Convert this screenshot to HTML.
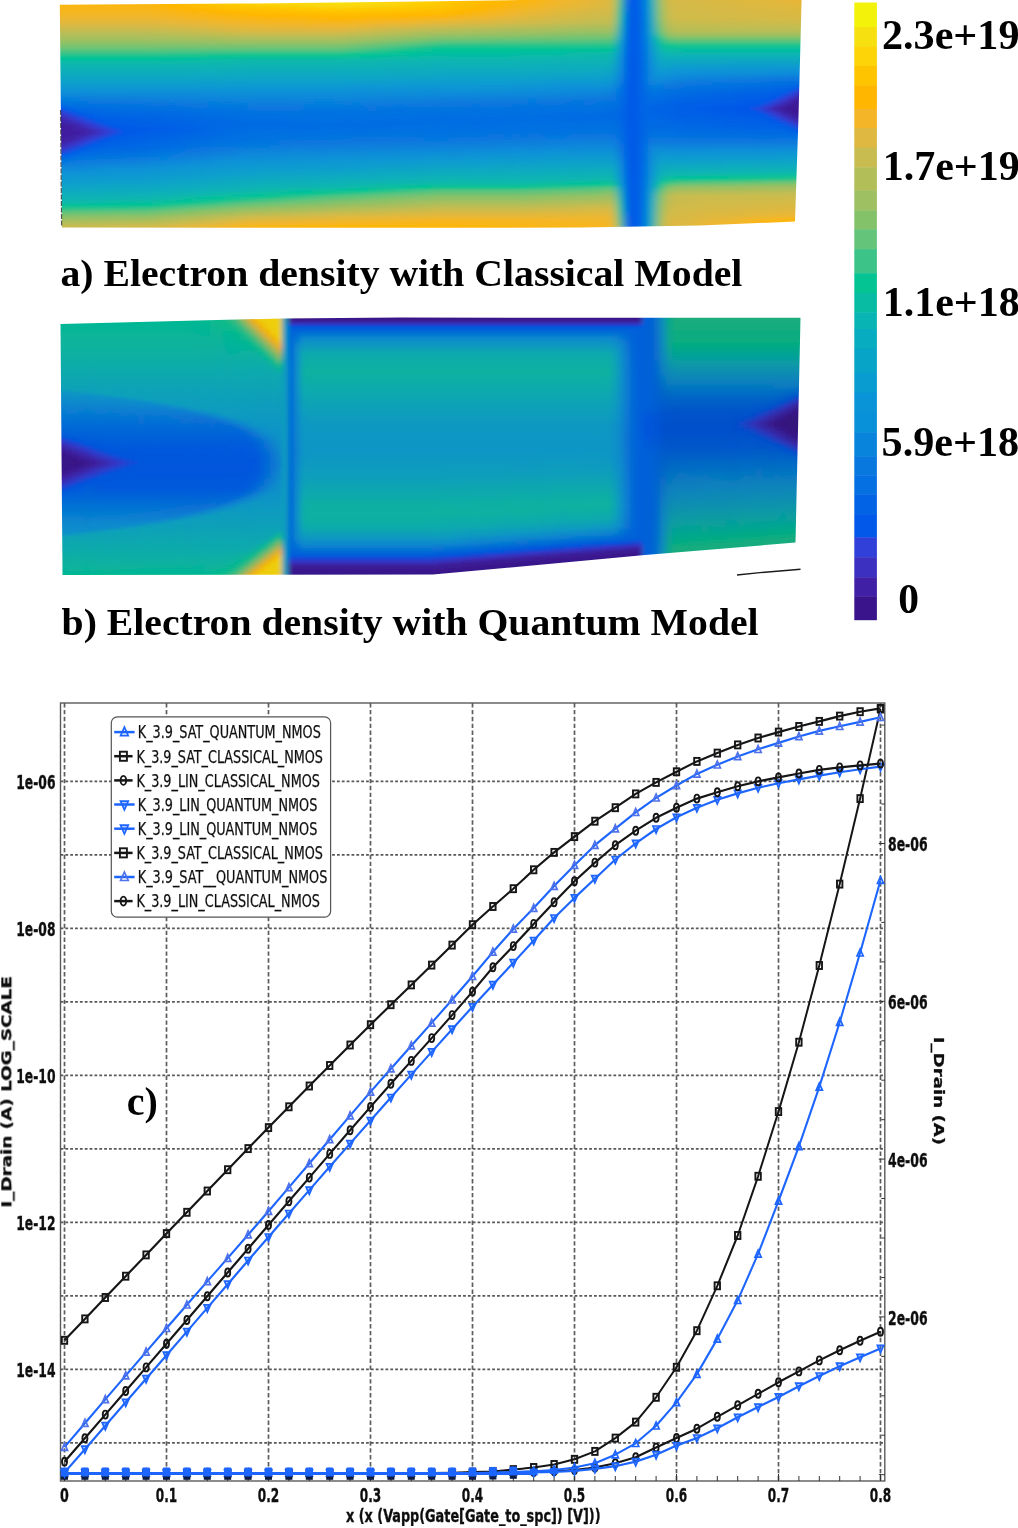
<!DOCTYPE html>
<html lang="en"><head><meta charset="utf-8"><title>Electron density and I-V characteristics</title>
<style>html,body{margin:0;padding:0;background:#fff}svg{display:block}</style></head>
<body>
<svg width="1018" height="1528" viewBox="0 0 1018 1528">
<defs><linearGradient id="a0" x2="0" y2="1"><stop offset="0" stop-color="#fcb60c"/><stop offset=".026" stop-color="#fcb60c"/><stop offset=".077" stop-color="#f1b62b"/><stop offset=".115" stop-color="#dcb842"/><stop offset=".141" stop-color="#c3bc52"/><stop offset=".179" stop-color="#a0c061"/><stop offset=".205" stop-color="#7cc36e"/><stop offset=".218" stop-color="#66c479"/><stop offset=".231" stop-color="#4ac483"/><stop offset=".256" stop-color="#05c397"/><stop offset=".282" stop-color="#08b7ae"/><stop offset=".359" stop-color="#08a1cb"/><stop offset=".397" stop-color="#0892d7"/><stop offset=".423" stop-color="#0882dc"/><stop offset=".462" stop-color="#0259e8"/><stop offset=".474" stop-color="#303fd7"/><stop offset=".487" stop-color="#3c30c1"/><stop offset=".5" stop-color="#3f26ae"/><stop offset=".513" stop-color="#4020a3"/><stop offset=".59" stop-color="#3f1ea0"/><stop offset=".628" stop-color="#3f1fa1"/><stop offset=".641" stop-color="#3f23aa"/><stop offset=".654" stop-color="#3d2cba"/><stop offset=".667" stop-color="#343acf"/><stop offset=".679" stop-color="#0d52e4"/><stop offset=".692" stop-color="#0264e4"/><stop offset=".731" stop-color="#088ada"/><stop offset=".756" stop-color="#0893d6"/><stop offset=".821" stop-color="#08a8c4"/><stop offset=".872" stop-color="#08b8ac"/><stop offset=".885" stop-color="#06c09c"/><stop offset=".897" stop-color="#20c48e"/><stop offset=".91" stop-color="#50c481"/><stop offset=".923" stop-color="#71c374"/><stop offset=".936" stop-color="#8cc168"/><stop offset=".949" stop-color="#a1c060"/><stop offset=".974" stop-color="#c3bc52"/><stop offset=".987" stop-color="#cfbb4b"/><stop offset="1" stop-color="#cfbb4b"/></linearGradient>
<linearGradient id="a1" x2="0" y2="1"><stop offset="0" stop-color="#fcb60c"/><stop offset=".026" stop-color="#fcb60c"/><stop offset=".077" stop-color="#f1b62b"/><stop offset=".115" stop-color="#dcb842"/><stop offset=".141" stop-color="#c3bc52"/><stop offset=".179" stop-color="#a0c061"/><stop offset=".205" stop-color="#7cc36e"/><stop offset=".218" stop-color="#66c479"/><stop offset=".231" stop-color="#4ac483"/><stop offset=".256" stop-color="#05c397"/><stop offset=".282" stop-color="#08b7ae"/><stop offset=".359" stop-color="#08a1cb"/><stop offset=".397" stop-color="#0892d7"/><stop offset=".449" stop-color="#0571e1"/><stop offset=".462" stop-color="#0265e4"/><stop offset=".474" stop-color="#0557e7"/><stop offset=".487" stop-color="#313ed5"/><stop offset=".5" stop-color="#3c31c1"/><stop offset=".513" stop-color="#3e27b0"/><stop offset=".526" stop-color="#4020a5"/><stop offset=".551" stop-color="#3f1ea0"/><stop offset=".615" stop-color="#401fa2"/><stop offset=".641" stop-color="#3d2dbb"/><stop offset=".654" stop-color="#3539ce"/><stop offset=".667" stop-color="#144fe2"/><stop offset=".679" stop-color="#0261e5"/><stop offset=".692" stop-color="#046fe2"/><stop offset=".718" stop-color="#0881dc"/><stop offset=".744" stop-color="#0891d8"/><stop offset=".795" stop-color="#08a0cc"/><stop offset=".859" stop-color="#08b4b4"/><stop offset=".872" stop-color="#08b8ac"/><stop offset=".885" stop-color="#06c09c"/><stop offset=".897" stop-color="#20c48e"/><stop offset=".91" stop-color="#50c481"/><stop offset=".923" stop-color="#71c374"/><stop offset=".936" stop-color="#8cc168"/><stop offset=".949" stop-color="#a1c060"/><stop offset=".974" stop-color="#c3bc52"/><stop offset=".987" stop-color="#cfbb4b"/><stop offset="1" stop-color="#cfbb4b"/></linearGradient>
<linearGradient id="a2" x2="0" y2="1"><stop offset="0" stop-color="#fcb60c"/><stop offset=".026" stop-color="#fcb60c"/><stop offset=".077" stop-color="#f1b62b"/><stop offset=".115" stop-color="#dcb842"/><stop offset=".141" stop-color="#c3bc52"/><stop offset=".179" stop-color="#a0c061"/><stop offset=".205" stop-color="#7cc36e"/><stop offset=".218" stop-color="#66c479"/><stop offset=".231" stop-color="#4ac483"/><stop offset=".256" stop-color="#05c397"/><stop offset=".282" stop-color="#08b7ae"/><stop offset=".359" stop-color="#08a1cb"/><stop offset=".397" stop-color="#0892d7"/><stop offset=".462" stop-color="#046ee2"/><stop offset=".474" stop-color="#0262e5"/><stop offset=".487" stop-color="#0c53e5"/><stop offset=".5" stop-color="#323ed4"/><stop offset=".513" stop-color="#3b32c3"/><stop offset=".538" stop-color="#4021a6"/><stop offset=".551" stop-color="#3f1ea0"/><stop offset=".603" stop-color="#4020a3"/><stop offset=".615" stop-color="#3f25ad"/><stop offset=".641" stop-color="#353acf"/><stop offset=".654" stop-color="#1a4ce0"/><stop offset=".667" stop-color="#025fe6"/><stop offset=".692" stop-color="#0674e0"/><stop offset=".744" stop-color="#0891d8"/><stop offset=".808" stop-color="#08a4c8"/><stop offset=".859" stop-color="#08b4b3"/><stop offset=".872" stop-color="#08b8ab"/><stop offset=".885" stop-color="#06c09b"/><stop offset=".897" stop-color="#22c48e"/><stop offset=".91" stop-color="#51c481"/><stop offset=".923" stop-color="#72c373"/><stop offset=".949" stop-color="#a2c060"/><stop offset=".974" stop-color="#c4bc51"/><stop offset=".987" stop-color="#d0bb4a"/><stop offset="1" stop-color="#d0bb4a"/></linearGradient>
<linearGradient id="a3" x2="0" y2="1"><stop offset="0" stop-color="#fcb60c"/><stop offset=".026" stop-color="#fcb60c"/><stop offset=".077" stop-color="#f1b62b"/><stop offset=".115" stop-color="#dcb842"/><stop offset=".141" stop-color="#c3bc52"/><stop offset=".179" stop-color="#a0c061"/><stop offset=".205" stop-color="#7cc36e"/><stop offset=".218" stop-color="#66c479"/><stop offset=".231" stop-color="#4ac483"/><stop offset=".256" stop-color="#05c397"/><stop offset=".282" stop-color="#08b7ae"/><stop offset=".359" stop-color="#08a1cb"/><stop offset=".397" stop-color="#0892d7"/><stop offset=".449" stop-color="#0675e0"/><stop offset=".474" stop-color="#036ae3"/><stop offset=".487" stop-color="#025fe6"/><stop offset=".5" stop-color="#1150e3"/><stop offset=".513" stop-color="#313fd6"/><stop offset=".538" stop-color="#3e29b4"/><stop offset=".551" stop-color="#4022a7"/><stop offset=".577" stop-color="#3f1ea0"/><stop offset=".59" stop-color="#4020a5"/><stop offset=".603" stop-color="#3e26af"/><stop offset=".615" stop-color="#3c30bf"/><stop offset=".628" stop-color="#343bd0"/><stop offset=".641" stop-color="#1a4bdf"/><stop offset=".654" stop-color="#025ce7"/><stop offset=".679" stop-color="#0571e1"/><stop offset=".705" stop-color="#087bdd"/><stop offset=".744" stop-color="#0891d7"/><stop offset=".795" stop-color="#08a0cc"/><stop offset=".859" stop-color="#08b5b3"/><stop offset=".872" stop-color="#08b9aa"/><stop offset=".885" stop-color="#06c19b"/><stop offset=".897" stop-color="#24c48d"/><stop offset=".91" stop-color="#52c480"/><stop offset=".923" stop-color="#73c373"/><stop offset=".949" stop-color="#a3c060"/><stop offset=".974" stop-color="#c5bc51"/><stop offset=".987" stop-color="#d1ba49"/><stop offset="1" stop-color="#d1ba49"/></linearGradient>
<linearGradient id="a4" x2="0" y2="1"><stop offset="0" stop-color="#fcb60c"/><stop offset=".026" stop-color="#fcb60c"/><stop offset=".077" stop-color="#f1b62b"/><stop offset=".115" stop-color="#dcb842"/><stop offset=".141" stop-color="#c3bc52"/><stop offset=".179" stop-color="#a0c061"/><stop offset=".205" stop-color="#7cc36e"/><stop offset=".218" stop-color="#66c479"/><stop offset=".231" stop-color="#4ac483"/><stop offset=".256" stop-color="#05c397"/><stop offset=".282" stop-color="#08b7ae"/><stop offset=".359" stop-color="#08a1cb"/><stop offset=".397" stop-color="#0892d7"/><stop offset=".449" stop-color="#0675e0"/><stop offset=".487" stop-color="#0265e4"/><stop offset=".5" stop-color="#025ce7"/><stop offset=".513" stop-color="#1051e3"/><stop offset=".526" stop-color="#313fd7"/><stop offset=".551" stop-color="#3d2ab6"/><stop offset=".564" stop-color="#3f23a9"/><stop offset=".577" stop-color="#4021a6"/><stop offset=".59" stop-color="#3e28b1"/><stop offset=".615" stop-color="#333cd2"/><stop offset=".628" stop-color="#1a4ce0"/><stop offset=".641" stop-color="#025be7"/><stop offset=".667" stop-color="#036de3"/><stop offset=".705" stop-color="#087ddd"/><stop offset=".744" stop-color="#0892d7"/><stop offset=".795" stop-color="#08a1cb"/><stop offset=".859" stop-color="#08b5b2"/><stop offset=".872" stop-color="#08b9a9"/><stop offset=".885" stop-color="#05c19a"/><stop offset=".897" stop-color="#26c48d"/><stop offset=".91" stop-color="#53c480"/><stop offset=".936" stop-color="#8ec167"/><stop offset=".974" stop-color="#c6bc51"/><stop offset=".987" stop-color="#d2ba49"/><stop offset="1" stop-color="#d2ba49"/></linearGradient>
<linearGradient id="a5" x2="0" y2="1"><stop offset="0" stop-color="#fcb60c"/><stop offset=".026" stop-color="#fcb60c"/><stop offset=".077" stop-color="#f1b62b"/><stop offset=".115" stop-color="#dcb842"/><stop offset=".141" stop-color="#c3bc52"/><stop offset=".179" stop-color="#a0c061"/><stop offset=".205" stop-color="#7cc36e"/><stop offset=".218" stop-color="#66c479"/><stop offset=".231" stop-color="#4ac483"/><stop offset=".256" stop-color="#05c397"/><stop offset=".282" stop-color="#08b7ae"/><stop offset=".359" stop-color="#08a1cb"/><stop offset=".397" stop-color="#0892d7"/><stop offset=".449" stop-color="#0775df"/><stop offset=".513" stop-color="#025ce7"/><stop offset=".526" stop-color="#1051e3"/><stop offset=".538" stop-color="#3040d8"/><stop offset=".564" stop-color="#3d2bb7"/><stop offset=".577" stop-color="#3e29b3"/><stop offset=".59" stop-color="#3b32c3"/><stop offset=".603" stop-color="#323dd3"/><stop offset=".615" stop-color="#184de0"/><stop offset=".628" stop-color="#025ae7"/><stop offset=".718" stop-color="#0886db"/><stop offset=".744" stop-color="#0892d7"/><stop offset=".808" stop-color="#08a5c7"/><stop offset=".859" stop-color="#08b5b2"/><stop offset=".872" stop-color="#08baa9"/><stop offset=".885" stop-color="#05c199"/><stop offset=".897" stop-color="#28c48c"/><stop offset=".91" stop-color="#54c480"/><stop offset=".936" stop-color="#8fc167"/><stop offset=".974" stop-color="#c7bc50"/><stop offset=".987" stop-color="#d3ba48"/><stop offset="1" stop-color="#d3ba48"/></linearGradient>
<linearGradient id="a6" x2="0" y2="1"><stop offset="0" stop-color="#fcb60c"/><stop offset=".026" stop-color="#fcb60c"/><stop offset=".077" stop-color="#f1b62b"/><stop offset=".115" stop-color="#dcb842"/><stop offset=".141" stop-color="#c3bc52"/><stop offset=".179" stop-color="#a0c061"/><stop offset=".205" stop-color="#7cc36e"/><stop offset=".218" stop-color="#66c479"/><stop offset=".231" stop-color="#4ac483"/><stop offset=".256" stop-color="#05c397"/><stop offset=".282" stop-color="#08b7ae"/><stop offset=".359" stop-color="#08a1cb"/><stop offset=".397" stop-color="#0892d7"/><stop offset=".449" stop-color="#0775df"/><stop offset=".526" stop-color="#025be7"/><stop offset=".538" stop-color="#1051e3"/><stop offset=".551" stop-color="#2f41d8"/><stop offset=".564" stop-color="#3836c8"/><stop offset=".577" stop-color="#3a33c4"/><stop offset=".59" stop-color="#323ed4"/><stop offset=".603" stop-color="#174de1"/><stop offset=".615" stop-color="#025ae7"/><stop offset=".705" stop-color="#087fdd"/><stop offset=".731" stop-color="#088fd8"/><stop offset=".795" stop-color="#08a1cb"/><stop offset=".846" stop-color="#08b1b8"/><stop offset=".872" stop-color="#08baa8"/><stop offset=".885" stop-color="#05c298"/><stop offset=".897" stop-color="#2ac48c"/><stop offset=".91" stop-color="#55c47f"/><stop offset=".923" stop-color="#75c371"/><stop offset=".949" stop-color="#a4bf5f"/><stop offset=".974" stop-color="#c8bc50"/><stop offset=".987" stop-color="#d4ba47"/><stop offset="1" stop-color="#d4ba47"/></linearGradient>
<linearGradient id="a7" x2="0" y2="1"><stop offset="0" stop-color="#fcb60c"/><stop offset=".026" stop-color="#fcb60c"/><stop offset=".077" stop-color="#f1b62b"/><stop offset=".115" stop-color="#dcb842"/><stop offset=".141" stop-color="#c3bc52"/><stop offset=".179" stop-color="#a0c061"/><stop offset=".205" stop-color="#7cc36e"/><stop offset=".218" stop-color="#66c479"/><stop offset=".231" stop-color="#4ac483"/><stop offset=".256" stop-color="#05c397"/><stop offset=".282" stop-color="#08b7ae"/><stop offset=".359" stop-color="#08a1cb"/><stop offset=".397" stop-color="#0892d7"/><stop offset=".449" stop-color="#0776df"/><stop offset=".513" stop-color="#0261e5"/><stop offset=".538" stop-color="#025be7"/><stop offset=".551" stop-color="#1150e3"/><stop offset=".564" stop-color="#2e41d9"/><stop offset=".577" stop-color="#313ed6"/><stop offset=".59" stop-color="#164ee1"/><stop offset=".603" stop-color="#025ae7"/><stop offset=".679" stop-color="#0674e0"/><stop offset=".731" stop-color="#0890d8"/><stop offset=".782" stop-color="#089ece"/><stop offset=".859" stop-color="#08b6b1"/><stop offset=".872" stop-color="#08bba7"/><stop offset=".885" stop-color="#05c298"/><stop offset=".91" stop-color="#56c47f"/><stop offset=".923" stop-color="#76c371"/><stop offset=".949" stop-color="#a5bf5f"/><stop offset=".974" stop-color="#c9bc4f"/><stop offset=".987" stop-color="#d6ba46"/><stop offset="1" stop-color="#d6ba46"/></linearGradient>
<linearGradient id="a8" x2="0" y2="1"><stop offset="0" stop-color="#fcb60c"/><stop offset=".026" stop-color="#fcb60c"/><stop offset=".077" stop-color="#f1b62b"/><stop offset=".115" stop-color="#dcb842"/><stop offset=".141" stop-color="#c3bc52"/><stop offset=".179" stop-color="#a0c061"/><stop offset=".205" stop-color="#7cc36e"/><stop offset=".218" stop-color="#66c479"/><stop offset=".231" stop-color="#4ac483"/><stop offset=".256" stop-color="#05c397"/><stop offset=".282" stop-color="#08b7ae"/><stop offset=".359" stop-color="#08a1cb"/><stop offset=".397" stop-color="#0892d7"/><stop offset=".449" stop-color="#0776df"/><stop offset=".513" stop-color="#0262e5"/><stop offset=".551" stop-color="#025ae7"/><stop offset=".564" stop-color="#1250e2"/><stop offset=".577" stop-color="#164ee1"/><stop offset=".59" stop-color="#025ae7"/><stop offset=".654" stop-color="#036be3"/><stop offset=".705" stop-color="#0881dc"/><stop offset=".731" stop-color="#0890d8"/><stop offset=".782" stop-color="#089ece"/><stop offset=".859" stop-color="#08b6b1"/><stop offset=".885" stop-color="#05c297"/><stop offset=".91" stop-color="#57c47e"/><stop offset=".923" stop-color="#77c371"/><stop offset=".936" stop-color="#91c166"/><stop offset=".974" stop-color="#cabc4e"/><stop offset=".987" stop-color="#d7b945"/><stop offset="1" stop-color="#d7b945"/></linearGradient>
<linearGradient id="a9" x2="0" y2="1"><stop offset="0" stop-color="#fcb60c"/><stop offset=".026" stop-color="#fcb60c"/><stop offset=".077" stop-color="#f1b62b"/><stop offset=".115" stop-color="#dcb842"/><stop offset=".141" stop-color="#c3bc52"/><stop offset=".179" stop-color="#a0c061"/><stop offset=".205" stop-color="#7cc36e"/><stop offset=".218" stop-color="#66c479"/><stop offset=".231" stop-color="#4ac483"/><stop offset=".256" stop-color="#05c397"/><stop offset=".282" stop-color="#08b7ae"/><stop offset=".359" stop-color="#08a1cb"/><stop offset=".397" stop-color="#0892d7"/><stop offset=".449" stop-color="#0776df"/><stop offset=".513" stop-color="#0262e5"/><stop offset=".577" stop-color="#0259e8"/><stop offset=".641" stop-color="#0367e3"/><stop offset=".705" stop-color="#0883dc"/><stop offset=".731" stop-color="#0891d8"/><stop offset=".808" stop-color="#08a6c6"/><stop offset=".859" stop-color="#08b6b0"/><stop offset=".885" stop-color="#05c396"/><stop offset=".91" stop-color="#59c47e"/><stop offset=".923" stop-color="#78c370"/><stop offset=".949" stop-color="#a6bf5e"/><stop offset=".974" stop-color="#cbbb4e"/><stop offset=".987" stop-color="#d8b944"/><stop offset="1" stop-color="#d8b944"/></linearGradient>
<linearGradient id="a10" x2="0" y2="1"><stop offset="0" stop-color="#fcb60c"/><stop offset=".026" stop-color="#fcb60c"/><stop offset=".077" stop-color="#f1b62b"/><stop offset=".115" stop-color="#dcb842"/><stop offset=".141" stop-color="#c3bc52"/><stop offset=".179" stop-color="#a0c061"/><stop offset=".205" stop-color="#7cc36e"/><stop offset=".218" stop-color="#66c479"/><stop offset=".231" stop-color="#4ac483"/><stop offset=".256" stop-color="#05c397"/><stop offset=".282" stop-color="#08b7ae"/><stop offset=".359" stop-color="#08a1cb"/><stop offset=".397" stop-color="#0892d7"/><stop offset=".449" stop-color="#0776df"/><stop offset=".513" stop-color="#0263e4"/><stop offset=".564" stop-color="#025ae7"/><stop offset=".641" stop-color="#0368e3"/><stop offset=".692" stop-color="#087cdd"/><stop offset=".731" stop-color="#0891d7"/><stop offset=".782" stop-color="#089fcd"/><stop offset=".859" stop-color="#08b6b0"/><stop offset=".885" stop-color="#04c396"/><stop offset=".897" stop-color="#32c48a"/><stop offset=".91" stop-color="#5ac47e"/><stop offset=".936" stop-color="#92c166"/><stop offset=".974" stop-color="#ccbb4d"/><stop offset=".987" stop-color="#d9b944"/><stop offset="1" stop-color="#d9b944"/></linearGradient>
<linearGradient id="a11" x2="0" y2="1"><stop offset="0" stop-color="#fcb60c"/><stop offset=".026" stop-color="#fcb60c"/><stop offset=".077" stop-color="#f1b62b"/><stop offset=".115" stop-color="#dcb842"/><stop offset=".141" stop-color="#c3bc52"/><stop offset=".179" stop-color="#a0c061"/><stop offset=".205" stop-color="#7cc36e"/><stop offset=".218" stop-color="#66c479"/><stop offset=".231" stop-color="#4ac483"/><stop offset=".256" stop-color="#05c397"/><stop offset=".282" stop-color="#08b7ae"/><stop offset=".359" stop-color="#08a1cb"/><stop offset=".397" stop-color="#0892d7"/><stop offset=".449" stop-color="#0777df"/><stop offset=".513" stop-color="#0263e4"/><stop offset=".564" stop-color="#025be7"/><stop offset=".641" stop-color="#0369e3"/><stop offset=".692" stop-color="#087ddd"/><stop offset=".718" stop-color="#088dd9"/><stop offset=".782" stop-color="#089fcd"/><stop offset=".846" stop-color="#08b3b6"/><stop offset=".872" stop-color="#08bca3"/><stop offset=".885" stop-color="#04c495"/><stop offset=".897" stop-color="#34c48a"/><stop offset=".91" stop-color="#5bc47d"/><stop offset=".936" stop-color="#93c165"/><stop offset=".974" stop-color="#cdbb4c"/><stop offset=".987" stop-color="#dab943"/><stop offset="1" stop-color="#dab943"/></linearGradient>
<linearGradient id="a12" x2="0" y2="1"><stop offset="0" stop-color="#fcb60c"/><stop offset=".026" stop-color="#fcb60c"/><stop offset=".077" stop-color="#f1b62b"/><stop offset=".115" stop-color="#dcb842"/><stop offset=".141" stop-color="#c3bc52"/><stop offset=".179" stop-color="#a0c061"/><stop offset=".205" stop-color="#7cc36e"/><stop offset=".218" stop-color="#66c479"/><stop offset=".231" stop-color="#4ac483"/><stop offset=".256" stop-color="#05c397"/><stop offset=".282" stop-color="#08b7ae"/><stop offset=".359" stop-color="#08a1cb"/><stop offset=".397" stop-color="#0892d7"/><stop offset=".462" stop-color="#0673e0"/><stop offset=".513" stop-color="#0264e4"/><stop offset=".564" stop-color="#025be7"/><stop offset=".641" stop-color="#036ae3"/><stop offset=".692" stop-color="#087fdd"/><stop offset=".731" stop-color="#0892d7"/><stop offset=".808" stop-color="#08a7c5"/><stop offset=".859" stop-color="#08b7af"/><stop offset=".885" stop-color="#04c494"/><stop offset=".897" stop-color="#36c489"/><stop offset=".91" stop-color="#5cc47d"/><stop offset=".936" stop-color="#93c165"/><stop offset=".974" stop-color="#cebb4b"/><stop offset=".987" stop-color="#dcb842"/><stop offset="1" stop-color="#dcb842"/></linearGradient>
<linearGradient id="a13" x2="0" y2="1"><stop offset="0" stop-color="#fdb606"/><stop offset=".026" stop-color="#fdb607"/><stop offset=".077" stop-color="#f3b629"/><stop offset=".115" stop-color="#ddb841"/><stop offset=".154" stop-color="#b8bd56"/><stop offset=".179" stop-color="#a0c061"/><stop offset=".205" stop-color="#7cc36e"/><stop offset=".218" stop-color="#66c479"/><stop offset=".231" stop-color="#4ac483"/><stop offset=".256" stop-color="#05c297"/><stop offset=".282" stop-color="#08b7ae"/><stop offset=".359" stop-color="#08a1cb"/><stop offset=".397" stop-color="#0892d7"/><stop offset=".449" stop-color="#0877de"/><stop offset=".513" stop-color="#0264e4"/><stop offset=".564" stop-color="#025de6"/><stop offset=".641" stop-color="#036ce3"/><stop offset=".692" stop-color="#0880dd"/><stop offset=".718" stop-color="#088fd8"/><stop offset=".782" stop-color="#08a0cc"/><stop offset=".846" stop-color="#08b4b4"/><stop offset=".872" stop-color="#07bea0"/><stop offset=".885" stop-color="#0cc492"/><stop offset=".897" stop-color="#3ec487"/><stop offset=".91" stop-color="#62c47b"/><stop offset=".923" stop-color="#7fc26c"/><stop offset=".936" stop-color="#98c064"/><stop offset=".974" stop-color="#d1ba49"/><stop offset=".987" stop-color="#deb840"/><stop offset="1" stop-color="#deb840"/></linearGradient>
<linearGradient id="a14" x2="0" y2="1"><stop offset="0" stop-color="#ffb700"/><stop offset=".026" stop-color="#ffb601"/><stop offset=".077" stop-color="#f4b627"/><stop offset=".115" stop-color="#deb840"/><stop offset=".141" stop-color="#c7bc51"/><stop offset=".179" stop-color="#a1c061"/><stop offset=".205" stop-color="#7cc26e"/><stop offset=".231" stop-color="#49c483"/><stop offset=".256" stop-color="#05c298"/><stop offset=".282" stop-color="#08b7af"/><stop offset=".359" stop-color="#08a1cb"/><stop offset=".397" stop-color="#0892d7"/><stop offset=".423" stop-color="#0886db"/><stop offset=".449" stop-color="#0877de"/><stop offset=".513" stop-color="#0265e4"/><stop offset=".564" stop-color="#025ee6"/><stop offset=".641" stop-color="#046de2"/><stop offset=".731" stop-color="#0893d7"/><stop offset=".821" stop-color="#08adbf"/><stop offset=".859" stop-color="#08b9aa"/><stop offset=".872" stop-color="#06bf9d"/><stop offset=".885" stop-color="#17c490"/><stop offset=".897" stop-color="#45c485"/><stop offset=".91" stop-color="#69c478"/><stop offset=".923" stop-color="#85c26a"/><stop offset=".936" stop-color="#9dc062"/><stop offset=".974" stop-color="#d5ba47"/><stop offset=".987" stop-color="#e1b83c"/><stop offset="1" stop-color="#e1b83c"/></linearGradient>
<linearGradient id="a15" x2="0" y2="1"><stop offset="0" stop-color="#ffb900"/><stop offset=".026" stop-color="#ffb800"/><stop offset=".038" stop-color="#feb604"/><stop offset=".09" stop-color="#efb62e"/><stop offset=".115" stop-color="#e0b83e"/><stop offset=".141" stop-color="#c8bc50"/><stop offset=".179" stop-color="#a1c060"/><stop offset=".205" stop-color="#7cc26e"/><stop offset=".231" stop-color="#49c484"/><stop offset=".244" stop-color="#23c48d"/><stop offset=".256" stop-color="#05c298"/><stop offset=".282" stop-color="#08b7af"/><stop offset=".359" stop-color="#08a1cb"/><stop offset=".397" stop-color="#0892d7"/><stop offset=".462" stop-color="#0674e0"/><stop offset=".526" stop-color="#0264e4"/><stop offset=".564" stop-color="#025fe6"/><stop offset=".641" stop-color="#046fe2"/><stop offset=".692" stop-color="#0884dc"/><stop offset=".718" stop-color="#0891d8"/><stop offset=".795" stop-color="#08a6c6"/><stop offset=".833" stop-color="#08b1b8"/><stop offset=".859" stop-color="#08bba7"/><stop offset=".872" stop-color="#05c19a"/><stop offset=".885" stop-color="#22c48e"/><stop offset=".897" stop-color="#4dc482"/><stop offset=".91" stop-color="#6fc375"/><stop offset=".936" stop-color="#a2c060"/><stop offset=".962" stop-color="#c6bc51"/><stop offset=".974" stop-color="#d8b944"/><stop offset=".987" stop-color="#e5b739"/><stop offset="1" stop-color="#e5b739"/></linearGradient>
<linearGradient id="a16" x2="0" y2="1"><stop offset="0" stop-color="#ffbc00"/><stop offset=".038" stop-color="#ffb600"/><stop offset=".09" stop-color="#f0b62c"/><stop offset=".128" stop-color="#d6b946"/><stop offset=".179" stop-color="#a2c060"/><stop offset=".205" stop-color="#7cc26e"/><stop offset=".218" stop-color="#65c479"/><stop offset=".231" stop-color="#48c484"/><stop offset=".244" stop-color="#22c48e"/><stop offset=".256" stop-color="#05c299"/><stop offset=".282" stop-color="#08b6af"/><stop offset=".359" stop-color="#08a1cb"/><stop offset=".397" stop-color="#0892d7"/><stop offset=".449" stop-color="#0878de"/><stop offset=".513" stop-color="#0267e4"/><stop offset=".564" stop-color="#0261e5"/><stop offset=".628" stop-color="#036ce3"/><stop offset=".679" stop-color="#087edd"/><stop offset=".718" stop-color="#0891d7"/><stop offset=".782" stop-color="#08a3c9"/><stop offset=".833" stop-color="#08b2b6"/><stop offset=".859" stop-color="#08bca4"/><stop offset=".872" stop-color="#05c397"/><stop offset=".897" stop-color="#55c47f"/><stop offset=".91" stop-color="#75c372"/><stop offset=".936" stop-color="#a6bf5e"/><stop offset=".962" stop-color="#cabc4f"/><stop offset=".974" stop-color="#dcb842"/><stop offset=".987" stop-color="#e8b735"/><stop offset="1" stop-color="#e8b735"/></linearGradient>
<linearGradient id="a17" x2="0" y2="1"><stop offset="0" stop-color="#ffbf00"/><stop offset=".026" stop-color="#ffbd00"/><stop offset=".038" stop-color="#ffb800"/><stop offset=".051" stop-color="#fdb606"/><stop offset=".09" stop-color="#f2b62a"/><stop offset=".128" stop-color="#d7b945"/><stop offset=".179" stop-color="#a2c060"/><stop offset=".205" stop-color="#7dc26e"/><stop offset=".231" stop-color="#48c484"/><stop offset=".244" stop-color="#20c48e"/><stop offset=".256" stop-color="#05c199"/><stop offset=".282" stop-color="#08b6b0"/><stop offset=".359" stop-color="#08a1cb"/><stop offset=".397" stop-color="#0892d7"/><stop offset=".462" stop-color="#0775df"/><stop offset=".513" stop-color="#0367e3"/><stop offset=".564" stop-color="#0262e5"/><stop offset=".654" stop-color="#0775df"/><stop offset=".718" stop-color="#0892d7"/><stop offset=".808" stop-color="#08abc1"/><stop offset=".833" stop-color="#08b3b5"/><stop offset=".872" stop-color="#05c494"/><stop offset=".885" stop-color="#37c489"/><stop offset=".897" stop-color="#5cc47d"/><stop offset=".91" stop-color="#7bc36e"/><stop offset=".936" stop-color="#aabf5c"/><stop offset=".962" stop-color="#cebb4c"/><stop offset=".974" stop-color="#dfb83f"/><stop offset=".987" stop-color="#ebb732"/><stop offset="1" stop-color="#ebb732"/></linearGradient>
<linearGradient id="a18" x2="0" y2="1"><stop offset="0" stop-color="#ffc100"/><stop offset=".026" stop-color="#ffbf00"/><stop offset=".051" stop-color="#feb602"/><stop offset=".09" stop-color="#f3b629"/><stop offset=".128" stop-color="#d9b944"/><stop offset=".179" stop-color="#a3bf5f"/><stop offset=".205" stop-color="#7dc26e"/><stop offset=".218" stop-color="#65c47a"/><stop offset=".231" stop-color="#47c484"/><stop offset=".244" stop-color="#1fc48e"/><stop offset=".256" stop-color="#05c19a"/><stop offset=".282" stop-color="#08b6b0"/><stop offset=".359" stop-color="#08a1cb"/><stop offset=".397" stop-color="#0892d7"/><stop offset=".462" stop-color="#0776df"/><stop offset=".513" stop-color="#0368e3"/><stop offset=".564" stop-color="#0263e4"/><stop offset=".654" stop-color="#0776df"/><stop offset=".705" stop-color="#0890d8"/><stop offset=".769" stop-color="#08a1cb"/><stop offset=".821" stop-color="#08b0ba"/><stop offset=".833" stop-color="#08b4b4"/><stop offset=".859" stop-color="#06bf9e"/><stop offset=".872" stop-color="#0fc492"/><stop offset=".885" stop-color="#40c487"/><stop offset=".897" stop-color="#64c47a"/><stop offset=".91" stop-color="#81c26b"/><stop offset=".936" stop-color="#aebe5a"/><stop offset=".962" stop-color="#d2ba49"/><stop offset=".974" stop-color="#e3b83b"/><stop offset=".987" stop-color="#eeb72f"/><stop offset="1" stop-color="#eeb72f"/></linearGradient>
<linearGradient id="a19" x2="0" y2="1"><stop offset="0" stop-color="#ffc400"/><stop offset=".026" stop-color="#ffc100"/><stop offset=".051" stop-color="#ffb700"/><stop offset=".09" stop-color="#f4b626"/><stop offset=".128" stop-color="#dbb942"/><stop offset=".154" stop-color="#c1bd53"/><stop offset=".192" stop-color="#92c166"/><stop offset=".218" stop-color="#65c47a"/><stop offset=".231" stop-color="#46c484"/><stop offset=".244" stop-color="#1dc48f"/><stop offset=".256" stop-color="#06c19a"/><stop offset=".269" stop-color="#08baa8"/><stop offset=".321" stop-color="#08adbf"/><stop offset=".397" stop-color="#0892d7"/><stop offset=".462" stop-color="#0776df"/><stop offset=".526" stop-color="#0367e3"/><stop offset=".577" stop-color="#0266e4"/><stop offset=".654" stop-color="#0878de"/><stop offset=".718" stop-color="#0893d7"/><stop offset=".821" stop-color="#08b1b9"/><stop offset=".833" stop-color="#08b5b2"/><stop offset=".859" stop-color="#06c09b"/><stop offset=".872" stop-color="#1ac48f"/><stop offset=".885" stop-color="#48c484"/><stop offset=".91" stop-color="#87c269"/><stop offset=".936" stop-color="#b2be58"/><stop offset=".962" stop-color="#d6b946"/><stop offset=".974" stop-color="#e6b737"/><stop offset=".987" stop-color="#f1b62b"/><stop offset="1" stop-color="#f1b62b"/></linearGradient>
<linearGradient id="a20" x2="0" y2="1"><stop offset="0" stop-color="#ffc702"/><stop offset=".026" stop-color="#ffc400"/><stop offset=".051" stop-color="#ffb800"/><stop offset=".077" stop-color="#f9b615"/><stop offset=".103" stop-color="#efb62e"/><stop offset=".141" stop-color="#d2ba48"/><stop offset=".192" stop-color="#92c166"/><stop offset=".205" stop-color="#7dc26d"/><stop offset=".231" stop-color="#46c485"/><stop offset=".244" stop-color="#1cc48f"/><stop offset=".256" stop-color="#06c19b"/><stop offset=".269" stop-color="#08baa9"/><stop offset=".321" stop-color="#08adbf"/><stop offset=".397" stop-color="#0892d7"/><stop offset=".474" stop-color="#0573e1"/><stop offset=".526" stop-color="#0368e3"/><stop offset=".577" stop-color="#0368e3"/><stop offset=".641" stop-color="#0775df"/><stop offset=".705" stop-color="#0891d8"/><stop offset=".795" stop-color="#08aac2"/><stop offset=".833" stop-color="#08b6b0"/><stop offset=".859" stop-color="#05c298"/><stop offset=".872" stop-color="#25c48d"/><stop offset=".885" stop-color="#50c481"/><stop offset=".91" stop-color="#8cc168"/><stop offset=".949" stop-color="#cabc4e"/><stop offset=".962" stop-color="#dab943"/><stop offset=".974" stop-color="#eab733"/><stop offset=".987" stop-color="#f4b627"/><stop offset="1" stop-color="#f4b627"/></linearGradient>
<linearGradient id="a21" x2="0" y2="1"><stop offset="0" stop-color="#feca03"/><stop offset=".026" stop-color="#ffc601"/><stop offset=".051" stop-color="#ffba00"/><stop offset=".064" stop-color="#feb605"/><stop offset=".103" stop-color="#f0b62c"/><stop offset=".141" stop-color="#d4ba47"/><stop offset=".192" stop-color="#93c165"/><stop offset=".218" stop-color="#64c47a"/><stop offset=".231" stop-color="#45c485"/><stop offset=".244" stop-color="#1ac48f"/><stop offset=".256" stop-color="#06c09c"/><stop offset=".282" stop-color="#08b6b1"/><stop offset=".346" stop-color="#08a6c6"/><stop offset=".397" stop-color="#0892d7"/><stop offset=".474" stop-color="#0673e0"/><stop offset=".526" stop-color="#0369e3"/><stop offset=".577" stop-color="#0369e3"/><stop offset=".654" stop-color="#087bde"/><stop offset=".692" stop-color="#088ed9"/><stop offset=".756" stop-color="#08a0cc"/><stop offset=".821" stop-color="#08b2b6"/><stop offset=".846" stop-color="#07bda2"/><stop offset=".859" stop-color="#04c395"/><stop offset=".885" stop-color="#57c47e"/><stop offset=".897" stop-color="#77c371"/><stop offset=".923" stop-color="#a7bf5d"/><stop offset=".949" stop-color="#cfbb4b"/><stop offset=".962" stop-color="#deb840"/><stop offset=".974" stop-color="#edb72f"/><stop offset=".987" stop-color="#f6b622"/><stop offset="1" stop-color="#f6b622"/></linearGradient>
<linearGradient id="a22" x2="0" y2="1"><stop offset="0" stop-color="#fecd05"/><stop offset=".026" stop-color="#fec902"/><stop offset=".064" stop-color="#ffb602"/><stop offset=".103" stop-color="#f2b62a"/><stop offset=".141" stop-color="#d6b946"/><stop offset=".167" stop-color="#b5be57"/><stop offset=".192" stop-color="#93c165"/><stop offset=".218" stop-color="#64c47a"/><stop offset=".231" stop-color="#45c485"/><stop offset=".244" stop-color="#19c490"/><stop offset=".256" stop-color="#06c09c"/><stop offset=".269" stop-color="#08b9aa"/><stop offset=".359" stop-color="#08a0cc"/><stop offset=".397" stop-color="#0892d7"/><stop offset=".474" stop-color="#0674e0"/><stop offset=".538" stop-color="#0368e3"/><stop offset=".615" stop-color="#0571e1"/><stop offset=".654" stop-color="#087cdd"/><stop offset=".692" stop-color="#088fd8"/><stop offset=".744" stop-color="#089dcf"/><stop offset=".821" stop-color="#08b3b5"/><stop offset=".859" stop-color="#0ac493"/><stop offset=".872" stop-color="#3ac488"/><stop offset=".885" stop-color="#5fc47c"/><stop offset=".91" stop-color="#96c164"/><stop offset=".949" stop-color="#d4ba48"/><stop offset=".974" stop-color="#f1b62b"/><stop offset=".987" stop-color="#f7b61c"/><stop offset="1" stop-color="#f7b61c"/></linearGradient>
<linearGradient id="a23" x2="0" y2="1"><stop offset="0" stop-color="#fdd006"/><stop offset=".026" stop-color="#fecb04"/><stop offset=".051" stop-color="#ffbd00"/><stop offset=".064" stop-color="#ffb700"/><stop offset=".103" stop-color="#f4b629"/><stop offset=".141" stop-color="#d8b944"/><stop offset=".167" stop-color="#b6be57"/><stop offset=".192" stop-color="#94c165"/><stop offset=".218" stop-color="#64c47a"/><stop offset=".231" stop-color="#44c485"/><stop offset=".244" stop-color="#17c490"/><stop offset=".256" stop-color="#06c09d"/><stop offset=".269" stop-color="#08b9ab"/><stop offset=".333" stop-color="#08a9c3"/><stop offset=".397" stop-color="#0892d7"/><stop offset=".474" stop-color="#0674e0"/><stop offset=".538" stop-color="#0369e3"/><stop offset=".615" stop-color="#0572e1"/><stop offset=".667" stop-color="#0884dc"/><stop offset=".692" stop-color="#0890d8"/><stop offset=".744" stop-color="#089ece"/><stop offset=".821" stop-color="#08b4b4"/><stop offset=".846" stop-color="#06c09d"/><stop offset=".859" stop-color="#14c491"/><stop offset=".872" stop-color="#43c486"/><stop offset=".885" stop-color="#66c479"/><stop offset=".897" stop-color="#83c26b"/><stop offset=".936" stop-color="#c5bc51"/><stop offset=".949" stop-color="#d8b944"/><stop offset=".974" stop-color="#f4b627"/><stop offset=".987" stop-color="#f9b616"/><stop offset="1" stop-color="#f9b616"/></linearGradient>
<linearGradient id="a24" x2="0" y2="1"><stop offset="0" stop-color="#fdd308"/><stop offset=".026" stop-color="#fece05"/><stop offset=".064" stop-color="#ffb800"/><stop offset=".077" stop-color="#fcb609"/><stop offset=".103" stop-color="#f5b626"/><stop offset=".141" stop-color="#dab943"/><stop offset=".154" stop-color="#c9bc50"/><stop offset=".192" stop-color="#94c165"/><stop offset=".218" stop-color="#64c47a"/><stop offset=".231" stop-color="#43c485"/><stop offset=".244" stop-color="#16c490"/><stop offset=".256" stop-color="#06bf9d"/><stop offset=".269" stop-color="#08b8ab"/><stop offset=".333" stop-color="#08a9c3"/><stop offset=".397" stop-color="#0892d7"/><stop offset=".487" stop-color="#0571e1"/><stop offset=".551" stop-color="#036ae3"/><stop offset=".615" stop-color="#0673e0"/><stop offset=".692" stop-color="#0891d8"/><stop offset=".756" stop-color="#08a2ca"/><stop offset=".821" stop-color="#08b5b2"/><stop offset=".833" stop-color="#08baa9"/><stop offset=".846" stop-color="#06c19b"/><stop offset=".859" stop-color="#1ec48e"/><stop offset=".872" stop-color="#4ac483"/><stop offset=".885" stop-color="#6cc376"/><stop offset=".91" stop-color="#a0c061"/><stop offset=".936" stop-color="#cabc4f"/><stop offset=".949" stop-color="#ddb841"/><stop offset=".974" stop-color="#f6b621"/><stop offset=".987" stop-color="#fbb610"/><stop offset="1" stop-color="#fbb610"/></linearGradient>
<linearGradient id="a25" x2="0" y2="1"><stop offset="0" stop-color="#fcd609"/><stop offset=".013" stop-color="#fcd609"/><stop offset=".064" stop-color="#ffb900"/><stop offset=".077" stop-color="#fdb607"/><stop offset=".103" stop-color="#f5b624"/><stop offset=".141" stop-color="#dcb842"/><stop offset=".154" stop-color="#cabc4f"/><stop offset=".192" stop-color="#94c165"/><stop offset=".218" stop-color="#64c47a"/><stop offset=".231" stop-color="#43c486"/><stop offset=".244" stop-color="#15c490"/><stop offset=".256" stop-color="#06bf9e"/><stop offset=".269" stop-color="#08b8ac"/><stop offset=".359" stop-color="#08a0cc"/><stop offset=".397" stop-color="#0892d7"/><stop offset=".474" stop-color="#0775df"/><stop offset=".538" stop-color="#036be3"/><stop offset=".615" stop-color="#0674e0"/><stop offset=".692" stop-color="#0891d7"/><stop offset=".744" stop-color="#089fcd"/><stop offset=".821" stop-color="#08b6b0"/><stop offset=".833" stop-color="#08bba7"/><stop offset=".846" stop-color="#05c298"/><stop offset=".859" stop-color="#28c48c"/><stop offset=".872" stop-color="#51c481"/><stop offset=".885" stop-color="#72c373"/><stop offset=".91" stop-color="#a3bf5f"/><stop offset=".936" stop-color="#cebb4c"/><stop offset=".962" stop-color="#eeb72f"/><stop offset=".987" stop-color="#fcb60c"/><stop offset="1" stop-color="#fcb60c"/></linearGradient>
<linearGradient id="a26" x2="0" y2="1"><stop offset="0" stop-color="#fbd70a"/><stop offset=".026" stop-color="#fdd207"/><stop offset=".051" stop-color="#ffc000"/><stop offset=".077" stop-color="#feb605"/><stop offset=".115" stop-color="#eeb72f"/><stop offset=".141" stop-color="#dcb842"/><stop offset=".154" stop-color="#cabc4f"/><stop offset=".192" stop-color="#94c165"/><stop offset=".218" stop-color="#64c47a"/><stop offset=".231" stop-color="#43c486"/><stop offset=".244" stop-color="#15c490"/><stop offset=".256" stop-color="#06bf9e"/><stop offset=".269" stop-color="#08b8ac"/><stop offset=".359" stop-color="#08a0cc"/><stop offset=".397" stop-color="#0892d7"/><stop offset=".474" stop-color="#0775df"/><stop offset=".538" stop-color="#036be3"/><stop offset=".615" stop-color="#0674e0"/><stop offset=".692" stop-color="#0891d7"/><stop offset=".744" stop-color="#08a0cc"/><stop offset=".808" stop-color="#08b3b6"/><stop offset=".833" stop-color="#08bca4"/><stop offset=".846" stop-color="#04c396"/><stop offset=".859" stop-color="#30c48b"/><stop offset=".872" stop-color="#56c47f"/><stop offset=".885" stop-color="#75c371"/><stop offset=".91" stop-color="#a5bf5e"/><stop offset=".936" stop-color="#cfbb4b"/><stop offset=".949" stop-color="#e1b83c"/><stop offset=".962" stop-color="#eeb72e"/><stop offset=".974" stop-color="#f8b61a"/><stop offset=".987" stop-color="#fcb60b"/><stop offset="1" stop-color="#fcb60b"/></linearGradient>
<linearGradient id="a27" x2="0" y2="1"><stop offset="0" stop-color="#fbd80b"/><stop offset=".026" stop-color="#fdd308"/><stop offset=".051" stop-color="#ffc100"/><stop offset=".077" stop-color="#feb603"/><stop offset=".103" stop-color="#f6b622"/><stop offset=".141" stop-color="#dcb842"/><stop offset=".154" stop-color="#cabc4f"/><stop offset=".192" stop-color="#94c165"/><stop offset=".218" stop-color="#64c47a"/><stop offset=".231" stop-color="#43c486"/><stop offset=".244" stop-color="#15c490"/><stop offset=".256" stop-color="#06bf9e"/><stop offset=".269" stop-color="#08b8ac"/><stop offset=".359" stop-color="#08a0cc"/><stop offset=".397" stop-color="#0892d7"/><stop offset=".474" stop-color="#0775df"/><stop offset=".538" stop-color="#036be3"/><stop offset=".615" stop-color="#0675e0"/><stop offset=".692" stop-color="#0892d7"/><stop offset=".769" stop-color="#08a8c4"/><stop offset=".821" stop-color="#08b8ad"/><stop offset=".846" stop-color="#07c493"/><stop offset=".859" stop-color="#38c489"/><stop offset=".872" stop-color="#5cc47d"/><stop offset=".897" stop-color="#92c166"/><stop offset=".936" stop-color="#d1ba4a"/><stop offset=".962" stop-color="#efb62d"/><stop offset=".974" stop-color="#f8b619"/><stop offset=".987" stop-color="#fcb60a"/><stop offset="1" stop-color="#fcb60a"/></linearGradient>
<linearGradient id="a28" x2="0" y2="1"><stop offset="0" stop-color="#fad90c"/><stop offset=".026" stop-color="#fdd508"/><stop offset=".051" stop-color="#ffc200"/><stop offset=".077" stop-color="#ffb602"/><stop offset=".115" stop-color="#efb62e"/><stop offset=".141" stop-color="#dcb842"/><stop offset=".154" stop-color="#cabc4f"/><stop offset=".192" stop-color="#94c165"/><stop offset=".218" stop-color="#64c47a"/><stop offset=".231" stop-color="#43c486"/><stop offset=".244" stop-color="#15c490"/><stop offset=".256" stop-color="#06bf9e"/><stop offset=".269" stop-color="#08b8ac"/><stop offset=".359" stop-color="#08a0cc"/><stop offset=".397" stop-color="#0892d7"/><stop offset=".474" stop-color="#0775df"/><stop offset=".538" stop-color="#036be3"/><stop offset=".615" stop-color="#0675e0"/><stop offset=".692" stop-color="#0892d7"/><stop offset=".744" stop-color="#08a1cb"/><stop offset=".808" stop-color="#08b4b4"/><stop offset=".833" stop-color="#07be9f"/><stop offset=".846" stop-color="#10c491"/><stop offset=".859" stop-color="#3fc487"/><stop offset=".872" stop-color="#61c47b"/><stop offset=".897" stop-color="#95c165"/><stop offset=".936" stop-color="#d2ba48"/><stop offset=".962" stop-color="#f0b62c"/><stop offset=".974" stop-color="#f8b618"/><stop offset=".987" stop-color="#fdb609"/><stop offset="1" stop-color="#fdb609"/></linearGradient>
<linearGradient id="a29" x2="0" y2="1"><stop offset="0" stop-color="#f9db0c"/><stop offset=".026" stop-color="#fcd609"/><stop offset=".051" stop-color="#ffc300"/><stop offset=".077" stop-color="#ffb600"/><stop offset=".115" stop-color="#efb62d"/><stop offset=".141" stop-color="#dcb842"/><stop offset=".154" stop-color="#cabc4f"/><stop offset=".192" stop-color="#94c165"/><stop offset=".218" stop-color="#64c47a"/><stop offset=".231" stop-color="#43c486"/><stop offset=".244" stop-color="#15c490"/><stop offset=".256" stop-color="#06bf9e"/><stop offset=".269" stop-color="#08b8ac"/><stop offset=".359" stop-color="#08a0cc"/><stop offset=".397" stop-color="#0892d7"/><stop offset=".474" stop-color="#0775df"/><stop offset=".538" stop-color="#036be3"/><stop offset=".628" stop-color="#0878de"/><stop offset=".692" stop-color="#0892d7"/><stop offset=".756" stop-color="#08a5c7"/><stop offset=".808" stop-color="#08b4b3"/><stop offset=".833" stop-color="#06c09d"/><stop offset=".846" stop-color="#19c48f"/><stop offset=".859" stop-color="#44c485"/><stop offset=".872" stop-color="#65c479"/><stop offset=".885" stop-color="#80c26c"/><stop offset=".91" stop-color="#abbf5b"/><stop offset=".936" stop-color="#d4ba47"/><stop offset=".962" stop-color="#f1b62b"/><stop offset=".987" stop-color="#fdb607"/><stop offset="1" stop-color="#fdb607"/></linearGradient>
<linearGradient id="a30" x2="0" y2="1"><stop offset="0" stop-color="#f8dc0d"/><stop offset=".026" stop-color="#fbd70a"/><stop offset=".051" stop-color="#ffc400"/><stop offset=".077" stop-color="#ffb700"/><stop offset=".103" stop-color="#f7b61e"/><stop offset=".128" stop-color="#e6b738"/><stop offset=".141" stop-color="#dcb842"/><stop offset=".154" stop-color="#cabc4f"/><stop offset=".192" stop-color="#94c165"/><stop offset=".218" stop-color="#64c47a"/><stop offset=".231" stop-color="#43c486"/><stop offset=".244" stop-color="#15c490"/><stop offset=".256" stop-color="#06bf9e"/><stop offset=".269" stop-color="#08b8ac"/><stop offset=".359" stop-color="#08a0cc"/><stop offset=".397" stop-color="#0892d7"/><stop offset=".474" stop-color="#0775df"/><stop offset=".551" stop-color="#036ce3"/><stop offset=".615" stop-color="#0775df"/><stop offset=".679" stop-color="#0890d8"/><stop offset=".731" stop-color="#089dcf"/><stop offset=".808" stop-color="#08b5b2"/><stop offset=".833" stop-color="#06c19b"/><stop offset=".846" stop-color="#22c48e"/><stop offset=".859" stop-color="#4ac483"/><stop offset=".872" stop-color="#6ac477"/><stop offset=".885" stop-color="#84c26a"/><stop offset=".923" stop-color="#c2bd52"/><stop offset=".949" stop-color="#e5b738"/><stop offset=".962" stop-color="#f2b62a"/><stop offset=".974" stop-color="#f9b615"/><stop offset=".987" stop-color="#fdb606"/><stop offset="1" stop-color="#fdb606"/></linearGradient>
<linearGradient id="a31" x2="0" y2="1"><stop offset="0" stop-color="#f8dd0e"/><stop offset=".026" stop-color="#fbd80b"/><stop offset=".051" stop-color="#ffc500"/><stop offset=".077" stop-color="#ffb700"/><stop offset=".115" stop-color="#f0b62d"/><stop offset=".141" stop-color="#dcb842"/><stop offset=".154" stop-color="#cabc4f"/><stop offset=".192" stop-color="#94c165"/><stop offset=".218" stop-color="#64c47a"/><stop offset=".231" stop-color="#43c486"/><stop offset=".244" stop-color="#15c490"/><stop offset=".256" stop-color="#06bf9e"/><stop offset=".269" stop-color="#08b8ac"/><stop offset=".359" stop-color="#08a0cc"/><stop offset=".397" stop-color="#0892d7"/><stop offset=".474" stop-color="#0775df"/><stop offset=".551" stop-color="#036ce3"/><stop offset=".615" stop-color="#0776df"/><stop offset=".679" stop-color="#0890d8"/><stop offset=".731" stop-color="#089dcf"/><stop offset=".808" stop-color="#08b5b1"/><stop offset=".833" stop-color="#05c298"/><stop offset=".859" stop-color="#50c481"/><stop offset=".885" stop-color="#87c269"/><stop offset=".923" stop-color="#c4bc51"/><stop offset=".949" stop-color="#e6b737"/><stop offset=".962" stop-color="#f3b62a"/><stop offset=".974" stop-color="#f9b614"/><stop offset=".987" stop-color="#feb605"/><stop offset="1" stop-color="#feb605"/></linearGradient>
<linearGradient id="a32" x2="0" y2="1"><stop offset="0" stop-color="#f7de0f"/><stop offset=".026" stop-color="#fad90b"/><stop offset=".051" stop-color="#ffc601"/><stop offset=".077" stop-color="#ffb800"/><stop offset=".103" stop-color="#f7b61c"/><stop offset=".128" stop-color="#e6b737"/><stop offset=".141" stop-color="#dcb842"/><stop offset=".154" stop-color="#cabc4f"/><stop offset=".192" stop-color="#94c165"/><stop offset=".218" stop-color="#64c47a"/><stop offset=".231" stop-color="#43c486"/><stop offset=".244" stop-color="#15c490"/><stop offset=".256" stop-color="#06bf9e"/><stop offset=".269" stop-color="#08b8ac"/><stop offset=".359" stop-color="#08a0cc"/><stop offset=".397" stop-color="#0892d7"/><stop offset=".487" stop-color="#0572e1"/><stop offset=".551" stop-color="#036ce3"/><stop offset=".628" stop-color="#0879de"/><stop offset=".679" stop-color="#0890d8"/><stop offset=".731" stop-color="#089ece"/><stop offset=".795" stop-color="#08b2b7"/><stop offset=".808" stop-color="#08b6b0"/><stop offset=".833" stop-color="#04c396"/><stop offset=".846" stop-color="#34c48a"/><stop offset=".859" stop-color="#56c47f"/><stop offset=".885" stop-color="#8ac268"/><stop offset=".923" stop-color="#c6bc51"/><stop offset=".949" stop-color="#e7b736"/><stop offset=".962" stop-color="#f3b629"/><stop offset=".974" stop-color="#fab613"/><stop offset=".987" stop-color="#feb604"/><stop offset="1" stop-color="#feb604"/></linearGradient>
<linearGradient id="a33" x2="0" y2="1"><stop offset="0" stop-color="#f6e010"/><stop offset=".013" stop-color="#f6e010"/><stop offset=".038" stop-color="#fdd207"/><stop offset=".064" stop-color="#ffbe00"/><stop offset=".077" stop-color="#ffb800"/><stop offset=".09" stop-color="#fcb60a"/><stop offset=".115" stop-color="#f1b62c"/><stop offset=".141" stop-color="#dcb842"/><stop offset=".154" stop-color="#cabc4f"/><stop offset=".192" stop-color="#94c165"/><stop offset=".218" stop-color="#64c47a"/><stop offset=".231" stop-color="#43c486"/><stop offset=".244" stop-color="#15c490"/><stop offset=".256" stop-color="#06bf9e"/><stop offset=".269" stop-color="#08b8ac"/><stop offset=".359" stop-color="#08a0cc"/><stop offset=".397" stop-color="#0892d7"/><stop offset=".487" stop-color="#0572e1"/><stop offset=".551" stop-color="#036ce3"/><stop offset=".628" stop-color="#087ade"/><stop offset=".679" stop-color="#0890d8"/><stop offset=".731" stop-color="#089ece"/><stop offset=".795" stop-color="#08b3b6"/><stop offset=".808" stop-color="#08b6af"/><stop offset=".833" stop-color="#07c493"/><stop offset=".846" stop-color="#3dc488"/><stop offset=".859" stop-color="#5cc47d"/><stop offset=".885" stop-color="#8cc167"/><stop offset=".923" stop-color="#c8bc50"/><stop offset=".936" stop-color="#dbb942"/><stop offset=".962" stop-color="#f4b628"/><stop offset=".974" stop-color="#fab612"/><stop offset=".987" stop-color="#feb603"/><stop offset="1" stop-color="#feb603"/></linearGradient>
<linearGradient id="a34" x2="0" y2="1"><stop offset="0" stop-color="#f6e20f"/><stop offset=".013" stop-color="#f6e20f"/><stop offset=".038" stop-color="#fdd308"/><stop offset=".064" stop-color="#ffbf00"/><stop offset=".077" stop-color="#ffb900"/><stop offset=".09" stop-color="#fdb609"/><stop offset=".115" stop-color="#f1b62b"/><stop offset=".141" stop-color="#dcb842"/><stop offset=".154" stop-color="#cabc4f"/><stop offset=".192" stop-color="#94c165"/><stop offset=".218" stop-color="#64c47a"/><stop offset=".231" stop-color="#43c486"/><stop offset=".244" stop-color="#15c490"/><stop offset=".256" stop-color="#06bf9e"/><stop offset=".269" stop-color="#08b8ac"/><stop offset=".359" stop-color="#08a0cc"/><stop offset=".397" stop-color="#0892d7"/><stop offset=".487" stop-color="#0572e1"/><stop offset=".551" stop-color="#036de3"/><stop offset=".615" stop-color="#0776df"/><stop offset=".692" stop-color="#0893d7"/><stop offset=".782" stop-color="#08afbb"/><stop offset=".808" stop-color="#08b7ae"/><stop offset=".821" stop-color="#07bea0"/><stop offset=".833" stop-color="#0fc492"/><stop offset=".846" stop-color="#43c485"/><stop offset=".859" stop-color="#61c47b"/><stop offset=".885" stop-color="#8fc167"/><stop offset=".923" stop-color="#cabc4e"/><stop offset=".949" stop-color="#e9b734"/><stop offset=".962" stop-color="#f5b626"/><stop offset=".974" stop-color="#fab610"/><stop offset=".987" stop-color="#feb602"/><stop offset="1" stop-color="#feb602"/></linearGradient>
<linearGradient id="a35" x2="0" y2="1"><stop offset="0" stop-color="#f5e30f"/><stop offset=".013" stop-color="#f5e30f"/><stop offset=".038" stop-color="#fdd408"/><stop offset=".064" stop-color="#ffc000"/><stop offset=".077" stop-color="#ffba00"/><stop offset=".09" stop-color="#fdb607"/><stop offset=".115" stop-color="#f1b62b"/><stop offset=".141" stop-color="#dcb842"/><stop offset=".154" stop-color="#cabc4f"/><stop offset=".192" stop-color="#94c165"/><stop offset=".218" stop-color="#64c47a"/><stop offset=".231" stop-color="#43c486"/><stop offset=".244" stop-color="#15c490"/><stop offset=".256" stop-color="#06bf9e"/><stop offset=".269" stop-color="#08b8ac"/><stop offset=".359" stop-color="#08a0cc"/><stop offset=".397" stop-color="#0892d7"/><stop offset=".487" stop-color="#0572e1"/><stop offset=".551" stop-color="#036de3"/><stop offset=".628" stop-color="#087ade"/><stop offset=".679" stop-color="#0891d8"/><stop offset=".731" stop-color="#089fcd"/><stop offset=".795" stop-color="#08b4b5"/><stop offset=".808" stop-color="#08b7ad"/><stop offset=".821" stop-color="#06bf9e"/><stop offset=".833" stop-color="#18c490"/><stop offset=".846" stop-color="#4ac483"/><stop offset=".872" stop-color="#7ec26d"/><stop offset=".923" stop-color="#cdbb4d"/><stop offset=".949" stop-color="#eab733"/><stop offset=".962" stop-color="#f5b625"/><stop offset=".974" stop-color="#fbb60f"/><stop offset=".987" stop-color="#ffb601"/><stop offset="1" stop-color="#ffb601"/></linearGradient>
<linearGradient id="a36" x2="0" y2="1"><stop offset="0" stop-color="#f5e50e"/><stop offset=".013" stop-color="#f5e50e"/><stop offset=".026" stop-color="#f7de0f"/><stop offset=".064" stop-color="#ffc000"/><stop offset=".077" stop-color="#ffba00"/><stop offset=".09" stop-color="#fdb606"/><stop offset=".115" stop-color="#f2b62a"/><stop offset=".141" stop-color="#dcb842"/><stop offset=".154" stop-color="#cabc4f"/><stop offset=".192" stop-color="#94c165"/><stop offset=".218" stop-color="#64c47a"/><stop offset=".231" stop-color="#43c486"/><stop offset=".244" stop-color="#15c490"/><stop offset=".256" stop-color="#06bf9e"/><stop offset=".269" stop-color="#08b8ac"/><stop offset=".359" stop-color="#08a0cc"/><stop offset=".397" stop-color="#0892d7"/><stop offset=".487" stop-color="#0572e1"/><stop offset=".551" stop-color="#046de2"/><stop offset=".615" stop-color="#0777df"/><stop offset=".679" stop-color="#0891d8"/><stop offset=".731" stop-color="#089fcd"/><stop offset=".795" stop-color="#08b4b4"/><stop offset=".808" stop-color="#08b8ac"/><stop offset=".821" stop-color="#06c09c"/><stop offset=".833" stop-color="#20c48e"/><stop offset=".846" stop-color="#50c481"/><stop offset=".872" stop-color="#82c26b"/><stop offset=".923" stop-color="#cfbb4b"/><stop offset=".936" stop-color="#e0b83e"/><stop offset=".962" stop-color="#f5b623"/><stop offset=".974" stop-color="#fbb60e"/><stop offset=".987" stop-color="#ffb600"/><stop offset="1" stop-color="#ffb600"/></linearGradient>
<linearGradient id="a37" x2="0" y2="1"><stop offset="0" stop-color="#f5e30f"/><stop offset=".013" stop-color="#f5e30f"/><stop offset=".038" stop-color="#fdd408"/><stop offset=".064" stop-color="#ffc000"/><stop offset=".077" stop-color="#ffba00"/><stop offset=".09" stop-color="#fdb608"/><stop offset=".115" stop-color="#f0b62d"/><stop offset=".141" stop-color="#d9b944"/><stop offset=".154" stop-color="#c6bc51"/><stop offset=".192" stop-color="#90c166"/><stop offset=".218" stop-color="#5dc47c"/><stop offset=".231" stop-color="#3dc488"/><stop offset=".244" stop-color="#0ec492"/><stop offset=".256" stop-color="#07bf9f"/><stop offset=".269" stop-color="#08b8ad"/><stop offset=".359" stop-color="#08a0cc"/><stop offset=".385" stop-color="#0895d6"/><stop offset=".423" stop-color="#0889da"/><stop offset=".474" stop-color="#0675e0"/><stop offset=".538" stop-color="#036ce3"/><stop offset=".615" stop-color="#0777df"/><stop offset=".679" stop-color="#0891d8"/><stop offset=".731" stop-color="#08a0cc"/><stop offset=".795" stop-color="#08b5b3"/><stop offset=".808" stop-color="#08b9aa"/><stop offset=".821" stop-color="#05c199"/><stop offset=".833" stop-color="#28c48c"/><stop offset=".846" stop-color="#55c47f"/><stop offset=".872" stop-color="#85c26a"/><stop offset=".923" stop-color="#d0bb4a"/><stop offset=".936" stop-color="#e1b83d"/><stop offset=".962" stop-color="#f6b622"/><stop offset=".974" stop-color="#fbb60e"/><stop offset=".987" stop-color="#ffb600"/><stop offset="1" stop-color="#ffb600"/></linearGradient>
<linearGradient id="a38" x2="0" y2="1"><stop offset="0" stop-color="#f6e010"/><stop offset=".026" stop-color="#f9db0d"/><stop offset=".064" stop-color="#ffc000"/><stop offset=".077" stop-color="#ffb900"/><stop offset=".09" stop-color="#fcb60b"/><stop offset=".115" stop-color="#eeb72f"/><stop offset=".141" stop-color="#d5ba46"/><stop offset=".167" stop-color="#b1be59"/><stop offset=".192" stop-color="#8bc168"/><stop offset=".218" stop-color="#57c47f"/><stop offset=".231" stop-color="#36c489"/><stop offset=".244" stop-color="#08c493"/><stop offset=".269" stop-color="#08b7ad"/><stop offset=".346" stop-color="#08a5c7"/><stop offset=".385" stop-color="#0894d6"/><stop offset=".487" stop-color="#0572e1"/><stop offset=".551" stop-color="#046de2"/><stop offset=".615" stop-color="#0877de"/><stop offset=".679" stop-color="#0891d7"/><stop offset=".718" stop-color="#089cd0"/><stop offset=".782" stop-color="#08b1b8"/><stop offset=".808" stop-color="#08baa8"/><stop offset=".821" stop-color="#05c397"/><stop offset=".846" stop-color="#59c47e"/><stop offset=".872" stop-color="#88c269"/><stop offset=".923" stop-color="#d1ba49"/><stop offset=".949" stop-color="#edb730"/><stop offset=".962" stop-color="#f6b621"/><stop offset=".974" stop-color="#fbb60d"/><stop offset=".987" stop-color="#ffb600"/><stop offset="1" stop-color="#ffb600"/></linearGradient>
<linearGradient id="a39" x2="0" y2="1"><stop offset="0" stop-color="#f7de0f"/><stop offset=".026" stop-color="#fada0c"/><stop offset=".064" stop-color="#ffbf00"/><stop offset=".077" stop-color="#ffb800"/><stop offset=".09" stop-color="#fbb60d"/><stop offset=".103" stop-color="#f6b621"/><stop offset=".128" stop-color="#dfb83f"/><stop offset=".154" stop-color="#c0bd53"/><stop offset=".179" stop-color="#9dc062"/><stop offset=".192" stop-color="#87c269"/><stop offset=".218" stop-color="#50c481"/><stop offset=".231" stop-color="#2ec48b"/><stop offset=".244" stop-color="#04c495"/><stop offset=".269" stop-color="#08b7ae"/><stop offset=".346" stop-color="#08a4c8"/><stop offset=".385" stop-color="#0894d6"/><stop offset=".423" stop-color="#0888db"/><stop offset=".474" stop-color="#0674e0"/><stop offset=".551" stop-color="#046de2"/><stop offset=".615" stop-color="#0877de"/><stop offset=".679" stop-color="#0891d7"/><stop offset=".731" stop-color="#08a1cb"/><stop offset=".782" stop-color="#08b2b8"/><stop offset=".808" stop-color="#08bba5"/><stop offset=".821" stop-color="#04c494"/><stop offset=".833" stop-color="#37c489"/><stop offset=".846" stop-color="#5ec47c"/><stop offset=".872" stop-color="#8bc168"/><stop offset=".91" stop-color="#c1bd53"/><stop offset=".936" stop-color="#e2b83b"/><stop offset=".962" stop-color="#f6b620"/><stop offset=".974" stop-color="#fbb60d"/><stop offset=".987" stop-color="#ffb600"/><stop offset="1" stop-color="#ffb600"/></linearGradient>
<linearGradient id="a40" x2="0" y2="1"><stop offset="0" stop-color="#f8dd0e"/><stop offset=".026" stop-color="#fbd80b"/><stop offset=".064" stop-color="#ffbf00"/><stop offset=".077" stop-color="#ffb800"/><stop offset=".09" stop-color="#fbb60f"/><stop offset=".103" stop-color="#f5b624"/><stop offset=".128" stop-color="#dcb841"/><stop offset=".154" stop-color="#bdbd54"/><stop offset=".179" stop-color="#99c064"/><stop offset=".192" stop-color="#82c26b"/><stop offset=".218" stop-color="#49c483"/><stop offset=".244" stop-color="#05c397"/><stop offset=".269" stop-color="#08b7ae"/><stop offset=".346" stop-color="#08a4c8"/><stop offset=".385" stop-color="#0894d6"/><stop offset=".41" stop-color="#088ed9"/><stop offset=".462" stop-color="#0877de"/><stop offset=".538" stop-color="#036ce3"/><stop offset=".615" stop-color="#0877de"/><stop offset=".679" stop-color="#0892d7"/><stop offset=".731" stop-color="#08a2ca"/><stop offset=".782" stop-color="#08b2b7"/><stop offset=".808" stop-color="#08bca3"/><stop offset=".821" stop-color="#0cc492"/><stop offset=".833" stop-color="#3ec487"/><stop offset=".846" stop-color="#62c47b"/><stop offset=".872" stop-color="#8ec167"/><stop offset=".923" stop-color="#d4ba48"/><stop offset=".949" stop-color="#efb62e"/><stop offset=".974" stop-color="#fcb60c"/><stop offset=".987" stop-color="#ffb600"/><stop offset="1" stop-color="#ffb600"/></linearGradient>
<linearGradient id="a41" x2="0" y2="1"><stop offset="0" stop-color="#f9db0d"/><stop offset=".026" stop-color="#fbd70a"/><stop offset=".064" stop-color="#ffbe00"/><stop offset=".077" stop-color="#ffb700"/><stop offset=".103" stop-color="#f4b626"/><stop offset=".128" stop-color="#dab943"/><stop offset=".154" stop-color="#b9bd55"/><stop offset=".179" stop-color="#94c165"/><stop offset=".192" stop-color="#7dc26e"/><stop offset=".218" stop-color="#43c486"/><stop offset=".231" stop-color="#1ec48e"/><stop offset=".244" stop-color="#05c298"/><stop offset=".269" stop-color="#08b7af"/><stop offset=".346" stop-color="#08a4c8"/><stop offset=".385" stop-color="#0894d6"/><stop offset=".474" stop-color="#0674e0"/><stop offset=".538" stop-color="#036ce3"/><stop offset=".615" stop-color="#0878de"/><stop offset=".679" stop-color="#0892d7"/><stop offset=".731" stop-color="#08a3c9"/><stop offset=".782" stop-color="#08b2b6"/><stop offset=".808" stop-color="#07bda1"/><stop offset=".821" stop-color="#15c490"/><stop offset=".833" stop-color="#44c485"/><stop offset=".846" stop-color="#66c479"/><stop offset=".859" stop-color="#7dc26d"/><stop offset=".91" stop-color="#c4bc51"/><stop offset=".936" stop-color="#e4b73a"/><stop offset=".949" stop-color="#f0b62d"/><stop offset=".974" stop-color="#fcb60c"/><stop offset=".987" stop-color="#ffb600"/><stop offset="1" stop-color="#ffb600"/></linearGradient>
<linearGradient id="a42" x2="0" y2="1"><stop offset="0" stop-color="#fad90b"/><stop offset=".026" stop-color="#fcd509"/><stop offset=".064" stop-color="#ffbe00"/><stop offset=".077" stop-color="#ffb700"/><stop offset=".103" stop-color="#f3b629"/><stop offset=".128" stop-color="#d7b945"/><stop offset=".154" stop-color="#b6be57"/><stop offset=".179" stop-color="#90c166"/><stop offset=".205" stop-color="#5ac47e"/><stop offset=".218" stop-color="#3cc488"/><stop offset=".231" stop-color="#16c490"/><stop offset=".244" stop-color="#06c19a"/><stop offset=".269" stop-color="#08b6af"/><stop offset=".346" stop-color="#08a3c9"/><stop offset=".397" stop-color="#0891d7"/><stop offset=".462" stop-color="#0777df"/><stop offset=".538" stop-color="#036ce3"/><stop offset=".615" stop-color="#0878de"/><stop offset=".679" stop-color="#0892d7"/><stop offset=".731" stop-color="#08a3c9"/><stop offset=".782" stop-color="#08b3b6"/><stop offset=".808" stop-color="#07bf9f"/><stop offset=".821" stop-color="#1ec48e"/><stop offset=".833" stop-color="#49c483"/><stop offset=".846" stop-color="#6ac477"/><stop offset=".859" stop-color="#81c26b"/><stop offset=".91" stop-color="#c6bc51"/><stop offset=".936" stop-color="#e5b739"/><stop offset=".962" stop-color="#f7b61d"/><stop offset=".974" stop-color="#fcb60c"/><stop offset=".987" stop-color="#ffb600"/><stop offset="1" stop-color="#ffb600"/></linearGradient>
<linearGradient id="a43" x2="0" y2="1"><stop offset="0" stop-color="#fbd80a"/><stop offset=".026" stop-color="#fdd408"/><stop offset=".051" stop-color="#ffc500"/><stop offset=".077" stop-color="#ffb600"/><stop offset=".103" stop-color="#f2b62a"/><stop offset=".128" stop-color="#d4ba47"/><stop offset=".154" stop-color="#b3be58"/><stop offset=".179" stop-color="#8cc168"/><stop offset=".192" stop-color="#72c373"/><stop offset=".218" stop-color="#33c48a"/><stop offset=".231" stop-color="#0ec492"/><stop offset=".244" stop-color="#06c09c"/><stop offset=".269" stop-color="#08b6b0"/><stop offset=".346" stop-color="#08a3c9"/><stop offset=".385" stop-color="#0894d6"/><stop offset=".474" stop-color="#0673e0"/><stop offset=".538" stop-color="#036ce3"/><stop offset=".615" stop-color="#0878de"/><stop offset=".679" stop-color="#0892d7"/><stop offset=".769" stop-color="#08b0ba"/><stop offset=".795" stop-color="#08b8ac"/><stop offset=".808" stop-color="#06c09d"/><stop offset=".821" stop-color="#27c48d"/><stop offset=".833" stop-color="#4fc482"/><stop offset=".846" stop-color="#6ec375"/><stop offset=".859" stop-color="#85c26a"/><stop offset=".91" stop-color="#c8bc50"/><stop offset=".936" stop-color="#e6b738"/><stop offset=".949" stop-color="#f1b62b"/><stop offset=".974" stop-color="#fcb60b"/><stop offset=".987" stop-color="#ffb600"/><stop offset="1" stop-color="#ffb600"/></linearGradient>
<linearGradient id="a44" x2="0" y2="1"><stop offset="0" stop-color="#fcd609"/><stop offset=".026" stop-color="#fdd207"/><stop offset=".064" stop-color="#ffbd00"/><stop offset=".077" stop-color="#feb602"/><stop offset=".103" stop-color="#f0b62c"/><stop offset=".128" stop-color="#d2ba49"/><stop offset=".167" stop-color="#9ec062"/><stop offset=".179" stop-color="#88c269"/><stop offset=".192" stop-color="#6dc376"/><stop offset=".231" stop-color="#06c494"/><stop offset=".269" stop-color="#08b6b0"/><stop offset=".346" stop-color="#08a3c9"/><stop offset=".385" stop-color="#0894d6"/><stop offset=".474" stop-color="#0673e0"/><stop offset=".538" stop-color="#036de3"/><stop offset=".615" stop-color="#0878de"/><stop offset=".667" stop-color="#0890d8"/><stop offset=".705" stop-color="#089bd1"/><stop offset=".782" stop-color="#08b4b4"/><stop offset=".795" stop-color="#08b9aa"/><stop offset=".808" stop-color="#06c19a"/><stop offset=".821" stop-color="#30c48b"/><stop offset=".833" stop-color="#54c480"/><stop offset=".846" stop-color="#71c373"/><stop offset=".859" stop-color="#88c269"/><stop offset=".91" stop-color="#cabc4f"/><stop offset=".949" stop-color="#f2b62a"/><stop offset=".974" stop-color="#fcb60b"/><stop offset=".987" stop-color="#ffb600"/><stop offset="1" stop-color="#ffb600"/></linearGradient>
<linearGradient id="a45" x2="0" y2="1"><stop offset="0" stop-color="#fdd408"/><stop offset=".026" stop-color="#fed006"/><stop offset=".064" stop-color="#ffbd00"/><stop offset=".077" stop-color="#feb604"/><stop offset=".103" stop-color="#efb62e"/><stop offset=".128" stop-color="#cfbb4b"/><stop offset=".167" stop-color="#9ac063"/><stop offset=".179" stop-color="#83c26a"/><stop offset=".192" stop-color="#67c478"/><stop offset=".218" stop-color="#21c48e"/><stop offset=".231" stop-color="#04c396"/><stop offset=".269" stop-color="#08b6b1"/><stop offset=".346" stop-color="#08a2ca"/><stop offset=".397" stop-color="#0891d7"/><stop offset=".462" stop-color="#0776df"/><stop offset=".538" stop-color="#036de3"/><stop offset=".615" stop-color="#0878de"/><stop offset=".667" stop-color="#0890d8"/><stop offset=".705" stop-color="#089bd1"/><stop offset=".782" stop-color="#08b4b4"/><stop offset=".795" stop-color="#08b9a9"/><stop offset=".808" stop-color="#05c298"/><stop offset=".821" stop-color="#39c489"/><stop offset=".833" stop-color="#5ac47e"/><stop offset=".859" stop-color="#8bc168"/><stop offset=".91" stop-color="#ccbb4d"/><stop offset=".949" stop-color="#f3b629"/><stop offset=".974" stop-color="#fcb60a"/><stop offset=".987" stop-color="#ffb600"/><stop offset="1" stop-color="#ffb600"/></linearGradient>
<linearGradient id="a46" x2="0" y2="1"><stop offset="0" stop-color="#fdd207"/><stop offset=".026" stop-color="#fece05"/><stop offset=".064" stop-color="#ffbc00"/><stop offset=".077" stop-color="#feb605"/><stop offset=".103" stop-color="#edb730"/><stop offset=".128" stop-color="#ccbb4d"/><stop offset=".167" stop-color="#96c164"/><stop offset=".192" stop-color="#61c47b"/><stop offset=".218" stop-color="#18c490"/><stop offset=".231" stop-color="#05c298"/><stop offset=".269" stop-color="#08b5b1"/><stop offset=".333" stop-color="#08a7c5"/><stop offset=".385" stop-color="#0893d6"/><stop offset=".41" stop-color="#088cd9"/><stop offset=".462" stop-color="#0776df"/><stop offset=".526" stop-color="#036ce3"/><stop offset=".603" stop-color="#0775df"/><stop offset=".679" stop-color="#0893d7"/><stop offset=".782" stop-color="#08b5b3"/><stop offset=".795" stop-color="#08baa8"/><stop offset=".808" stop-color="#05c396"/><stop offset=".821" stop-color="#40c487"/><stop offset=".846" stop-color="#79c370"/><stop offset=".872" stop-color="#a0c061"/><stop offset=".923" stop-color="#dbb842"/><stop offset=".949" stop-color="#f4b628"/><stop offset=".974" stop-color="#fcb60a"/><stop offset=".987" stop-color="#ffb600"/><stop offset="1" stop-color="#ffb600"/></linearGradient>
<linearGradient id="a47" x2="0" y2="1"><stop offset="0" stop-color="#fecf06"/><stop offset=".026" stop-color="#fecc04"/><stop offset=".064" stop-color="#ffbc00"/><stop offset=".077" stop-color="#fdb607"/><stop offset=".09" stop-color="#f6b61f"/><stop offset=".115" stop-color="#dbb942"/><stop offset=".128" stop-color="#cabc4f"/><stop offset=".167" stop-color="#92c166"/><stop offset=".179" stop-color="#79c370"/><stop offset=".192" stop-color="#5ac47d"/><stop offset=".218" stop-color="#0ec492"/><stop offset=".231" stop-color="#06c19a"/><stop offset=".269" stop-color="#08b5b2"/><stop offset=".333" stop-color="#08a7c5"/><stop offset=".385" stop-color="#0893d6"/><stop offset=".41" stop-color="#088cd9"/><stop offset=".449" stop-color="#0879de"/><stop offset=".513" stop-color="#046de2"/><stop offset=".59" stop-color="#0573e1"/><stop offset=".641" stop-color="#0883dc"/><stop offset=".667" stop-color="#0891d8"/><stop offset=".718" stop-color="#08a1cb"/><stop offset=".782" stop-color="#08b5b2"/><stop offset=".795" stop-color="#08bba7"/><stop offset=".808" stop-color="#04c494"/><stop offset=".821" stop-color="#46c484"/><stop offset=".846" stop-color="#7dc26e"/><stop offset=".872" stop-color="#a2c060"/><stop offset=".923" stop-color="#ddb841"/><stop offset=".949" stop-color="#f4b626"/><stop offset=".974" stop-color="#fcb60a"/><stop offset=".987" stop-color="#ffb600"/><stop offset="1" stop-color="#ffb600"/></linearGradient>
<linearGradient id="a48" x2="0" y2="1"><stop offset="0" stop-color="#fecd05"/><stop offset=".026" stop-color="#feca03"/><stop offset=".064" stop-color="#ffbc00"/><stop offset=".077" stop-color="#fdb609"/><stop offset=".09" stop-color="#f6b622"/><stop offset=".103" stop-color="#eab733"/><stop offset=".128" stop-color="#c7bc50"/><stop offset=".154" stop-color="#a4bf5f"/><stop offset=".179" stop-color="#73c372"/><stop offset=".192" stop-color="#53c480"/><stop offset=".218" stop-color="#05c494"/><stop offset=".269" stop-color="#08b5b3"/><stop offset=".333" stop-color="#08a6c6"/><stop offset=".385" stop-color="#0893d6"/><stop offset=".41" stop-color="#088bda"/><stop offset=".462" stop-color="#0775df"/><stop offset=".526" stop-color="#036ce3"/><stop offset=".59" stop-color="#0573e1"/><stop offset=".641" stop-color="#0884dc"/><stop offset=".667" stop-color="#0891d8"/><stop offset=".718" stop-color="#08a2ca"/><stop offset=".782" stop-color="#08b6b1"/><stop offset=".795" stop-color="#08bba6"/><stop offset=".808" stop-color="#0cc492"/><stop offset=".821" stop-color="#4dc482"/><stop offset=".846" stop-color="#80c26c"/><stop offset=".872" stop-color="#a4bf5f"/><stop offset=".91" stop-color="#d2ba49"/><stop offset=".936" stop-color="#eab733"/><stop offset=".949" stop-color="#f5b625"/><stop offset=".974" stop-color="#fcb609"/><stop offset=".987" stop-color="#ffb600"/><stop offset="1" stop-color="#ffb600"/></linearGradient>
<linearGradient id="a49" x2="0" y2="1"><stop offset="0" stop-color="#fecb03"/><stop offset=".026" stop-color="#ffc802"/><stop offset=".064" stop-color="#ffba00"/><stop offset=".077" stop-color="#fcb60c"/><stop offset=".09" stop-color="#f5b625"/><stop offset=".115" stop-color="#d7b945"/><stop offset=".128" stop-color="#c5bc51"/><stop offset=".154" stop-color="#a2c060"/><stop offset=".179" stop-color="#70c374"/><stop offset=".192" stop-color="#50c481"/><stop offset=".205" stop-color="#25c48d"/><stop offset=".218" stop-color="#04c495"/><stop offset=".269" stop-color="#08b5b3"/><stop offset=".346" stop-color="#08a1cb"/><stop offset=".397" stop-color="#0891d8"/><stop offset=".449" stop-color="#0879de"/><stop offset=".513" stop-color="#046de2"/><stop offset=".59" stop-color="#0573e1"/><stop offset=".641" stop-color="#0884dc"/><stop offset=".667" stop-color="#0891d8"/><stop offset=".705" stop-color="#089dcf"/><stop offset=".756" stop-color="#08afbb"/><stop offset=".782" stop-color="#08b6b0"/><stop offset=".795" stop-color="#08bba5"/><stop offset=".808" stop-color="#10c491"/><stop offset=".821" stop-color="#50c481"/><stop offset=".846" stop-color="#82c26b"/><stop offset=".872" stop-color="#a6bf5e"/><stop offset=".91" stop-color="#d3ba48"/><stop offset=".923" stop-color="#deb840"/><stop offset=".949" stop-color="#f5b624"/><stop offset=".974" stop-color="#fcb609"/><stop offset=".987" stop-color="#ffb601"/><stop offset="1" stop-color="#ffb601"/></linearGradient>
<linearGradient id="a50" x2="0" y2="1"><stop offset="0" stop-color="#ffc802"/><stop offset=".038" stop-color="#ffc100"/><stop offset=".064" stop-color="#ffb800"/><stop offset=".077" stop-color="#fab612"/><stop offset=".09" stop-color="#f3b629"/><stop offset=".115" stop-color="#d5ba47"/><stop offset=".154" stop-color="#a1c061"/><stop offset=".179" stop-color="#70c374"/><stop offset=".192" stop-color="#4fc481"/><stop offset=".205" stop-color="#25c48d"/><stop offset=".218" stop-color="#04c495"/><stop offset=".269" stop-color="#08b5b3"/><stop offset=".346" stop-color="#08a1cb"/><stop offset=".397" stop-color="#0891d8"/><stop offset=".449" stop-color="#0878de"/><stop offset=".526" stop-color="#036ce3"/><stop offset=".603" stop-color="#0776df"/><stop offset=".641" stop-color="#0885dc"/><stop offset=".705" stop-color="#089dcf"/><stop offset=".769" stop-color="#08b3b6"/><stop offset=".795" stop-color="#08bba5"/><stop offset=".808" stop-color="#10c491"/><stop offset=".821" stop-color="#50c481"/><stop offset=".846" stop-color="#82c26b"/><stop offset=".872" stop-color="#a6bf5e"/><stop offset=".91" stop-color="#d3ba48"/><stop offset=".923" stop-color="#deb840"/><stop offset=".949" stop-color="#f5b624"/><stop offset=".974" stop-color="#fcb60a"/><stop offset=".987" stop-color="#ffb602"/><stop offset="1" stop-color="#ffb602"/></linearGradient>
<linearGradient id="a51" x2="0" y2="1"><stop offset="0" stop-color="#ffc500"/><stop offset=".051" stop-color="#ffbb00"/><stop offset=".064" stop-color="#ffb601"/><stop offset=".09" stop-color="#f0b62c"/><stop offset=".115" stop-color="#d3ba48"/><stop offset=".154" stop-color="#a0c061"/><stop offset=".167" stop-color="#89c268"/><stop offset=".179" stop-color="#6fc375"/><stop offset=".192" stop-color="#4fc482"/><stop offset=".205" stop-color="#25c48d"/><stop offset=".218" stop-color="#04c495"/><stop offset=".269" stop-color="#08b5b3"/><stop offset=".346" stop-color="#08a1cb"/><stop offset=".397" stop-color="#0891d8"/><stop offset=".449" stop-color="#0878de"/><stop offset=".526" stop-color="#036ce3"/><stop offset=".603" stop-color="#0776df"/><stop offset=".679" stop-color="#0894d6"/><stop offset=".769" stop-color="#08b3b6"/><stop offset=".795" stop-color="#08bba5"/><stop offset=".808" stop-color="#10c491"/><stop offset=".821" stop-color="#50c481"/><stop offset=".846" stop-color="#82c26b"/><stop offset=".872" stop-color="#a6bf5e"/><stop offset=".91" stop-color="#d3ba48"/><stop offset=".923" stop-color="#deb840"/><stop offset=".949" stop-color="#f5b624"/><stop offset=".974" stop-color="#fcb60b"/><stop offset=".987" stop-color="#feb603"/><stop offset="1" stop-color="#feb603"/></linearGradient>
<linearGradient id="a52" x2="0" y2="1"><stop offset="0" stop-color="#ffc200"/><stop offset=".038" stop-color="#ffbc00"/><stop offset=".051" stop-color="#ffb800"/><stop offset=".064" stop-color="#fdb608"/><stop offset=".09" stop-color="#eeb72f"/><stop offset=".115" stop-color="#d1ba49"/><stop offset=".154" stop-color="#9fc062"/><stop offset=".179" stop-color="#6ec375"/><stop offset=".192" stop-color="#4ec482"/><stop offset=".205" stop-color="#25c48d"/><stop offset=".218" stop-color="#04c495"/><stop offset=".269" stop-color="#08b5b3"/><stop offset=".346" stop-color="#08a1cb"/><stop offset=".397" stop-color="#0891d8"/><stop offset=".449" stop-color="#0878de"/><stop offset=".5" stop-color="#046ee2"/><stop offset=".551" stop-color="#046fe2"/><stop offset=".615" stop-color="#087ade"/><stop offset=".667" stop-color="#0891d7"/><stop offset=".705" stop-color="#089ece"/><stop offset=".782" stop-color="#08b6b0"/><stop offset=".795" stop-color="#08bba5"/><stop offset=".808" stop-color="#10c491"/><stop offset=".821" stop-color="#50c481"/><stop offset=".846" stop-color="#82c26b"/><stop offset=".872" stop-color="#a6bf5e"/><stop offset=".91" stop-color="#d3ba48"/><stop offset=".923" stop-color="#deb840"/><stop offset=".949" stop-color="#f5b624"/><stop offset=".974" stop-color="#fcb60c"/><stop offset=".987" stop-color="#feb604"/><stop offset="1" stop-color="#feb604"/></linearGradient>
<linearGradient id="a53" x2="0" y2="1"><stop offset="0" stop-color="#ffc000"/><stop offset=".051" stop-color="#ffb601"/><stop offset=".064" stop-color="#fbb60f"/><stop offset=".077" stop-color="#f5b624"/><stop offset=".103" stop-color="#e0b83e"/><stop offset=".128" stop-color="#bfbd53"/><stop offset=".154" stop-color="#9dc062"/><stop offset=".179" stop-color="#6dc375"/><stop offset=".192" stop-color="#4dc482"/><stop offset=".205" stop-color="#25c48d"/><stop offset=".218" stop-color="#04c495"/><stop offset=".269" stop-color="#08b5b3"/><stop offset=".346" stop-color="#08a1cb"/><stop offset=".397" stop-color="#0890d8"/><stop offset=".462" stop-color="#0674e0"/><stop offset=".538" stop-color="#046de2"/><stop offset=".603" stop-color="#0777df"/><stop offset=".641" stop-color="#0886db"/><stop offset=".667" stop-color="#0892d7"/><stop offset=".705" stop-color="#089ece"/><stop offset=".744" stop-color="#08acc0"/><stop offset=".782" stop-color="#08b6b0"/><stop offset=".795" stop-color="#08bba5"/><stop offset=".808" stop-color="#10c491"/><stop offset=".821" stop-color="#50c481"/><stop offset=".846" stop-color="#82c26b"/><stop offset=".872" stop-color="#a6bf5e"/><stop offset=".91" stop-color="#d3ba48"/><stop offset=".923" stop-color="#deb840"/><stop offset=".949" stop-color="#f5b624"/><stop offset=".987" stop-color="#feb605"/><stop offset="1" stop-color="#feb605"/></linearGradient>
<linearGradient id="a54" x2="0" y2="1"><stop offset="0" stop-color="#ffbd00"/><stop offset=".038" stop-color="#ffb700"/><stop offset=".051" stop-color="#fdb608"/><stop offset=".077" stop-color="#f3b629"/><stop offset=".103" stop-color="#deb840"/><stop offset=".128" stop-color="#bdbd54"/><stop offset=".154" stop-color="#9cc063"/><stop offset=".167" stop-color="#86c269"/><stop offset=".192" stop-color="#4dc482"/><stop offset=".205" stop-color="#24c48d"/><stop offset=".218" stop-color="#04c495"/><stop offset=".269" stop-color="#08b5b3"/><stop offset=".346" stop-color="#08a1cb"/><stop offset=".397" stop-color="#0890d8"/><stop offset=".449" stop-color="#0878de"/><stop offset=".5" stop-color="#046ee2"/><stop offset=".551" stop-color="#046fe2"/><stop offset=".603" stop-color="#0777df"/><stop offset=".667" stop-color="#0892d7"/><stop offset=".705" stop-color="#089ece"/><stop offset=".744" stop-color="#08acc0"/><stop offset=".782" stop-color="#08b6b0"/><stop offset=".795" stop-color="#08bba5"/><stop offset=".808" stop-color="#10c491"/><stop offset=".821" stop-color="#50c481"/><stop offset=".846" stop-color="#82c26b"/><stop offset=".872" stop-color="#a6bf5e"/><stop offset=".91" stop-color="#d3ba48"/><stop offset=".923" stop-color="#deb840"/><stop offset=".949" stop-color="#f5b624"/><stop offset=".974" stop-color="#fbb60e"/><stop offset=".987" stop-color="#fdb607"/><stop offset="1" stop-color="#fdb607"/></linearGradient>
<linearGradient id="a55" x2="0" y2="1"><stop offset="0" stop-color="#ffbb00"/><stop offset=".026" stop-color="#ffb800"/><stop offset=".038" stop-color="#feb605"/><stop offset=".077" stop-color="#f0b62c"/><stop offset=".103" stop-color="#dcb841"/><stop offset=".128" stop-color="#bcbd54"/><stop offset=".154" stop-color="#9bc063"/><stop offset=".179" stop-color="#6bc476"/><stop offset=".192" stop-color="#4cc482"/><stop offset=".205" stop-color="#24c48d"/><stop offset=".218" stop-color="#04c495"/><stop offset=".269" stop-color="#08b5b3"/><stop offset=".346" stop-color="#08a1cb"/><stop offset=".397" stop-color="#0890d8"/><stop offset=".449" stop-color="#0877de"/><stop offset=".526" stop-color="#036ce3"/><stop offset=".603" stop-color="#0877de"/><stop offset=".667" stop-color="#0892d7"/><stop offset=".705" stop-color="#089fcd"/><stop offset=".782" stop-color="#08b6b0"/><stop offset=".795" stop-color="#08bba5"/><stop offset=".808" stop-color="#10c491"/><stop offset=".821" stop-color="#50c481"/><stop offset=".846" stop-color="#82c26b"/><stop offset=".872" stop-color="#a6bf5e"/><stop offset=".91" stop-color="#d3ba48"/><stop offset=".923" stop-color="#deb840"/><stop offset=".949" stop-color="#f5b624"/><stop offset=".987" stop-color="#fdb608"/><stop offset="1" stop-color="#fdb608"/></linearGradient>
<linearGradient id="a56" x2="0" y2="1"><stop offset="0" stop-color="#ffb800"/><stop offset=".026" stop-color="#ffb601"/><stop offset=".064" stop-color="#f5b624"/><stop offset=".103" stop-color="#dab943"/><stop offset=".128" stop-color="#babd55"/><stop offset=".154" stop-color="#9ac063"/><stop offset=".167" stop-color="#84c26a"/><stop offset=".192" stop-color="#4bc483"/><stop offset=".205" stop-color="#24c48d"/><stop offset=".218" stop-color="#04c495"/><stop offset=".269" stop-color="#08b5b3"/><stop offset=".346" stop-color="#08a1cb"/><stop offset=".397" stop-color="#0890d8"/><stop offset=".449" stop-color="#0877de"/><stop offset=".526" stop-color="#036ce3"/><stop offset=".603" stop-color="#0877de"/><stop offset=".667" stop-color="#0892d7"/><stop offset=".718" stop-color="#08a4c8"/><stop offset=".782" stop-color="#08b6b0"/><stop offset=".795" stop-color="#08bba5"/><stop offset=".808" stop-color="#10c491"/><stop offset=".821" stop-color="#50c481"/><stop offset=".846" stop-color="#82c26b"/><stop offset=".872" stop-color="#a6bf5e"/><stop offset=".91" stop-color="#d3ba48"/><stop offset=".923" stop-color="#deb840"/><stop offset=".949" stop-color="#f5b624"/><stop offset=".987" stop-color="#fdb609"/><stop offset="1" stop-color="#fdb609"/></linearGradient>
<linearGradient id="a57" x2="0" y2="1"><stop offset="0" stop-color="#ffb601"/><stop offset=".013" stop-color="#ffb601"/><stop offset=".038" stop-color="#fab613"/><stop offset=".064" stop-color="#f3b62a"/><stop offset=".103" stop-color="#d8b944"/><stop offset=".115" stop-color="#c8bc50"/><stop offset=".154" stop-color="#98c064"/><stop offset=".167" stop-color="#83c26a"/><stop offset=".179" stop-color="#6ac477"/><stop offset=".192" stop-color="#4bc483"/><stop offset=".205" stop-color="#24c48d"/><stop offset=".218" stop-color="#04c495"/><stop offset=".269" stop-color="#08b5b3"/><stop offset=".346" stop-color="#08a1cb"/><stop offset=".397" stop-color="#0890d8"/><stop offset=".449" stop-color="#0877de"/><stop offset=".513" stop-color="#036ce3"/><stop offset=".59" stop-color="#0674e0"/><stop offset=".667" stop-color="#0892d7"/><stop offset=".769" stop-color="#08b3b6"/><stop offset=".795" stop-color="#08bba5"/><stop offset=".808" stop-color="#10c491"/><stop offset=".821" stop-color="#50c481"/><stop offset=".846" stop-color="#82c26b"/><stop offset=".872" stop-color="#a6bf5e"/><stop offset=".91" stop-color="#d3ba48"/><stop offset=".923" stop-color="#deb840"/><stop offset=".949" stop-color="#f5b624"/><stop offset=".987" stop-color="#fcb60a"/><stop offset="1" stop-color="#fcb60a"/></linearGradient>
<linearGradient id="a58" x2="0" y2="1"><stop offset="0" stop-color="#fdb608"/><stop offset=".013" stop-color="#fdb608"/><stop offset=".064" stop-color="#efb62e"/><stop offset=".103" stop-color="#d6b946"/><stop offset=".154" stop-color="#97c164"/><stop offset=".167" stop-color="#82c26b"/><stop offset=".179" stop-color="#69c478"/><stop offset=".192" stop-color="#4ac483"/><stop offset=".205" stop-color="#24c48d"/><stop offset=".218" stop-color="#04c495"/><stop offset=".269" stop-color="#08b5b3"/><stop offset=".346" stop-color="#08a1cb"/><stop offset=".385" stop-color="#0892d7"/><stop offset=".41" stop-color="#0889da"/><stop offset=".462" stop-color="#0673e0"/><stop offset=".526" stop-color="#036de3"/><stop offset=".603" stop-color="#0878de"/><stop offset=".641" stop-color="#0889da"/><stop offset=".667" stop-color="#0892d7"/><stop offset=".744" stop-color="#08adbf"/><stop offset=".782" stop-color="#08b6b0"/><stop offset=".795" stop-color="#08bba5"/><stop offset=".808" stop-color="#10c491"/><stop offset=".821" stop-color="#50c481"/><stop offset=".846" stop-color="#82c26b"/><stop offset=".872" stop-color="#a6bf5e"/><stop offset=".91" stop-color="#d3ba48"/><stop offset=".923" stop-color="#deb840"/><stop offset=".949" stop-color="#f5b624"/><stop offset=".987" stop-color="#fcb60b"/><stop offset="1" stop-color="#fcb60b"/></linearGradient>
<linearGradient id="a59" x2="0" y2="1"><stop offset="0" stop-color="#fbb60f"/><stop offset=".013" stop-color="#fbb60f"/><stop offset=".064" stop-color="#ecb731"/><stop offset=".103" stop-color="#d4ba47"/><stop offset=".128" stop-color="#b6be57"/><stop offset=".154" stop-color="#96c164"/><stop offset=".179" stop-color="#68c478"/><stop offset=".192" stop-color="#4ac483"/><stop offset=".205" stop-color="#23c48d"/><stop offset=".218" stop-color="#04c395"/><stop offset=".256" stop-color="#08b7ae"/><stop offset=".333" stop-color="#08a6c6"/><stop offset=".385" stop-color="#0892d7"/><stop offset=".397" stop-color="#0890d8"/><stop offset=".449" stop-color="#0777df"/><stop offset=".5" stop-color="#046ee2"/><stop offset=".564" stop-color="#0470e2"/><stop offset=".615" stop-color="#087cdd"/><stop offset=".654" stop-color="#0890d8"/><stop offset=".692" stop-color="#089bd1"/><stop offset=".756" stop-color="#08b0ba"/><stop offset=".782" stop-color="#08b6b0"/><stop offset=".795" stop-color="#08bca4"/><stop offset=".808" stop-color="#13c491"/><stop offset=".821" stop-color="#51c481"/><stop offset=".846" stop-color="#83c26a"/><stop offset=".885" stop-color="#b5be57"/><stop offset=".923" stop-color="#dfb83f"/><stop offset=".949" stop-color="#f5b624"/><stop offset=".987" stop-color="#fcb60d"/><stop offset="1" stop-color="#fcb60d"/></linearGradient>
<linearGradient id="a60" x2="0" y2="1"><stop offset="0" stop-color="#f9b615"/><stop offset=".013" stop-color="#f9b615"/><stop offset=".038" stop-color="#f5b626"/><stop offset=".103" stop-color="#d2ba49"/><stop offset=".154" stop-color="#95c165"/><stop offset=".179" stop-color="#67c478"/><stop offset=".192" stop-color="#49c483"/><stop offset=".205" stop-color="#23c48d"/><stop offset=".218" stop-color="#04c395"/><stop offset=".256" stop-color="#08b7ae"/><stop offset=".333" stop-color="#08a5c7"/><stop offset=".385" stop-color="#0892d7"/><stop offset=".462" stop-color="#0573e1"/><stop offset=".526" stop-color="#036de3"/><stop offset=".603" stop-color="#0878de"/><stop offset=".667" stop-color="#0893d7"/><stop offset=".756" stop-color="#08b0ba"/><stop offset=".782" stop-color="#08b7af"/><stop offset=".795" stop-color="#08bda3"/><stop offset=".808" stop-color="#18c490"/><stop offset=".821" stop-color="#53c480"/><stop offset=".846" stop-color="#85c26a"/><stop offset=".885" stop-color="#b7be56"/><stop offset=".897" stop-color="#c6bc51"/><stop offset=".923" stop-color="#dfb83f"/><stop offset=".949" stop-color="#f5b625"/><stop offset=".987" stop-color="#fbb60e"/><stop offset="1" stop-color="#fbb60e"/></linearGradient>
<linearGradient id="a61" x2="0" y2="1"><stop offset="0" stop-color="#f8b61b"/><stop offset=".013" stop-color="#f8b61b"/><stop offset=".064" stop-color="#e7b737"/><stop offset=".103" stop-color="#d0ba4a"/><stop offset=".141" stop-color="#a5bf5f"/><stop offset=".167" stop-color="#7fc26d"/><stop offset=".192" stop-color="#49c484"/><stop offset=".205" stop-color="#23c48d"/><stop offset=".218" stop-color="#04c395"/><stop offset=".256" stop-color="#08b7af"/><stop offset=".333" stop-color="#08a5c7"/><stop offset=".385" stop-color="#0892d7"/><stop offset=".449" stop-color="#0776df"/><stop offset=".513" stop-color="#036ce3"/><stop offset=".59" stop-color="#0775df"/><stop offset=".667" stop-color="#0893d7"/><stop offset=".769" stop-color="#08b4b5"/><stop offset=".782" stop-color="#08b7ae"/><stop offset=".795" stop-color="#07bea1"/><stop offset=".808" stop-color="#1dc48f"/><stop offset=".821" stop-color="#55c47f"/><stop offset=".846" stop-color="#87c269"/><stop offset=".872" stop-color="#a9bf5c"/><stop offset=".91" stop-color="#d5ba47"/><stop offset=".949" stop-color="#f5b626"/><stop offset=".987" stop-color="#fbb60f"/><stop offset="1" stop-color="#fbb60f"/></linearGradient>
<linearGradient id="a62" x2="0" y2="1"><stop offset="0" stop-color="#f6b621"/><stop offset=".013" stop-color="#f6b621"/><stop offset=".064" stop-color="#e4b73a"/><stop offset=".103" stop-color="#cebb4b"/><stop offset=".141" stop-color="#a4bf5f"/><stop offset=".167" stop-color="#7dc26d"/><stop offset=".192" stop-color="#48c484"/><stop offset=".205" stop-color="#23c48d"/><stop offset=".218" stop-color="#04c395"/><stop offset=".256" stop-color="#08b7af"/><stop offset=".333" stop-color="#08a5c7"/><stop offset=".372" stop-color="#0895d6"/><stop offset=".397" stop-color="#088ed9"/><stop offset=".449" stop-color="#0776df"/><stop offset=".513" stop-color="#036ce3"/><stop offset=".577" stop-color="#0572e1"/><stop offset=".628" stop-color="#0883dc"/><stop offset=".654" stop-color="#0891d8"/><stop offset=".705" stop-color="#08a1cb"/><stop offset=".782" stop-color="#08b8ad"/><stop offset=".795" stop-color="#07be9f"/><stop offset=".808" stop-color="#22c48e"/><stop offset=".821" stop-color="#57c47e"/><stop offset=".846" stop-color="#89c269"/><stop offset=".872" stop-color="#abbf5c"/><stop offset=".91" stop-color="#d5ba46"/><stop offset=".949" stop-color="#f4b627"/><stop offset=".987" stop-color="#fbb610"/><stop offset="1" stop-color="#fbb610"/></linearGradient>
<linearGradient id="a63" x2="0" y2="1"><stop offset="0" stop-color="#f4b627"/><stop offset=".026" stop-color="#f1b62b"/><stop offset=".103" stop-color="#ccbb4d"/><stop offset=".141" stop-color="#a3c060"/><stop offset=".167" stop-color="#7cc26e"/><stop offset=".179" stop-color="#65c47a"/><stop offset=".218" stop-color="#04c396"/><stop offset=".256" stop-color="#08b6af"/><stop offset=".333" stop-color="#08a4c8"/><stop offset=".372" stop-color="#0894d6"/><stop offset=".397" stop-color="#088dd9"/><stop offset=".449" stop-color="#0775df"/><stop offset=".513" stop-color="#036ce3"/><stop offset=".577" stop-color="#0573e1"/><stop offset=".628" stop-color="#0884dc"/><stop offset=".654" stop-color="#0891d8"/><stop offset=".705" stop-color="#08a1cb"/><stop offset=".769" stop-color="#08b4b4"/><stop offset=".782" stop-color="#08b8ac"/><stop offset=".795" stop-color="#06bf9d"/><stop offset=".808" stop-color="#27c48d"/><stop offset=".821" stop-color="#5ac47e"/><stop offset=".846" stop-color="#8bc168"/><stop offset=".859" stop-color="#9ec062"/><stop offset=".91" stop-color="#d6b946"/><stop offset=".949" stop-color="#f4b627"/><stop offset=".987" stop-color="#fab611"/><stop offset="1" stop-color="#fab611"/></linearGradient>
<linearGradient id="a64" x2="0" y2="1"><stop offset="0" stop-color="#f1b62b"/><stop offset=".026" stop-color="#eeb72f"/><stop offset=".09" stop-color="#d1ba49"/><stop offset=".103" stop-color="#cabc4e"/><stop offset=".154" stop-color="#90c166"/><stop offset=".179" stop-color="#64c47a"/><stop offset=".192" stop-color="#47c484"/><stop offset=".205" stop-color="#22c48d"/><stop offset=".218" stop-color="#04c396"/><stop offset=".256" stop-color="#08b6b0"/><stop offset=".333" stop-color="#08a4c8"/><stop offset=".372" stop-color="#0894d6"/><stop offset=".397" stop-color="#088dd9"/><stop offset=".436" stop-color="#0879de"/><stop offset=".5" stop-color="#036ce3"/><stop offset=".577" stop-color="#0573e1"/><stop offset=".628" stop-color="#0884dc"/><stop offset=".654" stop-color="#0891d8"/><stop offset=".705" stop-color="#08a1cb"/><stop offset=".769" stop-color="#08b4b3"/><stop offset=".782" stop-color="#08b9ab"/><stop offset=".795" stop-color="#06c09c"/><stop offset=".808" stop-color="#2cc48b"/><stop offset=".821" stop-color="#5cc47d"/><stop offset=".846" stop-color="#8cc167"/><stop offset=".872" stop-color="#aebe5a"/><stop offset=".91" stop-color="#d7b945"/><stop offset=".949" stop-color="#f4b628"/><stop offset=".987" stop-color="#fab613"/><stop offset="1" stop-color="#fab613"/></linearGradient>
<linearGradient id="a65" x2="0" y2="1"><stop offset="0" stop-color="#eeb72f"/><stop offset=".026" stop-color="#ebb732"/><stop offset=".09" stop-color="#cfbb4b"/><stop offset=".103" stop-color="#c8bc50"/><stop offset=".141" stop-color="#a0c061"/><stop offset=".167" stop-color="#7ac36f"/><stop offset=".179" stop-color="#63c47a"/><stop offset=".192" stop-color="#46c484"/><stop offset=".205" stop-color="#22c48e"/><stop offset=".218" stop-color="#04c396"/><stop offset=".244" stop-color="#08b9aa"/><stop offset=".333" stop-color="#08a4c8"/><stop offset=".372" stop-color="#0894d6"/><stop offset=".397" stop-color="#088cd9"/><stop offset=".449" stop-color="#0674e0"/><stop offset=".513" stop-color="#036be3"/><stop offset=".59" stop-color="#0776df"/><stop offset=".628" stop-color="#0885dc"/><stop offset=".692" stop-color="#089dcf"/><stop offset=".769" stop-color="#08b5b2"/><stop offset=".782" stop-color="#08b9aa"/><stop offset=".795" stop-color="#06c19a"/><stop offset=".821" stop-color="#5ec47c"/><stop offset=".846" stop-color="#8ec167"/><stop offset=".859" stop-color="#a1c061"/><stop offset=".897" stop-color="#cdbb4c"/><stop offset=".949" stop-color="#f4b628"/><stop offset=".987" stop-color="#fab614"/><stop offset="1" stop-color="#fab614"/></linearGradient>
<linearGradient id="a66" x2="0" y2="1"><stop offset="0" stop-color="#ebb732"/><stop offset=".026" stop-color="#e8b735"/><stop offset=".09" stop-color="#cdbb4d"/><stop offset=".103" stop-color="#c6bc51"/><stop offset=".141" stop-color="#9fc061"/><stop offset=".167" stop-color="#79c370"/><stop offset=".192" stop-color="#46c485"/><stop offset=".205" stop-color="#22c48e"/><stop offset=".218" stop-color="#05c396"/><stop offset=".244" stop-color="#08b9ab"/><stop offset=".321" stop-color="#08a8c4"/><stop offset=".372" stop-color="#0894d6"/><stop offset=".449" stop-color="#0674e0"/><stop offset=".513" stop-color="#036be3"/><stop offset=".59" stop-color="#0776df"/><stop offset=".667" stop-color="#0894d6"/><stop offset=".769" stop-color="#08b5b2"/><stop offset=".782" stop-color="#08baa9"/><stop offset=".795" stop-color="#05c298"/><stop offset=".808" stop-color="#36c489"/><stop offset=".821" stop-color="#60c47b"/><stop offset=".846" stop-color="#90c166"/><stop offset=".885" stop-color="#c0bd53"/><stop offset=".91" stop-color="#d9b944"/><stop offset=".949" stop-color="#f3b629"/><stop offset=".987" stop-color="#f9b615"/><stop offset="1" stop-color="#f9b615"/></linearGradient>
<linearGradient id="a67" x2="0" y2="1"><stop offset="0" stop-color="#e7b736"/><stop offset=".026" stop-color="#e5b739"/><stop offset=".103" stop-color="#c4bc51"/><stop offset=".141" stop-color="#9ec062"/><stop offset=".167" stop-color="#77c370"/><stop offset=".179" stop-color="#61c47b"/><stop offset=".192" stop-color="#45c485"/><stop offset=".205" stop-color="#22c48e"/><stop offset=".218" stop-color="#05c396"/><stop offset=".244" stop-color="#08b8ab"/><stop offset=".321" stop-color="#08a8c4"/><stop offset=".372" stop-color="#0893d6"/><stop offset=".397" stop-color="#088bda"/><stop offset=".436" stop-color="#0877de"/><stop offset=".513" stop-color="#036be3"/><stop offset=".59" stop-color="#0776df"/><stop offset=".654" stop-color="#0891d7"/><stop offset=".705" stop-color="#08a2ca"/><stop offset=".769" stop-color="#08b5b1"/><stop offset=".782" stop-color="#08baa8"/><stop offset=".795" stop-color="#05c397"/><stop offset=".808" stop-color="#3bc488"/><stop offset=".821" stop-color="#62c47b"/><stop offset=".846" stop-color="#92c166"/><stop offset=".897" stop-color="#d0bb4a"/><stop offset=".949" stop-color="#f3b629"/><stop offset=".987" stop-color="#f9b616"/><stop offset="1" stop-color="#f9b616"/></linearGradient>
<linearGradient id="a68" x2="0" y2="1"><stop offset="0" stop-color="#e4b739"/><stop offset=".026" stop-color="#e1b83c"/><stop offset=".077" stop-color="#cebb4b"/><stop offset=".103" stop-color="#c2bd52"/><stop offset=".141" stop-color="#9cc063"/><stop offset=".167" stop-color="#76c371"/><stop offset=".179" stop-color="#60c47c"/><stop offset=".218" stop-color="#05c396"/><stop offset=".244" stop-color="#08b8ac"/><stop offset=".333" stop-color="#08a3c9"/><stop offset=".385" stop-color="#0891d8"/><stop offset=".436" stop-color="#0777df"/><stop offset=".513" stop-color="#036be3"/><stop offset=".59" stop-color="#0777df"/><stop offset=".628" stop-color="#0886db"/><stop offset=".679" stop-color="#0899d2"/><stop offset=".756" stop-color="#08b2b7"/><stop offset=".782" stop-color="#08bba7"/><stop offset=".795" stop-color="#04c495"/><stop offset=".808" stop-color="#3fc487"/><stop offset=".821" stop-color="#64c47a"/><stop offset=".846" stop-color="#94c165"/><stop offset=".897" stop-color="#d1ba4a"/><stop offset=".949" stop-color="#f2b62a"/><stop offset=".987" stop-color="#f9b617"/><stop offset="1" stop-color="#f9b617"/></linearGradient>
<linearGradient id="a69" x2="0" y2="1"><stop offset="0" stop-color="#e2b83c"/><stop offset=".051" stop-color="#d8b945"/><stop offset=".103" stop-color="#c2bd52"/><stop offset=".141" stop-color="#9dc062"/><stop offset=".167" stop-color="#77c371"/><stop offset=".192" stop-color="#44c485"/><stop offset=".205" stop-color="#21c48e"/><stop offset=".218" stop-color="#05c397"/><stop offset=".244" stop-color="#08b8ac"/><stop offset=".321" stop-color="#08a7c5"/><stop offset=".372" stop-color="#0893d7"/><stop offset=".397" stop-color="#0888db"/><stop offset=".436" stop-color="#0776df"/><stop offset=".5" stop-color="#036ae3"/><stop offset=".59" stop-color="#0777df"/><stop offset=".628" stop-color="#0886db"/><stop offset=".679" stop-color="#0899d2"/><stop offset=".756" stop-color="#08b3b6"/><stop offset=".782" stop-color="#08bca4"/><stop offset=".795" stop-color="#0ac493"/><stop offset=".808" stop-color="#46c485"/><stop offset=".821" stop-color="#69c478"/><stop offset=".833" stop-color="#82c26b"/><stop offset=".846" stop-color="#98c064"/><stop offset=".897" stop-color="#d2ba49"/><stop offset=".936" stop-color="#ecb731"/><stop offset=".987" stop-color="#f8b61b"/><stop offset="1" stop-color="#f8b61b"/></linearGradient>
<linearGradient id="a70" x2="0" y2="1"><stop offset="0" stop-color="#e0b83d"/><stop offset=".051" stop-color="#d7b945"/><stop offset=".103" stop-color="#c3bc52"/><stop offset=".141" stop-color="#a0c061"/><stop offset=".167" stop-color="#79c370"/><stop offset=".192" stop-color="#44c485"/><stop offset=".205" stop-color="#20c48e"/><stop offset=".218" stop-color="#05c297"/><stop offset=".244" stop-color="#08b7ad"/><stop offset=".333" stop-color="#089fcd"/><stop offset=".372" stop-color="#0891d7"/><stop offset=".423" stop-color="#0878de"/><stop offset=".5" stop-color="#0369e3"/><stop offset=".59" stop-color="#0776df"/><stop offset=".628" stop-color="#0885dc"/><stop offset=".654" stop-color="#0891d7"/><stop offset=".705" stop-color="#08a3c9"/><stop offset=".769" stop-color="#08b8ad"/><stop offset=".782" stop-color="#07bda1"/><stop offset=".795" stop-color="#16c490"/><stop offset=".808" stop-color="#4fc481"/><stop offset=".821" stop-color="#71c374"/><stop offset=".833" stop-color="#89c268"/><stop offset=".846" stop-color="#9ec062"/><stop offset=".897" stop-color="#d2ba49"/><stop offset=".949" stop-color="#efb62e"/><stop offset=".987" stop-color="#f6b621"/><stop offset="1" stop-color="#f6b621"/></linearGradient>
<linearGradient id="a71" x2="0" y2="1"><stop offset="0" stop-color="#50c481"/><stop offset=".038" stop-color="#38c489"/><stop offset=".09" stop-color="#04c495"/><stop offset=".179" stop-color="#08aac2"/><stop offset=".256" stop-color="#0895d5"/><stop offset=".321" stop-color="#088dd9"/><stop offset=".397" stop-color="#0675e0"/><stop offset=".5" stop-color="#0368e3"/><stop offset=".628" stop-color="#0776df"/><stop offset=".718" stop-color="#0891d7"/><stop offset=".769" stop-color="#0899d2"/><stop offset=".821" stop-color="#08afbc"/><stop offset=".885" stop-color="#05c396"/><stop offset=".936" stop-color="#4ac483"/><stop offset=".974" stop-color="#67c478"/><stop offset="1" stop-color="#73c373"/></linearGradient>
<linearGradient id="a72" x2="0" y2="1"><stop offset="0" stop-color="#025ae7"/><stop offset="1" stop-color="#025ae7"/></linearGradient>
<linearGradient id="a73" x2="0" y2="1"><stop offset="0" stop-color="#025ae7"/><stop offset="1" stop-color="#025ae7"/></linearGradient>
<linearGradient id="a74" x2="0" y2="1"><stop offset="0" stop-color="#0573e1"/><stop offset=".513" stop-color="#0266e4"/><stop offset="1" stop-color="#0673e0"/></linearGradient>
<linearGradient id="a75" x2="0" y2="1"><stop offset="0" stop-color="#08b1b8"/><stop offset=".141" stop-color="#08a8c4"/><stop offset=".256" stop-color="#0894d6"/><stop offset=".346" stop-color="#088cd9"/><stop offset=".41" stop-color="#0572e1"/><stop offset=".474" stop-color="#0264e4"/><stop offset=".551" stop-color="#036be3"/><stop offset=".615" stop-color="#087bde"/><stop offset=".641" stop-color="#088ada"/><stop offset=".769" stop-color="#0899d2"/><stop offset=".859" stop-color="#08abc1"/><stop offset="1" stop-color="#08b4b4"/></linearGradient>
<linearGradient id="a76" x2="0" y2="1"><stop offset="0" stop-color="#9ac063"/><stop offset=".09" stop-color="#88c269"/><stop offset=".115" stop-color="#79c36f"/><stop offset=".141" stop-color="#66c479"/><stop offset=".154" stop-color="#4fc481"/><stop offset=".167" stop-color="#2fc48b"/><stop offset=".179" stop-color="#08c493"/><stop offset=".231" stop-color="#08b2b7"/><stop offset=".295" stop-color="#08a1cb"/><stop offset=".333" stop-color="#0892d7"/><stop offset=".397" stop-color="#0573e1"/><stop offset=".474" stop-color="#0262e5"/><stop offset=".564" stop-color="#046de2"/><stop offset=".615" stop-color="#087ade"/><stop offset=".654" stop-color="#0890d8"/><stop offset=".705" stop-color="#08a3c9"/><stop offset=".756" stop-color="#08b0b9"/><stop offset=".782" stop-color="#08bca5"/><stop offset=".795" stop-color="#05c297"/><stop offset=".821" stop-color="#49c483"/><stop offset=".846" stop-color="#73c372"/><stop offset=".897" stop-color="#8dc167"/><stop offset=".962" stop-color="#a1c061"/><stop offset="1" stop-color="#a5bf5f"/></linearGradient>
<linearGradient id="a77" x2="0" y2="1"><stop offset="0" stop-color="#d3ba48"/><stop offset=".09" stop-color="#c6bc51"/><stop offset=".141" stop-color="#aabf5c"/><stop offset=".154" stop-color="#99c063"/><stop offset=".167" stop-color="#7ec26d"/><stop offset=".192" stop-color="#3bc488"/><stop offset=".205" stop-color="#0dc492"/><stop offset=".218" stop-color="#07bf9e"/><stop offset=".244" stop-color="#08b4b4"/><stop offset=".321" stop-color="#0894d6"/><stop offset=".333" stop-color="#0891d8"/><stop offset=".385" stop-color="#0775df"/><stop offset=".462" stop-color="#0262e5"/><stop offset=".513" stop-color="#0264e4"/><stop offset=".577" stop-color="#0470e2"/><stop offset=".615" stop-color="#0879de"/><stop offset=".654" stop-color="#0890d8"/><stop offset=".692" stop-color="#089ece"/><stop offset=".756" stop-color="#08b7ae"/><stop offset=".769" stop-color="#07bf9e"/><stop offset=".782" stop-color="#1bc48f"/><stop offset=".795" stop-color="#54c480"/><stop offset=".808" stop-color="#7ec26d"/><stop offset=".821" stop-color="#97c164"/><stop offset=".846" stop-color="#b8bd56"/><stop offset=".949" stop-color="#d8b944"/><stop offset="1" stop-color="#ddb841"/></linearGradient>
<linearGradient id="a78" x2="0" y2="1"><stop offset="0" stop-color="#d6b946"/><stop offset=".09" stop-color="#cfbb4b"/><stop offset=".141" stop-color="#b5be57"/><stop offset=".154" stop-color="#a4bf5f"/><stop offset=".167" stop-color="#89c268"/><stop offset=".192" stop-color="#44c485"/><stop offset=".205" stop-color="#15c490"/><stop offset=".218" stop-color="#06bf9d"/><stop offset=".244" stop-color="#08b3b5"/><stop offset=".308" stop-color="#0897d4"/><stop offset=".333" stop-color="#088ed9"/><stop offset=".372" stop-color="#0877de"/><stop offset=".449" stop-color="#0262e5"/><stop offset=".5" stop-color="#0261e5"/><stop offset=".564" stop-color="#036ce3"/><stop offset=".615" stop-color="#0878de"/><stop offset=".654" stop-color="#0890d8"/><stop offset=".692" stop-color="#089ece"/><stop offset=".744" stop-color="#08b3b6"/><stop offset=".756" stop-color="#08b8ad"/><stop offset=".769" stop-color="#05c19a"/><stop offset=".782" stop-color="#31c48a"/><stop offset=".795" stop-color="#66c479"/><stop offset=".808" stop-color="#8dc167"/><stop offset=".821" stop-color="#a4bf5f"/><stop offset=".846" stop-color="#c5bc51"/><stop offset=".962" stop-color="#ddb841"/><stop offset="1" stop-color="#ddb840"/></linearGradient>
<linearGradient id="a79" x2="0" y2="1"><stop offset="0" stop-color="#d6b946"/><stop offset=".09" stop-color="#cfbb4b"/><stop offset=".141" stop-color="#b6be56"/><stop offset=".154" stop-color="#a5bf5f"/><stop offset=".167" stop-color="#8ac268"/><stop offset=".192" stop-color="#44c485"/><stop offset=".205" stop-color="#15c490"/><stop offset=".218" stop-color="#06bf9e"/><stop offset=".244" stop-color="#08b3b5"/><stop offset=".295" stop-color="#089dcf"/><stop offset=".321" stop-color="#0892d7"/><stop offset=".372" stop-color="#0775df"/><stop offset=".436" stop-color="#0263e4"/><stop offset=".474" stop-color="#025de6"/><stop offset=".551" stop-color="#0367e3"/><stop offset=".615" stop-color="#0878de"/><stop offset=".654" stop-color="#0890d8"/><stop offset=".692" stop-color="#089ece"/><stop offset=".756" stop-color="#08b8ac"/><stop offset=".769" stop-color="#05c298"/><stop offset=".795" stop-color="#6bc477"/><stop offset=".808" stop-color="#91c166"/><stop offset=".821" stop-color="#a7bf5e"/><stop offset=".846" stop-color="#c8bc50"/><stop offset=".974" stop-color="#deb840"/><stop offset="1" stop-color="#deb840"/></linearGradient>
<linearGradient id="a80" x2="0" y2="1"><stop offset="0" stop-color="#d7b945"/><stop offset=".09" stop-color="#d0bb4a"/><stop offset=".141" stop-color="#b6be56"/><stop offset=".154" stop-color="#a5bf5f"/><stop offset=".167" stop-color="#8ac268"/><stop offset=".192" stop-color="#44c485"/><stop offset=".205" stop-color="#15c490"/><stop offset=".218" stop-color="#06bf9e"/><stop offset=".244" stop-color="#08b3b5"/><stop offset=".308" stop-color="#0896d5"/><stop offset=".333" stop-color="#088bda"/><stop offset=".359" stop-color="#087ade"/><stop offset=".423" stop-color="#0265e4"/><stop offset=".474" stop-color="#025de6"/><stop offset=".551" stop-color="#0267e4"/><stop offset=".615" stop-color="#0878de"/><stop offset=".654" stop-color="#0890d8"/><stop offset=".692" stop-color="#089ece"/><stop offset=".744" stop-color="#08b4b5"/><stop offset=".756" stop-color="#08b9ab"/><stop offset=".769" stop-color="#05c298"/><stop offset=".795" stop-color="#6dc376"/><stop offset=".808" stop-color="#92c166"/><stop offset=".821" stop-color="#a8bf5d"/><stop offset=".846" stop-color="#c8bc50"/><stop offset=".962" stop-color="#e1b83d"/><stop offset="1" stop-color="#e1b83d"/></linearGradient>
<linearGradient id="a81" x2="0" y2="1"><stop offset="0" stop-color="#d9b944"/><stop offset=".09" stop-color="#d0bb4a"/><stop offset=".141" stop-color="#b6be56"/><stop offset=".154" stop-color="#a5bf5f"/><stop offset=".167" stop-color="#8ac268"/><stop offset=".192" stop-color="#44c485"/><stop offset=".205" stop-color="#15c490"/><stop offset=".218" stop-color="#06bf9e"/><stop offset=".244" stop-color="#08b3b5"/><stop offset=".308" stop-color="#0895d5"/><stop offset=".333" stop-color="#088ada"/><stop offset=".359" stop-color="#0879de"/><stop offset=".423" stop-color="#0264e4"/><stop offset=".474" stop-color="#025ce7"/><stop offset=".564" stop-color="#036ae3"/><stop offset=".615" stop-color="#0878de"/><stop offset=".654" stop-color="#0890d8"/><stop offset=".692" stop-color="#089ece"/><stop offset=".744" stop-color="#08b4b4"/><stop offset=".756" stop-color="#08b9aa"/><stop offset=".769" stop-color="#05c397"/><stop offset=".782" stop-color="#3ec487"/><stop offset=".795" stop-color="#6fc375"/><stop offset=".808" stop-color="#93c165"/><stop offset=".833" stop-color="#b9bd56"/><stop offset=".846" stop-color="#c9bc50"/><stop offset=".936" stop-color="#ddb841"/><stop offset=".962" stop-color="#e5b739"/><stop offset="1" stop-color="#e5b739"/></linearGradient>
<linearGradient id="a82" x2="0" y2="1"><stop offset="0" stop-color="#dab943"/><stop offset=".09" stop-color="#d1ba4a"/><stop offset=".141" stop-color="#b7be56"/><stop offset=".154" stop-color="#a5bf5f"/><stop offset=".167" stop-color="#8ac268"/><stop offset=".192" stop-color="#44c485"/><stop offset=".205" stop-color="#15c490"/><stop offset=".218" stop-color="#06bf9e"/><stop offset=".244" stop-color="#08b3b5"/><stop offset=".308" stop-color="#0895d5"/><stop offset=".333" stop-color="#0889da"/><stop offset=".359" stop-color="#0878de"/><stop offset=".423" stop-color="#0263e4"/><stop offset=".474" stop-color="#025be7"/><stop offset=".551" stop-color="#0266e4"/><stop offset=".615" stop-color="#0878de"/><stop offset=".654" stop-color="#0890d8"/><stop offset=".692" stop-color="#089fcd"/><stop offset=".744" stop-color="#08b4b4"/><stop offset=".756" stop-color="#08b9a9"/><stop offset=".769" stop-color="#04c396"/><stop offset=".782" stop-color="#40c487"/><stop offset=".795" stop-color="#70c374"/><stop offset=".808" stop-color="#94c165"/><stop offset=".821" stop-color="#a9bf5d"/><stop offset=".846" stop-color="#c9bc4f"/><stop offset=".936" stop-color="#dfb83f"/><stop offset=".962" stop-color="#e8b735"/><stop offset="1" stop-color="#e8b735"/></linearGradient>
<linearGradient id="a83" x2="0" y2="1"><stop offset="0" stop-color="#dbb942"/><stop offset=".09" stop-color="#d1ba49"/><stop offset=".141" stop-color="#b7be56"/><stop offset=".154" stop-color="#a5bf5f"/><stop offset=".167" stop-color="#8ac268"/><stop offset=".192" stop-color="#44c485"/><stop offset=".205" stop-color="#15c490"/><stop offset=".218" stop-color="#06bf9e"/><stop offset=".244" stop-color="#08b3b5"/><stop offset=".308" stop-color="#0895d5"/><stop offset=".333" stop-color="#0888db"/><stop offset=".372" stop-color="#0573e1"/><stop offset=".41" stop-color="#0265e4"/><stop offset=".474" stop-color="#025ae7"/><stop offset=".564" stop-color="#0369e3"/><stop offset=".615" stop-color="#0878de"/><stop offset=".654" stop-color="#0891d8"/><stop offset=".679" stop-color="#0899d2"/><stop offset=".744" stop-color="#08b4b4"/><stop offset=".756" stop-color="#08baa8"/><stop offset=".769" stop-color="#04c495"/><stop offset=".782" stop-color="#42c486"/><stop offset=".795" stop-color="#72c373"/><stop offset=".808" stop-color="#96c165"/><stop offset=".833" stop-color="#babd55"/><stop offset=".846" stop-color="#c9bc4f"/><stop offset=".936" stop-color="#e0b83d"/><stop offset=".962" stop-color="#ecb731"/><stop offset="1" stop-color="#ecb731"/></linearGradient>
<linearGradient id="a84" x2="0" y2="1"><stop offset="0" stop-color="#dcb841"/><stop offset=".09" stop-color="#d2ba49"/><stop offset=".141" stop-color="#b7be56"/><stop offset=".154" stop-color="#a5bf5f"/><stop offset=".167" stop-color="#8ac268"/><stop offset=".192" stop-color="#44c485"/><stop offset=".205" stop-color="#15c490"/><stop offset=".218" stop-color="#06bf9e"/><stop offset=".244" stop-color="#08b3b6"/><stop offset=".308" stop-color="#0894d6"/><stop offset=".321" stop-color="#0891d8"/><stop offset=".359" stop-color="#0777df"/><stop offset=".423" stop-color="#0262e5"/><stop offset=".474" stop-color="#0259e8"/><stop offset=".551" stop-color="#0264e4"/><stop offset=".615" stop-color="#0878de"/><stop offset=".654" stop-color="#0891d8"/><stop offset=".705" stop-color="#08a5c7"/><stop offset=".744" stop-color="#08b4b3"/><stop offset=".756" stop-color="#08baa7"/><stop offset=".769" stop-color="#04c494"/><stop offset=".782" stop-color="#45c485"/><stop offset=".795" stop-color="#74c372"/><stop offset=".808" stop-color="#97c164"/><stop offset=".833" stop-color="#bbbd55"/><stop offset=".846" stop-color="#c9bc4f"/><stop offset=".923" stop-color="#dcb841"/><stop offset=".962" stop-color="#efb62d"/><stop offset="1" stop-color="#efb62d"/></linearGradient>
<linearGradient id="a85" x2="0" y2="1"><stop offset="0" stop-color="#deb840"/><stop offset=".09" stop-color="#d2ba49"/><stop offset=".141" stop-color="#b7be56"/><stop offset=".154" stop-color="#a5bf5f"/><stop offset=".167" stop-color="#8ac268"/><stop offset=".192" stop-color="#44c485"/><stop offset=".205" stop-color="#15c490"/><stop offset=".218" stop-color="#06bf9e"/><stop offset=".244" stop-color="#08b3b6"/><stop offset=".308" stop-color="#0894d6"/><stop offset=".333" stop-color="#0887db"/><stop offset=".359" stop-color="#0776df"/><stop offset=".423" stop-color="#0261e5"/><stop offset=".474" stop-color="#0259e8"/><stop offset=".551" stop-color="#0264e4"/><stop offset=".615" stop-color="#0878de"/><stop offset=".654" stop-color="#0891d8"/><stop offset=".705" stop-color="#08a5c7"/><stop offset=".744" stop-color="#08b5b3"/><stop offset=".756" stop-color="#08bba6"/><stop offset=".769" stop-color="#07c493"/><stop offset=".782" stop-color="#47c484"/><stop offset=".795" stop-color="#76c371"/><stop offset=".808" stop-color="#98c064"/><stop offset=".833" stop-color="#bcbd54"/><stop offset=".846" stop-color="#c9bc4f"/><stop offset=".923" stop-color="#ddb840"/><stop offset=".962" stop-color="#f3b629"/><stop offset="1" stop-color="#f3b629"/></linearGradient>
<linearGradient id="a86" x2="0" y2="1"><stop offset="0" stop-color="#dfb83f"/><stop offset=".09" stop-color="#d3ba48"/><stop offset=".141" stop-color="#b7be56"/><stop offset=".154" stop-color="#a5bf5f"/><stop offset=".167" stop-color="#8ac268"/><stop offset=".192" stop-color="#44c485"/><stop offset=".205" stop-color="#15c490"/><stop offset=".218" stop-color="#06bf9e"/><stop offset=".244" stop-color="#08b3b6"/><stop offset=".308" stop-color="#0894d6"/><stop offset=".321" stop-color="#0890d8"/><stop offset=".346" stop-color="#087cdd"/><stop offset=".41" stop-color="#0263e4"/><stop offset=".474" stop-color="#0357e8"/><stop offset=".564" stop-color="#0367e3"/><stop offset=".615" stop-color="#0878de"/><stop offset=".654" stop-color="#0891d8"/><stop offset=".692" stop-color="#08a0cc"/><stop offset=".744" stop-color="#08b5b2"/><stop offset=".756" stop-color="#08bba6"/><stop offset=".769" stop-color="#0ac493"/><stop offset=".782" stop-color="#49c483"/><stop offset=".795" stop-color="#78c370"/><stop offset=".808" stop-color="#99c063"/><stop offset=".833" stop-color="#bcbd54"/><stop offset=".846" stop-color="#cabc4f"/><stop offset=".923" stop-color="#dfb83f"/><stop offset=".962" stop-color="#f5b624"/><stop offset="1" stop-color="#f5b624"/></linearGradient>
<linearGradient id="a87" x2="0" y2="1"><stop offset="0" stop-color="#e0b83d"/><stop offset=".09" stop-color="#d3ba48"/><stop offset=".141" stop-color="#b7be56"/><stop offset=".154" stop-color="#a5bf5f"/><stop offset=".167" stop-color="#8ac268"/><stop offset=".192" stop-color="#44c485"/><stop offset=".205" stop-color="#15c490"/><stop offset=".218" stop-color="#06bf9e"/><stop offset=".244" stop-color="#08b3b6"/><stop offset=".308" stop-color="#0894d6"/><stop offset=".321" stop-color="#0890d8"/><stop offset=".359" stop-color="#0775df"/><stop offset=".41" stop-color="#0262e5"/><stop offset=".462" stop-color="#0258e8"/><stop offset=".474" stop-color="#0656e7"/><stop offset=".5" stop-color="#025be7"/><stop offset=".551" stop-color="#0262e5"/><stop offset=".615" stop-color="#0878de"/><stop offset=".654" stop-color="#0891d7"/><stop offset=".679" stop-color="#089ad2"/><stop offset=".744" stop-color="#08b5b2"/><stop offset=".756" stop-color="#08bca5"/><stop offset=".769" stop-color="#0dc492"/><stop offset=".782" stop-color="#4bc483"/><stop offset=".795" stop-color="#79c36f"/><stop offset=".808" stop-color="#9ac063"/><stop offset=".833" stop-color="#bdbd54"/><stop offset=".846" stop-color="#cabc4f"/><stop offset=".923" stop-color="#e0b83e"/><stop offset=".949" stop-color="#f3b629"/><stop offset=".962" stop-color="#f7b61e"/><stop offset="1" stop-color="#f7b61e"/></linearGradient>
<linearGradient id="a88" x2="0" y2="1"><stop offset="0" stop-color="#e2b83c"/><stop offset=".09" stop-color="#d4ba48"/><stop offset=".141" stop-color="#b7be56"/><stop offset=".154" stop-color="#a5bf5f"/><stop offset=".167" stop-color="#8ac268"/><stop offset=".192" stop-color="#44c485"/><stop offset=".205" stop-color="#15c490"/><stop offset=".218" stop-color="#06bf9e"/><stop offset=".244" stop-color="#08b3b6"/><stop offset=".308" stop-color="#0894d6"/><stop offset=".321" stop-color="#088fd8"/><stop offset=".346" stop-color="#087bde"/><stop offset=".41" stop-color="#0261e5"/><stop offset=".449" stop-color="#025ae7"/><stop offset=".462" stop-color="#0656e7"/><stop offset=".474" stop-color="#164de1"/><stop offset=".487" stop-color="#0358e8"/><stop offset=".564" stop-color="#0266e4"/><stop offset=".615" stop-color="#0878de"/><stop offset=".654" stop-color="#0891d7"/><stop offset=".679" stop-color="#089ad1"/><stop offset=".744" stop-color="#08b5b2"/><stop offset=".756" stop-color="#08bca4"/><stop offset=".769" stop-color="#10c492"/><stop offset=".782" stop-color="#4ec482"/><stop offset=".795" stop-color="#7bc36e"/><stop offset=".808" stop-color="#9cc063"/><stop offset=".833" stop-color="#bebd54"/><stop offset=".846" stop-color="#cabc4f"/><stop offset=".923" stop-color="#e1b83d"/><stop offset=".949" stop-color="#f5b625"/><stop offset=".962" stop-color="#f9b617"/><stop offset="1" stop-color="#f9b617"/></linearGradient>
<linearGradient id="a89" x2="0" y2="1"><stop offset="0" stop-color="#e3b83a"/><stop offset=".09" stop-color="#d4ba47"/><stop offset=".141" stop-color="#b7be56"/><stop offset=".154" stop-color="#a5bf5f"/><stop offset=".167" stop-color="#8ac268"/><stop offset=".192" stop-color="#44c485"/><stop offset=".205" stop-color="#15c490"/><stop offset=".218" stop-color="#06bf9e"/><stop offset=".244" stop-color="#08b3b6"/><stop offset=".308" stop-color="#0893d6"/><stop offset=".321" stop-color="#088fd8"/><stop offset=".346" stop-color="#087ade"/><stop offset=".397" stop-color="#0264e4"/><stop offset=".449" stop-color="#0358e8"/><stop offset=".462" stop-color="#1f49de"/><stop offset=".474" stop-color="#343bd1"/><stop offset=".5" stop-color="#0258e8"/><stop offset=".564" stop-color="#0266e4"/><stop offset=".615" stop-color="#0878de"/><stop offset=".654" stop-color="#0891d7"/><stop offset=".679" stop-color="#089ad1"/><stop offset=".744" stop-color="#08b5b1"/><stop offset=".756" stop-color="#08bca3"/><stop offset=".769" stop-color="#13c491"/><stop offset=".782" stop-color="#50c481"/><stop offset=".795" stop-color="#7dc26d"/><stop offset=".808" stop-color="#9dc062"/><stop offset=".833" stop-color="#bfbd53"/><stop offset=".846" stop-color="#cabc4e"/><stop offset=".923" stop-color="#e2b83c"/><stop offset=".936" stop-color="#ecb731"/><stop offset=".949" stop-color="#f6b620"/><stop offset=".962" stop-color="#fab611"/><stop offset="1" stop-color="#fab611"/></linearGradient>
<linearGradient id="a90" x2="0" y2="1"><stop offset="0" stop-color="#e4b739"/><stop offset=".09" stop-color="#d4ba47"/><stop offset=".141" stop-color="#b7be56"/><stop offset=".154" stop-color="#a5bf5f"/><stop offset=".167" stop-color="#8ac268"/><stop offset=".192" stop-color="#44c485"/><stop offset=".205" stop-color="#15c490"/><stop offset=".218" stop-color="#06bf9e"/><stop offset=".244" stop-color="#08b3b6"/><stop offset=".308" stop-color="#0893d6"/><stop offset=".321" stop-color="#088ed9"/><stop offset=".346" stop-color="#0879de"/><stop offset=".397" stop-color="#0263e4"/><stop offset=".436" stop-color="#0357e8"/><stop offset=".449" stop-color="#2546dc"/><stop offset=".462" stop-color="#3737ca"/><stop offset=".474" stop-color="#3d2bb7"/><stop offset=".487" stop-color="#3637cb"/><stop offset=".5" stop-color="#2446dc"/><stop offset=".513" stop-color="#0457e7"/><stop offset=".577" stop-color="#036be3"/><stop offset=".615" stop-color="#0878de"/><stop offset=".654" stop-color="#0891d7"/><stop offset=".679" stop-color="#089bd1"/><stop offset=".744" stop-color="#08b6b1"/><stop offset=".756" stop-color="#08bda2"/><stop offset=".769" stop-color="#16c490"/><stop offset=".782" stop-color="#52c480"/><stop offset=".795" stop-color="#7fc26d"/><stop offset=".808" stop-color="#9ec062"/><stop offset=".833" stop-color="#c0bd53"/><stop offset=".859" stop-color="#cfbb4b"/><stop offset=".923" stop-color="#e3b83a"/><stop offset=".936" stop-color="#eeb72f"/><stop offset=".949" stop-color="#f8b61b"/><stop offset=".962" stop-color="#fcb60a"/><stop offset="1" stop-color="#fcb60a"/></linearGradient>
<linearGradient id="a91" x2="0" y2="1"><stop offset="0" stop-color="#e6b738"/><stop offset=".09" stop-color="#d5ba47"/><stop offset=".141" stop-color="#b7be56"/><stop offset=".154" stop-color="#a5bf5f"/><stop offset=".167" stop-color="#8ac268"/><stop offset=".192" stop-color="#44c485"/><stop offset=".205" stop-color="#15c490"/><stop offset=".218" stop-color="#06bf9e"/><stop offset=".244" stop-color="#08b3b6"/><stop offset=".308" stop-color="#0893d6"/><stop offset=".321" stop-color="#088dd9"/><stop offset=".346" stop-color="#0878de"/><stop offset=".397" stop-color="#0262e5"/><stop offset=".423" stop-color="#0756e6"/><stop offset=".436" stop-color="#2d42d9"/><stop offset=".449" stop-color="#3a33c5"/><stop offset=".462" stop-color="#3e26af"/><stop offset=".474" stop-color="#3f1e9f"/><stop offset=".5" stop-color="#3a33c5"/><stop offset=".513" stop-color="#2e41d9"/><stop offset=".526" stop-color="#0954e5"/><stop offset=".538" stop-color="#025de6"/><stop offset=".615" stop-color="#0878de"/><stop offset=".654" stop-color="#0891d7"/><stop offset=".692" stop-color="#08a1cb"/><stop offset=".744" stop-color="#08b6b0"/><stop offset=".756" stop-color="#07bda1"/><stop offset=".769" stop-color="#19c490"/><stop offset=".782" stop-color="#55c47f"/><stop offset=".795" stop-color="#81c26c"/><stop offset=".808" stop-color="#9fc062"/><stop offset=".833" stop-color="#c0bd53"/><stop offset=".846" stop-color="#cbbc4e"/><stop offset=".923" stop-color="#e4b739"/><stop offset=".936" stop-color="#f0b62d"/><stop offset=".949" stop-color="#f9b616"/><stop offset=".962" stop-color="#feb604"/><stop offset="1" stop-color="#feb604"/></linearGradient>
<linearGradient id="a92" x2="0" y2="1"><stop offset="0" stop-color="#e7b736"/><stop offset=".09" stop-color="#d5ba46"/><stop offset=".141" stop-color="#b7be56"/><stop offset=".154" stop-color="#a5bf5f"/><stop offset=".167" stop-color="#8ac268"/><stop offset=".192" stop-color="#44c485"/><stop offset=".205" stop-color="#15c490"/><stop offset=".218" stop-color="#06bf9e"/><stop offset=".244" stop-color="#08b3b6"/><stop offset=".308" stop-color="#0893d7"/><stop offset=".321" stop-color="#088dd9"/><stop offset=".346" stop-color="#0878de"/><stop offset=".397" stop-color="#025fe6"/><stop offset=".41" stop-color="#0d52e4"/><stop offset=".423" stop-color="#323dd4"/><stop offset=".436" stop-color="#3c2fbe"/><stop offset=".449" stop-color="#3f23a9"/><stop offset=".462" stop-color="#3e1c9a"/><stop offset=".474" stop-color="#3c1995"/><stop offset=".487" stop-color="#3e1c9b"/><stop offset=".5" stop-color="#3f23a9"/><stop offset=".513" stop-color="#3c2fbe"/><stop offset=".526" stop-color="#323dd3"/><stop offset=".538" stop-color="#1150e3"/><stop offset=".551" stop-color="#025de6"/><stop offset=".615" stop-color="#0878de"/><stop offset=".654" stop-color="#0892d7"/><stop offset=".692" stop-color="#08a1cb"/><stop offset=".744" stop-color="#08b6b0"/><stop offset=".756" stop-color="#07bea0"/><stop offset=".769" stop-color="#1cc48f"/><stop offset=".782" stop-color="#57c47f"/><stop offset=".795" stop-color="#83c26b"/><stop offset=".808" stop-color="#a0c061"/><stop offset=".833" stop-color="#c1bd53"/><stop offset=".846" stop-color="#cbbb4e"/><stop offset=".923" stop-color="#e6b738"/><stop offset=".936" stop-color="#f1b62b"/><stop offset=".949" stop-color="#fab610"/><stop offset=".962" stop-color="#ffb700"/><stop offset="1" stop-color="#ffb700"/></linearGradient>
<linearGradient id="a93" x2="0" y2="1"><stop offset="0" stop-color="#e8b735"/><stop offset=".09" stop-color="#d6b946"/><stop offset=".141" stop-color="#b7be56"/><stop offset=".154" stop-color="#a5bf5f"/><stop offset=".167" stop-color="#8ac268"/><stop offset=".192" stop-color="#44c485"/><stop offset=".205" stop-color="#15c490"/><stop offset=".218" stop-color="#06bf9e"/><stop offset=".244" stop-color="#08b3b6"/><stop offset=".308" stop-color="#0893d7"/><stop offset=".346" stop-color="#0877de"/><stop offset=".372" stop-color="#036ae3"/><stop offset=".385" stop-color="#025ee6"/><stop offset=".397" stop-color="#164de1"/><stop offset=".41" stop-color="#3539ce"/><stop offset=".436" stop-color="#401fa2"/><stop offset=".449" stop-color="#3d1a97"/><stop offset=".487" stop-color="#3c1994"/><stop offset=".5" stop-color="#3d1a97"/><stop offset=".513" stop-color="#401fa2"/><stop offset=".538" stop-color="#3638cc"/><stop offset=".551" stop-color="#1b4bdf"/><stop offset=".564" stop-color="#025ee6"/><stop offset=".59" stop-color="#046fe2"/><stop offset=".615" stop-color="#0878de"/><stop offset=".654" stop-color="#0892d7"/><stop offset=".705" stop-color="#08a7c5"/><stop offset=".744" stop-color="#08b6af"/><stop offset=".756" stop-color="#07bea0"/><stop offset=".769" stop-color="#1fc48e"/><stop offset=".782" stop-color="#59c47e"/><stop offset=".795" stop-color="#84c26a"/><stop offset=".808" stop-color="#a1c061"/><stop offset=".833" stop-color="#c2bd52"/><stop offset=".859" stop-color="#d0bb4a"/><stop offset=".923" stop-color="#e7b736"/><stop offset=".936" stop-color="#f3b629"/><stop offset=".949" stop-color="#fcb60b"/><stop offset=".962" stop-color="#ffb900"/><stop offset="1" stop-color="#ffb900"/></linearGradient>
<linearGradient id="a94" x2="0" y2="1"><stop offset="0" stop-color="#e9b734"/><stop offset=".09" stop-color="#d6b946"/><stop offset=".141" stop-color="#b7be56"/><stop offset=".154" stop-color="#a5bf5f"/><stop offset=".167" stop-color="#8ac268"/><stop offset=".192" stop-color="#44c485"/><stop offset=".205" stop-color="#15c490"/><stop offset=".218" stop-color="#06bf9e"/><stop offset=".244" stop-color="#08b3b6"/><stop offset=".308" stop-color="#0893d7"/><stop offset=".359" stop-color="#0470e2"/><stop offset=".372" stop-color="#0260e5"/><stop offset=".385" stop-color="#2148dd"/><stop offset=".397" stop-color="#3935c7"/><stop offset=".41" stop-color="#3e26af"/><stop offset=".423" stop-color="#3e1d9d"/><stop offset=".436" stop-color="#3d1995"/><stop offset=".513" stop-color="#3d1995"/><stop offset=".526" stop-color="#3e1d9d"/><stop offset=".538" stop-color="#3f26ae"/><stop offset=".551" stop-color="#3934c5"/><stop offset=".564" stop-color="#2148dd"/><stop offset=".577" stop-color="#025fe6"/><stop offset=".59" stop-color="#036ce3"/><stop offset=".628" stop-color="#0881dc"/><stop offset=".654" stop-color="#0892d7"/><stop offset=".692" stop-color="#08a2ca"/><stop offset=".744" stop-color="#08b6af"/><stop offset=".756" stop-color="#07be9f"/><stop offset=".769" stop-color="#20c48e"/><stop offset=".782" stop-color="#5ac47d"/><stop offset=".795" stop-color="#85c26a"/><stop offset=".808" stop-color="#a1c060"/><stop offset=".833" stop-color="#c2bd52"/><stop offset=".859" stop-color="#d0bb4a"/><stop offset=".923" stop-color="#e7b736"/><stop offset=".936" stop-color="#f4b627"/><stop offset=".949" stop-color="#fdb609"/><stop offset=".962" stop-color="#ffba00"/><stop offset="1" stop-color="#ffba00"/></linearGradient>
<linearGradient id="a95" x2="0" y2="1"><stop offset="0" stop-color="#e9b734"/><stop offset=".09" stop-color="#d6b946"/><stop offset=".141" stop-color="#b7be56"/><stop offset=".154" stop-color="#a5bf5f"/><stop offset=".167" stop-color="#8ac268"/><stop offset=".192" stop-color="#44c485"/><stop offset=".205" stop-color="#15c490"/><stop offset=".218" stop-color="#06bf9e"/><stop offset=".244" stop-color="#08b3b6"/><stop offset=".308" stop-color="#0893d7"/><stop offset=".321" stop-color="#088cd9"/><stop offset=".359" stop-color="#0262e5"/><stop offset=".372" stop-color="#2347dc"/><stop offset=".385" stop-color="#3c30c0"/><stop offset=".397" stop-color="#4022a7"/><stop offset=".41" stop-color="#3d1b99"/><stop offset=".436" stop-color="#3c1994"/><stop offset=".526" stop-color="#3c1994"/><stop offset=".538" stop-color="#3d1b99"/><stop offset=".551" stop-color="#4022a7"/><stop offset=".564" stop-color="#3c30c0"/><stop offset=".577" stop-color="#2745db"/><stop offset=".59" stop-color="#025fe6"/><stop offset=".603" stop-color="#046ee2"/><stop offset=".628" stop-color="#0881dc"/><stop offset=".654" stop-color="#0892d7"/><stop offset=".692" stop-color="#08a2ca"/><stop offset=".744" stop-color="#08b6af"/><stop offset=".756" stop-color="#07be9f"/><stop offset=".769" stop-color="#20c48e"/><stop offset=".782" stop-color="#5ac47d"/><stop offset=".795" stop-color="#85c26a"/><stop offset=".808" stop-color="#a1c060"/><stop offset=".833" stop-color="#c2bd52"/><stop offset=".859" stop-color="#d0bb4a"/><stop offset=".923" stop-color="#e7b736"/><stop offset=".936" stop-color="#f4b627"/><stop offset=".949" stop-color="#fdb609"/><stop offset=".962" stop-color="#ffba00"/><stop offset="1" stop-color="#ffba00"/></linearGradient>
<clipPath id="clipA"><path d="M59.8 4.8 L240 3.6 L420 1.5 L520 0 L801.6 0 L798.4 120 L795 221.5 L700 225.5 L580 227.6 L300 227.8 L62 227.6 Z"/></clipPath>
<filter id="hb" x="-5%" y="-5%" width="110%" height="110%"><feGaussianBlur stdDeviation="4 0.6"/></filter>
<linearGradient id="b0" x2="0" y2="1"><stop offset="0" stop-color="#05b891"/><stop offset=".133" stop-color="#08b39d"/><stop offset=".278" stop-color="#08a3b6"/><stop offset=".3" stop-color="#0894c6"/><stop offset=".411" stop-color="#056dd6"/><stop offset=".433" stop-color="#0262d9"/><stop offset=".444" stop-color="#0258da"/><stop offset=".456" stop-color="#1749d5"/><stop offset=".467" stop-color="#3137c5"/><stop offset=".478" stop-color="#3a2bb2"/><stop offset=".5" stop-color="#3b1a92"/><stop offset=".511" stop-color="#381689"/><stop offset=".6" stop-color="#381486"/><stop offset=".622" stop-color="#3b1c95"/><stop offset=".644" stop-color="#392db4"/><stop offset=".656" stop-color="#3137c5"/><stop offset=".667" stop-color="#1649d6"/><stop offset=".678" stop-color="#0259da"/><stop offset=".7" stop-color="#046ad7"/><stop offset=".789" stop-color="#088acd"/><stop offset=".822" stop-color="#0890c8"/><stop offset=".844" stop-color="#08a5b3"/><stop offset=".944" stop-color="#08b39d"/><stop offset=".978" stop-color="#05b891"/><stop offset="1" stop-color="#05b891"/></linearGradient>
<linearGradient id="b1" x2="0" y2="1"><stop offset="0" stop-color="#05b891"/><stop offset=".133" stop-color="#08b39d"/><stop offset=".278" stop-color="#08a3b6"/><stop offset=".3" stop-color="#0894c6"/><stop offset=".411" stop-color="#056dd6"/><stop offset=".433" stop-color="#0366d8"/><stop offset=".456" stop-color="#0255dc"/><stop offset=".467" stop-color="#2342d1"/><stop offset=".478" stop-color="#3433bf"/><stop offset=".5" stop-color="#3d1e9c"/><stop offset=".522" stop-color="#381588"/><stop offset=".589" stop-color="#381486"/><stop offset=".6" stop-color="#39168a"/><stop offset=".622" stop-color="#3c21a1"/><stop offset=".644" stop-color="#3335c2"/><stop offset=".656" stop-color="#2641d0"/><stop offset=".667" stop-color="#0255dc"/><stop offset=".689" stop-color="#0366d8"/><stop offset=".778" stop-color="#0886ce"/><stop offset=".822" stop-color="#0890c8"/><stop offset=".833" stop-color="#08a0ba"/><stop offset=".844" stop-color="#08a5b3"/><stop offset=".944" stop-color="#08b39d"/><stop offset=".978" stop-color="#05b891"/><stop offset="1" stop-color="#05b891"/></linearGradient>
<linearGradient id="b2" x2="0" y2="1"><stop offset="0" stop-color="#05b891"/><stop offset=".133" stop-color="#08b39d"/><stop offset=".278" stop-color="#08a3b6"/><stop offset=".289" stop-color="#089fbb"/><stop offset=".3" stop-color="#0894c6"/><stop offset=".411" stop-color="#056dd6"/><stop offset=".444" stop-color="#0362d8"/><stop offset=".456" stop-color="#025ada"/><stop offset=".467" stop-color="#0b4fda"/><stop offset=".478" stop-color="#2f3ccc"/><stop offset=".5" stop-color="#3b26a8"/><stop offset=".522" stop-color="#3a188e"/><stop offset=".533" stop-color="#381587"/><stop offset=".589" stop-color="#381689"/><stop offset=".611" stop-color="#3d1f9d"/><stop offset=".633" stop-color="#3532be"/><stop offset=".644" stop-color="#2d3dcd"/><stop offset=".656" stop-color="#104cd8"/><stop offset=".667" stop-color="#0259da"/><stop offset=".7" stop-color="#046ad7"/><stop offset=".789" stop-color="#088acd"/><stop offset=".822" stop-color="#0891c8"/><stop offset=".833" stop-color="#08a2b7"/><stop offset=".967" stop-color="#06b695"/><stop offset=".989" stop-color="#05b891"/><stop offset="1" stop-color="#05b891"/></linearGradient>
<linearGradient id="b3" x2="0" y2="1"><stop offset="0" stop-color="#05b891"/><stop offset=".133" stop-color="#08b39d"/><stop offset=".289" stop-color="#08a1b9"/><stop offset=".3" stop-color="#0895c5"/><stop offset=".356" stop-color="#0881d0"/><stop offset=".456" stop-color="#025fd9"/><stop offset=".467" stop-color="#0256db"/><stop offset=".478" stop-color="#1848d5"/><stop offset=".489" stop-color="#3038c7"/><stop offset=".5" stop-color="#392eb6"/><stop offset=".522" stop-color="#3c1c96"/><stop offset=".544" stop-color="#381587"/><stop offset=".578" stop-color="#381588"/><stop offset=".6" stop-color="#3d1d9a"/><stop offset=".622" stop-color="#3730ba"/><stop offset=".633" stop-color="#303bca"/><stop offset=".656" stop-color="#0255dc"/><stop offset=".678" stop-color="#0363d8"/><stop offset=".789" stop-color="#088acd"/><stop offset=".811" stop-color="#088dcb"/><stop offset=".822" stop-color="#0894c6"/><stop offset=".833" stop-color="#08a4b4"/><stop offset=".944" stop-color="#08b39d"/><stop offset=".978" stop-color="#05b891"/><stop offset="1" stop-color="#05b891"/></linearGradient>
<linearGradient id="b4" x2="0" y2="1"><stop offset="0" stop-color="#05b891"/><stop offset=".133" stop-color="#08b39d"/><stop offset=".278" stop-color="#08a3b6"/><stop offset=".289" stop-color="#08a2b7"/><stop offset=".3" stop-color="#0896c4"/><stop offset=".344" stop-color="#0887ce"/><stop offset=".411" stop-color="#056dd6"/><stop offset=".456" stop-color="#0262d9"/><stop offset=".478" stop-color="#0353dc"/><stop offset=".489" stop-color="#2342d1"/><stop offset=".5" stop-color="#3336c3"/><stop offset=".522" stop-color="#3c21a2"/><stop offset=".544" stop-color="#39178b"/><stop offset=".556" stop-color="#381486"/><stop offset=".567" stop-color="#381587"/><stop offset=".589" stop-color="#3c1c98"/><stop offset=".611" stop-color="#392eb7"/><stop offset=".622" stop-color="#3138c7"/><stop offset=".633" stop-color="#1e45d3"/><stop offset=".644" stop-color="#0553db"/><stop offset=".689" stop-color="#0367d8"/><stop offset=".778" stop-color="#0886ce"/><stop offset=".811" stop-color="#088dcb"/><stop offset=".833" stop-color="#08a4b4"/><stop offset=".944" stop-color="#08b39d"/><stop offset=".978" stop-color="#05b891"/><stop offset="1" stop-color="#05b891"/></linearGradient>
<linearGradient id="b5" x2="0" y2="1"><stop offset="0" stop-color="#05b891"/><stop offset=".133" stop-color="#08b39d"/><stop offset=".278" stop-color="#08a3b6"/><stop offset=".289" stop-color="#08a2b7"/><stop offset=".311" stop-color="#0890c8"/><stop offset=".411" stop-color="#056dd6"/><stop offset=".467" stop-color="#025ed9"/><stop offset=".478" stop-color="#0257db"/><stop offset=".489" stop-color="#0e4dd8"/><stop offset=".5" stop-color="#2b3ece"/><stop offset=".511" stop-color="#3533bf"/><stop offset=".533" stop-color="#3d1f9f"/><stop offset=".556" stop-color="#39168a"/><stop offset=".567" stop-color="#39178c"/><stop offset=".589" stop-color="#3c22a2"/><stop offset=".611" stop-color="#3236c3"/><stop offset=".622" stop-color="#2542d0"/><stop offset=".633" stop-color="#0a4fda"/><stop offset=".644" stop-color="#0256db"/><stop offset=".789" stop-color="#088acd"/><stop offset=".811" stop-color="#088dcb"/><stop offset=".822" stop-color="#089dbd"/><stop offset=".833" stop-color="#08a4b4"/><stop offset=".944" stop-color="#08b39d"/><stop offset=".978" stop-color="#05b891"/><stop offset="1" stop-color="#05b891"/></linearGradient>
<linearGradient id="b6" x2="0" y2="1"><stop offset="0" stop-color="#05b891"/><stop offset=".133" stop-color="#08b39d"/><stop offset=".278" stop-color="#08a3b6"/><stop offset=".289" stop-color="#08a2b7"/><stop offset=".311" stop-color="#0890c8"/><stop offset=".411" stop-color="#056dd6"/><stop offset=".478" stop-color="#025bda"/><stop offset=".489" stop-color="#0255dc"/><stop offset=".511" stop-color="#2f3bca"/><stop offset=".533" stop-color="#3b27ab"/><stop offset=".556" stop-color="#3a198f"/><stop offset=".567" stop-color="#3b1b93"/><stop offset=".589" stop-color="#3a2ab0"/><stop offset=".611" stop-color="#2c3ece"/><stop offset=".622" stop-color="#114cd7"/><stop offset=".633" stop-color="#0256db"/><stop offset=".811" stop-color="#088eca"/><stop offset=".822" stop-color="#08a1b9"/><stop offset=".967" stop-color="#06b695"/><stop offset=".989" stop-color="#05b891"/><stop offset="1" stop-color="#05b891"/></linearGradient>
<linearGradient id="b7" x2="0" y2="1"><stop offset="0" stop-color="#05b891"/><stop offset=".133" stop-color="#08b39d"/><stop offset=".3" stop-color="#089fbb"/><stop offset=".311" stop-color="#0891c8"/><stop offset=".411" stop-color="#056dd6"/><stop offset=".489" stop-color="#0258da"/><stop offset=".5" stop-color="#0453db"/><stop offset=".511" stop-color="#1d45d3"/><stop offset=".522" stop-color="#3039c7"/><stop offset=".544" stop-color="#3b25a7"/><stop offset=".556" stop-color="#3c1c99"/><stop offset=".567" stop-color="#3d1f9d"/><stop offset=".589" stop-color="#3631bc"/><stop offset=".6" stop-color="#2f3bca"/><stop offset=".622" stop-color="#0254dc"/><stop offset=".678" stop-color="#0363d8"/><stop offset=".789" stop-color="#088acd"/><stop offset=".8" stop-color="#088bcc"/><stop offset=".811" stop-color="#0891c8"/><stop offset=".822" stop-color="#08a2b7"/><stop offset=".944" stop-color="#08b39d"/><stop offset=".978" stop-color="#05b891"/><stop offset="1" stop-color="#05b891"/></linearGradient>
<linearGradient id="b8" x2="0" y2="1"><stop offset="0" stop-color="#05b891"/><stop offset=".133" stop-color="#08b39d"/><stop offset=".278" stop-color="#08a3b6"/><stop offset=".3" stop-color="#08a1b9"/><stop offset=".311" stop-color="#0893c7"/><stop offset=".356" stop-color="#0881d0"/><stop offset=".433" stop-color="#0468d7"/><stop offset=".5" stop-color="#0256db"/><stop offset=".511" stop-color="#0b4fda"/><stop offset=".522" stop-color="#2542d0"/><stop offset=".533" stop-color="#3236c3"/><stop offset=".556" stop-color="#3c23a3"/><stop offset=".567" stop-color="#3b26a8"/><stop offset=".589" stop-color="#3039c8"/><stop offset=".611" stop-color="#0851da"/><stop offset=".622" stop-color="#0256db"/><stop offset=".656" stop-color="#025ada"/><stop offset=".789" stop-color="#088acd"/><stop offset=".8" stop-color="#088bcc"/><stop offset=".822" stop-color="#08a3b6"/><stop offset=".933" stop-color="#08b1a0"/><stop offset=".978" stop-color="#05b891"/><stop offset="1" stop-color="#05b891"/></linearGradient>
<linearGradient id="b9" x2="0" y2="1"><stop offset="0" stop-color="#05b891"/><stop offset=".133" stop-color="#08b39d"/><stop offset=".278" stop-color="#08a3b6"/><stop offset=".3" stop-color="#08a2b8"/><stop offset=".322" stop-color="#088dcb"/><stop offset=".411" stop-color="#056dd6"/><stop offset=".511" stop-color="#0255dc"/><stop offset=".522" stop-color="#124bd7"/><stop offset=".533" stop-color="#2c3ece"/><stop offset=".556" stop-color="#3a2ab0"/><stop offset=".567" stop-color="#392db5"/><stop offset=".578" stop-color="#3236c4"/><stop offset=".589" stop-color="#2542d0"/><stop offset=".6" stop-color="#0d4ed9"/><stop offset=".611" stop-color="#0256db"/><stop offset=".656" stop-color="#025ada"/><stop offset=".789" stop-color="#088acd"/><stop offset=".8" stop-color="#088bcc"/><stop offset=".811" stop-color="#089bbf"/><stop offset=".822" stop-color="#08a3b6"/><stop offset=".933" stop-color="#08b1a0"/><stop offset=".978" stop-color="#05b891"/><stop offset="1" stop-color="#05b891"/></linearGradient>
<linearGradient id="b10" x2="0" y2="1"><stop offset="0" stop-color="#05b891"/><stop offset=".133" stop-color="#08b39d"/><stop offset=".278" stop-color="#08a3b6"/><stop offset=".3" stop-color="#08a2b8"/><stop offset=".311" stop-color="#089ac0"/><stop offset=".322" stop-color="#088dcb"/><stop offset=".411" stop-color="#056dd6"/><stop offset=".522" stop-color="#0353dc"/><stop offset=".544" stop-color="#303bca"/><stop offset=".556" stop-color="#3631bc"/><stop offset=".567" stop-color="#3434c1"/><stop offset=".578" stop-color="#2c3ece"/><stop offset=".589" stop-color="#134ad7"/><stop offset=".6" stop-color="#0254dc"/><stop offset=".656" stop-color="#025ada"/><stop offset=".789" stop-color="#088acd"/><stop offset=".8" stop-color="#088dcb"/><stop offset=".811" stop-color="#08a0ba"/><stop offset=".944" stop-color="#08b39d"/><stop offset=".978" stop-color="#05b891"/><stop offset="1" stop-color="#05b891"/></linearGradient>
<linearGradient id="b11" x2="0" y2="1"><stop offset="0" stop-color="#05b891"/><stop offset=".133" stop-color="#08b39d"/><stop offset=".311" stop-color="#089ebc"/><stop offset=".322" stop-color="#088eca"/><stop offset=".411" stop-color="#056dd6"/><stop offset=".5" stop-color="#0259da"/><stop offset=".522" stop-color="#0256db"/><stop offset=".533" stop-color="#0a50da"/><stop offset=".544" stop-color="#2043d2"/><stop offset=".556" stop-color="#3138c7"/><stop offset=".567" stop-color="#2f3bcb"/><stop offset=".589" stop-color="#0652db"/><stop offset=".611" stop-color="#0257db"/><stop offset=".656" stop-color="#025ada"/><stop offset=".789" stop-color="#088acd"/><stop offset=".8" stop-color="#0890c8"/><stop offset=".811" stop-color="#08a2b8"/><stop offset=".933" stop-color="#08b1a0"/><stop offset=".978" stop-color="#05b891"/><stop offset="1" stop-color="#05b891"/></linearGradient>
<linearGradient id="b12" x2="0" y2="1"><stop offset="0" stop-color="#05b891"/><stop offset=".133" stop-color="#08b39d"/><stop offset=".278" stop-color="#08a3b6"/><stop offset=".311" stop-color="#08a0ba"/><stop offset=".322" stop-color="#0891c8"/><stop offset=".367" stop-color="#087dd1"/><stop offset=".433" stop-color="#0468d7"/><stop offset=".5" stop-color="#0259da"/><stop offset=".533" stop-color="#0255dc"/><stop offset=".544" stop-color="#104cd8"/><stop offset=".556" stop-color="#2740cf"/><stop offset=".567" stop-color="#1f44d2"/><stop offset=".578" stop-color="#0b4fda"/><stop offset=".589" stop-color="#0255dc"/><stop offset=".656" stop-color="#025ada"/><stop offset=".789" stop-color="#088acd"/><stop offset=".811" stop-color="#08a2b7"/><stop offset=".922" stop-color="#08afa2"/><stop offset=".978" stop-color="#05b891"/><stop offset="1" stop-color="#05b891"/></linearGradient>
<linearGradient id="b13" x2="0" y2="1"><stop offset="0" stop-color="#05b891"/><stop offset=".133" stop-color="#08b39d"/><stop offset=".278" stop-color="#08a3b6"/><stop offset=".311" stop-color="#08a1b9"/><stop offset=".333" stop-color="#088bcc"/><stop offset=".411" stop-color="#056dd6"/><stop offset=".5" stop-color="#0259da"/><stop offset=".544" stop-color="#0553db"/><stop offset=".556" stop-color="#1748d5"/><stop offset=".567" stop-color="#104cd8"/><stop offset=".578" stop-color="#0254dc"/><stop offset=".656" stop-color="#025ada"/><stop offset=".778" stop-color="#0886ce"/><stop offset=".789" stop-color="#088bcc"/><stop offset=".8" stop-color="#089bbf"/><stop offset=".811" stop-color="#08a2b7"/><stop offset=".922" stop-color="#08afa2"/><stop offset=".978" stop-color="#05b891"/><stop offset="1" stop-color="#05b891"/></linearGradient>
<linearGradient id="b14" x2="0" y2="1"><stop offset="0" stop-color="#05b891"/><stop offset=".133" stop-color="#08b39d"/><stop offset=".278" stop-color="#08a3b6"/><stop offset=".311" stop-color="#08a1b9"/><stop offset=".322" stop-color="#089ac0"/><stop offset=".333" stop-color="#088bcc"/><stop offset=".411" stop-color="#056dd6"/><stop offset=".5" stop-color="#0259da"/><stop offset=".544" stop-color="#0255dc"/><stop offset=".556" stop-color="#0a4fda"/><stop offset=".578" stop-color="#0255dc"/><stop offset=".656" stop-color="#025ada"/><stop offset=".778" stop-color="#0886ce"/><stop offset=".789" stop-color="#088dcb"/><stop offset=".8" stop-color="#089fbb"/><stop offset=".933" stop-color="#08b1a0"/><stop offset=".978" stop-color="#05b891"/><stop offset="1" stop-color="#05b891"/></linearGradient>
<linearGradient id="b15" x2="0" y2="1"><stop offset="0" stop-color="#05b891"/><stop offset=".133" stop-color="#08b39d"/><stop offset=".278" stop-color="#08a3b6"/><stop offset=".322" stop-color="#089ebc"/><stop offset=".333" stop-color="#088eca"/><stop offset=".389" stop-color="#0874d3"/><stop offset=".5" stop-color="#0259da"/><stop offset=".578" stop-color="#0255dc"/><stop offset=".656" stop-color="#025ada"/><stop offset=".778" stop-color="#0886ce"/><stop offset=".789" stop-color="#0892c8"/><stop offset=".8" stop-color="#08a2b8"/><stop offset=".911" stop-color="#08aea5"/><stop offset=".978" stop-color="#05b891"/><stop offset="1" stop-color="#05b891"/></linearGradient>
<linearGradient id="b16" x2="0" y2="1"><stop offset="0" stop-color="#05b891"/><stop offset=".133" stop-color="#08b39d"/><stop offset=".278" stop-color="#08a3b6"/><stop offset=".322" stop-color="#08a0ba"/><stop offset=".333" stop-color="#0892c8"/><stop offset=".344" stop-color="#0887ce"/><stop offset=".411" stop-color="#056dd6"/><stop offset=".5" stop-color="#0259da"/><stop offset=".578" stop-color="#0255dc"/><stop offset=".656" stop-color="#025ada"/><stop offset=".767" stop-color="#0881d0"/><stop offset=".778" stop-color="#0889cd"/><stop offset=".789" stop-color="#0898c2"/><stop offset=".8" stop-color="#08a2b8"/><stop offset=".911" stop-color="#08aea5"/><stop offset=".978" stop-color="#05b891"/><stop offset="1" stop-color="#05b891"/></linearGradient>
<linearGradient id="b17" x2="0" y2="1"><stop offset="0" stop-color="#05b891"/><stop offset=".133" stop-color="#08b39d"/><stop offset=".278" stop-color="#08a3b6"/><stop offset=".322" stop-color="#08a0ba"/><stop offset=".344" stop-color="#088acd"/><stop offset=".367" stop-color="#087dd1"/><stop offset=".433" stop-color="#0468d7"/><stop offset=".5" stop-color="#0259da"/><stop offset=".578" stop-color="#0255dc"/><stop offset=".656" stop-color="#025ada"/><stop offset=".767" stop-color="#0881d0"/><stop offset=".778" stop-color="#088ccc"/><stop offset=".789" stop-color="#089dbd"/><stop offset=".811" stop-color="#08a2b7"/><stop offset=".922" stop-color="#08afa2"/><stop offset=".978" stop-color="#05b891"/><stop offset="1" stop-color="#05b891"/></linearGradient>
<linearGradient id="b18" x2="0" y2="1"><stop offset="0" stop-color="#05b891"/><stop offset=".133" stop-color="#08b39d"/><stop offset=".278" stop-color="#08a3b6"/><stop offset=".333" stop-color="#089cbe"/><stop offset=".344" stop-color="#088ccc"/><stop offset=".356" stop-color="#0881d0"/><stop offset=".433" stop-color="#0468d7"/><stop offset=".5" stop-color="#0259da"/><stop offset=".578" stop-color="#0255dc"/><stop offset=".656" stop-color="#025ada"/><stop offset=".767" stop-color="#0882cf"/><stop offset=".778" stop-color="#088fc8"/><stop offset=".789" stop-color="#08a0ba"/><stop offset=".911" stop-color="#08aea5"/><stop offset=".978" stop-color="#05b891"/><stop offset="1" stop-color="#05b891"/></linearGradient>
<linearGradient id="b19" x2="0" y2="1"><stop offset="0" stop-color="#05b891"/><stop offset=".133" stop-color="#08b39d"/><stop offset=".278" stop-color="#08a3b6"/><stop offset=".333" stop-color="#089ebc"/><stop offset=".344" stop-color="#0890c8"/><stop offset=".356" stop-color="#0882cf"/><stop offset=".422" stop-color="#046ad7"/><stop offset=".5" stop-color="#0259da"/><stop offset=".578" stop-color="#0255dc"/><stop offset=".656" stop-color="#025ada"/><stop offset=".756" stop-color="#087cd1"/><stop offset=".767" stop-color="#0887ce"/><stop offset=".778" stop-color="#0896c4"/><stop offset=".789" stop-color="#08a0ba"/><stop offset=".911" stop-color="#08aea5"/><stop offset=".978" stop-color="#05b891"/><stop offset="1" stop-color="#05b891"/></linearGradient>
<linearGradient id="b20" x2="0" y2="1"><stop offset="0" stop-color="#05b891"/><stop offset=".133" stop-color="#08b39d"/><stop offset=".278" stop-color="#08a3b6"/><stop offset=".333" stop-color="#089fbb"/><stop offset=".344" stop-color="#0896c4"/><stop offset=".356" stop-color="#0888cd"/><stop offset=".367" stop-color="#087dd1"/><stop offset=".433" stop-color="#0468d7"/><stop offset=".5" stop-color="#0259da"/><stop offset=".578" stop-color="#0255dc"/><stop offset=".656" stop-color="#025ada"/><stop offset=".756" stop-color="#087cd1"/><stop offset=".767" stop-color="#088bcc"/><stop offset=".778" stop-color="#089bbf"/><stop offset=".811" stop-color="#08a2b7"/><stop offset=".922" stop-color="#08afa2"/><stop offset=".978" stop-color="#05b891"/><stop offset="1" stop-color="#05b891"/></linearGradient>
<linearGradient id="b21" x2="0" y2="1"><stop offset="0" stop-color="#05b891"/><stop offset=".133" stop-color="#08b39d"/><stop offset=".278" stop-color="#08a3b6"/><stop offset=".344" stop-color="#089bbf"/><stop offset=".356" stop-color="#088ccc"/><stop offset=".367" stop-color="#087dd1"/><stop offset=".433" stop-color="#0468d7"/><stop offset=".5" stop-color="#0259da"/><stop offset=".578" stop-color="#0255dc"/><stop offset=".656" stop-color="#025ada"/><stop offset=".744" stop-color="#0878d2"/><stop offset=".756" stop-color="#087fd0"/><stop offset=".767" stop-color="#088fc9"/><stop offset=".778" stop-color="#089fbb"/><stop offset=".9" stop-color="#08ada8"/><stop offset=".978" stop-color="#05b891"/><stop offset="1" stop-color="#05b891"/></linearGradient>
<linearGradient id="b22" x2="0" y2="1"><stop offset="0" stop-color="#05b891"/><stop offset=".133" stop-color="#08b39d"/><stop offset=".278" stop-color="#08a3b6"/><stop offset=".344" stop-color="#089dbd"/><stop offset=".367" stop-color="#0881d0"/><stop offset=".389" stop-color="#0874d3"/><stop offset=".5" stop-color="#0259da"/><stop offset=".578" stop-color="#0255dc"/><stop offset=".656" stop-color="#025ada"/><stop offset=".744" stop-color="#0878d2"/><stop offset=".756" stop-color="#0887ce"/><stop offset=".767" stop-color="#0896c4"/><stop offset=".778" stop-color="#089fbb"/><stop offset=".9" stop-color="#08ada8"/><stop offset=".978" stop-color="#05b891"/><stop offset="1" stop-color="#05b891"/></linearGradient>
<linearGradient id="b23" x2="0" y2="1"><stop offset="0" stop-color="#05b891"/><stop offset=".133" stop-color="#08b39d"/><stop offset=".278" stop-color="#08a3b6"/><stop offset=".344" stop-color="#089ebc"/><stop offset=".356" stop-color="#0896c4"/><stop offset=".378" stop-color="#0879d2"/><stop offset=".489" stop-color="#025ada"/><stop offset=".578" stop-color="#0255dc"/><stop offset=".656" stop-color="#025ada"/><stop offset=".733" stop-color="#0874d3"/><stop offset=".744" stop-color="#087bd2"/><stop offset=".756" stop-color="#088ccc"/><stop offset=".767" stop-color="#089bbf"/><stop offset=".922" stop-color="#08afa2"/><stop offset=".978" stop-color="#05b891"/><stop offset="1" stop-color="#05b890"/></linearGradient>
<linearGradient id="b24" x2="0" y2="1"><stop offset="0" stop-color="#05b88f"/><stop offset=".144" stop-color="#08b19f"/><stop offset=".278" stop-color="#08a3b6"/><stop offset=".356" stop-color="#089bbf"/><stop offset=".367" stop-color="#088dcb"/><stop offset=".378" stop-color="#087cd1"/><stop offset=".4" stop-color="#0770d4"/><stop offset=".5" stop-color="#0259da"/><stop offset=".578" stop-color="#0255dc"/><stop offset=".656" stop-color="#025ada"/><stop offset=".733" stop-color="#0874d3"/><stop offset=".744" stop-color="#0881d0"/><stop offset=".767" stop-color="#089ebc"/><stop offset=".889" stop-color="#08abab"/><stop offset=".989" stop-color="#05b890"/><stop offset="1" stop-color="#04b98e"/></linearGradient>
<linearGradient id="b25" x2="0" y2="1"><stop offset="0" stop-color="#04b98e"/><stop offset=".144" stop-color="#08b19f"/><stop offset=".278" stop-color="#08a3b6"/><stop offset=".356" stop-color="#089dbd"/><stop offset=".378" stop-color="#0885ce"/><stop offset=".389" stop-color="#0874d3"/><stop offset=".5" stop-color="#0259da"/><stop offset=".578" stop-color="#0255dc"/><stop offset=".656" stop-color="#025ada"/><stop offset=".722" stop-color="#0770d4"/><stop offset=".733" stop-color="#0877d2"/><stop offset=".756" stop-color="#0898c2"/><stop offset=".778" stop-color="#089fbb"/><stop offset=".9" stop-color="#08ada8"/><stop offset=".989" stop-color="#04b98e"/><stop offset="1" stop-color="#07ba8c"/></linearGradient>
<linearGradient id="b26" x2="0" y2="1"><stop offset="0" stop-color="#0bba8b"/><stop offset=".011" stop-color="#04ba8d"/><stop offset=".144" stop-color="#08b19f"/><stop offset=".278" stop-color="#08a3b6"/><stop offset=".356" stop-color="#089dbd"/><stop offset=".367" stop-color="#0898c2"/><stop offset=".389" stop-color="#087ad2"/><stop offset=".4" stop-color="#0770d4"/><stop offset=".5" stop-color="#0259da"/><stop offset=".578" stop-color="#0255dc"/><stop offset=".656" stop-color="#025ada"/><stop offset=".722" stop-color="#0770d4"/><stop offset=".744" stop-color="#088ec9"/><stop offset=".756" stop-color="#089cbe"/><stop offset=".9" stop-color="#08ada8"/><stop offset=".956" stop-color="#07b499"/><stop offset=".978" stop-color="#04b98e"/><stop offset="1" stop-color="#12ba8a"/></linearGradient>
<linearGradient id="b27" x2="0" y2="1"><stop offset="0" stop-color="#16ba89"/><stop offset=".022" stop-color="#07ba8c"/><stop offset=".078" stop-color="#07b596"/><stop offset=".144" stop-color="#08b19f"/><stop offset=".278" stop-color="#08a3b6"/><stop offset=".367" stop-color="#089bbf"/><stop offset=".389" stop-color="#0882cf"/><stop offset=".4" stop-color="#0871d3"/><stop offset=".489" stop-color="#025ada"/><stop offset=".578" stop-color="#0255dc"/><stop offset=".656" stop-color="#025ada"/><stop offset=".722" stop-color="#0874d3"/><stop offset=".733" stop-color="#0889cd"/><stop offset=".756" stop-color="#089dbd"/><stop offset=".889" stop-color="#08abab"/><stop offset=".956" stop-color="#07b597"/><stop offset=".967" stop-color="#05b890"/><stop offset=".989" stop-color="#13ba89"/><stop offset="1" stop-color="#1cba87"/></linearGradient>
<linearGradient id="b28" x2="0" y2="1"><stop offset="0" stop-color="#23ba86"/><stop offset=".033" stop-color="#07ba8c"/><stop offset=".211" stop-color="#08aaad"/><stop offset=".367" stop-color="#089cbe"/><stop offset=".378" stop-color="#0896c4"/><stop offset=".389" stop-color="#088bcc"/><stop offset=".4" stop-color="#0879d2"/><stop offset=".411" stop-color="#066dd5"/><stop offset=".5" stop-color="#0259da"/><stop offset=".578" stop-color="#0255dc"/><stop offset=".656" stop-color="#025ada"/><stop offset=".711" stop-color="#066fd5"/><stop offset=".733" stop-color="#088eca"/><stop offset=".744" stop-color="#089ac0"/><stop offset=".9" stop-color="#08ada8"/><stop offset=".944" stop-color="#08b49a"/><stop offset=".967" stop-color="#04ba8e"/><stop offset=".978" stop-color="#15ba89"/><stop offset="1" stop-color="#2dba84"/></linearGradient>
<linearGradient id="b29" x2="0" y2="1"><stop offset="0" stop-color="#38ba81"/><stop offset=".044" stop-color="#08ba8c"/><stop offset=".078" stop-color="#06b694"/><stop offset=".289" stop-color="#08a2b7"/><stop offset=".378" stop-color="#089ac0"/><stop offset=".4" stop-color="#0883cf"/><stop offset=".411" stop-color="#0871d3"/><stop offset=".433" stop-color="#0468d7"/><stop offset=".5" stop-color="#0259da"/><stop offset=".578" stop-color="#0255dc"/><stop offset=".656" stop-color="#025ada"/><stop offset=".7" stop-color="#046bd7"/><stop offset=".711" stop-color="#0875d2"/><stop offset=".722" stop-color="#0889cd"/><stop offset=".744" stop-color="#089cbe"/><stop offset=".878" stop-color="#08aaad"/><stop offset=".933" stop-color="#08b29d"/><stop offset=".956" stop-color="#05b88f"/><stop offset=".967" stop-color="#0eba8b"/><stop offset=".978" stop-color="#25ba86"/><stop offset="1" stop-color="#45ba7c"/></linearGradient>
<linearGradient id="b30" x2="0" y2="1"><stop offset="0" stop-color="#67ba70"/><stop offset=".011" stop-color="#47ba7c"/><stop offset=".056" stop-color="#09ba8c"/><stop offset=".078" stop-color="#05b792"/><stop offset=".256" stop-color="#08a5b4"/><stop offset=".378" stop-color="#089bbf"/><stop offset=".389" stop-color="#0896c4"/><stop offset=".411" stop-color="#087bd1"/><stop offset=".422" stop-color="#066dd5"/><stop offset=".478" stop-color="#025cda"/><stop offset=".567" stop-color="#0255dc"/><stop offset=".656" stop-color="#025ada"/><stop offset=".689" stop-color="#0368d8"/><stop offset=".7" stop-color="#0770d4"/><stop offset=".722" stop-color="#088eca"/><stop offset=".733" stop-color="#0899c1"/><stop offset=".889" stop-color="#08abab"/><stop offset=".933" stop-color="#07b499"/><stop offset=".944" stop-color="#05b792"/><stop offset=".956" stop-color="#0eba8b"/><stop offset=".978" stop-color="#3eba7f"/><stop offset=".989" stop-color="#5aba76"/><stop offset="1" stop-color="#88b762"/></linearGradient>
<linearGradient id="b31" x2="0" y2="1"><stop offset="0" stop-color="#a9b454"/><stop offset=".011" stop-color="#8bb761"/><stop offset=".033" stop-color="#46ba7c"/><stop offset=".067" stop-color="#10ba8a"/><stop offset=".078" stop-color="#04b98e"/><stop offset=".2" stop-color="#08abab"/><stop offset=".389" stop-color="#0899c1"/><stop offset=".411" stop-color="#0887ce"/><stop offset=".422" stop-color="#0875d2"/><stop offset=".444" stop-color="#0365d8"/><stop offset=".511" stop-color="#0258da"/><stop offset=".578" stop-color="#0255dc"/><stop offset=".656" stop-color="#025ada"/><stop offset=".678" stop-color="#0364d8"/><stop offset=".7" stop-color="#087ad2"/><stop offset=".711" stop-color="#088bcc"/><stop offset=".722" stop-color="#0895c5"/><stop offset=".756" stop-color="#089dbd"/><stop offset=".889" stop-color="#08abab"/><stop offset=".933" stop-color="#06b792"/><stop offset=".944" stop-color="#13ba8a"/><stop offset=".967" stop-color="#49ba7c"/><stop offset=".989" stop-color="#a0b558"/><stop offset="1" stop-color="#c6b146"/></linearGradient>
<linearGradient id="b32" x2="0" y2="1"><stop offset="0" stop-color="#e7ad27"/><stop offset=".011" stop-color="#c8b144"/><stop offset=".033" stop-color="#8bb761"/><stop offset=".056" stop-color="#46ba7c"/><stop offset=".089" stop-color="#08ba8c"/><stop offset=".111" stop-color="#06b695"/><stop offset=".222" stop-color="#08a9ae"/><stop offset=".378" stop-color="#089bbf"/><stop offset=".4" stop-color="#0896c4"/><stop offset=".422" stop-color="#0881d0"/><stop offset=".433" stop-color="#0872d3"/><stop offset=".456" stop-color="#0363d8"/><stop offset=".511" stop-color="#0258da"/><stop offset=".578" stop-color="#0255dc"/><stop offset=".656" stop-color="#025ada"/><stop offset=".678" stop-color="#046ad7"/><stop offset=".689" stop-color="#0876d2"/><stop offset=".7" stop-color="#0888cd"/><stop offset=".722" stop-color="#0899c1"/><stop offset=".878" stop-color="#08aaad"/><stop offset=".911" stop-color="#08b39c"/><stop offset=".922" stop-color="#05b890"/><stop offset=".933" stop-color="#1dba87"/><stop offset=".956" stop-color="#64ba72"/><stop offset=".967" stop-color="#90b65f"/><stop offset=".978" stop-color="#b6b44f"/><stop offset=".989" stop-color="#ddae31"/><stop offset="1" stop-color="#f2b000"/></linearGradient>
<linearGradient id="b33" x2="0" y2="1"><stop offset="0" stop-color="#f1c003"/><stop offset=".011" stop-color="#f2b100"/><stop offset=".022" stop-color="#e7ad27"/><stop offset=".033" stop-color="#c8b144"/><stop offset=".056" stop-color="#8bb761"/><stop offset=".078" stop-color="#46ba7c"/><stop offset=".1" stop-color="#16ba89"/><stop offset=".111" stop-color="#04b98e"/><stop offset=".156" stop-color="#08b0a2"/><stop offset=".289" stop-color="#08a2b7"/><stop offset=".4" stop-color="#0898c2"/><stop offset=".422" stop-color="#088bcc"/><stop offset=".444" stop-color="#0871d3"/><stop offset=".478" stop-color="#025dda"/><stop offset=".567" stop-color="#0255dc"/><stop offset=".644" stop-color="#025bda"/><stop offset=".667" stop-color="#0469d7"/><stop offset=".678" stop-color="#0873d3"/><stop offset=".689" stop-color="#0883cf"/><stop offset=".711" stop-color="#0896c4"/><stop offset=".867" stop-color="#08a8af"/><stop offset=".889" stop-color="#08aea4"/><stop offset=".911" stop-color="#05ba8d"/><stop offset=".922" stop-color="#30ba83"/><stop offset=".933" stop-color="#50ba7a"/><stop offset=".944" stop-color="#7fb864"/><stop offset=".967" stop-color="#ceb041"/><stop offset=".978" stop-color="#eead11"/><stop offset=".989" stop-color="#f2bb00"/><stop offset="1" stop-color="#f0ca08"/></linearGradient>
<linearGradient id="b34" x2="0" y2="1"><stop offset="0" stop-color="#eece0a"/><stop offset=".011" stop-color="#efca09"/><stop offset=".033" stop-color="#f2b100"/><stop offset=".044" stop-color="#e7ad27"/><stop offset=".056" stop-color="#c8b144"/><stop offset=".078" stop-color="#8bb761"/><stop offset=".1" stop-color="#45ba7c"/><stop offset=".122" stop-color="#0fba8a"/><stop offset=".133" stop-color="#05b791"/><stop offset=".156" stop-color="#08b19f"/><stop offset=".211" stop-color="#08aaad"/><stop offset=".411" stop-color="#0897c3"/><stop offset=".433" stop-color="#088acc"/><stop offset=".456" stop-color="#0872d3"/><stop offset=".489" stop-color="#025fd9"/><stop offset=".556" stop-color="#0255dc"/><stop offset=".622" stop-color="#025cda"/><stop offset=".656" stop-color="#046ad7"/><stop offset=".667" stop-color="#0873d3"/><stop offset=".689" stop-color="#088ccc"/><stop offset=".711" stop-color="#0898c2"/><stop offset=".856" stop-color="#08a7b1"/><stop offset=".878" stop-color="#08aea5"/><stop offset=".889" stop-color="#06b596"/><stop offset=".9" stop-color="#19ba88"/><stop offset=".911" stop-color="#43ba7d"/><stop offset=".933" stop-color="#99b65c"/><stop offset=".944" stop-color="#beb34c"/><stop offset=".956" stop-color="#e5ad2a"/><stop offset=".967" stop-color="#f2b400"/><stop offset=".978" stop-color="#f1c606"/><stop offset=".989" stop-color="#eecd0a"/><stop offset="1" stop-color="#eece0a"/></linearGradient>
<linearGradient id="b35" x2="0" y2="1"><stop offset="0" stop-color="#eece0a"/><stop offset=".022" stop-color="#eece0a"/><stop offset=".033" stop-color="#efca09"/><stop offset=".056" stop-color="#f2b100"/><stop offset=".067" stop-color="#e7ad27"/><stop offset=".078" stop-color="#c8b144"/><stop offset=".1" stop-color="#8bb761"/><stop offset=".122" stop-color="#45ba7d"/><stop offset=".144" stop-color="#05ba8d"/><stop offset=".167" stop-color="#08b1a0"/><stop offset=".211" stop-color="#08aaad"/><stop offset=".422" stop-color="#0895c5"/><stop offset=".444" stop-color="#088acc"/><stop offset=".478" stop-color="#066ed5"/><stop offset=".533" stop-color="#025ed9"/><stop offset=".589" stop-color="#025ed9"/><stop offset=".633" stop-color="#046ad7"/><stop offset=".656" stop-color="#0876d2"/><stop offset=".678" stop-color="#088bcc"/><stop offset=".7" stop-color="#0897c3"/><stop offset=".844" stop-color="#08a6b3"/><stop offset=".856" stop-color="#08a9af"/><stop offset=".878" stop-color="#05b98f"/><stop offset=".889" stop-color="#33ba82"/><stop offset=".9" stop-color="#5aba76"/><stop offset=".911" stop-color="#88b762"/><stop offset=".922" stop-color="#aeb452"/><stop offset=".933" stop-color="#d6af3a"/><stop offset=".944" stop-color="#f1ad05"/><stop offset=".956" stop-color="#f1bf02"/><stop offset=".967" stop-color="#efcb0a"/><stop offset="1" stop-color="#eece0a"/></linearGradient>
<linearGradient id="b36" x2="0" y2="1"><stop offset="0" stop-color="#eece0a"/><stop offset=".044" stop-color="#eece0a"/><stop offset=".056" stop-color="#efca09"/><stop offset=".078" stop-color="#f2b100"/><stop offset=".089" stop-color="#e7ad27"/><stop offset=".1" stop-color="#c8b144"/><stop offset=".122" stop-color="#8bb761"/><stop offset=".144" stop-color="#44ba7d"/><stop offset=".156" stop-color="#21ba86"/><stop offset=".167" stop-color="#05b98f"/><stop offset=".189" stop-color="#08aea5"/><stop offset=".233" stop-color="#08a7b0"/><stop offset=".433" stop-color="#0894c6"/><stop offset=".467" stop-color="#0884cf"/><stop offset=".489" stop-color="#0874d3"/><stop offset=".544" stop-color="#0468d7"/><stop offset=".6" stop-color="#056cd6"/><stop offset=".633" stop-color="#0876d2"/><stop offset=".678" stop-color="#0891c8"/><stop offset=".756" stop-color="#089dbd"/><stop offset=".833" stop-color="#08a5b4"/><stop offset=".844" stop-color="#08a9ae"/><stop offset=".856" stop-color="#08b49a"/><stop offset=".867" stop-color="#18ba89"/><stop offset=".878" stop-color="#48ba7c"/><stop offset=".9" stop-color="#a0b558"/><stop offset=".911" stop-color="#c6b146"/><stop offset=".922" stop-color="#eaad1e"/><stop offset=".933" stop-color="#f2b700"/><stop offset=".944" stop-color="#f0c807"/><stop offset=".956" stop-color="#eece0a"/><stop offset="1" stop-color="#eece0a"/></linearGradient>
<linearGradient id="b37" x2="0" y2="1"><stop offset="0" stop-color="#eece0a"/><stop offset=".067" stop-color="#eece0a"/><stop offset=".078" stop-color="#efca09"/><stop offset=".1" stop-color="#f2b100"/><stop offset=".111" stop-color="#e7ad27"/><stop offset=".122" stop-color="#c8b144"/><stop offset=".144" stop-color="#8bb761"/><stop offset=".167" stop-color="#44ba7d"/><stop offset=".178" stop-color="#1cba87"/><stop offset=".189" stop-color="#06b792"/><stop offset=".211" stop-color="#08abab"/><stop offset=".322" stop-color="#08a0ba"/><stop offset=".444" stop-color="#0893c7"/><stop offset=".522" stop-color="#0877d2"/><stop offset=".578" stop-color="#0873d3"/><stop offset=".622" stop-color="#087fd0"/><stop offset=".678" stop-color="#0894c6"/><stop offset=".822" stop-color="#08a4b5"/><stop offset=".833" stop-color="#08ada7"/><stop offset=".844" stop-color="#05b891"/><stop offset=".856" stop-color="#3aba81"/><stop offset=".878" stop-color="#90b65f"/><stop offset=".889" stop-color="#b6b44f"/><stop offset=".9" stop-color="#ddae31"/><stop offset=".911" stop-color="#f2b000"/><stop offset=".922" stop-color="#f1c204"/><stop offset=".933" stop-color="#eecc0a"/><stop offset="1" stop-color="#eece0a"/></linearGradient>
<linearGradient id="b38" x2="0" y2="1"><stop offset="0" stop-color="#eece0a"/><stop offset=".089" stop-color="#eece0a"/><stop offset=".1" stop-color="#efca09"/><stop offset=".122" stop-color="#f2b100"/><stop offset=".133" stop-color="#e7ad27"/><stop offset=".144" stop-color="#c8b144"/><stop offset=".167" stop-color="#8bb761"/><stop offset=".189" stop-color="#43ba7d"/><stop offset=".2" stop-color="#18ba89"/><stop offset=".211" stop-color="#06b596"/><stop offset=".233" stop-color="#08a8b0"/><stop offset=".467" stop-color="#0890c8"/><stop offset=".556" stop-color="#087ed1"/><stop offset=".644" stop-color="#088eca"/><stop offset=".8" stop-color="#08a2b8"/><stop offset=".811" stop-color="#08a6b2"/><stop offset=".822" stop-color="#08b29d"/><stop offset=".833" stop-color="#1cba88"/><stop offset=".844" stop-color="#50ba7a"/><stop offset=".856" stop-color="#7fb864"/><stop offset=".878" stop-color="#ceb041"/><stop offset=".889" stop-color="#eead11"/><stop offset=".9" stop-color="#f2bb00"/><stop offset=".911" stop-color="#f0ca08"/><stop offset=".933" stop-color="#eece0a"/><stop offset="1" stop-color="#eece0a"/></linearGradient>
<linearGradient id="b39" x2="0" y2="1"><stop offset="0" stop-color="#089dbd"/><stop offset="1" stop-color="#089dbd"/></linearGradient>
<linearGradient id="b40" x2="0" y2="1"><stop offset="0" stop-color="#381486"/><stop offset=".022" stop-color="#381486"/><stop offset=".033" stop-color="#3b1b94"/><stop offset=".044" stop-color="#3335c2"/><stop offset=".056" stop-color="#0256db"/><stop offset=".067" stop-color="#0262d9"/><stop offset=".2" stop-color="#046ad7"/><stop offset=".6" stop-color="#0468d7"/><stop offset=".822" stop-color="#0468d7"/><stop offset=".889" stop-color="#0362d8"/><stop offset=".9" stop-color="#025dda"/><stop offset=".911" stop-color="#0f4dd8"/><stop offset=".922" stop-color="#3138c7"/><stop offset=".933" stop-color="#3a29af"/><stop offset=".944" stop-color="#3b1b94"/><stop offset=".978" stop-color="#381486"/><stop offset="1" stop-color="#381486"/></linearGradient>
<linearGradient id="b41" x2="0" y2="1"><stop offset="0" stop-color="#381486"/><stop offset=".022" stop-color="#381486"/><stop offset=".033" stop-color="#3b1b94"/><stop offset=".044" stop-color="#3335c2"/><stop offset=".056" stop-color="#0256db"/><stop offset=".078" stop-color="#046bd7"/><stop offset=".133" stop-color="#088acd"/><stop offset=".244" stop-color="#088ec9"/><stop offset=".511" stop-color="#0882cf"/><stop offset=".756" stop-color="#088fc9"/><stop offset=".833" stop-color="#0888cd"/><stop offset=".878" stop-color="#056cd6"/><stop offset=".9" stop-color="#025dda"/><stop offset=".911" stop-color="#0f4dd8"/><stop offset=".922" stop-color="#3138c7"/><stop offset=".933" stop-color="#3a29af"/><stop offset=".944" stop-color="#3b1b94"/><stop offset=".978" stop-color="#381486"/><stop offset="1" stop-color="#381486"/></linearGradient>
<linearGradient id="b42" x2="0" y2="1"><stop offset="0" stop-color="#381486"/><stop offset=".022" stop-color="#381486"/><stop offset=".033" stop-color="#3b1b94"/><stop offset=".044" stop-color="#3335c2"/><stop offset=".056" stop-color="#0256db"/><stop offset=".1" stop-color="#088acd"/><stop offset=".156" stop-color="#08a8b0"/><stop offset=".222" stop-color="#08aea5"/><stop offset=".3" stop-color="#08a7b2"/><stop offset=".4" stop-color="#0898c2"/><stop offset=".522" stop-color="#0894c6"/><stop offset=".611" stop-color="#089dbd"/><stop offset=".711" stop-color="#08acaa"/><stop offset=".756" stop-color="#08ada6"/><stop offset=".8" stop-color="#08a8b0"/><stop offset=".844" stop-color="#0892c8"/><stop offset=".867" stop-color="#0881d0"/><stop offset=".9" stop-color="#025dda"/><stop offset=".911" stop-color="#0f4dd8"/><stop offset=".922" stop-color="#3138c7"/><stop offset=".933" stop-color="#3a29af"/><stop offset=".944" stop-color="#3b1b94"/><stop offset=".978" stop-color="#381486"/><stop offset="1" stop-color="#381486"/></linearGradient>
<linearGradient id="b43" x2="0" y2="1"><stop offset="0" stop-color="#381486"/><stop offset=".022" stop-color="#381486"/><stop offset=".033" stop-color="#3b1b94"/><stop offset=".044" stop-color="#3335c2"/><stop offset=".056" stop-color="#0256db"/><stop offset=".1" stop-color="#088bcc"/><stop offset=".144" stop-color="#08a4b4"/><stop offset=".156" stop-color="#08aaac"/><stop offset=".222" stop-color="#08b1a0"/><stop offset=".311" stop-color="#08a7b1"/><stop offset=".411" stop-color="#0899c1"/><stop offset=".511" stop-color="#0895c5"/><stop offset=".6" stop-color="#089dbd"/><stop offset=".711" stop-color="#08aea4"/><stop offset=".756" stop-color="#08b0a1"/><stop offset=".8" stop-color="#08aaac"/><stop offset=".844" stop-color="#0894c6"/><stop offset=".867" stop-color="#0882cf"/><stop offset=".9" stop-color="#025dda"/><stop offset=".911" stop-color="#0f4dd8"/><stop offset=".922" stop-color="#3138c7"/><stop offset=".933" stop-color="#3a29af"/><stop offset=".944" stop-color="#3b1b94"/><stop offset=".978" stop-color="#381486"/><stop offset="1" stop-color="#381486"/></linearGradient>
<linearGradient id="b44" x2="0" y2="1"><stop offset="0" stop-color="#381486"/><stop offset=".022" stop-color="#381486"/><stop offset=".033" stop-color="#3b1b94"/><stop offset=".044" stop-color="#3335c2"/><stop offset=".056" stop-color="#0256db"/><stop offset=".1" stop-color="#088bcc"/><stop offset=".144" stop-color="#08a4b4"/><stop offset=".156" stop-color="#08aaac"/><stop offset=".222" stop-color="#08b1a0"/><stop offset=".311" stop-color="#08a7b1"/><stop offset=".411" stop-color="#0899c1"/><stop offset=".511" stop-color="#0895c5"/><stop offset=".6" stop-color="#089dbd"/><stop offset=".711" stop-color="#08aea4"/><stop offset=".756" stop-color="#08b0a1"/><stop offset=".8" stop-color="#08aaac"/><stop offset=".844" stop-color="#0894c6"/><stop offset=".867" stop-color="#0882cf"/><stop offset=".9" stop-color="#025dda"/><stop offset=".911" stop-color="#0f4dd8"/><stop offset=".922" stop-color="#3138c7"/><stop offset=".933" stop-color="#3a29af"/><stop offset=".944" stop-color="#3b1b94"/><stop offset=".978" stop-color="#381486"/><stop offset="1" stop-color="#381486"/></linearGradient>
<linearGradient id="b45" x2="0" y2="1"><stop offset="0" stop-color="#381486"/><stop offset=".022" stop-color="#381486"/><stop offset=".033" stop-color="#3b1b94"/><stop offset=".044" stop-color="#3335c2"/><stop offset=".056" stop-color="#0256db"/><stop offset=".1" stop-color="#088bcc"/><stop offset=".144" stop-color="#08a4b4"/><stop offset=".156" stop-color="#08aaac"/><stop offset=".222" stop-color="#08b1a0"/><stop offset=".311" stop-color="#08a7b1"/><stop offset=".411" stop-color="#0899c1"/><stop offset=".511" stop-color="#0895c5"/><stop offset=".6" stop-color="#089dbd"/><stop offset=".711" stop-color="#08aea4"/><stop offset=".756" stop-color="#08b0a1"/><stop offset=".8" stop-color="#08aaac"/><stop offset=".844" stop-color="#0894c6"/><stop offset=".867" stop-color="#0882cf"/><stop offset=".9" stop-color="#025dda"/><stop offset=".911" stop-color="#0f4dd8"/><stop offset=".922" stop-color="#3138c7"/><stop offset=".933" stop-color="#3a29af"/><stop offset=".944" stop-color="#3b1b94"/><stop offset=".978" stop-color="#381486"/><stop offset="1" stop-color="#381486"/></linearGradient>
<linearGradient id="b46" x2="0" y2="1"><stop offset="0" stop-color="#381486"/><stop offset=".022" stop-color="#381486"/><stop offset=".033" stop-color="#3b1b94"/><stop offset=".044" stop-color="#3335c2"/><stop offset=".056" stop-color="#0256db"/><stop offset=".1" stop-color="#088bcc"/><stop offset=".144" stop-color="#08a4b4"/><stop offset=".156" stop-color="#08aaac"/><stop offset=".222" stop-color="#08b1a0"/><stop offset=".311" stop-color="#08a7b1"/><stop offset=".411" stop-color="#0899c1"/><stop offset=".511" stop-color="#0895c5"/><stop offset=".6" stop-color="#089dbd"/><stop offset=".711" stop-color="#08aea4"/><stop offset=".756" stop-color="#08b0a1"/><stop offset=".8" stop-color="#08aaac"/><stop offset=".844" stop-color="#0894c6"/><stop offset=".867" stop-color="#0882cf"/><stop offset=".9" stop-color="#025dda"/><stop offset=".911" stop-color="#0f4dd8"/><stop offset=".922" stop-color="#3138c7"/><stop offset=".933" stop-color="#3a29af"/><stop offset=".944" stop-color="#3b1b94"/><stop offset=".978" stop-color="#381486"/><stop offset="1" stop-color="#381486"/></linearGradient>
<linearGradient id="b47" x2="0" y2="1"><stop offset="0" stop-color="#381486"/><stop offset=".022" stop-color="#381486"/><stop offset=".033" stop-color="#3b1b94"/><stop offset=".044" stop-color="#3335c2"/><stop offset=".056" stop-color="#0256db"/><stop offset=".1" stop-color="#088bcc"/><stop offset=".144" stop-color="#08a4b4"/><stop offset=".156" stop-color="#08aaac"/><stop offset=".222" stop-color="#08b1a0"/><stop offset=".311" stop-color="#08a7b1"/><stop offset=".411" stop-color="#0899c1"/><stop offset=".511" stop-color="#0895c5"/><stop offset=".6" stop-color="#089dbd"/><stop offset=".711" stop-color="#08aea4"/><stop offset=".756" stop-color="#08b0a1"/><stop offset=".8" stop-color="#08aaac"/><stop offset=".844" stop-color="#0894c6"/><stop offset=".867" stop-color="#0882cf"/><stop offset=".9" stop-color="#025dda"/><stop offset=".911" stop-color="#0f4dd8"/><stop offset=".922" stop-color="#3138c7"/><stop offset=".933" stop-color="#3a29af"/><stop offset=".944" stop-color="#3b1b94"/><stop offset=".978" stop-color="#381486"/><stop offset="1" stop-color="#381486"/></linearGradient>
<linearGradient id="b48" x2="0" y2="1"><stop offset="0" stop-color="#381486"/><stop offset=".022" stop-color="#381486"/><stop offset=".033" stop-color="#3b1b94"/><stop offset=".044" stop-color="#3335c2"/><stop offset=".056" stop-color="#0256db"/><stop offset=".1" stop-color="#088bcc"/><stop offset=".144" stop-color="#08a4b4"/><stop offset=".156" stop-color="#08aaac"/><stop offset=".222" stop-color="#08b1a0"/><stop offset=".311" stop-color="#08a7b1"/><stop offset=".411" stop-color="#0899c1"/><stop offset=".511" stop-color="#0895c5"/><stop offset=".6" stop-color="#089dbd"/><stop offset=".711" stop-color="#08aea4"/><stop offset=".756" stop-color="#08b0a1"/><stop offset=".8" stop-color="#08aaac"/><stop offset=".844" stop-color="#0894c6"/><stop offset=".867" stop-color="#0882cf"/><stop offset=".9" stop-color="#025dda"/><stop offset=".911" stop-color="#0f4dd8"/><stop offset=".922" stop-color="#3138c7"/><stop offset=".933" stop-color="#3a29af"/><stop offset=".944" stop-color="#3b1b94"/><stop offset=".978" stop-color="#381486"/><stop offset="1" stop-color="#381486"/></linearGradient>
<linearGradient id="b49" x2="0" y2="1"><stop offset="0" stop-color="#381486"/><stop offset=".022" stop-color="#381486"/><stop offset=".033" stop-color="#3b1b94"/><stop offset=".044" stop-color="#3335c2"/><stop offset=".056" stop-color="#0256db"/><stop offset=".1" stop-color="#088bcc"/><stop offset=".144" stop-color="#08a4b4"/><stop offset=".156" stop-color="#08aaac"/><stop offset=".222" stop-color="#08b1a0"/><stop offset=".311" stop-color="#08a7b1"/><stop offset=".411" stop-color="#0899c1"/><stop offset=".511" stop-color="#0895c5"/><stop offset=".6" stop-color="#089dbd"/><stop offset=".711" stop-color="#08aea4"/><stop offset=".756" stop-color="#08b0a1"/><stop offset=".8" stop-color="#08aaac"/><stop offset=".844" stop-color="#0894c6"/><stop offset=".867" stop-color="#0882cf"/><stop offset=".9" stop-color="#025dda"/><stop offset=".911" stop-color="#0f4dd8"/><stop offset=".922" stop-color="#3138c7"/><stop offset=".933" stop-color="#3a29af"/><stop offset=".944" stop-color="#3b1b94"/><stop offset=".978" stop-color="#381486"/><stop offset="1" stop-color="#381486"/></linearGradient>
<linearGradient id="b50" x2="0" y2="1"><stop offset="0" stop-color="#381486"/><stop offset=".022" stop-color="#381486"/><stop offset=".033" stop-color="#3b1b94"/><stop offset=".044" stop-color="#3335c2"/><stop offset=".056" stop-color="#0256db"/><stop offset=".1" stop-color="#088bcc"/><stop offset=".144" stop-color="#08a4b4"/><stop offset=".156" stop-color="#08aaac"/><stop offset=".222" stop-color="#08b1a0"/><stop offset=".311" stop-color="#08a7b1"/><stop offset=".411" stop-color="#0899c1"/><stop offset=".511" stop-color="#0895c5"/><stop offset=".6" stop-color="#089dbd"/><stop offset=".711" stop-color="#08aea4"/><stop offset=".756" stop-color="#08b0a1"/><stop offset=".8" stop-color="#08aaac"/><stop offset=".844" stop-color="#0894c6"/><stop offset=".867" stop-color="#0882cf"/><stop offset=".9" stop-color="#025dda"/><stop offset=".911" stop-color="#0f4dd8"/><stop offset=".922" stop-color="#3138c7"/><stop offset=".933" stop-color="#3a29af"/><stop offset=".944" stop-color="#3b1b94"/><stop offset=".978" stop-color="#381486"/><stop offset="1" stop-color="#381486"/></linearGradient>
<linearGradient id="b51" x2="0" y2="1"><stop offset="0" stop-color="#381486"/><stop offset=".022" stop-color="#381486"/><stop offset=".033" stop-color="#3b1b94"/><stop offset=".044" stop-color="#3335c2"/><stop offset=".056" stop-color="#0256db"/><stop offset=".1" stop-color="#088bcc"/><stop offset=".144" stop-color="#08a4b4"/><stop offset=".156" stop-color="#08aaac"/><stop offset=".222" stop-color="#08b1a0"/><stop offset=".311" stop-color="#08a7b1"/><stop offset=".411" stop-color="#0899c1"/><stop offset=".511" stop-color="#0895c5"/><stop offset=".6" stop-color="#089dbd"/><stop offset=".711" stop-color="#08aea4"/><stop offset=".756" stop-color="#08b0a1"/><stop offset=".8" stop-color="#08aaac"/><stop offset=".844" stop-color="#0894c6"/><stop offset=".867" stop-color="#0882cf"/><stop offset=".9" stop-color="#025dda"/><stop offset=".911" stop-color="#0f4dd8"/><stop offset=".922" stop-color="#3138c7"/><stop offset=".933" stop-color="#3a29af"/><stop offset=".944" stop-color="#3b1b94"/><stop offset=".978" stop-color="#381486"/><stop offset="1" stop-color="#381486"/></linearGradient>
<linearGradient id="b52" x2="0" y2="1"><stop offset="0" stop-color="#381486"/><stop offset=".022" stop-color="#381486"/><stop offset=".033" stop-color="#3b1b94"/><stop offset=".044" stop-color="#3335c2"/><stop offset=".056" stop-color="#0256db"/><stop offset=".1" stop-color="#088bcc"/><stop offset=".144" stop-color="#08a4b4"/><stop offset=".156" stop-color="#08aaac"/><stop offset=".222" stop-color="#08b1a0"/><stop offset=".311" stop-color="#08a7b1"/><stop offset=".411" stop-color="#0899c1"/><stop offset=".511" stop-color="#0895c5"/><stop offset=".6" stop-color="#089dbd"/><stop offset=".711" stop-color="#08aea4"/><stop offset=".756" stop-color="#08b0a1"/><stop offset=".8" stop-color="#08aaac"/><stop offset=".844" stop-color="#0894c6"/><stop offset=".867" stop-color="#0882cf"/><stop offset=".9" stop-color="#025dda"/><stop offset=".911" stop-color="#0f4dd8"/><stop offset=".922" stop-color="#3138c7"/><stop offset=".933" stop-color="#3a29af"/><stop offset=".944" stop-color="#3b1b94"/><stop offset=".978" stop-color="#381486"/><stop offset="1" stop-color="#381486"/></linearGradient>
<linearGradient id="b53" x2="0" y2="1"><stop offset="0" stop-color="#381486"/><stop offset=".022" stop-color="#381486"/><stop offset=".033" stop-color="#3b1b94"/><stop offset=".044" stop-color="#3335c2"/><stop offset=".056" stop-color="#0256db"/><stop offset=".1" stop-color="#088bcc"/><stop offset=".144" stop-color="#08a4b4"/><stop offset=".156" stop-color="#08aaac"/><stop offset=".222" stop-color="#08b1a0"/><stop offset=".311" stop-color="#08a7b1"/><stop offset=".411" stop-color="#0899c1"/><stop offset=".511" stop-color="#0895c5"/><stop offset=".6" stop-color="#089dbd"/><stop offset=".711" stop-color="#08aea4"/><stop offset=".756" stop-color="#08b0a1"/><stop offset=".8" stop-color="#08aaac"/><stop offset=".844" stop-color="#0894c6"/><stop offset=".867" stop-color="#0882cf"/><stop offset=".9" stop-color="#025dda"/><stop offset=".911" stop-color="#0f4dd8"/><stop offset=".922" stop-color="#3138c7"/><stop offset=".933" stop-color="#3a29af"/><stop offset=".944" stop-color="#3b1b94"/><stop offset=".978" stop-color="#381486"/><stop offset="1" stop-color="#381486"/></linearGradient>
<linearGradient id="b54" x2="0" y2="1"><stop offset="0" stop-color="#381486"/><stop offset=".022" stop-color="#381486"/><stop offset=".033" stop-color="#3b1b94"/><stop offset=".044" stop-color="#3335c2"/><stop offset=".056" stop-color="#0256db"/><stop offset=".1" stop-color="#088bcc"/><stop offset=".144" stop-color="#08a4b4"/><stop offset=".156" stop-color="#08aaac"/><stop offset=".222" stop-color="#08b1a0"/><stop offset=".311" stop-color="#08a7b1"/><stop offset=".411" stop-color="#0899c1"/><stop offset=".511" stop-color="#0895c5"/><stop offset=".6" stop-color="#089dbd"/><stop offset=".711" stop-color="#08aea4"/><stop offset=".756" stop-color="#08b0a1"/><stop offset=".8" stop-color="#08aaac"/><stop offset=".844" stop-color="#0894c6"/><stop offset=".867" stop-color="#0882cf"/><stop offset=".9" stop-color="#025dda"/><stop offset=".911" stop-color="#0f4dd8"/><stop offset=".922" stop-color="#3138c7"/><stop offset=".933" stop-color="#3a29af"/><stop offset=".944" stop-color="#3b1b94"/><stop offset=".978" stop-color="#381486"/><stop offset="1" stop-color="#381486"/></linearGradient>
<linearGradient id="b55" x2="0" y2="1"><stop offset="0" stop-color="#381486"/><stop offset=".022" stop-color="#381486"/><stop offset=".033" stop-color="#3b1b94"/><stop offset=".044" stop-color="#3335c2"/><stop offset=".056" stop-color="#0256db"/><stop offset=".1" stop-color="#088bcc"/><stop offset=".144" stop-color="#08a4b4"/><stop offset=".156" stop-color="#08aaac"/><stop offset=".222" stop-color="#08b1a0"/><stop offset=".311" stop-color="#08a7b1"/><stop offset=".411" stop-color="#0899c1"/><stop offset=".511" stop-color="#0895c5"/><stop offset=".6" stop-color="#089dbd"/><stop offset=".711" stop-color="#08aea4"/><stop offset=".756" stop-color="#08b0a1"/><stop offset=".8" stop-color="#08aaac"/><stop offset=".844" stop-color="#0894c6"/><stop offset=".867" stop-color="#0882cf"/><stop offset=".9" stop-color="#025dda"/><stop offset=".911" stop-color="#0f4dd8"/><stop offset=".922" stop-color="#3138c7"/><stop offset=".933" stop-color="#3a29af"/><stop offset=".944" stop-color="#3b1b94"/><stop offset=".978" stop-color="#381486"/><stop offset="1" stop-color="#381486"/></linearGradient>
<linearGradient id="b56" x2="0" y2="1"><stop offset="0" stop-color="#381486"/><stop offset=".022" stop-color="#381486"/><stop offset=".033" stop-color="#3b1b94"/><stop offset=".044" stop-color="#3335c2"/><stop offset=".056" stop-color="#0256db"/><stop offset=".1" stop-color="#088bcc"/><stop offset=".144" stop-color="#08a4b4"/><stop offset=".156" stop-color="#08aaac"/><stop offset=".222" stop-color="#08b1a0"/><stop offset=".311" stop-color="#08a7b1"/><stop offset=".411" stop-color="#0899c1"/><stop offset=".511" stop-color="#0895c5"/><stop offset=".6" stop-color="#089dbd"/><stop offset=".711" stop-color="#08aea4"/><stop offset=".756" stop-color="#08b0a1"/><stop offset=".8" stop-color="#08aaac"/><stop offset=".844" stop-color="#0894c6"/><stop offset=".867" stop-color="#0882cf"/><stop offset=".9" stop-color="#025dda"/><stop offset=".911" stop-color="#0f4dd8"/><stop offset=".922" stop-color="#3138c7"/><stop offset=".933" stop-color="#3a29af"/><stop offset=".944" stop-color="#3b1b94"/><stop offset=".978" stop-color="#381486"/><stop offset="1" stop-color="#381486"/></linearGradient>
<linearGradient id="b57" x2="0" y2="1"><stop offset="0" stop-color="#381486"/><stop offset=".022" stop-color="#381486"/><stop offset=".033" stop-color="#3b1b94"/><stop offset=".044" stop-color="#3335c2"/><stop offset=".056" stop-color="#0256db"/><stop offset=".1" stop-color="#088bcc"/><stop offset=".144" stop-color="#08a4b4"/><stop offset=".156" stop-color="#08aaac"/><stop offset=".222" stop-color="#08b1a0"/><stop offset=".311" stop-color="#08a7b1"/><stop offset=".411" stop-color="#0899c1"/><stop offset=".511" stop-color="#0895c5"/><stop offset=".6" stop-color="#089dbd"/><stop offset=".711" stop-color="#08aea4"/><stop offset=".756" stop-color="#08b0a1"/><stop offset=".8" stop-color="#08aaac"/><stop offset=".844" stop-color="#0894c6"/><stop offset=".867" stop-color="#0882cf"/><stop offset=".9" stop-color="#025dda"/><stop offset=".911" stop-color="#0f4dd8"/><stop offset=".922" stop-color="#3138c7"/><stop offset=".933" stop-color="#3a29af"/><stop offset=".944" stop-color="#3b1b94"/><stop offset=".978" stop-color="#381486"/><stop offset="1" stop-color="#381486"/></linearGradient>
<linearGradient id="b58" x2="0" y2="1"><stop offset="0" stop-color="#381486"/><stop offset=".022" stop-color="#381486"/><stop offset=".033" stop-color="#3b1b94"/><stop offset=".044" stop-color="#3335c2"/><stop offset=".056" stop-color="#0256db"/><stop offset=".1" stop-color="#088bcc"/><stop offset=".144" stop-color="#08a4b4"/><stop offset=".156" stop-color="#08aaac"/><stop offset=".222" stop-color="#08b1a0"/><stop offset=".311" stop-color="#08a7b1"/><stop offset=".411" stop-color="#0899c1"/><stop offset=".511" stop-color="#0895c5"/><stop offset=".6" stop-color="#089dbd"/><stop offset=".711" stop-color="#08aea4"/><stop offset=".756" stop-color="#08b0a1"/><stop offset=".8" stop-color="#08aaac"/><stop offset=".844" stop-color="#0894c6"/><stop offset=".867" stop-color="#0882cf"/><stop offset=".9" stop-color="#025dda"/><stop offset=".911" stop-color="#0f4dd8"/><stop offset=".922" stop-color="#3138c7"/><stop offset=".933" stop-color="#3a29af"/><stop offset=".944" stop-color="#3b1b94"/><stop offset=".978" stop-color="#381486"/><stop offset="1" stop-color="#381486"/></linearGradient>
<linearGradient id="b59" x2="0" y2="1"><stop offset="0" stop-color="#381486"/><stop offset=".022" stop-color="#381486"/><stop offset=".033" stop-color="#3b1b94"/><stop offset=".044" stop-color="#3335c2"/><stop offset=".056" stop-color="#0256db"/><stop offset=".1" stop-color="#088bcc"/><stop offset=".144" stop-color="#08a4b4"/><stop offset=".156" stop-color="#08aaac"/><stop offset=".222" stop-color="#08b1a0"/><stop offset=".311" stop-color="#08a7b1"/><stop offset=".411" stop-color="#0899c1"/><stop offset=".511" stop-color="#0895c5"/><stop offset=".6" stop-color="#089dbd"/><stop offset=".711" stop-color="#08aea4"/><stop offset=".756" stop-color="#08b0a1"/><stop offset=".8" stop-color="#08aaac"/><stop offset=".844" stop-color="#0894c6"/><stop offset=".867" stop-color="#0882cf"/><stop offset=".9" stop-color="#025dda"/><stop offset=".911" stop-color="#0f4dd8"/><stop offset=".922" stop-color="#3138c7"/><stop offset=".933" stop-color="#3a29af"/><stop offset=".944" stop-color="#3b1b94"/><stop offset=".978" stop-color="#381486"/><stop offset="1" stop-color="#381486"/></linearGradient>
<linearGradient id="b60" x2="0" y2="1"><stop offset="0" stop-color="#381486"/><stop offset=".022" stop-color="#381486"/><stop offset=".033" stop-color="#3b1b94"/><stop offset=".044" stop-color="#3335c2"/><stop offset=".056" stop-color="#0256db"/><stop offset=".1" stop-color="#088bcc"/><stop offset=".144" stop-color="#08a4b4"/><stop offset=".156" stop-color="#08aaac"/><stop offset=".222" stop-color="#08b1a0"/><stop offset=".311" stop-color="#08a7b1"/><stop offset=".411" stop-color="#0899c1"/><stop offset=".511" stop-color="#0895c5"/><stop offset=".6" stop-color="#089dbd"/><stop offset=".711" stop-color="#08aea4"/><stop offset=".756" stop-color="#08b0a1"/><stop offset=".8" stop-color="#08aaac"/><stop offset=".844" stop-color="#0894c6"/><stop offset=".867" stop-color="#0882cf"/><stop offset=".9" stop-color="#025dda"/><stop offset=".911" stop-color="#0f4dd8"/><stop offset=".922" stop-color="#3138c7"/><stop offset=".933" stop-color="#3a29af"/><stop offset=".944" stop-color="#3b1b94"/><stop offset=".978" stop-color="#381486"/><stop offset="1" stop-color="#381486"/></linearGradient>
<linearGradient id="b61" x2="0" y2="1"><stop offset="0" stop-color="#381486"/><stop offset=".022" stop-color="#381486"/><stop offset=".033" stop-color="#3b1b94"/><stop offset=".044" stop-color="#3335c2"/><stop offset=".056" stop-color="#0256db"/><stop offset=".1" stop-color="#088bcc"/><stop offset=".144" stop-color="#08a4b4"/><stop offset=".156" stop-color="#08aaac"/><stop offset=".222" stop-color="#08b1a0"/><stop offset=".311" stop-color="#08a7b1"/><stop offset=".411" stop-color="#0899c1"/><stop offset=".511" stop-color="#0895c5"/><stop offset=".6" stop-color="#089dbd"/><stop offset=".711" stop-color="#08aea4"/><stop offset=".756" stop-color="#08b0a1"/><stop offset=".8" stop-color="#08aaac"/><stop offset=".844" stop-color="#0894c6"/><stop offset=".867" stop-color="#0882cf"/><stop offset=".9" stop-color="#025dda"/><stop offset=".911" stop-color="#0f4dd8"/><stop offset=".922" stop-color="#3138c7"/><stop offset=".933" stop-color="#3a29af"/><stop offset=".944" stop-color="#3b1b94"/><stop offset=".978" stop-color="#381486"/><stop offset="1" stop-color="#381486"/></linearGradient>
<linearGradient id="b62" x2="0" y2="1"><stop offset="0" stop-color="#381486"/><stop offset=".022" stop-color="#381486"/><stop offset=".033" stop-color="#3b1b94"/><stop offset=".044" stop-color="#3335c2"/><stop offset=".056" stop-color="#0256db"/><stop offset=".1" stop-color="#088bcc"/><stop offset=".144" stop-color="#08a4b4"/><stop offset=".156" stop-color="#08aaac"/><stop offset=".222" stop-color="#08b1a0"/><stop offset=".311" stop-color="#08a7b1"/><stop offset=".411" stop-color="#0899c1"/><stop offset=".511" stop-color="#0895c5"/><stop offset=".6" stop-color="#089dbd"/><stop offset=".711" stop-color="#08aea4"/><stop offset=".756" stop-color="#08b0a1"/><stop offset=".8" stop-color="#08aaac"/><stop offset=".844" stop-color="#0894c6"/><stop offset=".867" stop-color="#0882cf"/><stop offset=".9" stop-color="#025dda"/><stop offset=".911" stop-color="#0f4dd8"/><stop offset=".922" stop-color="#3138c7"/><stop offset=".933" stop-color="#3a29af"/><stop offset=".944" stop-color="#3b1b94"/><stop offset=".978" stop-color="#381486"/><stop offset="1" stop-color="#381486"/></linearGradient>
<linearGradient id="b63" x2="0" y2="1"><stop offset="0" stop-color="#381486"/><stop offset=".022" stop-color="#381486"/><stop offset=".033" stop-color="#3b1b94"/><stop offset=".044" stop-color="#3335c2"/><stop offset=".056" stop-color="#0256db"/><stop offset=".1" stop-color="#088bcc"/><stop offset=".144" stop-color="#08a4b4"/><stop offset=".156" stop-color="#08aaac"/><stop offset=".222" stop-color="#08b1a0"/><stop offset=".311" stop-color="#08a7b1"/><stop offset=".411" stop-color="#0899c1"/><stop offset=".511" stop-color="#0895c5"/><stop offset=".6" stop-color="#089dbd"/><stop offset=".711" stop-color="#08aea4"/><stop offset=".756" stop-color="#08b0a1"/><stop offset=".8" stop-color="#08aaac"/><stop offset=".844" stop-color="#0894c6"/><stop offset=".867" stop-color="#0882cf"/><stop offset=".9" stop-color="#025dda"/><stop offset=".911" stop-color="#0f4dd8"/><stop offset=".922" stop-color="#3138c7"/><stop offset=".933" stop-color="#3a29af"/><stop offset=".944" stop-color="#3b1b94"/><stop offset=".978" stop-color="#381486"/><stop offset="1" stop-color="#381486"/></linearGradient>
<linearGradient id="b64" x2="0" y2="1"><stop offset="0" stop-color="#381486"/><stop offset=".022" stop-color="#381486"/><stop offset=".033" stop-color="#3b1b94"/><stop offset=".044" stop-color="#3335c2"/><stop offset=".056" stop-color="#0256db"/><stop offset=".1" stop-color="#088bcc"/><stop offset=".144" stop-color="#08a4b4"/><stop offset=".156" stop-color="#08aaac"/><stop offset=".222" stop-color="#08b1a0"/><stop offset=".311" stop-color="#08a7b1"/><stop offset=".411" stop-color="#0899c1"/><stop offset=".511" stop-color="#0895c5"/><stop offset=".6" stop-color="#089dbd"/><stop offset=".711" stop-color="#08aea4"/><stop offset=".744" stop-color="#08b1a0"/><stop offset=".8" stop-color="#08aaad"/><stop offset=".833" stop-color="#089cbe"/><stop offset=".856" stop-color="#088bcc"/><stop offset=".878" stop-color="#0873d3"/><stop offset=".9" stop-color="#025cda"/><stop offset=".911" stop-color="#154ad6"/><stop offset=".922" stop-color="#3236c4"/><stop offset=".933" stop-color="#3b27ab"/><stop offset=".944" stop-color="#3b1b93"/><stop offset=".978" stop-color="#381486"/><stop offset="1" stop-color="#381486"/></linearGradient>
<linearGradient id="b65" x2="0" y2="1"><stop offset="0" stop-color="#381486"/><stop offset=".022" stop-color="#381486"/><stop offset=".033" stop-color="#3b1b94"/><stop offset=".044" stop-color="#3335c2"/><stop offset=".056" stop-color="#0256db"/><stop offset=".1" stop-color="#088bcc"/><stop offset=".144" stop-color="#08a4b4"/><stop offset=".156" stop-color="#08aaac"/><stop offset=".222" stop-color="#08b1a0"/><stop offset=".311" stop-color="#08a7b1"/><stop offset=".411" stop-color="#0899c1"/><stop offset=".511" stop-color="#0895c5"/><stop offset=".6" stop-color="#089dbd"/><stop offset=".711" stop-color="#08afa4"/><stop offset=".744" stop-color="#08b19f"/><stop offset=".8" stop-color="#08a9ae"/><stop offset=".833" stop-color="#089bbf"/><stop offset=".856" stop-color="#088bcc"/><stop offset=".878" stop-color="#0871d3"/><stop offset=".9" stop-color="#025ada"/><stop offset=".911" stop-color="#1c46d4"/><stop offset=".922" stop-color="#3433c0"/><stop offset=".933" stop-color="#3b24a6"/><stop offset=".944" stop-color="#3b1b93"/><stop offset=".978" stop-color="#381486"/><stop offset="1" stop-color="#381486"/></linearGradient>
<linearGradient id="b66" x2="0" y2="1"><stop offset="0" stop-color="#381486"/><stop offset=".022" stop-color="#381486"/><stop offset=".033" stop-color="#3b1b94"/><stop offset=".044" stop-color="#3335c2"/><stop offset=".056" stop-color="#0256db"/><stop offset=".1" stop-color="#088bcc"/><stop offset=".144" stop-color="#08a4b4"/><stop offset=".156" stop-color="#08aaac"/><stop offset=".222" stop-color="#08b1a0"/><stop offset=".311" stop-color="#08a7b1"/><stop offset=".411" stop-color="#0899c1"/><stop offset=".511" stop-color="#0895c5"/><stop offset=".6" stop-color="#089ebc"/><stop offset=".722" stop-color="#08b0a2"/><stop offset=".744" stop-color="#08b19f"/><stop offset=".8" stop-color="#08a9af"/><stop offset=".833" stop-color="#089ac0"/><stop offset=".856" stop-color="#088acd"/><stop offset=".9" stop-color="#0257db"/><stop offset=".911" stop-color="#2242d1"/><stop offset=".922" stop-color="#3631bc"/><stop offset=".933" stop-color="#3c22a2"/><stop offset=".944" stop-color="#3b1a92"/><stop offset=".978" stop-color="#381486"/><stop offset="1" stop-color="#381486"/></linearGradient>
<linearGradient id="b67" x2="0" y2="1"><stop offset="0" stop-color="#381486"/><stop offset=".022" stop-color="#381486"/><stop offset=".033" stop-color="#3b1b94"/><stop offset=".044" stop-color="#3335c2"/><stop offset=".056" stop-color="#0256db"/><stop offset=".1" stop-color="#088bcc"/><stop offset=".144" stop-color="#08a4b4"/><stop offset=".156" stop-color="#08aaac"/><stop offset=".222" stop-color="#08b1a0"/><stop offset=".311" stop-color="#08a7b1"/><stop offset=".411" stop-color="#0899c1"/><stop offset=".511" stop-color="#0895c5"/><stop offset=".6" stop-color="#089ebc"/><stop offset=".722" stop-color="#08b0a2"/><stop offset=".744" stop-color="#08b19f"/><stop offset=".8" stop-color="#08a8b0"/><stop offset=".833" stop-color="#0899c1"/><stop offset=".856" stop-color="#0889cd"/><stop offset=".9" stop-color="#0256db"/><stop offset=".911" stop-color="#2a3fcf"/><stop offset=".922" stop-color="#382fb8"/><stop offset=".933" stop-color="#3d1f9e"/><stop offset=".944" stop-color="#3a1a91"/><stop offset=".967" stop-color="#381587"/><stop offset="1" stop-color="#381486"/></linearGradient>
<linearGradient id="b68" x2="0" y2="1"><stop offset="0" stop-color="#381486"/><stop offset=".022" stop-color="#381486"/><stop offset=".033" stop-color="#3b1b94"/><stop offset=".044" stop-color="#3335c2"/><stop offset=".056" stop-color="#0256db"/><stop offset=".1" stop-color="#088bcc"/><stop offset=".144" stop-color="#08a4b4"/><stop offset=".156" stop-color="#08aaac"/><stop offset=".222" stop-color="#08b1a0"/><stop offset=".311" stop-color="#08a7b1"/><stop offset=".411" stop-color="#0899c1"/><stop offset=".511" stop-color="#0895c5"/><stop offset=".6" stop-color="#089ebc"/><stop offset=".722" stop-color="#08b0a2"/><stop offset=".744" stop-color="#08b1a0"/><stop offset=".8" stop-color="#08a7b0"/><stop offset=".833" stop-color="#0897c3"/><stop offset=".856" stop-color="#0887ce"/><stop offset=".9" stop-color="#0254dc"/><stop offset=".911" stop-color="#2f3ccb"/><stop offset=".922" stop-color="#392db4"/><stop offset=".933" stop-color="#3c1d99"/><stop offset=".967" stop-color="#381586"/><stop offset="1" stop-color="#381486"/></linearGradient>
<linearGradient id="b69" x2="0" y2="1"><stop offset="0" stop-color="#381486"/><stop offset=".022" stop-color="#381486"/><stop offset=".033" stop-color="#3b1b94"/><stop offset=".044" stop-color="#3335c2"/><stop offset=".056" stop-color="#0256db"/><stop offset=".1" stop-color="#088bcc"/><stop offset=".144" stop-color="#08a4b4"/><stop offset=".156" stop-color="#08aaac"/><stop offset=".222" stop-color="#08b1a0"/><stop offset=".311" stop-color="#08a7b1"/><stop offset=".411" stop-color="#0899c1"/><stop offset=".511" stop-color="#0895c5"/><stop offset=".6" stop-color="#089ebc"/><stop offset=".722" stop-color="#08b0a2"/><stop offset=".744" stop-color="#08b1a0"/><stop offset=".8" stop-color="#08a7b1"/><stop offset=".833" stop-color="#0896c4"/><stop offset=".856" stop-color="#0885ce"/><stop offset=".889" stop-color="#025fd9"/><stop offset=".9" stop-color="#0a50da"/><stop offset=".911" stop-color="#3039c8"/><stop offset=".922" stop-color="#3a2ab0"/><stop offset=".933" stop-color="#3b1c95"/><stop offset=".967" stop-color="#381486"/><stop offset="1" stop-color="#381486"/></linearGradient>
<linearGradient id="b70" x2="0" y2="1"><stop offset="0" stop-color="#381486"/><stop offset=".022" stop-color="#381486"/><stop offset=".033" stop-color="#3b1b94"/><stop offset=".044" stop-color="#3335c2"/><stop offset=".056" stop-color="#0256db"/><stop offset=".1" stop-color="#088bcc"/><stop offset=".144" stop-color="#08a4b4"/><stop offset=".156" stop-color="#08aaac"/><stop offset=".222" stop-color="#08b1a0"/><stop offset=".311" stop-color="#08a7b1"/><stop offset=".411" stop-color="#0899c1"/><stop offset=".511" stop-color="#0895c5"/><stop offset=".6" stop-color="#089ebc"/><stop offset=".711" stop-color="#08afa3"/><stop offset=".744" stop-color="#08b1a0"/><stop offset=".789" stop-color="#08abac"/><stop offset=".833" stop-color="#0895c5"/><stop offset=".856" stop-color="#0883cf"/><stop offset=".889" stop-color="#025dda"/><stop offset=".9" stop-color="#124bd7"/><stop offset=".911" stop-color="#3237c5"/><stop offset=".922" stop-color="#3b27ab"/><stop offset=".933" stop-color="#3b1b93"/><stop offset=".967" stop-color="#381486"/><stop offset="1" stop-color="#381486"/></linearGradient>
<linearGradient id="b71" x2="0" y2="1"><stop offset="0" stop-color="#381486"/><stop offset=".022" stop-color="#381486"/><stop offset=".033" stop-color="#3b1b94"/><stop offset=".044" stop-color="#3335c2"/><stop offset=".056" stop-color="#0256db"/><stop offset=".1" stop-color="#088bcc"/><stop offset=".144" stop-color="#08a4b4"/><stop offset=".156" stop-color="#08aaac"/><stop offset=".222" stop-color="#08b1a0"/><stop offset=".311" stop-color="#08a7b1"/><stop offset=".411" stop-color="#0899c1"/><stop offset=".511" stop-color="#0895c5"/><stop offset=".6" stop-color="#089ebc"/><stop offset=".711" stop-color="#08afa3"/><stop offset=".744" stop-color="#08b1a1"/><stop offset=".789" stop-color="#08aaac"/><stop offset=".822" stop-color="#089cbe"/><stop offset=".856" stop-color="#0881d0"/><stop offset=".889" stop-color="#025bda"/><stop offset=".9" stop-color="#1947d5"/><stop offset=".911" stop-color="#3434c1"/><stop offset=".922" stop-color="#3b25a7"/><stop offset=".933" stop-color="#3b1b93"/><stop offset=".967" stop-color="#381486"/><stop offset="1" stop-color="#381486"/></linearGradient>
<linearGradient id="b72" x2="0" y2="1"><stop offset="0" stop-color="#381486"/><stop offset=".022" stop-color="#381486"/><stop offset=".033" stop-color="#3b1b94"/><stop offset=".044" stop-color="#3335c2"/><stop offset=".056" stop-color="#0256db"/><stop offset=".1" stop-color="#088bcc"/><stop offset=".144" stop-color="#08a4b4"/><stop offset=".156" stop-color="#08aaac"/><stop offset=".222" stop-color="#08b1a0"/><stop offset=".311" stop-color="#08a7b1"/><stop offset=".411" stop-color="#0899c1"/><stop offset=".511" stop-color="#0895c5"/><stop offset=".6" stop-color="#089ebc"/><stop offset=".711" stop-color="#08afa3"/><stop offset=".744" stop-color="#08b1a1"/><stop offset=".789" stop-color="#08aaac"/><stop offset=".822" stop-color="#089bbf"/><stop offset=".856" stop-color="#087fd0"/><stop offset=".889" stop-color="#0259da"/><stop offset=".9" stop-color="#1f44d2"/><stop offset=".911" stop-color="#3631bd"/><stop offset=".922" stop-color="#3c22a2"/><stop offset=".933" stop-color="#3b1a92"/><stop offset=".967" stop-color="#381486"/><stop offset="1" stop-color="#381486"/></linearGradient>
<linearGradient id="b73" x2="0" y2="1"><stop offset="0" stop-color="#381486"/><stop offset=".022" stop-color="#381486"/><stop offset=".033" stop-color="#3b1b94"/><stop offset=".044" stop-color="#3335c2"/><stop offset=".056" stop-color="#0256db"/><stop offset=".1" stop-color="#088bcc"/><stop offset=".144" stop-color="#08a4b4"/><stop offset=".156" stop-color="#08aaac"/><stop offset=".222" stop-color="#08b1a0"/><stop offset=".311" stop-color="#08a7b1"/><stop offset=".411" stop-color="#0899c1"/><stop offset=".511" stop-color="#0895c5"/><stop offset=".6" stop-color="#089ebc"/><stop offset=".711" stop-color="#08afa3"/><stop offset=".744" stop-color="#08b0a1"/><stop offset=".789" stop-color="#08aaad"/><stop offset=".822" stop-color="#089bbf"/><stop offset=".844" stop-color="#088acc"/><stop offset=".889" stop-color="#0256db"/><stop offset=".9" stop-color="#2741cf"/><stop offset=".911" stop-color="#3830b9"/><stop offset=".922" stop-color="#3d1f9e"/><stop offset=".933" stop-color="#3a1a91"/><stop offset=".956" stop-color="#381587"/><stop offset="1" stop-color="#381486"/></linearGradient>
<linearGradient id="b74" x2="0" y2="1"><stop offset="0" stop-color="#381486"/><stop offset=".022" stop-color="#381486"/><stop offset=".033" stop-color="#3b1b94"/><stop offset=".044" stop-color="#3335c2"/><stop offset=".056" stop-color="#0256db"/><stop offset=".1" stop-color="#088bcc"/><stop offset=".144" stop-color="#08a4b4"/><stop offset=".156" stop-color="#08aaac"/><stop offset=".222" stop-color="#08b1a0"/><stop offset=".311" stop-color="#08a7b1"/><stop offset=".411" stop-color="#0899c1"/><stop offset=".511" stop-color="#0895c5"/><stop offset=".6" stop-color="#089ebc"/><stop offset=".711" stop-color="#08afa3"/><stop offset=".744" stop-color="#08b0a1"/><stop offset=".789" stop-color="#08a9ae"/><stop offset=".822" stop-color="#089ac0"/><stop offset=".833" stop-color="#088fc9"/><stop offset=".844" stop-color="#0889cd"/><stop offset=".889" stop-color="#0255dc"/><stop offset=".9" stop-color="#2e3dcd"/><stop offset=".911" stop-color="#392db4"/><stop offset=".922" stop-color="#3c1d99"/><stop offset=".956" stop-color="#381486"/><stop offset="1" stop-color="#381486"/></linearGradient>
<linearGradient id="b75" x2="0" y2="1"><stop offset="0" stop-color="#381486"/><stop offset=".022" stop-color="#381486"/><stop offset=".033" stop-color="#3b1b94"/><stop offset=".044" stop-color="#3335c2"/><stop offset=".056" stop-color="#0256db"/><stop offset=".1" stop-color="#088bcc"/><stop offset=".144" stop-color="#08a4b4"/><stop offset=".156" stop-color="#08aaac"/><stop offset=".222" stop-color="#08b1a0"/><stop offset=".311" stop-color="#08a7b1"/><stop offset=".411" stop-color="#0899c1"/><stop offset=".511" stop-color="#0895c5"/><stop offset=".6" stop-color="#089ebc"/><stop offset=".711" stop-color="#08afa2"/><stop offset=".744" stop-color="#08b0a2"/><stop offset=".789" stop-color="#08a8af"/><stop offset=".822" stop-color="#0899c1"/><stop offset=".833" stop-color="#088eca"/><stop offset=".844" stop-color="#0888cd"/><stop offset=".878" stop-color="#0261d9"/><stop offset=".889" stop-color="#0652da"/><stop offset=".9" stop-color="#303ac9"/><stop offset=".911" stop-color="#3a2ab1"/><stop offset=".922" stop-color="#3b1c95"/><stop offset=".956" stop-color="#381486"/><stop offset="1" stop-color="#381486"/></linearGradient>
<linearGradient id="b76" x2="0" y2="1"><stop offset="0" stop-color="#381486"/><stop offset=".022" stop-color="#381486"/><stop offset=".033" stop-color="#3b1b94"/><stop offset=".044" stop-color="#3335c2"/><stop offset=".056" stop-color="#0256db"/><stop offset=".1" stop-color="#088bcc"/><stop offset=".144" stop-color="#08a4b4"/><stop offset=".156" stop-color="#08aaac"/><stop offset=".222" stop-color="#08b1a0"/><stop offset=".311" stop-color="#08a7b1"/><stop offset=".411" stop-color="#0899c1"/><stop offset=".511" stop-color="#0895c5"/><stop offset=".6" stop-color="#089ebc"/><stop offset=".711" stop-color="#08afa2"/><stop offset=".733" stop-color="#08b19f"/><stop offset=".789" stop-color="#08a8b0"/><stop offset=".822" stop-color="#0897c3"/><stop offset=".833" stop-color="#088ecb"/><stop offset=".844" stop-color="#0886ce"/><stop offset=".878" stop-color="#025ed9"/><stop offset=".889" stop-color="#0e4dd8"/><stop offset=".9" stop-color="#3138c6"/><stop offset=".911" stop-color="#3b28ac"/><stop offset=".922" stop-color="#3b1b93"/><stop offset=".956" stop-color="#381486"/><stop offset="1" stop-color="#381486"/></linearGradient>
<linearGradient id="b77" x2="0" y2="1"><stop offset="0" stop-color="#381486"/><stop offset=".022" stop-color="#381486"/><stop offset=".033" stop-color="#3b1b94"/><stop offset=".044" stop-color="#3335c2"/><stop offset=".056" stop-color="#0256db"/><stop offset=".1" stop-color="#088bcc"/><stop offset=".144" stop-color="#08a4b4"/><stop offset=".156" stop-color="#08aaac"/><stop offset=".222" stop-color="#08b1a0"/><stop offset=".311" stop-color="#08a7b1"/><stop offset=".411" stop-color="#0899c1"/><stop offset=".511" stop-color="#0895c5"/><stop offset=".589" stop-color="#089cbe"/><stop offset=".7" stop-color="#08afa4"/><stop offset=".733" stop-color="#08b19f"/><stop offset=".789" stop-color="#08a7b1"/><stop offset=".822" stop-color="#0896c4"/><stop offset=".844" stop-color="#0884cf"/><stop offset=".878" stop-color="#025cda"/><stop offset=".889" stop-color="#1649d6"/><stop offset=".9" stop-color="#3335c2"/><stop offset=".911" stop-color="#3b25a7"/><stop offset=".922" stop-color="#3b1b92"/><stop offset=".956" stop-color="#381486"/><stop offset="1" stop-color="#381486"/></linearGradient>
<linearGradient id="b78" x2="0" y2="1"><stop offset="0" stop-color="#381486"/><stop offset=".022" stop-color="#381486"/><stop offset=".033" stop-color="#3b1b94"/><stop offset=".044" stop-color="#3335c2"/><stop offset=".056" stop-color="#0256db"/><stop offset=".1" stop-color="#088bcc"/><stop offset=".144" stop-color="#08a4b4"/><stop offset=".156" stop-color="#08aaac"/><stop offset=".222" stop-color="#08b1a0"/><stop offset=".311" stop-color="#08a7b1"/><stop offset=".411" stop-color="#0899c1"/><stop offset=".511" stop-color="#0895c5"/><stop offset=".589" stop-color="#089cbe"/><stop offset=".7" stop-color="#08afa4"/><stop offset=".733" stop-color="#08b19f"/><stop offset=".778" stop-color="#08abab"/><stop offset=".811" stop-color="#089dbd"/><stop offset=".833" stop-color="#088ccc"/><stop offset=".856" stop-color="#0873d3"/><stop offset=".878" stop-color="#025ada"/><stop offset=".889" stop-color="#1c45d3"/><stop offset=".9" stop-color="#3532be"/><stop offset=".911" stop-color="#3c22a2"/><stop offset=".922" stop-color="#3b1a92"/><stop offset=".944" stop-color="#381587"/><stop offset="1" stop-color="#381486"/></linearGradient>
<linearGradient id="b79" x2="0" y2="1"><stop offset="0" stop-color="#381486"/><stop offset=".022" stop-color="#381486"/><stop offset=".033" stop-color="#3b1b94"/><stop offset=".044" stop-color="#3335c2"/><stop offset=".056" stop-color="#0256db"/><stop offset=".1" stop-color="#088bcc"/><stop offset=".144" stop-color="#08a4b4"/><stop offset=".156" stop-color="#08aaac"/><stop offset=".222" stop-color="#08b1a0"/><stop offset=".311" stop-color="#08a7b1"/><stop offset=".411" stop-color="#0899c1"/><stop offset=".511" stop-color="#0895c5"/><stop offset=".578" stop-color="#089ac0"/><stop offset=".7" stop-color="#08afa4"/><stop offset=".733" stop-color="#08b1a0"/><stop offset=".778" stop-color="#08abac"/><stop offset=".811" stop-color="#089cbe"/><stop offset=".833" stop-color="#088bcc"/><stop offset=".856" stop-color="#0871d3"/><stop offset=".878" stop-color="#0258da"/><stop offset=".889" stop-color="#2442d0"/><stop offset=".9" stop-color="#3730ba"/><stop offset=".911" stop-color="#3d1f9e"/><stop offset=".922" stop-color="#3a1a91"/><stop offset=".944" stop-color="#381586"/><stop offset="1" stop-color="#381486"/></linearGradient>
<linearGradient id="b80" x2="0" y2="1"><stop offset="0" stop-color="#381486"/><stop offset=".022" stop-color="#381486"/><stop offset=".033" stop-color="#3b1b94"/><stop offset=".044" stop-color="#3335c2"/><stop offset=".056" stop-color="#0256db"/><stop offset=".1" stop-color="#088bcc"/><stop offset=".144" stop-color="#08a4b4"/><stop offset=".156" stop-color="#08aaac"/><stop offset=".222" stop-color="#08b1a0"/><stop offset=".311" stop-color="#08a7b1"/><stop offset=".411" stop-color="#0899c1"/><stop offset=".511" stop-color="#0895c5"/><stop offset=".578" stop-color="#089bbf"/><stop offset=".711" stop-color="#08b0a2"/><stop offset=".733" stop-color="#08b1a0"/><stop offset=".778" stop-color="#08aaac"/><stop offset=".811" stop-color="#089bbf"/><stop offset=".833" stop-color="#088acc"/><stop offset=".878" stop-color="#0256db"/><stop offset=".889" stop-color="#2c3ece"/><stop offset=".9" stop-color="#392eb5"/><stop offset=".911" stop-color="#3c1d99"/><stop offset=".944" stop-color="#381486"/><stop offset="1" stop-color="#381486"/></linearGradient>
<linearGradient id="b81" x2="0" y2="1"><stop offset="0" stop-color="#381486"/><stop offset=".022" stop-color="#381486"/><stop offset=".033" stop-color="#3b1b94"/><stop offset=".044" stop-color="#3335c2"/><stop offset=".056" stop-color="#0256db"/><stop offset=".1" stop-color="#088bcc"/><stop offset=".144" stop-color="#08a4b4"/><stop offset=".156" stop-color="#08aaac"/><stop offset=".222" stop-color="#08b1a0"/><stop offset=".311" stop-color="#08a7b1"/><stop offset=".411" stop-color="#0899c1"/><stop offset=".511" stop-color="#0895c5"/><stop offset=".578" stop-color="#089bbf"/><stop offset=".711" stop-color="#08b0a2"/><stop offset=".733" stop-color="#08b1a0"/><stop offset=".778" stop-color="#08aaac"/><stop offset=".811" stop-color="#089bbf"/><stop offset=".833" stop-color="#088acd"/><stop offset=".878" stop-color="#0254dc"/><stop offset=".889" stop-color="#2f3bca"/><stop offset=".9" stop-color="#3a2bb1"/><stop offset=".911" stop-color="#3b1c95"/><stop offset=".944" stop-color="#381486"/><stop offset="1" stop-color="#381486"/></linearGradient>
<linearGradient id="b82" x2="0" y2="1"><stop offset="0" stop-color="#381486"/><stop offset=".022" stop-color="#381486"/><stop offset=".033" stop-color="#3b1b94"/><stop offset=".044" stop-color="#3335c2"/><stop offset=".056" stop-color="#0256db"/><stop offset=".1" stop-color="#088bcc"/><stop offset=".144" stop-color="#08a4b4"/><stop offset=".156" stop-color="#08aaac"/><stop offset=".222" stop-color="#08b1a0"/><stop offset=".311" stop-color="#08a7b1"/><stop offset=".411" stop-color="#0899c1"/><stop offset=".511" stop-color="#0895c5"/><stop offset=".578" stop-color="#089bbf"/><stop offset=".711" stop-color="#08b0a2"/><stop offset=".733" stop-color="#08b1a1"/><stop offset=".778" stop-color="#08a9ad"/><stop offset=".811" stop-color="#089ac0"/><stop offset=".822" stop-color="#088fc9"/><stop offset=".833" stop-color="#0889cd"/><stop offset=".856" stop-color="#056dd6"/><stop offset=".867" stop-color="#0260d9"/><stop offset=".878" stop-color="#0a4fda"/><stop offset=".889" stop-color="#3138c7"/><stop offset=".9" stop-color="#3b28ac"/><stop offset=".911" stop-color="#3b1b93"/><stop offset=".944" stop-color="#381486"/><stop offset="1" stop-color="#381486"/></linearGradient>
<linearGradient id="b83" x2="0" y2="1"><stop offset="0" stop-color="#381486"/><stop offset=".022" stop-color="#381486"/><stop offset=".033" stop-color="#3b1b94"/><stop offset=".044" stop-color="#3335c2"/><stop offset=".056" stop-color="#0256db"/><stop offset=".1" stop-color="#088bcc"/><stop offset=".144" stop-color="#08a4b4"/><stop offset=".156" stop-color="#08aaac"/><stop offset=".222" stop-color="#08b1a0"/><stop offset=".311" stop-color="#08a7b1"/><stop offset=".411" stop-color="#0899c1"/><stop offset=".511" stop-color="#0895c5"/><stop offset=".6" stop-color="#089fbb"/><stop offset=".711" stop-color="#08b0a2"/><stop offset=".733" stop-color="#08b0a1"/><stop offset=".778" stop-color="#08a9ae"/><stop offset=".811" stop-color="#0898c2"/><stop offset=".833" stop-color="#0886ce"/><stop offset=".867" stop-color="#025ed9"/><stop offset=".878" stop-color="#124bd7"/><stop offset=".889" stop-color="#3336c3"/><stop offset=".9" stop-color="#3b25a7"/><stop offset=".911" stop-color="#3b1b92"/><stop offset=".944" stop-color="#381486"/><stop offset="1" stop-color="#381486"/></linearGradient>
<linearGradient id="b84" x2="0" y2="1"><stop offset="0" stop-color="#381486"/><stop offset=".022" stop-color="#381486"/><stop offset=".033" stop-color="#3b1b94"/><stop offset=".044" stop-color="#3335c2"/><stop offset=".056" stop-color="#0256db"/><stop offset=".1" stop-color="#088bcc"/><stop offset=".144" stop-color="#08a4b4"/><stop offset=".156" stop-color="#08aaac"/><stop offset=".222" stop-color="#08b1a0"/><stop offset=".311" stop-color="#08a7b1"/><stop offset=".411" stop-color="#0899c1"/><stop offset=".511" stop-color="#0895c5"/><stop offset=".6" stop-color="#089fbb"/><stop offset=".689" stop-color="#08aea5"/><stop offset=".733" stop-color="#08b0a1"/><stop offset=".778" stop-color="#08a8af"/><stop offset=".811" stop-color="#0897c3"/><stop offset=".833" stop-color="#0884cf"/><stop offset=".867" stop-color="#025bda"/><stop offset=".878" stop-color="#1a47d4"/><stop offset=".889" stop-color="#3533bf"/><stop offset=".9" stop-color="#3c22a2"/><stop offset=".911" stop-color="#3b1a91"/><stop offset=".933" stop-color="#381587"/><stop offset="1" stop-color="#381486"/></linearGradient>
<linearGradient id="b85" x2="0" y2="1"><stop offset="0" stop-color="#381486"/><stop offset=".022" stop-color="#381486"/><stop offset=".033" stop-color="#3b1b94"/><stop offset=".044" stop-color="#3335c2"/><stop offset=".056" stop-color="#0256db"/><stop offset=".1" stop-color="#088bcc"/><stop offset=".144" stop-color="#08a4b4"/><stop offset=".156" stop-color="#08aaac"/><stop offset=".222" stop-color="#08b1a0"/><stop offset=".311" stop-color="#08a7b1"/><stop offset=".411" stop-color="#0899c1"/><stop offset=".511" stop-color="#0895c5"/><stop offset=".6" stop-color="#089fbb"/><stop offset=".689" stop-color="#08aea5"/><stop offset=".722" stop-color="#08b1a0"/><stop offset=".778" stop-color="#08a7b0"/><stop offset=".811" stop-color="#0895c5"/><stop offset=".833" stop-color="#0882cf"/><stop offset=".867" stop-color="#0259da"/><stop offset=".878" stop-color="#2143d1"/><stop offset=".889" stop-color="#3730ba"/><stop offset=".9" stop-color="#3d1f9e"/><stop offset=".911" stop-color="#3a1a90"/><stop offset=".933" stop-color="#381486"/><stop offset="1" stop-color="#381486"/></linearGradient>
<linearGradient id="b86" x2="0" y2="1"><stop offset="0" stop-color="#381486"/><stop offset=".022" stop-color="#381486"/><stop offset=".033" stop-color="#3b1b94"/><stop offset=".044" stop-color="#3335c2"/><stop offset=".056" stop-color="#0256db"/><stop offset=".1" stop-color="#088bcc"/><stop offset=".144" stop-color="#08a4b4"/><stop offset=".156" stop-color="#08aaac"/><stop offset=".222" stop-color="#08b1a0"/><stop offset=".311" stop-color="#08a7b1"/><stop offset=".411" stop-color="#0899c1"/><stop offset=".511" stop-color="#0895c5"/><stop offset=".6" stop-color="#089fbb"/><stop offset=".689" stop-color="#08aea4"/><stop offset=".722" stop-color="#08b1a0"/><stop offset=".778" stop-color="#08a7b1"/><stop offset=".811" stop-color="#0894c6"/><stop offset=".833" stop-color="#0880d0"/><stop offset=".867" stop-color="#0257db"/><stop offset=".878" stop-color="#2940cf"/><stop offset=".889" stop-color="#392eb6"/><stop offset=".9" stop-color="#3c1d99"/><stop offset=".933" stop-color="#381486"/><stop offset="1" stop-color="#381486"/></linearGradient>
<linearGradient id="b87" x2="0" y2="1"><stop offset="0" stop-color="#381486"/><stop offset=".022" stop-color="#381486"/><stop offset=".033" stop-color="#3b1b94"/><stop offset=".044" stop-color="#3335c2"/><stop offset=".056" stop-color="#0256db"/><stop offset=".1" stop-color="#088bcc"/><stop offset=".144" stop-color="#08a4b4"/><stop offset=".156" stop-color="#08aaac"/><stop offset=".222" stop-color="#08b1a0"/><stop offset=".311" stop-color="#08a7b1"/><stop offset=".411" stop-color="#0899c1"/><stop offset=".511" stop-color="#0895c5"/><stop offset=".6" stop-color="#089fbb"/><stop offset=".689" stop-color="#08aea4"/><stop offset=".722" stop-color="#08b19f"/><stop offset=".767" stop-color="#08abab"/><stop offset=".8" stop-color="#089cbe"/><stop offset=".822" stop-color="#088bcc"/><stop offset=".867" stop-color="#0255dc"/><stop offset=".878" stop-color="#2f3ccb"/><stop offset=".889" stop-color="#3a2bb2"/><stop offset=".9" stop-color="#3b1c95"/><stop offset=".933" stop-color="#381486"/><stop offset="1" stop-color="#381486"/></linearGradient>
<linearGradient id="b88" x2="0" y2="1"><stop offset="0" stop-color="#381486"/><stop offset=".022" stop-color="#381486"/><stop offset=".033" stop-color="#3b1b94"/><stop offset=".044" stop-color="#3335c2"/><stop offset=".056" stop-color="#0256db"/><stop offset=".1" stop-color="#088bcc"/><stop offset=".144" stop-color="#08a4b4"/><stop offset=".156" stop-color="#08aaac"/><stop offset=".222" stop-color="#08b1a0"/><stop offset=".311" stop-color="#08a7b1"/><stop offset=".411" stop-color="#0899c1"/><stop offset=".511" stop-color="#0895c5"/><stop offset=".589" stop-color="#089dbd"/><stop offset=".689" stop-color="#08aea4"/><stop offset=".722" stop-color="#08b19f"/><stop offset=".767" stop-color="#08aaac"/><stop offset=".8" stop-color="#089bbf"/><stop offset=".822" stop-color="#088acd"/><stop offset=".856" stop-color="#0261d9"/><stop offset=".867" stop-color="#0752da"/><stop offset=".878" stop-color="#3039c8"/><stop offset=".889" stop-color="#3a28ad"/><stop offset=".9" stop-color="#3b1b93"/><stop offset=".933" stop-color="#381486"/><stop offset="1" stop-color="#381486"/></linearGradient>
<linearGradient id="b89" x2="0" y2="1"><stop offset="0" stop-color="#381486"/><stop offset=".022" stop-color="#381486"/><stop offset=".033" stop-color="#3b1b94"/><stop offset=".044" stop-color="#3335c2"/><stop offset=".056" stop-color="#0256db"/><stop offset=".1" stop-color="#088bcc"/><stop offset=".144" stop-color="#08a4b4"/><stop offset=".156" stop-color="#08aaac"/><stop offset=".222" stop-color="#08b1a0"/><stop offset=".311" stop-color="#08a7b1"/><stop offset=".411" stop-color="#0899c1"/><stop offset=".511" stop-color="#0895c5"/><stop offset=".589" stop-color="#089dbd"/><stop offset=".7" stop-color="#08b0a2"/><stop offset=".722" stop-color="#08b1a0"/><stop offset=".767" stop-color="#08aaac"/><stop offset=".8" stop-color="#089bbf"/><stop offset=".822" stop-color="#0889cd"/><stop offset=".856" stop-color="#025fd9"/><stop offset=".867" stop-color="#0f4dd8"/><stop offset=".878" stop-color="#3236c4"/><stop offset=".889" stop-color="#3b25a8"/><stop offset=".9" stop-color="#3b1b92"/><stop offset=".933" stop-color="#381486"/><stop offset="1" stop-color="#381486"/></linearGradient>
<linearGradient id="b90" x2="0" y2="1"><stop offset="0" stop-color="#381486"/><stop offset=".022" stop-color="#381486"/><stop offset=".033" stop-color="#3b1b94"/><stop offset=".044" stop-color="#3335c2"/><stop offset=".056" stop-color="#0256db"/><stop offset=".1" stop-color="#088bcc"/><stop offset=".144" stop-color="#08a4b4"/><stop offset=".156" stop-color="#08aaac"/><stop offset=".222" stop-color="#08b1a0"/><stop offset=".311" stop-color="#08a7b1"/><stop offset=".411" stop-color="#0899c1"/><stop offset=".5" stop-color="#0895c5"/><stop offset=".578" stop-color="#089bbf"/><stop offset=".689" stop-color="#08afa4"/><stop offset=".722" stop-color="#08b1a0"/><stop offset=".767" stop-color="#08aaad"/><stop offset=".8" stop-color="#0899c1"/><stop offset=".811" stop-color="#088eca"/><stop offset=".822" stop-color="#0887ce"/><stop offset=".856" stop-color="#025dda"/><stop offset=".867" stop-color="#1749d5"/><stop offset=".878" stop-color="#3433c0"/><stop offset=".889" stop-color="#3c22a3"/><stop offset=".9" stop-color="#3b1a91"/><stop offset=".922" stop-color="#381587"/><stop offset="1" stop-color="#381486"/></linearGradient>
<linearGradient id="b91" x2="0" y2="1"><stop offset="0" stop-color="#381486"/><stop offset=".022" stop-color="#381486"/><stop offset=".033" stop-color="#3b1b94"/><stop offset=".044" stop-color="#3335c2"/><stop offset=".056" stop-color="#0256db"/><stop offset=".1" stop-color="#088bcc"/><stop offset=".144" stop-color="#08a4b4"/><stop offset=".156" stop-color="#08aaac"/><stop offset=".222" stop-color="#08b1a0"/><stop offset=".311" stop-color="#08a7b1"/><stop offset=".411" stop-color="#0899c1"/><stop offset=".5" stop-color="#0895c5"/><stop offset=".578" stop-color="#089bbf"/><stop offset=".689" stop-color="#08afa4"/><stop offset=".722" stop-color="#08b1a0"/><stop offset=".767" stop-color="#08a9ae"/><stop offset=".8" stop-color="#0898c2"/><stop offset=".811" stop-color="#088dcb"/><stop offset=".822" stop-color="#0885ce"/><stop offset=".856" stop-color="#025ada"/><stop offset=".867" stop-color="#1e44d3"/><stop offset=".878" stop-color="#3630bb"/><stop offset=".889" stop-color="#3d1f9f"/><stop offset=".9" stop-color="#3a1a90"/><stop offset=".922" stop-color="#381486"/><stop offset="1" stop-color="#381486"/></linearGradient>
<linearGradient id="b92" x2="0" y2="1"><stop offset="0" stop-color="#381486"/><stop offset=".022" stop-color="#381486"/><stop offset=".033" stop-color="#3b1b94"/><stop offset=".044" stop-color="#3335c2"/><stop offset=".056" stop-color="#0256db"/><stop offset=".1" stop-color="#088bcc"/><stop offset=".144" stop-color="#08a4b4"/><stop offset=".156" stop-color="#08aaac"/><stop offset=".222" stop-color="#08b1a0"/><stop offset=".311" stop-color="#08a7b1"/><stop offset=".411" stop-color="#0899c1"/><stop offset=".5" stop-color="#0895c5"/><stop offset=".578" stop-color="#089bbf"/><stop offset=".689" stop-color="#08afa3"/><stop offset=".722" stop-color="#08b1a1"/><stop offset=".767" stop-color="#08a9af"/><stop offset=".8" stop-color="#0896c4"/><stop offset=".822" stop-color="#0882cf"/><stop offset=".856" stop-color="#0258da"/><stop offset=".867" stop-color="#2641d0"/><stop offset=".878" stop-color="#392fb7"/><stop offset=".889" stop-color="#3c1d99"/><stop offset=".911" stop-color="#39168a"/><stop offset=".933" stop-color="#381486"/><stop offset="1" stop-color="#381486"/></linearGradient>
<linearGradient id="b93" x2="0" y2="1"><stop offset="0" stop-color="#381486"/><stop offset=".022" stop-color="#381486"/><stop offset=".033" stop-color="#3b1b94"/><stop offset=".044" stop-color="#3335c2"/><stop offset=".056" stop-color="#0256db"/><stop offset=".1" stop-color="#088bcc"/><stop offset=".144" stop-color="#08a4b4"/><stop offset=".167" stop-color="#08abaa"/><stop offset=".222" stop-color="#08b1a1"/><stop offset=".322" stop-color="#08a5b4"/><stop offset=".422" stop-color="#0897c3"/><stop offset=".533" stop-color="#0896c4"/><stop offset=".622" stop-color="#08a3b5"/><stop offset=".7" stop-color="#08b0a2"/><stop offset=".722" stop-color="#08b0a1"/><stop offset=".767" stop-color="#08a8b0"/><stop offset=".8" stop-color="#0895c5"/><stop offset=".822" stop-color="#0880d0"/><stop offset=".856" stop-color="#0256db"/><stop offset=".867" stop-color="#2e3dcd"/><stop offset=".878" stop-color="#3a2cb3"/><stop offset=".889" stop-color="#3b1c95"/><stop offset=".922" stop-color="#381486"/><stop offset="1" stop-color="#381486"/></linearGradient>
<linearGradient id="b94" x2="0" y2="1"><stop offset="0" stop-color="#381486"/><stop offset=".022" stop-color="#381486"/><stop offset=".033" stop-color="#3b1b94"/><stop offset=".044" stop-color="#3335c2"/><stop offset=".056" stop-color="#0256db"/><stop offset=".078" stop-color="#066fd5"/><stop offset=".1" stop-color="#0887ce"/><stop offset=".156" stop-color="#08a2b8"/><stop offset=".222" stop-color="#08a6b2"/><stop offset=".311" stop-color="#089fbb"/><stop offset=".433" stop-color="#0890c8"/><stop offset=".556" stop-color="#0891c8"/><stop offset=".7" stop-color="#08a6b3"/><stop offset=".756" stop-color="#08a2b8"/><stop offset=".789" stop-color="#0895c5"/><stop offset=".811" stop-color="#0888cd"/><stop offset=".856" stop-color="#0254dc"/><stop offset=".867" stop-color="#303ac8"/><stop offset=".878" stop-color="#3a29ae"/><stop offset=".889" stop-color="#3b1b93"/><stop offset=".911" stop-color="#381588"/><stop offset="1" stop-color="#381486"/></linearGradient>
<linearGradient id="b95" x2="0" y2="1"><stop offset="0" stop-color="#381486"/><stop offset=".022" stop-color="#381486"/><stop offset=".033" stop-color="#3b1b94"/><stop offset=".044" stop-color="#3335c2"/><stop offset=".056" stop-color="#0256db"/><stop offset=".067" stop-color="#0364d8"/><stop offset=".111" stop-color="#0883cf"/><stop offset=".133" stop-color="#088bcc"/><stop offset=".211" stop-color="#0893c6"/><stop offset=".478" stop-color="#0886ce"/><stop offset=".722" stop-color="#0893c7"/><stop offset=".789" stop-color="#088acc"/><stop offset=".844" stop-color="#0261d9"/><stop offset=".856" stop-color="#0b4fda"/><stop offset=".867" stop-color="#3137c5"/><stop offset=".878" stop-color="#3b26a8"/><stop offset=".889" stop-color="#3b1b92"/><stop offset=".911" stop-color="#381587"/><stop offset="1" stop-color="#381486"/></linearGradient>
<linearGradient id="b96" x2="0" y2="1"><stop offset="0" stop-color="#381486"/><stop offset=".022" stop-color="#381486"/><stop offset=".033" stop-color="#3b1b94"/><stop offset=".044" stop-color="#3335c2"/><stop offset=".056" stop-color="#0256db"/><stop offset=".067" stop-color="#0362d8"/><stop offset=".122" stop-color="#0874d3"/><stop offset=".178" stop-color="#087cd1"/><stop offset=".3" stop-color="#087cd1"/><stop offset=".478" stop-color="#0872d3"/><stop offset=".611" stop-color="#0878d2"/><stop offset=".722" stop-color="#087ed1"/><stop offset=".789" stop-color="#0875d3"/><stop offset=".844" stop-color="#025ed9"/><stop offset=".856" stop-color="#134ad7"/><stop offset=".867" stop-color="#3434c1"/><stop offset=".878" stop-color="#3c23a3"/><stop offset=".889" stop-color="#3b1a91"/><stop offset=".911" stop-color="#381586"/><stop offset="1" stop-color="#381486"/></linearGradient>
<linearGradient id="b97" x2="0" y2="1"><stop offset="0" stop-color="#381486"/><stop offset=".022" stop-color="#381486"/><stop offset=".033" stop-color="#3b1b94"/><stop offset=".044" stop-color="#3335c2"/><stop offset=".056" stop-color="#0256db"/><stop offset=".067" stop-color="#0262d9"/><stop offset=".222" stop-color="#0469d7"/><stop offset=".778" stop-color="#0368d8"/><stop offset=".833" stop-color="#0362d8"/><stop offset=".844" stop-color="#025cda"/><stop offset=".856" stop-color="#1c46d4"/><stop offset=".867" stop-color="#3631bc"/><stop offset=".878" stop-color="#3d209f"/><stop offset=".889" stop-color="#3a1a90"/><stop offset=".911" stop-color="#381486"/><stop offset="1" stop-color="#381486"/></linearGradient>
<linearGradient id="b98" x2="0" y2="1"><stop offset="0" stop-color="#381486"/><stop offset=".022" stop-color="#381486"/><stop offset=".033" stop-color="#3b1b94"/><stop offset=".044" stop-color="#3335c2"/><stop offset=".056" stop-color="#0256db"/><stop offset=".067" stop-color="#0261d9"/><stop offset=".833" stop-color="#0261d9"/><stop offset=".844" stop-color="#0259da"/><stop offset=".856" stop-color="#2342d1"/><stop offset=".867" stop-color="#382fb8"/><stop offset=".878" stop-color="#3c1d9a"/><stop offset=".9" stop-color="#39168a"/><stop offset=".922" stop-color="#381486"/><stop offset="1" stop-color="#381486"/></linearGradient>
<linearGradient id="b99" x2="0" y2="1"><stop offset="0" stop-color="#0261d9"/><stop offset=".344" stop-color="#0261d9"/><stop offset=".4" stop-color="#0256db"/><stop offset=".444" stop-color="#0256db"/><stop offset=".533" stop-color="#0261d9"/><stop offset="1" stop-color="#0261d9"/></linearGradient>
<linearGradient id="b100" x2="0" y2="1"><stop offset="0" stop-color="#0361d5"/><stop offset=".344" stop-color="#0260d6"/><stop offset=".4" stop-color="#0256d9"/><stop offset=".444" stop-color="#0255d9"/><stop offset=".533" stop-color="#0260d6"/><stop offset="1" stop-color="#0361d5"/></linearGradient>
<linearGradient id="b101" x2="0" y2="1"><stop offset="0" stop-color="#0774cb"/><stop offset=".167" stop-color="#076fcc"/><stop offset=".356" stop-color="#025bd1"/><stop offset=".422" stop-color="#0252d5"/><stop offset=".589" stop-color="#0363d0"/><stop offset=".933" stop-color="#0774cb"/><stop offset="1" stop-color="#0774cb"/></linearGradient>
<linearGradient id="b102" x2="0" y2="1"><stop offset="0" stop-color="#0790b5"/><stop offset=".133" stop-color="#078bba"/><stop offset=".222" stop-color="#0780c1"/><stop offset=".3" stop-color="#0466c9"/><stop offset=".389" stop-color="#0252ce"/><stop offset=".444" stop-color="#0250ce"/><stop offset=".622" stop-color="#076bc6"/><stop offset=".733" stop-color="#0782c1"/><stop offset=".922" stop-color="#0790b5"/><stop offset="1" stop-color="#0790b5"/></linearGradient>
<linearGradient id="b103" x2="0" y2="1"><stop offset="0" stop-color="#06a88c"/><stop offset=".122" stop-color="#07a493"/><stop offset=".178" stop-color="#0797aa"/><stop offset=".267" stop-color="#077ac0"/><stop offset=".311" stop-color="#0465c6"/><stop offset=".378" stop-color="#0252ca"/><stop offset=".444" stop-color="#024fcb"/><stop offset=".511" stop-color="#0258c9"/><stop offset=".656" stop-color="#077fbe"/><stop offset=".767" stop-color="#0793ad"/><stop offset=".878" stop-color="#07a68f"/><stop offset="1" stop-color="#06a88c"/></linearGradient>
<linearGradient id="b104" x2="0" y2="1"><stop offset="0" stop-color="#21ac7c"/><stop offset=".067" stop-color="#12ac7f"/><stop offset=".122" stop-color="#04ac82"/><stop offset=".189" stop-color="#079aa5"/><stop offset=".256" stop-color="#0781bd"/><stop offset=".322" stop-color="#0463c7"/><stop offset=".378" stop-color="#0252ca"/><stop offset=".444" stop-color="#024fcb"/><stop offset=".511" stop-color="#0258c9"/><stop offset=".622" stop-color="#0779c0"/><stop offset=".689" stop-color="#0788b8"/><stop offset=".778" stop-color="#079da2"/><stop offset=".856" stop-color="#04ac82"/><stop offset=".867" stop-color="#12ac7f"/><stop offset=".933" stop-color="#21ac7c"/><stop offset="1" stop-color="#21ac7c"/></linearGradient>
<linearGradient id="b105" x2="0" y2="1"><stop offset="0" stop-color="#21ac7c"/><stop offset=".067" stop-color="#12ac7f"/><stop offset=".122" stop-color="#04ac82"/><stop offset=".189" stop-color="#079aa5"/><stop offset=".256" stop-color="#0781bd"/><stop offset=".322" stop-color="#0463c7"/><stop offset=".378" stop-color="#0252ca"/><stop offset=".444" stop-color="#024fcb"/><stop offset=".511" stop-color="#0259c9"/><stop offset=".6" stop-color="#0772c2"/><stop offset=".644" stop-color="#0780bd"/><stop offset=".7" stop-color="#078bb5"/><stop offset=".778" stop-color="#079da1"/><stop offset=".856" stop-color="#05ac82"/><stop offset=".867" stop-color="#12ac7f"/><stop offset=".933" stop-color="#21ac7c"/><stop offset="1" stop-color="#21ac7c"/></linearGradient>
<linearGradient id="b106" x2="0" y2="1"><stop offset="0" stop-color="#21ac7c"/><stop offset=".067" stop-color="#12ac7f"/><stop offset=".122" stop-color="#04ac82"/><stop offset=".189" stop-color="#079aa5"/><stop offset=".256" stop-color="#0781bd"/><stop offset=".322" stop-color="#0463c7"/><stop offset=".378" stop-color="#0252ca"/><stop offset=".444" stop-color="#024fcb"/><stop offset=".511" stop-color="#0259c9"/><stop offset=".611" stop-color="#0776c1"/><stop offset=".656" stop-color="#0781bd"/><stop offset=".778" stop-color="#079da1"/><stop offset=".844" stop-color="#04ab86"/><stop offset=".856" stop-color="#07ac81"/><stop offset=".867" stop-color="#13ac7f"/><stop offset=".933" stop-color="#21ac7c"/><stop offset="1" stop-color="#21ac7c"/></linearGradient>
<linearGradient id="b107" x2="0" y2="1"><stop offset="0" stop-color="#21ac7c"/><stop offset=".067" stop-color="#12ac7f"/><stop offset=".122" stop-color="#04ac82"/><stop offset=".189" stop-color="#079aa5"/><stop offset=".256" stop-color="#0781bd"/><stop offset=".322" stop-color="#0463c7"/><stop offset=".378" stop-color="#0252ca"/><stop offset=".444" stop-color="#024fcb"/><stop offset=".511" stop-color="#0259c9"/><stop offset=".622" stop-color="#077ac0"/><stop offset=".7" stop-color="#078bb5"/><stop offset=".778" stop-color="#079ea0"/><stop offset=".844" stop-color="#04ab85"/><stop offset=".867" stop-color="#13ac7f"/><stop offset=".922" stop-color="#21ac7c"/><stop offset="1" stop-color="#21ac7c"/></linearGradient>
<linearGradient id="b108" x2="0" y2="1"><stop offset="0" stop-color="#21ac7c"/><stop offset=".067" stop-color="#12ac7f"/><stop offset=".122" stop-color="#04ac82"/><stop offset=".189" stop-color="#079aa5"/><stop offset=".256" stop-color="#0781bd"/><stop offset=".322" stop-color="#0463c7"/><stop offset=".378" stop-color="#0252ca"/><stop offset=".444" stop-color="#024fcb"/><stop offset=".511" stop-color="#0259c9"/><stop offset=".622" stop-color="#077ac0"/><stop offset=".7" stop-color="#078cb4"/><stop offset=".778" stop-color="#079e9f"/><stop offset=".844" stop-color="#04ac84"/><stop offset=".867" stop-color="#14ac7f"/><stop offset=".922" stop-color="#21ac7c"/><stop offset="1" stop-color="#21ac7c"/></linearGradient>
<linearGradient id="b109" x2="0" y2="1"><stop offset="0" stop-color="#21ac7c"/><stop offset=".067" stop-color="#12ac7f"/><stop offset=".122" stop-color="#04ac82"/><stop offset=".189" stop-color="#079aa5"/><stop offset=".256" stop-color="#0781bd"/><stop offset=".322" stop-color="#0463c7"/><stop offset=".378" stop-color="#0252ca"/><stop offset=".444" stop-color="#024fcb"/><stop offset=".511" stop-color="#0259c9"/><stop offset=".611" stop-color="#0777c1"/><stop offset=".644" stop-color="#0780bd"/><stop offset=".733" stop-color="#0794ac"/><stop offset=".811" stop-color="#07a591"/><stop offset=".844" stop-color="#04ac84"/><stop offset=".856" stop-color="#0fac80"/><stop offset=".911" stop-color="#21ac7c"/><stop offset="1" stop-color="#21ac7c"/></linearGradient>
<linearGradient id="b110" x2="0" y2="1"><stop offset="0" stop-color="#21ac7c"/><stop offset=".067" stop-color="#12ac7f"/><stop offset=".122" stop-color="#04ac82"/><stop offset=".189" stop-color="#079aa5"/><stop offset=".256" stop-color="#0781bd"/><stop offset=".322" stop-color="#0463c7"/><stop offset=".378" stop-color="#0252ca"/><stop offset=".444" stop-color="#024fcb"/><stop offset=".511" stop-color="#0259c9"/><stop offset=".633" stop-color="#077fbe"/><stop offset=".7" stop-color="#078cb4"/><stop offset=".778" stop-color="#079e9e"/><stop offset=".844" stop-color="#04ac83"/><stop offset=".856" stop-color="#12ac80"/><stop offset=".911" stop-color="#21ac7c"/><stop offset="1" stop-color="#21ac7c"/></linearGradient>
<linearGradient id="b111" x2="0" y2="1"><stop offset="0" stop-color="#21ac7c"/><stop offset=".067" stop-color="#12ac7f"/><stop offset=".122" stop-color="#04ac82"/><stop offset=".189" stop-color="#079aa5"/><stop offset=".256" stop-color="#0781bd"/><stop offset=".322" stop-color="#0463c7"/><stop offset=".378" stop-color="#0252ca"/><stop offset=".444" stop-color="#024fcb"/><stop offset=".511" stop-color="#0259c9"/><stop offset=".633" stop-color="#077fbe"/><stop offset=".711" stop-color="#078fb1"/><stop offset=".789" stop-color="#07a199"/><stop offset=".844" stop-color="#04ac82"/><stop offset=".856" stop-color="#12ac7f"/><stop offset=".922" stop-color="#21ac7c"/><stop offset="1" stop-color="#21ac7c"/></linearGradient>
<linearGradient id="b112" x2="0" y2="1"><stop offset="0" stop-color="#21ac7c"/><stop offset=".067" stop-color="#12ac7f"/><stop offset=".122" stop-color="#04ac82"/><stop offset=".189" stop-color="#079aa5"/><stop offset=".256" stop-color="#0781bd"/><stop offset=".322" stop-color="#0463c7"/><stop offset=".378" stop-color="#0252ca"/><stop offset=".444" stop-color="#024fcb"/><stop offset=".511" stop-color="#0259c9"/><stop offset=".633" stop-color="#077fbe"/><stop offset=".711" stop-color="#078fb1"/><stop offset=".778" stop-color="#079e9e"/><stop offset=".844" stop-color="#06ac81"/><stop offset=".856" stop-color="#13ac7f"/><stop offset=".922" stop-color="#21ac7c"/><stop offset="1" stop-color="#21ac7c"/></linearGradient>
<linearGradient id="b113" x2="0" y2="1"><stop offset="0" stop-color="#21ac7c"/><stop offset=".067" stop-color="#12ac7f"/><stop offset=".122" stop-color="#04ac82"/><stop offset=".189" stop-color="#079aa5"/><stop offset=".256" stop-color="#0781bd"/><stop offset=".322" stop-color="#0463c7"/><stop offset=".378" stop-color="#0252ca"/><stop offset=".444" stop-color="#024fcb"/><stop offset=".5" stop-color="#0256ca"/><stop offset=".644" stop-color="#0780bd"/><stop offset=".744" stop-color="#0797a9"/><stop offset=".833" stop-color="#04ab86"/><stop offset=".844" stop-color="#09ac81"/><stop offset=".856" stop-color="#13ac7f"/><stop offset=".911" stop-color="#21ac7c"/><stop offset="1" stop-color="#21ac7c"/></linearGradient>
<linearGradient id="b114" x2="0" y2="1"><stop offset="0" stop-color="#21ac7c"/><stop offset=".067" stop-color="#12ac7f"/><stop offset=".122" stop-color="#04ac82"/><stop offset=".189" stop-color="#079aa5"/><stop offset=".256" stop-color="#0781bd"/><stop offset=".322" stop-color="#0463c7"/><stop offset=".378" stop-color="#0252ca"/><stop offset=".433" stop-color="#024dcc"/><stop offset=".5" stop-color="#0256ca"/><stop offset=".644" stop-color="#0780bd"/><stop offset=".756" stop-color="#079aa5"/><stop offset=".833" stop-color="#04ac85"/><stop offset=".856" stop-color="#14ac7f"/><stop offset=".911" stop-color="#21ac7c"/><stop offset="1" stop-color="#21ac7c"/></linearGradient>
<linearGradient id="b115" x2="0" y2="1"><stop offset="0" stop-color="#21ac7c"/><stop offset=".067" stop-color="#12ac7f"/><stop offset=".122" stop-color="#04ac82"/><stop offset=".189" stop-color="#079aa5"/><stop offset=".256" stop-color="#0781bd"/><stop offset=".322" stop-color="#0463c7"/><stop offset=".378" stop-color="#0252ca"/><stop offset=".4" stop-color="#024ecc"/><stop offset=".411" stop-color="#0c48c9"/><stop offset=".422" stop-color="#0b48c9"/><stop offset=".433" stop-color="#034dcc"/><stop offset=".511" stop-color="#025ac9"/><stop offset=".633" stop-color="#0780be"/><stop offset=".722" stop-color="#0793ad"/><stop offset=".789" stop-color="#07a396"/><stop offset=".833" stop-color="#04ac84"/><stop offset=".856" stop-color="#14ac7f"/><stop offset=".911" stop-color="#21ac7c"/><stop offset="1" stop-color="#21ac7c"/></linearGradient>
<linearGradient id="b116" x2="0" y2="1"><stop offset="0" stop-color="#21ac7c"/><stop offset=".067" stop-color="#12ac7f"/><stop offset=".122" stop-color="#04ac82"/><stop offset=".189" stop-color="#079aa5"/><stop offset=".256" stop-color="#0781bd"/><stop offset=".322" stop-color="#0463c7"/><stop offset=".389" stop-color="#024fcb"/><stop offset=".4" stop-color="#0b48c9"/><stop offset=".411" stop-color="#203ec2"/><stop offset=".422" stop-color="#1c3fc3"/><stop offset=".444" stop-color="#024ecc"/><stop offset=".511" stop-color="#025ac9"/><stop offset=".611" stop-color="#0779c0"/><stop offset=".678" stop-color="#0788b8"/><stop offset=".767" stop-color="#079e9f"/><stop offset=".833" stop-color="#04ac83"/><stop offset=".844" stop-color="#11ac80"/><stop offset=".9" stop-color="#21ac7c"/><stop offset="1" stop-color="#21ac7c"/></linearGradient>
<linearGradient id="b117" x2="0" y2="1"><stop offset="0" stop-color="#21ac7c"/><stop offset=".067" stop-color="#12ac7f"/><stop offset=".122" stop-color="#04ac82"/><stop offset=".189" stop-color="#079aa5"/><stop offset=".256" stop-color="#0781bd"/><stop offset=".322" stop-color="#0463c7"/><stop offset=".378" stop-color="#024fcb"/><stop offset=".389" stop-color="#0b48c9"/><stop offset=".4" stop-color="#203ec2"/><stop offset=".411" stop-color="#2e34b8"/><stop offset=".422" stop-color="#2c36ba"/><stop offset=".433" stop-color="#203ec2"/><stop offset=".444" stop-color="#0c48c9"/><stop offset=".456" stop-color="#024fcb"/><stop offset=".522" stop-color="#035cc8"/><stop offset=".622" stop-color="#077dbf"/><stop offset=".7" stop-color="#078fb2"/><stop offset=".767" stop-color="#079e9f"/><stop offset=".833" stop-color="#04ac82"/><stop offset=".844" stop-color="#12ac7f"/><stop offset=".911" stop-color="#21ac7c"/><stop offset="1" stop-color="#21ac7c"/></linearGradient>
<linearGradient id="b118" x2="0" y2="1"><stop offset="0" stop-color="#21ac7c"/><stop offset=".067" stop-color="#12ac7f"/><stop offset=".122" stop-color="#04ac82"/><stop offset=".189" stop-color="#079aa5"/><stop offset=".256" stop-color="#0781bd"/><stop offset=".322" stop-color="#0463c7"/><stop offset=".367" stop-color="#0251cb"/><stop offset=".378" stop-color="#0b48c9"/><stop offset=".389" stop-color="#213ec2"/><stop offset=".4" stop-color="#2e34b7"/><stop offset=".411" stop-color="#342bab"/><stop offset=".422" stop-color="#332dad"/><stop offset=".433" stop-color="#2d34b8"/><stop offset=".444" stop-color="#1f3ec2"/><stop offset=".456" stop-color="#0b49ca"/><stop offset=".467" stop-color="#024fcb"/><stop offset=".589" stop-color="#0771c2"/><stop offset=".633" stop-color="#0780bd"/><stop offset=".7" stop-color="#078fb2"/><stop offset=".767" stop-color="#079e9e"/><stop offset=".833" stop-color="#05ac82"/><stop offset=".844" stop-color="#12ac7f"/><stop offset=".9" stop-color="#21ac7c"/><stop offset="1" stop-color="#21ac7c"/></linearGradient>
<linearGradient id="b119" x2="0" y2="1"><stop offset="0" stop-color="#21ac7c"/><stop offset=".067" stop-color="#12ac7f"/><stop offset=".122" stop-color="#04ac82"/><stop offset=".189" stop-color="#079aa5"/><stop offset=".256" stop-color="#0781bd"/><stop offset=".356" stop-color="#0254ca"/><stop offset=".367" stop-color="#084aca"/><stop offset=".378" stop-color="#213dc1"/><stop offset=".389" stop-color="#2f33b6"/><stop offset=".411" stop-color="#37229c"/><stop offset=".422" stop-color="#37249f"/><stop offset=".444" stop-color="#2e34b8"/><stop offset=".456" stop-color="#1f3ec2"/><stop offset=".467" stop-color="#094aca"/><stop offset=".478" stop-color="#0250cb"/><stop offset=".633" stop-color="#0780bd"/><stop offset=".7" stop-color="#078fb2"/><stop offset=".767" stop-color="#079e9e"/><stop offset=".822" stop-color="#04ab86"/><stop offset=".833" stop-color="#08ac81"/><stop offset=".844" stop-color="#13ac7f"/><stop offset=".9" stop-color="#21ac7c"/><stop offset="1" stop-color="#21ac7c"/></linearGradient>
<linearGradient id="b120" x2="0" y2="1"><stop offset="0" stop-color="#21ac7c"/><stop offset=".067" stop-color="#12ac7f"/><stop offset=".122" stop-color="#04ac82"/><stop offset=".189" stop-color="#079aa5"/><stop offset=".256" stop-color="#0781bd"/><stop offset=".322" stop-color="#0463c7"/><stop offset=".356" stop-color="#024ecc"/><stop offset=".367" stop-color="#213ec2"/><stop offset=".378" stop-color="#2f32b5"/><stop offset=".4" stop-color="#37219a"/><stop offset=".411" stop-color="#371b8e"/><stop offset=".422" stop-color="#381c91"/><stop offset=".444" stop-color="#342bab"/><stop offset=".456" stop-color="#2e34b7"/><stop offset=".467" stop-color="#1f3ec2"/><stop offset=".478" stop-color="#084aca"/><stop offset=".489" stop-color="#0251cb"/><stop offset=".633" stop-color="#0780bd"/><stop offset=".7" stop-color="#078fb1"/><stop offset=".767" stop-color="#079f9e"/><stop offset=".822" stop-color="#04ab85"/><stop offset=".844" stop-color="#14ac7f"/><stop offset=".9" stop-color="#21ac7c"/><stop offset="1" stop-color="#21ac7c"/></linearGradient>
<linearGradient id="b121" x2="0" y2="1"><stop offset="0" stop-color="#21ac7c"/><stop offset=".067" stop-color="#12ac7f"/><stop offset=".122" stop-color="#04ac82"/><stop offset=".189" stop-color="#079aa5"/><stop offset=".256" stop-color="#0781bd"/><stop offset=".278" stop-color="#0779c0"/><stop offset=".333" stop-color="#0259c9"/><stop offset=".344" stop-color="#0250cb"/><stop offset=".356" stop-color="#1a41c3"/><stop offset=".367" stop-color="#2f32b5"/><stop offset=".389" stop-color="#372198"/><stop offset=".411" stop-color="#361683"/><stop offset=".422" stop-color="#361886"/><stop offset=".444" stop-color="#37229c"/><stop offset=".456" stop-color="#352baa"/><stop offset=".467" stop-color="#2e34b7"/><stop offset=".478" stop-color="#1f3ec2"/><stop offset=".489" stop-color="#064bca"/><stop offset=".511" stop-color="#0259c9"/><stop offset=".611" stop-color="#077ac0"/><stop offset=".678" stop-color="#078ab6"/><stop offset=".756" stop-color="#079da1"/><stop offset=".822" stop-color="#04ac84"/><stop offset=".844" stop-color="#14ac7f"/><stop offset=".9" stop-color="#21ac7c"/><stop offset="1" stop-color="#21ac7c"/></linearGradient>
<linearGradient id="b122" x2="0" y2="1"><stop offset="0" stop-color="#21ac7c"/><stop offset=".067" stop-color="#12ac7f"/><stop offset=".122" stop-color="#04ac82"/><stop offset=".189" stop-color="#079aa5"/><stop offset=".256" stop-color="#0781bd"/><stop offset=".278" stop-color="#0779c0"/><stop offset=".322" stop-color="#035cc8"/><stop offset=".333" stop-color="#0252ca"/><stop offset=".344" stop-color="#1544c6"/><stop offset=".356" stop-color="#2e34b7"/><stop offset=".378" stop-color="#372096"/><stop offset=".4" stop-color="#351682"/><stop offset=".411" stop-color="#34137d"/><stop offset=".433" stop-color="#361785"/><stop offset=".456" stop-color="#37219a"/><stop offset=".467" stop-color="#352aa9"/><stop offset=".478" stop-color="#2e33b6"/><stop offset=".489" stop-color="#1f3ec2"/><stop offset=".5" stop-color="#024ecc"/><stop offset=".533" stop-color="#0461c7"/><stop offset=".633" stop-color="#0780bd"/><stop offset=".722" stop-color="#0795ac"/><stop offset=".822" stop-color="#04ac84"/><stop offset=".833" stop-color="#10ac80"/><stop offset=".889" stop-color="#21ac7c"/><stop offset="1" stop-color="#21ac7c"/></linearGradient>
<linearGradient id="b123" x2="0" y2="1"><stop offset="0" stop-color="#21ac7c"/><stop offset=".067" stop-color="#12ac7f"/><stop offset=".122" stop-color="#04ac82"/><stop offset=".189" stop-color="#079aa5"/><stop offset=".256" stop-color="#0781bd"/><stop offset=".278" stop-color="#0779c0"/><stop offset=".322" stop-color="#0254ca"/><stop offset=".333" stop-color="#1046c7"/><stop offset=".344" stop-color="#2d35b9"/><stop offset=".356" stop-color="#3529a7"/><stop offset=".367" stop-color="#372096"/><stop offset=".389" stop-color="#351581"/><stop offset=".411" stop-color="#34127c"/><stop offset=".433" stop-color="#34137e"/><stop offset=".456" stop-color="#371a8d"/><stop offset=".478" stop-color="#3529a8"/><stop offset=".489" stop-color="#2f33b6"/><stop offset=".5" stop-color="#1a41c3"/><stop offset=".511" stop-color="#0250cb"/><stop offset=".544" stop-color="#0464c6"/><stop offset=".633" stop-color="#0780bd"/><stop offset=".711" stop-color="#0793ad"/><stop offset=".767" stop-color="#07a09b"/><stop offset=".822" stop-color="#04ac83"/><stop offset=".833" stop-color="#12ac7f"/><stop offset=".9" stop-color="#21ac7c"/><stop offset="1" stop-color="#21ac7c"/></linearGradient>
<linearGradient id="b124" x2="0" y2="1"><stop offset="0" stop-color="#21ac7c"/><stop offset=".067" stop-color="#12ac7f"/><stop offset=".122" stop-color="#04ac82"/><stop offset=".189" stop-color="#079aa5"/><stop offset=".256" stop-color="#0781bd"/><stop offset=".278" stop-color="#0778c1"/><stop offset=".311" stop-color="#0257c9"/><stop offset=".322" stop-color="#0c48c9"/><stop offset=".333" stop-color="#2c36ba"/><stop offset=".344" stop-color="#3529a7"/><stop offset=".367" stop-color="#371988"/><stop offset=".389" stop-color="#34127c"/><stop offset=".444" stop-color="#34137d"/><stop offset=".467" stop-color="#371a8b"/><stop offset=".489" stop-color="#3529a6"/><stop offset=".5" stop-color="#2e34b7"/><stop offset=".511" stop-color="#1643c5"/><stop offset=".522" stop-color="#0251cb"/><stop offset=".544" stop-color="#0463c7"/><stop offset=".611" stop-color="#077bbf"/><stop offset=".678" stop-color="#078ab6"/><stop offset=".767" stop-color="#07a09b"/><stop offset=".822" stop-color="#04ac82"/><stop offset=".833" stop-color="#12ac7f"/><stop offset=".889" stop-color="#21ac7c"/><stop offset="1" stop-color="#21ac7c"/></linearGradient>
<linearGradient id="b125" x2="0" y2="1"><stop offset="0" stop-color="#21ac7c"/><stop offset=".067" stop-color="#12ac7f"/><stop offset=".122" stop-color="#04ac82"/><stop offset=".189" stop-color="#079aa5"/><stop offset=".256" stop-color="#0781bd"/><stop offset=".267" stop-color="#077ebe"/><stop offset=".3" stop-color="#025ac9"/><stop offset=".311" stop-color="#044dcb"/><stop offset=".322" stop-color="#2c36bb"/><stop offset=".333" stop-color="#3529a7"/><stop offset=".356" stop-color="#371988"/><stop offset=".367" stop-color="#351480"/><stop offset=".4" stop-color="#34127c"/><stop offset=".456" stop-color="#34137d"/><stop offset=".478" stop-color="#371a8a"/><stop offset=".5" stop-color="#3529a7"/><stop offset=".511" stop-color="#2d35b8"/><stop offset=".522" stop-color="#1245c7"/><stop offset=".533" stop-color="#0253ca"/><stop offset=".556" stop-color="#0465c6"/><stop offset=".622" stop-color="#077fbe"/><stop offset=".689" stop-color="#078eb3"/><stop offset=".756" stop-color="#079e9f"/><stop offset=".822" stop-color="#06ac81"/><stop offset=".833" stop-color="#13ac7f"/><stop offset=".889" stop-color="#21ac7c"/><stop offset="1" stop-color="#21ac7c"/></linearGradient>
<linearGradient id="b126" x2="0" y2="1"><stop offset="0" stop-color="#21ac7c"/><stop offset=".067" stop-color="#12ac7f"/><stop offset=".122" stop-color="#04ac82"/><stop offset=".189" stop-color="#079aa5"/><stop offset=".256" stop-color="#0780bd"/><stop offset=".278" stop-color="#0769c3"/><stop offset=".3" stop-color="#024fcb"/><stop offset=".311" stop-color="#2b37bd"/><stop offset=".322" stop-color="#3529a7"/><stop offset=".333" stop-color="#371f95"/><stop offset=".356" stop-color="#34147f"/><stop offset=".467" stop-color="#34137c"/><stop offset=".489" stop-color="#371989"/><stop offset=".5" stop-color="#372096"/><stop offset=".511" stop-color="#3529a7"/><stop offset=".522" stop-color="#2d35b9"/><stop offset=".533" stop-color="#0f46c8"/><stop offset=".544" stop-color="#0255ca"/><stop offset=".578" stop-color="#076ec2"/><stop offset=".622" stop-color="#0780be"/><stop offset=".689" stop-color="#078fb2"/><stop offset=".756" stop-color="#079e9e"/><stop offset=".811" stop-color="#04ab86"/><stop offset=".822" stop-color="#09ac81"/><stop offset=".833" stop-color="#13ac7f"/><stop offset=".889" stop-color="#21ac7c"/><stop offset="1" stop-color="#21ac7c"/></linearGradient>
<linearGradient id="b127" x2="0" y2="1"><stop offset="0" stop-color="#21ac7c"/><stop offset=".067" stop-color="#12ac7f"/><stop offset=".122" stop-color="#04ac82"/><stop offset=".189" stop-color="#079aa5"/><stop offset=".233" stop-color="#078ab6"/><stop offset=".256" stop-color="#077cbf"/><stop offset=".289" stop-color="#0251cb"/><stop offset=".3" stop-color="#2839bf"/><stop offset=".311" stop-color="#352aa8"/><stop offset=".322" stop-color="#371e94"/><stop offset=".333" stop-color="#361887"/><stop offset=".344" stop-color="#34147f"/><stop offset=".478" stop-color="#34127c"/><stop offset=".489" stop-color="#351480"/><stop offset=".511" stop-color="#371f96"/><stop offset=".522" stop-color="#3529a7"/><stop offset=".533" stop-color="#2c36ba"/><stop offset=".544" stop-color="#0a4aca"/><stop offset=".556" stop-color="#0257c9"/><stop offset=".589" stop-color="#0772c2"/><stop offset=".622" stop-color="#0780be"/><stop offset=".689" stop-color="#078fb2"/><stop offset=".756" stop-color="#079e9e"/><stop offset=".811" stop-color="#04ac85"/><stop offset=".833" stop-color="#14ac7f"/><stop offset=".878" stop-color="#21ac7c"/><stop offset="1" stop-color="#21ac7c"/></linearGradient>
<clipPath id="clipB"><path d="M60.5 324 L283 318.4 L400 317.6 L800.5 317.8 L798 430 L795.5 542.6 L645 555 L433 574.6 L62.5 575 Z"/></clipPath>
<filter id="hb2" x="-5%" y="-5%" width="110%" height="110%"><feGaussianBlur stdDeviation="2.6 0.6"/></filter>
<filter id="cb" filterUnits="userSpaceOnUse" x="0" y="690" width="1018" height="838"><feGaussianBlur stdDeviation="0.55"/></filter>
<clipPath id="clipC"><rect x="54.5" y="697.0" width="836.3" height="786.0"/></clipPath></defs>
<rect width="1018" height="1528" fill="#fff"/>
<g clip-path="url(#clipA)"><g filter="url(#hb)"><rect x="48" y="-2" width="8.6" height="234" fill="url(#a0)"/><rect x="56" y="-2" width="8.6" height="234" fill="url(#a1)"/><rect x="64" y="-2" width="8.6" height="234" fill="url(#a2)"/><rect x="72" y="-2" width="8.6" height="234" fill="url(#a3)"/><rect x="80" y="-2" width="8.6" height="234" fill="url(#a4)"/><rect x="88" y="-2" width="8.6" height="234" fill="url(#a5)"/><rect x="96" y="-2" width="8.6" height="234" fill="url(#a6)"/><rect x="104" y="-2" width="8.6" height="234" fill="url(#a7)"/><rect x="112" y="-2" width="8.6" height="234" fill="url(#a8)"/><rect x="120" y="-2" width="8.6" height="234" fill="url(#a9)"/><rect x="128" y="-2" width="8.6" height="234" fill="url(#a10)"/><rect x="136" y="-2" width="8.6" height="234" fill="url(#a11)"/><rect x="144" y="-2" width="8.6" height="234" fill="url(#a12)"/><rect x="152" y="-2" width="8.6" height="234" fill="url(#a13)"/><rect x="160" y="-2" width="8.6" height="234" fill="url(#a14)"/><rect x="168" y="-2" width="8.6" height="234" fill="url(#a15)"/><rect x="176" y="-2" width="8.6" height="234" fill="url(#a16)"/><rect x="184" y="-2" width="8.6" height="234" fill="url(#a17)"/><rect x="192" y="-2" width="8.6" height="234" fill="url(#a18)"/><rect x="200" y="-2" width="8.6" height="234" fill="url(#a19)"/><rect x="208" y="-2" width="8.6" height="234" fill="url(#a20)"/><rect x="216" y="-2" width="8.6" height="234" fill="url(#a21)"/><rect x="224" y="-2" width="8.6" height="234" fill="url(#a22)"/><rect x="232" y="-2" width="8.6" height="234" fill="url(#a23)"/><rect x="240" y="-2" width="8.6" height="234" fill="url(#a24)"/><rect x="248" y="-2" width="8.6" height="234" fill="url(#a25)"/><rect x="256" y="-2" width="8.6" height="234" fill="url(#a26)"/><rect x="264" y="-2" width="8.6" height="234" fill="url(#a27)"/><rect x="272" y="-2" width="8.6" height="234" fill="url(#a28)"/><rect x="280" y="-2" width="8.6" height="234" fill="url(#a29)"/><rect x="288" y="-2" width="8.6" height="234" fill="url(#a30)"/><rect x="296" y="-2" width="8.6" height="234" fill="url(#a31)"/><rect x="304" y="-2" width="8.6" height="234" fill="url(#a32)"/><rect x="312" y="-2" width="8.6" height="234" fill="url(#a33)"/><rect x="320" y="-2" width="8.6" height="234" fill="url(#a34)"/><rect x="328" y="-2" width="8.6" height="234" fill="url(#a35)"/><rect x="336" y="-2" width="8.6" height="234" fill="url(#a36)"/><rect x="344" y="-2" width="8.6" height="234" fill="url(#a37)"/><rect x="352" y="-2" width="8.6" height="234" fill="url(#a38)"/><rect x="360" y="-2" width="8.6" height="234" fill="url(#a39)"/><rect x="368" y="-2" width="8.6" height="234" fill="url(#a40)"/><rect x="376" y="-2" width="8.6" height="234" fill="url(#a41)"/><rect x="384" y="-2" width="8.6" height="234" fill="url(#a42)"/><rect x="392" y="-2" width="8.6" height="234" fill="url(#a43)"/><rect x="400" y="-2" width="8.6" height="234" fill="url(#a44)"/><rect x="408" y="-2" width="8.6" height="234" fill="url(#a45)"/><rect x="416" y="-2" width="8.6" height="234" fill="url(#a46)"/><rect x="424" y="-2" width="8.6" height="234" fill="url(#a47)"/><rect x="432" y="-2" width="8.6" height="234" fill="url(#a48)"/><rect x="440" y="-2" width="8.6" height="234" fill="url(#a49)"/><rect x="448" y="-2" width="8.6" height="234" fill="url(#a50)"/><rect x="456" y="-2" width="8.6" height="234" fill="url(#a51)"/><rect x="464" y="-2" width="8.6" height="234" fill="url(#a52)"/><rect x="472" y="-2" width="8.6" height="234" fill="url(#a53)"/><rect x="480" y="-2" width="8.6" height="234" fill="url(#a54)"/><rect x="488" y="-2" width="8.6" height="234" fill="url(#a55)"/><rect x="496" y="-2" width="8.6" height="234" fill="url(#a56)"/><rect x="504" y="-2" width="8.6" height="234" fill="url(#a57)"/><rect x="512" y="-2" width="8.6" height="234" fill="url(#a58)"/><rect x="520" y="-2" width="8.6" height="234" fill="url(#a59)"/><rect x="528" y="-2" width="8.6" height="234" fill="url(#a60)"/><rect x="536" y="-2" width="8.6" height="234" fill="url(#a61)"/><rect x="544" y="-2" width="8.6" height="234" fill="url(#a62)"/><rect x="552" y="-2" width="8.6" height="234" fill="url(#a63)"/><rect x="560" y="-2" width="8.6" height="234" fill="url(#a64)"/><rect x="568" y="-2" width="8.6" height="234" fill="url(#a65)"/><rect x="576" y="-2" width="8.6" height="234" fill="url(#a66)"/><rect x="584" y="-2" width="8.6" height="234" fill="url(#a67)"/><rect x="592" y="-2" width="8.6" height="234" fill="url(#a68)"/><rect x="600" y="-2" width="8.6" height="234" fill="url(#a69)"/><rect x="608" y="-2" width="8.6" height="234" fill="url(#a70)"/><rect x="616" y="-2" width="8.6" height="234" fill="url(#a71)"/><rect x="624" y="-2" width="8.6" height="234" fill="url(#a72)"/><rect x="632" y="-2" width="8.6" height="234" fill="url(#a73)"/><rect x="640" y="-2" width="8.6" height="234" fill="url(#a74)"/><rect x="648" y="-2" width="8.6" height="234" fill="url(#a75)"/><rect x="656" y="-2" width="8.6" height="234" fill="url(#a76)"/><rect x="664" y="-2" width="8.6" height="234" fill="url(#a77)"/><rect x="672" y="-2" width="8.6" height="234" fill="url(#a78)"/><rect x="680" y="-2" width="8.6" height="234" fill="url(#a79)"/><rect x="688" y="-2" width="8.6" height="234" fill="url(#a80)"/><rect x="696" y="-2" width="8.6" height="234" fill="url(#a81)"/><rect x="704" y="-2" width="8.6" height="234" fill="url(#a82)"/><rect x="712" y="-2" width="8.6" height="234" fill="url(#a83)"/><rect x="720" y="-2" width="8.6" height="234" fill="url(#a84)"/><rect x="728" y="-2" width="8.6" height="234" fill="url(#a85)"/><rect x="736" y="-2" width="8.6" height="234" fill="url(#a86)"/><rect x="744" y="-2" width="8.6" height="234" fill="url(#a87)"/><rect x="752" y="-2" width="8.6" height="234" fill="url(#a88)"/><rect x="760" y="-2" width="8.6" height="234" fill="url(#a89)"/><rect x="768" y="-2" width="8.6" height="234" fill="url(#a90)"/><rect x="776" y="-2" width="8.6" height="234" fill="url(#a91)"/><rect x="784" y="-2" width="8.6" height="234" fill="url(#a92)"/><rect x="792" y="-2" width="8.6" height="234" fill="url(#a93)"/><rect x="800" y="-2" width="8.6" height="234" fill="url(#a94)"/><rect x="808" y="-2" width="8.6" height="234" fill="url(#a95)"/></g></g>
<path d="M60.6 110 L61.6 227" stroke="#222" stroke-width="1.2" stroke-dasharray="5 1.5" opacity=".75"/>
<g clip-path="url(#clipB)"><g filter="url(#hb2)"><rect x="48" y="312" width="6.6" height="270" fill="url(#b0)"/><rect x="54" y="312" width="6.6" height="270" fill="url(#b1)"/><rect x="60" y="312" width="6.6" height="270" fill="url(#b2)"/><rect x="66" y="312" width="6.6" height="270" fill="url(#b3)"/><rect x="72" y="312" width="6.6" height="270" fill="url(#b4)"/><rect x="78" y="312" width="6.6" height="270" fill="url(#b5)"/><rect x="84" y="312" width="6.6" height="270" fill="url(#b6)"/><rect x="90" y="312" width="6.6" height="270" fill="url(#b7)"/><rect x="96" y="312" width="6.6" height="270" fill="url(#b8)"/><rect x="102" y="312" width="6.6" height="270" fill="url(#b9)"/><rect x="108" y="312" width="6.6" height="270" fill="url(#b10)"/><rect x="114" y="312" width="6.6" height="270" fill="url(#b11)"/><rect x="120" y="312" width="6.6" height="270" fill="url(#b12)"/><rect x="126" y="312" width="6.6" height="270" fill="url(#b13)"/><rect x="132" y="312" width="6.6" height="270" fill="url(#b14)"/><rect x="138" y="312" width="6.6" height="270" fill="url(#b15)"/><rect x="144" y="312" width="6.6" height="270" fill="url(#b16)"/><rect x="150" y="312" width="6.6" height="270" fill="url(#b17)"/><rect x="156" y="312" width="6.6" height="270" fill="url(#b18)"/><rect x="162" y="312" width="6.6" height="270" fill="url(#b19)"/><rect x="168" y="312" width="6.6" height="270" fill="url(#b20)"/><rect x="174" y="312" width="6.6" height="270" fill="url(#b21)"/><rect x="180" y="312" width="6.6" height="270" fill="url(#b22)"/><rect x="186" y="312" width="6.6" height="270" fill="url(#b23)"/><rect x="192" y="312" width="6.6" height="270" fill="url(#b24)"/><rect x="198" y="312" width="6.6" height="270" fill="url(#b25)"/><rect x="204" y="312" width="6.6" height="270" fill="url(#b26)"/><rect x="210" y="312" width="6.6" height="270" fill="url(#b27)"/><rect x="216" y="312" width="6.6" height="270" fill="url(#b28)"/><rect x="222" y="312" width="6.6" height="270" fill="url(#b29)"/><rect x="228" y="312" width="6.6" height="270" fill="url(#b30)"/><rect x="234" y="312" width="6.6" height="270" fill="url(#b31)"/><rect x="240" y="312" width="6.6" height="270" fill="url(#b32)"/><rect x="246" y="312" width="6.6" height="270" fill="url(#b33)"/><rect x="252" y="312" width="6.6" height="270" fill="url(#b34)"/><rect x="258" y="312" width="6.6" height="270" fill="url(#b35)"/><rect x="264" y="312" width="6.6" height="270" fill="url(#b36)"/><rect x="270" y="312" width="6.6" height="270" fill="url(#b37)"/><rect x="276" y="312" width="6.6" height="270" fill="url(#b38)"/><rect x="282" y="312" width="6.6" height="270" fill="url(#b39)"/><rect x="288" y="312" width="6.6" height="270" fill="url(#b40)"/><rect x="294" y="312" width="6.6" height="270" fill="url(#b41)"/><rect x="300" y="312" width="6.6" height="270" fill="url(#b42)"/><rect x="306" y="312" width="6.6" height="270" fill="url(#b43)"/><rect x="312" y="312" width="6.6" height="270" fill="url(#b44)"/><rect x="318" y="312" width="6.6" height="270" fill="url(#b45)"/><rect x="324" y="312" width="6.6" height="270" fill="url(#b46)"/><rect x="330" y="312" width="6.6" height="270" fill="url(#b47)"/><rect x="336" y="312" width="6.6" height="270" fill="url(#b48)"/><rect x="342" y="312" width="6.6" height="270" fill="url(#b49)"/><rect x="348" y="312" width="6.6" height="270" fill="url(#b50)"/><rect x="354" y="312" width="6.6" height="270" fill="url(#b51)"/><rect x="360" y="312" width="6.6" height="270" fill="url(#b52)"/><rect x="366" y="312" width="6.6" height="270" fill="url(#b53)"/><rect x="372" y="312" width="6.6" height="270" fill="url(#b54)"/><rect x="378" y="312" width="6.6" height="270" fill="url(#b55)"/><rect x="384" y="312" width="6.6" height="270" fill="url(#b56)"/><rect x="390" y="312" width="6.6" height="270" fill="url(#b57)"/><rect x="396" y="312" width="6.6" height="270" fill="url(#b58)"/><rect x="402" y="312" width="6.6" height="270" fill="url(#b59)"/><rect x="408" y="312" width="6.6" height="270" fill="url(#b60)"/><rect x="414" y="312" width="6.6" height="270" fill="url(#b61)"/><rect x="420" y="312" width="6.6" height="270" fill="url(#b62)"/><rect x="426" y="312" width="6.6" height="270" fill="url(#b63)"/><rect x="432" y="312" width="6.6" height="270" fill="url(#b64)"/><rect x="438" y="312" width="6.6" height="270" fill="url(#b65)"/><rect x="444" y="312" width="6.6" height="270" fill="url(#b66)"/><rect x="450" y="312" width="6.6" height="270" fill="url(#b67)"/><rect x="456" y="312" width="6.6" height="270" fill="url(#b68)"/><rect x="462" y="312" width="6.6" height="270" fill="url(#b69)"/><rect x="468" y="312" width="6.6" height="270" fill="url(#b70)"/><rect x="474" y="312" width="6.6" height="270" fill="url(#b71)"/><rect x="480" y="312" width="6.6" height="270" fill="url(#b72)"/><rect x="486" y="312" width="6.6" height="270" fill="url(#b73)"/><rect x="492" y="312" width="6.6" height="270" fill="url(#b74)"/><rect x="498" y="312" width="6.6" height="270" fill="url(#b75)"/><rect x="504" y="312" width="6.6" height="270" fill="url(#b76)"/><rect x="510" y="312" width="6.6" height="270" fill="url(#b77)"/><rect x="516" y="312" width="6.6" height="270" fill="url(#b78)"/><rect x="522" y="312" width="6.6" height="270" fill="url(#b79)"/><rect x="528" y="312" width="6.6" height="270" fill="url(#b80)"/><rect x="534" y="312" width="6.6" height="270" fill="url(#b81)"/><rect x="540" y="312" width="6.6" height="270" fill="url(#b82)"/><rect x="546" y="312" width="6.6" height="270" fill="url(#b83)"/><rect x="552" y="312" width="6.6" height="270" fill="url(#b84)"/><rect x="558" y="312" width="6.6" height="270" fill="url(#b85)"/><rect x="564" y="312" width="6.6" height="270" fill="url(#b86)"/><rect x="570" y="312" width="6.6" height="270" fill="url(#b87)"/><rect x="576" y="312" width="6.6" height="270" fill="url(#b88)"/><rect x="582" y="312" width="6.6" height="270" fill="url(#b89)"/><rect x="588" y="312" width="6.6" height="270" fill="url(#b90)"/><rect x="594" y="312" width="6.6" height="270" fill="url(#b91)"/><rect x="600" y="312" width="6.6" height="270" fill="url(#b92)"/><rect x="606" y="312" width="6.6" height="270" fill="url(#b93)"/><rect x="612" y="312" width="6.6" height="270" fill="url(#b94)"/><rect x="618" y="312" width="6.6" height="270" fill="url(#b95)"/><rect x="624" y="312" width="6.6" height="270" fill="url(#b96)"/><rect x="630" y="312" width="6.6" height="270" fill="url(#b97)"/><rect x="636" y="312" width="6.6" height="270" fill="url(#b98)"/><rect x="642" y="312" width="6.6" height="270" fill="url(#b99)"/><rect x="648" y="312" width="6.6" height="270" fill="url(#b100)"/><rect x="654" y="312" width="6.6" height="270" fill="url(#b101)"/><rect x="660" y="312" width="6.6" height="270" fill="url(#b102)"/><rect x="666" y="312" width="6.6" height="270" fill="url(#b103)"/><rect x="672" y="312" width="6.6" height="270" fill="url(#b104)"/><rect x="678" y="312" width="6.6" height="270" fill="url(#b105)"/><rect x="684" y="312" width="6.6" height="270" fill="url(#b106)"/><rect x="690" y="312" width="6.6" height="270" fill="url(#b107)"/><rect x="696" y="312" width="6.6" height="270" fill="url(#b108)"/><rect x="702" y="312" width="6.6" height="270" fill="url(#b109)"/><rect x="708" y="312" width="6.6" height="270" fill="url(#b110)"/><rect x="714" y="312" width="6.6" height="270" fill="url(#b111)"/><rect x="720" y="312" width="6.6" height="270" fill="url(#b112)"/><rect x="726" y="312" width="6.6" height="270" fill="url(#b113)"/><rect x="732" y="312" width="6.6" height="270" fill="url(#b114)"/><rect x="738" y="312" width="6.6" height="270" fill="url(#b115)"/><rect x="744" y="312" width="6.6" height="270" fill="url(#b116)"/><rect x="750" y="312" width="6.6" height="270" fill="url(#b117)"/><rect x="756" y="312" width="6.6" height="270" fill="url(#b118)"/><rect x="762" y="312" width="6.6" height="270" fill="url(#b119)"/><rect x="768" y="312" width="6.6" height="270" fill="url(#b120)"/><rect x="774" y="312" width="6.6" height="270" fill="url(#b121)"/><rect x="780" y="312" width="6.6" height="270" fill="url(#b122)"/><rect x="786" y="312" width="6.6" height="270" fill="url(#b123)"/><rect x="792" y="312" width="6.6" height="270" fill="url(#b124)"/><rect x="798" y="312" width="6.6" height="270" fill="url(#b125)"/><rect x="804" y="312" width="6.6" height="270" fill="url(#b126)"/><rect x="810" y="312" width="6.6" height="270" fill="url(#b127)"/></g></g>
<path d="M737 575 L760 572.6 L800.5 569.3" stroke="#1a1a1a" stroke-width="1.4" fill="none"/>
<rect x="854.3" y="2.5" width="22.6" height="24.9" fill="#f2f20a"/>
<rect x="854.3" y="27" width="22.6" height="19.9" fill="#f6e010"/>
<rect x="854.3" y="46.5" width="22.6" height="19.9" fill="#fdd408"/>
<rect x="854.3" y="66" width="22.6" height="19.9" fill="#ffc400"/>
<rect x="854.3" y="85.5" width="22.6" height="23.9" fill="#ffb600"/>
<rect x="854.3" y="109" width="22.6" height="19.4" fill="#f4b628"/>
<rect x="854.3" y="128" width="22.6" height="20.0" fill="#deb840"/>
<rect x="854.3" y="147.6" width="22.6" height="20.1" fill="#c8bc50"/>
<rect x="854.3" y="167.3" width="22.6" height="23.6" fill="#b2be58"/>
<rect x="854.3" y="190.5" width="22.6" height="20.3" fill="#9ec062"/>
<rect x="854.3" y="210.4" width="22.6" height="19.2" fill="#84c26a"/>
<rect x="854.3" y="229.2" width="22.6" height="20.3" fill="#64c47a"/>
<rect x="854.3" y="249.1" width="22.6" height="24.5" fill="#3cc488"/>
<rect x="854.3" y="273.2" width="22.6" height="20.2" fill="#04c494"/>
<rect x="854.3" y="293" width="22.6" height="19.9" fill="#08bca4"/>
<rect x="854.3" y="312.5" width="22.6" height="16.9" fill="#08b4b4"/>
<rect x="854.3" y="329" width="22.6" height="20.1" fill="#08acc0"/>
<rect x="854.3" y="348.7" width="22.6" height="24.5" fill="#08a4c8"/>
<rect x="854.3" y="372.8" width="22.6" height="20.3" fill="#089cd0"/>
<rect x="854.3" y="392.7" width="22.6" height="20.3" fill="#0894d6"/>
<rect x="854.3" y="412.6" width="22.6" height="20.3" fill="#0890d8"/>
<rect x="854.3" y="432.5" width="22.6" height="24.4" fill="#0884dc"/>
<rect x="854.3" y="456.5" width="22.6" height="19.3" fill="#0878de"/>
<rect x="854.3" y="475.4" width="22.6" height="19.2" fill="#0470e2"/>
<rect x="854.3" y="494.2" width="22.6" height="20.3" fill="#0264e4"/>
<rect x="854.3" y="514.1" width="22.6" height="23.7" fill="#0258e8"/>
<rect x="854.3" y="537.4" width="22.6" height="20.2" fill="#3040d8"/>
<rect x="854.3" y="557.2" width="22.6" height="20.6" fill="#3c30c0"/>
<rect x="854.3" y="577.4" width="22.6" height="19.3" fill="#4020a4"/>
<rect x="854.3" y="596.3" width="22.6" height="23.9" fill="#3a148a"/>
<text x="882" y="48.6" font-size="41.5" font-family="Liberation Serif, serif" font-weight="700" fill="#000" textLength="137.5" lengthAdjust="spacingAndGlyphs">2.3e+19</text>
<text x="882.7" y="180.1" font-size="41.5" font-family="Liberation Serif, serif" font-weight="700" fill="#000" textLength="137" lengthAdjust="spacingAndGlyphs">1.7e+19</text>
<text x="882.7" y="316.2" font-size="41.5" font-family="Liberation Serif, serif" font-weight="700" fill="#000" textLength="137" lengthAdjust="spacingAndGlyphs">1.1e+18</text>
<text x="881.6" y="456.4" font-size="41.5" font-family="Liberation Serif, serif" font-weight="700" fill="#000" textLength="137.5" lengthAdjust="spacingAndGlyphs">5.9e+18</text>
<text x="898.2" y="612.8" font-size="41.5" font-family="Liberation Serif, serif" font-weight="700" fill="#000">0</text>
<text x="60.4" y="286.2" font-size="37.6" font-family="Liberation Serif, serif" font-weight="700" fill="#000" textLength="682" lengthAdjust="spacingAndGlyphs">a) Electron density with Classical Model</text>
<text x="61.6" y="634.7" font-size="38" font-family="Liberation Serif, serif" font-weight="700" fill="#000" textLength="697" lengthAdjust="spacingAndGlyphs">b) Electron density with Quantum Model</text>
<g filter="url(#cb)">
<rect x="60.5" y="703.0" width="824.3" height="778.0" fill="#fff" stroke="none"/>
<path d="M64.5 703.0V1481.0" stroke="#5c5c5c" stroke-width="1.7" stroke-dasharray="4.4 2.5"/>
<path d="M166.5 703.0V1481.0" stroke="#5c5c5c" stroke-width="1.7" stroke-dasharray="4.4 2.5"/>
<path d="M268.5 703.0V1481.0" stroke="#5c5c5c" stroke-width="1.7" stroke-dasharray="4.4 2.5"/>
<path d="M370.5 703.0V1481.0" stroke="#5c5c5c" stroke-width="1.7" stroke-dasharray="4.4 2.5"/>
<path d="M472.5 703.0V1481.0" stroke="#5c5c5c" stroke-width="1.7" stroke-dasharray="4.4 2.5"/>
<path d="M574.5 703.0V1481.0" stroke="#5c5c5c" stroke-width="1.7" stroke-dasharray="4.4 2.5"/>
<path d="M676.5 703.0V1481.0" stroke="#5c5c5c" stroke-width="1.7" stroke-dasharray="4.4 2.5"/>
<path d="M778.5 703.0V1481.0" stroke="#5c5c5c" stroke-width="1.7" stroke-dasharray="4.4 2.5"/>
<path d="M880.5 703.0V1481.0" stroke="#5c5c5c" stroke-width="1.7" stroke-dasharray="4.4 2.5"/>
<path d="M60.5 781.4H884.8" stroke="#585858" stroke-width="1.6" stroke-dasharray="2.8 2.05"/>
<path d="M60.5 854.9H884.8" stroke="#585858" stroke-width="1.6" stroke-dasharray="2.8 2.05"/>
<path d="M60.5 928.4H884.8" stroke="#585858" stroke-width="1.6" stroke-dasharray="2.8 2.05"/>
<path d="M60.5 1001.9H884.8" stroke="#585858" stroke-width="1.6" stroke-dasharray="2.8 2.05"/>
<path d="M60.5 1075.4H884.8" stroke="#585858" stroke-width="1.6" stroke-dasharray="2.8 2.05"/>
<path d="M60.5 1148.9H884.8" stroke="#585858" stroke-width="1.6" stroke-dasharray="2.8 2.05"/>
<path d="M60.5 1222.4H884.8" stroke="#585858" stroke-width="1.6" stroke-dasharray="2.8 2.05"/>
<path d="M60.5 1295.9H884.8" stroke="#585858" stroke-width="1.6" stroke-dasharray="2.8 2.05"/>
<path d="M60.5 1369.4H884.8" stroke="#585858" stroke-width="1.6" stroke-dasharray="2.8 2.05"/>
<path d="M60.5 1442.9H884.8" stroke="#585858" stroke-width="1.6" stroke-dasharray="2.8 2.05"/>
<rect x="60.5" y="703.0" width="824.3" height="778.0" fill="none" stroke="#5a5a5a" stroke-width="1.4"/>
<path d="M64.5 1481.0v-7" stroke="#333" stroke-width="1"/>
<path d="M84.9 1481.0v-5" stroke="#333" stroke-width="1"/>
<path d="M105.3 1481.0v-5" stroke="#333" stroke-width="1"/>
<path d="M125.7 1481.0v-5" stroke="#333" stroke-width="1"/>
<path d="M146.1 1481.0v-5" stroke="#333" stroke-width="1"/>
<path d="M166.5 1481.0v-7" stroke="#333" stroke-width="1"/>
<path d="M186.9 1481.0v-5" stroke="#333" stroke-width="1"/>
<path d="M207.3 1481.0v-5" stroke="#333" stroke-width="1"/>
<path d="M227.7 1481.0v-5" stroke="#333" stroke-width="1"/>
<path d="M248.1 1481.0v-5" stroke="#333" stroke-width="1"/>
<path d="M268.5 1481.0v-7" stroke="#333" stroke-width="1"/>
<path d="M288.9 1481.0v-5" stroke="#333" stroke-width="1"/>
<path d="M309.3 1481.0v-5" stroke="#333" stroke-width="1"/>
<path d="M329.7 1481.0v-5" stroke="#333" stroke-width="1"/>
<path d="M350.1 1481.0v-5" stroke="#333" stroke-width="1"/>
<path d="M370.5 1481.0v-7" stroke="#333" stroke-width="1"/>
<path d="M390.9 1481.0v-5" stroke="#333" stroke-width="1"/>
<path d="M411.3 1481.0v-5" stroke="#333" stroke-width="1"/>
<path d="M431.7 1481.0v-5" stroke="#333" stroke-width="1"/>
<path d="M452.1 1481.0v-5" stroke="#333" stroke-width="1"/>
<path d="M472.5 1481.0v-7" stroke="#333" stroke-width="1"/>
<path d="M492.9 1481.0v-5" stroke="#333" stroke-width="1"/>
<path d="M513.3 1481.0v-5" stroke="#333" stroke-width="1"/>
<path d="M533.7 1481.0v-5" stroke="#333" stroke-width="1"/>
<path d="M554.1 1481.0v-5" stroke="#333" stroke-width="1"/>
<path d="M574.5 1481.0v-7" stroke="#333" stroke-width="1"/>
<path d="M594.9 1481.0v-5" stroke="#333" stroke-width="1"/>
<path d="M615.3 1481.0v-5" stroke="#333" stroke-width="1"/>
<path d="M635.7 1481.0v-5" stroke="#333" stroke-width="1"/>
<path d="M656.1 1481.0v-5" stroke="#333" stroke-width="1"/>
<path d="M676.5 1481.0v-7" stroke="#333" stroke-width="1"/>
<path d="M696.9 1481.0v-5" stroke="#333" stroke-width="1"/>
<path d="M717.3 1481.0v-5" stroke="#333" stroke-width="1"/>
<path d="M737.7 1481.0v-5" stroke="#333" stroke-width="1"/>
<path d="M758.1 1481.0v-5" stroke="#333" stroke-width="1"/>
<path d="M778.5 1481.0v-7" stroke="#333" stroke-width="1"/>
<path d="M798.9 1481.0v-5" stroke="#333" stroke-width="1"/>
<path d="M819.3 1481.0v-5" stroke="#333" stroke-width="1"/>
<path d="M839.7 1481.0v-5" stroke="#333" stroke-width="1"/>
<path d="M860.1 1481.0v-5" stroke="#333" stroke-width="1"/>
<path d="M880.5 1481.0v-7" stroke="#333" stroke-width="1"/>
<path d="M884.8 1474.7h-6" stroke="#333" stroke-width="1"/>
<path d="M884.8 1435.2h-3.5" stroke="#333" stroke-width="1"/>
<path d="M884.8 1395.8h-3.5" stroke="#333" stroke-width="1"/>
<path d="M884.8 1356.4h-3.5" stroke="#333" stroke-width="1"/>
<path d="M884.8 1316.9h-6" stroke="#333" stroke-width="1"/>
<path d="M884.8 1277.5h-3.5" stroke="#333" stroke-width="1"/>
<path d="M884.8 1238.0h-3.5" stroke="#333" stroke-width="1"/>
<path d="M884.8 1198.5h-3.5" stroke="#333" stroke-width="1"/>
<path d="M884.8 1159.1h-6" stroke="#333" stroke-width="1"/>
<path d="M884.8 1119.7h-3.5" stroke="#333" stroke-width="1"/>
<path d="M884.8 1080.2h-3.5" stroke="#333" stroke-width="1"/>
<path d="M884.8 1040.8h-3.5" stroke="#333" stroke-width="1"/>
<path d="M884.8 1001.3h-6" stroke="#333" stroke-width="1"/>
<path d="M884.8 961.9h-3.5" stroke="#333" stroke-width="1"/>
<path d="M884.8 922.4h-3.5" stroke="#333" stroke-width="1"/>
<path d="M884.8 883.0h-3.5" stroke="#333" stroke-width="1"/>
<path d="M884.8 843.5h-6" stroke="#333" stroke-width="1"/>
<path d="M884.8 804.0h-3.5" stroke="#333" stroke-width="1"/>
<path d="M884.8 764.6h-3.5" stroke="#333" stroke-width="1"/>
<path d="M884.8 725.1h-3.5" stroke="#333" stroke-width="1"/>
<g clip-path="url(#clipC)">
<path d="M64.5 1473.0L84.9 1473.0L105.3 1473.0L125.7 1473.0L146.1 1473.0L166.5 1473.0L186.9 1473.0L207.3 1473.0L227.7 1473.0L248.1 1473.0L268.5 1473.0L288.9 1473.0L309.3 1473.0L329.7 1473.0L350.1 1473.0L370.5 1473.0L390.9 1473.0L411.3 1473.0L431.7 1473.0L452.1 1472.7L472.5 1472.1L492.9 1471.4L513.3 1469.6L533.7 1467.5L554.1 1464.5L574.5 1459.3L594.9 1451.4L615.3 1438.1L635.7 1422.1L656.1 1397.3L676.5 1367.3L696.9 1330.7L717.3 1285.8L737.7 1235.5L758.1 1176.3L778.5 1111.6L798.9 1042.2L819.3 965.5L839.7 884.1L860.1 798.6L880.5 709.0" fill="none" stroke="#151515" stroke-width="2.0" stroke-linejoin="round"/>
<rect x="61.8" y="1469.5" width="5.4" height="7.0" fill="none" stroke="#151515" stroke-width="1.9"/>
<rect x="82.2" y="1469.5" width="5.4" height="7.0" fill="none" stroke="#151515" stroke-width="1.9"/>
<rect x="102.6" y="1469.5" width="5.4" height="7.0" fill="none" stroke="#151515" stroke-width="1.9"/>
<rect x="123.0" y="1469.5" width="5.4" height="7.0" fill="none" stroke="#151515" stroke-width="1.9"/>
<rect x="143.4" y="1469.5" width="5.4" height="7.0" fill="none" stroke="#151515" stroke-width="1.9"/>
<rect x="163.8" y="1469.5" width="5.4" height="7.0" fill="none" stroke="#151515" stroke-width="1.9"/>
<rect x="184.2" y="1469.5" width="5.4" height="7.0" fill="none" stroke="#151515" stroke-width="1.9"/>
<rect x="204.6" y="1469.5" width="5.4" height="7.0" fill="none" stroke="#151515" stroke-width="1.9"/>
<rect x="225.0" y="1469.5" width="5.4" height="7.0" fill="none" stroke="#151515" stroke-width="1.9"/>
<rect x="245.4" y="1469.5" width="5.4" height="7.0" fill="none" stroke="#151515" stroke-width="1.9"/>
<rect x="265.8" y="1469.5" width="5.4" height="7.0" fill="none" stroke="#151515" stroke-width="1.9"/>
<rect x="286.2" y="1469.5" width="5.4" height="7.0" fill="none" stroke="#151515" stroke-width="1.9"/>
<rect x="306.6" y="1469.5" width="5.4" height="7.0" fill="none" stroke="#151515" stroke-width="1.9"/>
<rect x="327.0" y="1469.5" width="5.4" height="7.0" fill="none" stroke="#151515" stroke-width="1.9"/>
<rect x="347.4" y="1469.5" width="5.4" height="7.0" fill="none" stroke="#151515" stroke-width="1.9"/>
<rect x="367.8" y="1469.5" width="5.4" height="7.0" fill="none" stroke="#151515" stroke-width="1.9"/>
<rect x="388.2" y="1469.5" width="5.4" height="7.0" fill="none" stroke="#151515" stroke-width="1.9"/>
<rect x="408.6" y="1469.5" width="5.4" height="7.0" fill="none" stroke="#151515" stroke-width="1.9"/>
<rect x="429.0" y="1469.5" width="5.4" height="7.0" fill="none" stroke="#151515" stroke-width="1.9"/>
<rect x="449.4" y="1469.2" width="5.4" height="7.0" fill="none" stroke="#151515" stroke-width="1.9"/>
<rect x="469.8" y="1468.6" width="5.4" height="7.0" fill="none" stroke="#151515" stroke-width="1.9"/>
<rect x="490.2" y="1467.9" width="5.4" height="7.0" fill="none" stroke="#151515" stroke-width="1.9"/>
<rect x="510.6" y="1466.1" width="5.4" height="7.0" fill="none" stroke="#151515" stroke-width="1.9"/>
<rect x="531.0" y="1464.0" width="5.4" height="7.0" fill="none" stroke="#151515" stroke-width="1.9"/>
<rect x="551.4" y="1461.0" width="5.4" height="7.0" fill="none" stroke="#151515" stroke-width="1.9"/>
<rect x="571.8" y="1455.8" width="5.4" height="7.0" fill="none" stroke="#151515" stroke-width="1.9"/>
<rect x="592.2" y="1447.9" width="5.4" height="7.0" fill="none" stroke="#151515" stroke-width="1.9"/>
<rect x="612.6" y="1434.6" width="5.4" height="7.0" fill="none" stroke="#151515" stroke-width="1.9"/>
<rect x="633.0" y="1418.6" width="5.4" height="7.0" fill="none" stroke="#151515" stroke-width="1.9"/>
<rect x="653.4" y="1393.8" width="5.4" height="7.0" fill="none" stroke="#151515" stroke-width="1.9"/>
<rect x="673.8" y="1363.8" width="5.4" height="7.0" fill="none" stroke="#151515" stroke-width="1.9"/>
<rect x="694.2" y="1327.2" width="5.4" height="7.0" fill="none" stroke="#151515" stroke-width="1.9"/>
<rect x="714.6" y="1282.3" width="5.4" height="7.0" fill="none" stroke="#151515" stroke-width="1.9"/>
<rect x="735.0" y="1232.0" width="5.4" height="7.0" fill="none" stroke="#151515" stroke-width="1.9"/>
<rect x="755.4" y="1172.8" width="5.4" height="7.0" fill="none" stroke="#151515" stroke-width="1.9"/>
<rect x="775.8" y="1108.1" width="5.4" height="7.0" fill="none" stroke="#151515" stroke-width="1.9"/>
<rect x="796.2" y="1038.7" width="5.4" height="7.0" fill="none" stroke="#151515" stroke-width="1.9"/>
<rect x="816.6" y="962.0" width="5.4" height="7.0" fill="none" stroke="#151515" stroke-width="1.9"/>
<rect x="837.0" y="880.6" width="5.4" height="7.0" fill="none" stroke="#151515" stroke-width="1.9"/>
<rect x="857.4" y="795.1" width="5.4" height="7.0" fill="none" stroke="#151515" stroke-width="1.9"/>
<rect x="877.8" y="705.5" width="5.4" height="7.0" fill="none" stroke="#151515" stroke-width="1.9"/>
<path d="M64.5 1473.0L84.9 1473.0L105.3 1473.0L125.7 1473.0L146.1 1473.0L166.5 1473.0L186.9 1473.0L207.3 1473.0L227.7 1473.0L248.1 1473.0L268.5 1473.0L288.9 1473.0L309.3 1473.0L329.7 1473.0L350.1 1473.0L370.5 1473.0L390.9 1473.0L411.3 1473.0L431.7 1473.0L452.1 1473.0L472.5 1473.0L492.9 1472.8L513.3 1472.4L533.7 1472.0L554.1 1471.3L574.5 1470.1L594.9 1467.5L615.3 1463.2L635.7 1457.3L656.1 1447.5L676.5 1438.0L696.9 1428.7L717.3 1416.8L737.7 1405.3L758.1 1393.8L778.5 1382.3L798.9 1371.4L819.3 1360.4L839.7 1350.2L860.1 1340.7L880.5 1331.8" fill="none" stroke="#151515" stroke-width="2.1" stroke-linejoin="round"/>
<ellipse cx="64.5" cy="1473.0" rx="2.5" ry="4.0" fill="none" stroke="#151515" stroke-width="1.9"/>
<ellipse cx="84.9" cy="1473.0" rx="2.5" ry="4.0" fill="none" stroke="#151515" stroke-width="1.9"/>
<ellipse cx="105.3" cy="1473.0" rx="2.5" ry="4.0" fill="none" stroke="#151515" stroke-width="1.9"/>
<ellipse cx="125.7" cy="1473.0" rx="2.5" ry="4.0" fill="none" stroke="#151515" stroke-width="1.9"/>
<ellipse cx="146.1" cy="1473.0" rx="2.5" ry="4.0" fill="none" stroke="#151515" stroke-width="1.9"/>
<ellipse cx="166.5" cy="1473.0" rx="2.5" ry="4.0" fill="none" stroke="#151515" stroke-width="1.9"/>
<ellipse cx="186.9" cy="1473.0" rx="2.5" ry="4.0" fill="none" stroke="#151515" stroke-width="1.9"/>
<ellipse cx="207.3" cy="1473.0" rx="2.5" ry="4.0" fill="none" stroke="#151515" stroke-width="1.9"/>
<ellipse cx="227.7" cy="1473.0" rx="2.5" ry="4.0" fill="none" stroke="#151515" stroke-width="1.9"/>
<ellipse cx="248.1" cy="1473.0" rx="2.5" ry="4.0" fill="none" stroke="#151515" stroke-width="1.9"/>
<ellipse cx="268.5" cy="1473.0" rx="2.5" ry="4.0" fill="none" stroke="#151515" stroke-width="1.9"/>
<ellipse cx="288.9" cy="1473.0" rx="2.5" ry="4.0" fill="none" stroke="#151515" stroke-width="1.9"/>
<ellipse cx="309.3" cy="1473.0" rx="2.5" ry="4.0" fill="none" stroke="#151515" stroke-width="1.9"/>
<ellipse cx="329.7" cy="1473.0" rx="2.5" ry="4.0" fill="none" stroke="#151515" stroke-width="1.9"/>
<ellipse cx="350.1" cy="1473.0" rx="2.5" ry="4.0" fill="none" stroke="#151515" stroke-width="1.9"/>
<ellipse cx="370.5" cy="1473.0" rx="2.5" ry="4.0" fill="none" stroke="#151515" stroke-width="1.9"/>
<ellipse cx="390.9" cy="1473.0" rx="2.5" ry="4.0" fill="none" stroke="#151515" stroke-width="1.9"/>
<ellipse cx="411.3" cy="1473.0" rx="2.5" ry="4.0" fill="none" stroke="#151515" stroke-width="1.9"/>
<ellipse cx="431.7" cy="1473.0" rx="2.5" ry="4.0" fill="none" stroke="#151515" stroke-width="1.9"/>
<ellipse cx="452.1" cy="1473.0" rx="2.5" ry="4.0" fill="none" stroke="#151515" stroke-width="1.9"/>
<ellipse cx="472.5" cy="1473.0" rx="2.5" ry="4.0" fill="none" stroke="#151515" stroke-width="1.9"/>
<ellipse cx="492.9" cy="1472.8" rx="2.5" ry="4.0" fill="none" stroke="#151515" stroke-width="1.9"/>
<ellipse cx="513.3" cy="1472.4" rx="2.5" ry="4.0" fill="none" stroke="#151515" stroke-width="1.9"/>
<ellipse cx="533.7" cy="1472.0" rx="2.5" ry="4.0" fill="none" stroke="#151515" stroke-width="1.9"/>
<ellipse cx="554.1" cy="1471.3" rx="2.5" ry="4.0" fill="none" stroke="#151515" stroke-width="1.9"/>
<ellipse cx="574.5" cy="1470.1" rx="2.5" ry="4.0" fill="none" stroke="#151515" stroke-width="1.9"/>
<ellipse cx="594.9" cy="1467.5" rx="2.5" ry="4.0" fill="none" stroke="#151515" stroke-width="1.9"/>
<ellipse cx="615.3" cy="1463.2" rx="2.5" ry="4.0" fill="none" stroke="#151515" stroke-width="1.9"/>
<ellipse cx="635.7" cy="1457.3" rx="2.5" ry="4.0" fill="none" stroke="#151515" stroke-width="1.9"/>
<ellipse cx="656.1" cy="1447.5" rx="2.5" ry="4.0" fill="none" stroke="#151515" stroke-width="1.9"/>
<ellipse cx="676.5" cy="1438.0" rx="2.5" ry="4.0" fill="none" stroke="#151515" stroke-width="1.9"/>
<ellipse cx="696.9" cy="1428.7" rx="2.5" ry="4.0" fill="none" stroke="#151515" stroke-width="1.9"/>
<ellipse cx="717.3" cy="1416.8" rx="2.5" ry="4.0" fill="none" stroke="#151515" stroke-width="1.9"/>
<ellipse cx="737.7" cy="1405.3" rx="2.5" ry="4.0" fill="none" stroke="#151515" stroke-width="1.9"/>
<ellipse cx="758.1" cy="1393.8" rx="2.5" ry="4.0" fill="none" stroke="#151515" stroke-width="1.9"/>
<ellipse cx="778.5" cy="1382.3" rx="2.5" ry="4.0" fill="none" stroke="#151515" stroke-width="1.9"/>
<ellipse cx="798.9" cy="1371.4" rx="2.5" ry="4.0" fill="none" stroke="#151515" stroke-width="1.9"/>
<ellipse cx="819.3" cy="1360.4" rx="2.5" ry="4.0" fill="none" stroke="#151515" stroke-width="1.9"/>
<ellipse cx="839.7" cy="1350.2" rx="2.5" ry="4.0" fill="none" stroke="#151515" stroke-width="1.9"/>
<ellipse cx="860.1" cy="1340.7" rx="2.5" ry="4.0" fill="none" stroke="#151515" stroke-width="1.9"/>
<ellipse cx="880.5" cy="1331.8" rx="2.5" ry="4.0" fill="none" stroke="#151515" stroke-width="1.9"/>
<path d="M64.5 1473.0L84.9 1473.0L105.3 1473.0L125.7 1473.0L146.1 1473.0L166.5 1473.0L186.9 1473.0L207.3 1473.0L227.7 1473.0L248.1 1473.0L268.5 1473.0L288.9 1473.0L309.3 1473.0L329.7 1473.0L350.1 1473.0L370.5 1473.0L390.9 1473.0L411.3 1473.0L431.7 1473.0L452.1 1473.0L472.5 1473.0L492.9 1472.7L513.3 1472.0L533.7 1471.2L554.1 1470.0L574.5 1467.5L594.9 1463.2L615.3 1454.7L635.7 1443.3L656.1 1425.8L676.5 1402.4L696.9 1374.1L717.3 1338.9L737.7 1300.3L758.1 1253.9L778.5 1201.0L798.9 1146.4L819.3 1086.9L839.7 1022.2L860.1 952.8L880.5 880.3" fill="none" stroke="#1f66ff" stroke-width="2.1" stroke-linejoin="round"/>
<path d="M61.4 1476.2L67.6 1476.2L64.5 1469.2Z" fill="none" stroke="#1f66ff" stroke-width="1.7"/>
<path d="M81.8 1476.2L88.0 1476.2L84.9 1469.2Z" fill="none" stroke="#1f66ff" stroke-width="1.7"/>
<path d="M102.2 1476.2L108.4 1476.2L105.3 1469.2Z" fill="none" stroke="#1f66ff" stroke-width="1.7"/>
<path d="M122.6 1476.2L128.8 1476.2L125.7 1469.2Z" fill="none" stroke="#1f66ff" stroke-width="1.7"/>
<path d="M143.0 1476.2L149.2 1476.2L146.1 1469.2Z" fill="none" stroke="#1f66ff" stroke-width="1.7"/>
<path d="M163.4 1476.2L169.6 1476.2L166.5 1469.2Z" fill="none" stroke="#1f66ff" stroke-width="1.7"/>
<path d="M183.8 1476.2L190.0 1476.2L186.9 1469.2Z" fill="none" stroke="#1f66ff" stroke-width="1.7"/>
<path d="M204.2 1476.2L210.4 1476.2L207.3 1469.2Z" fill="none" stroke="#1f66ff" stroke-width="1.7"/>
<path d="M224.6 1476.2L230.8 1476.2L227.7 1469.2Z" fill="none" stroke="#1f66ff" stroke-width="1.7"/>
<path d="M245.0 1476.2L251.2 1476.2L248.1 1469.2Z" fill="none" stroke="#1f66ff" stroke-width="1.7"/>
<path d="M265.4 1476.2L271.6 1476.2L268.5 1469.2Z" fill="none" stroke="#1f66ff" stroke-width="1.7"/>
<path d="M285.8 1476.2L292.0 1476.2L288.9 1469.2Z" fill="none" stroke="#1f66ff" stroke-width="1.7"/>
<path d="M306.2 1476.2L312.4 1476.2L309.3 1469.2Z" fill="none" stroke="#1f66ff" stroke-width="1.7"/>
<path d="M326.6 1476.2L332.8 1476.2L329.7 1469.2Z" fill="none" stroke="#1f66ff" stroke-width="1.7"/>
<path d="M347.0 1476.2L353.2 1476.2L350.1 1469.2Z" fill="none" stroke="#1f66ff" stroke-width="1.7"/>
<path d="M367.4 1476.2L373.6 1476.2L370.5 1469.2Z" fill="none" stroke="#1f66ff" stroke-width="1.7"/>
<path d="M387.8 1476.2L394.0 1476.2L390.9 1469.2Z" fill="none" stroke="#1f66ff" stroke-width="1.7"/>
<path d="M408.2 1476.2L414.4 1476.2L411.3 1469.2Z" fill="none" stroke="#1f66ff" stroke-width="1.7"/>
<path d="M428.6 1476.2L434.8 1476.2L431.7 1469.2Z" fill="none" stroke="#1f66ff" stroke-width="1.7"/>
<path d="M449.0 1476.2L455.2 1476.2L452.1 1469.2Z" fill="none" stroke="#1f66ff" stroke-width="1.7"/>
<path d="M469.4 1476.2L475.6 1476.2L472.5 1469.2Z" fill="none" stroke="#1f66ff" stroke-width="1.7"/>
<path d="M489.8 1475.9L496.0 1475.9L492.9 1468.9Z" fill="none" stroke="#1f66ff" stroke-width="1.7"/>
<path d="M510.2 1475.2L516.4 1475.2L513.3 1468.2Z" fill="none" stroke="#1f66ff" stroke-width="1.7"/>
<path d="M530.6 1474.4L536.8 1474.4L533.7 1467.4Z" fill="none" stroke="#1f66ff" stroke-width="1.7"/>
<path d="M551.0 1473.2L557.2 1473.2L554.1 1466.2Z" fill="none" stroke="#1f66ff" stroke-width="1.7"/>
<path d="M571.4 1470.7L577.6 1470.7L574.5 1463.7Z" fill="none" stroke="#1f66ff" stroke-width="1.7"/>
<path d="M591.8 1466.4L598.0 1466.4L594.9 1459.4Z" fill="none" stroke="#1f66ff" stroke-width="1.7"/>
<path d="M612.2 1457.9L618.4 1457.9L615.3 1450.9Z" fill="none" stroke="#1f66ff" stroke-width="1.7"/>
<path d="M632.6 1446.5L638.8 1446.5L635.7 1439.5Z" fill="none" stroke="#1f66ff" stroke-width="1.7"/>
<path d="M653.0 1429.0L659.2 1429.0L656.1 1422.0Z" fill="none" stroke="#1f66ff" stroke-width="1.7"/>
<path d="M673.4 1405.6L679.6 1405.6L676.5 1398.6Z" fill="none" stroke="#1f66ff" stroke-width="1.7"/>
<path d="M693.8 1377.3L700.0 1377.3L696.9 1370.3Z" fill="none" stroke="#1f66ff" stroke-width="1.7"/>
<path d="M714.2 1342.1L720.4 1342.1L717.3 1335.1Z" fill="none" stroke="#1f66ff" stroke-width="1.7"/>
<path d="M734.6 1303.5L740.8 1303.5L737.7 1296.5Z" fill="none" stroke="#1f66ff" stroke-width="1.7"/>
<path d="M755.0 1257.1L761.2 1257.1L758.1 1250.1Z" fill="none" stroke="#1f66ff" stroke-width="1.7"/>
<path d="M775.4 1204.2L781.6 1204.2L778.5 1197.2Z" fill="none" stroke="#1f66ff" stroke-width="1.7"/>
<path d="M795.8 1149.6L802.0 1149.6L798.9 1142.6Z" fill="none" stroke="#1f66ff" stroke-width="1.7"/>
<path d="M816.2 1090.1L822.4 1090.1L819.3 1083.1Z" fill="none" stroke="#1f66ff" stroke-width="1.7"/>
<path d="M836.6 1025.4L842.8 1025.4L839.7 1018.4Z" fill="none" stroke="#1f66ff" stroke-width="1.7"/>
<path d="M857.0 956.0L863.2 956.0L860.1 949.0Z" fill="none" stroke="#1f66ff" stroke-width="1.7"/>
<path d="M877.4 883.5L883.6 883.5L880.5 876.5Z" fill="none" stroke="#1f66ff" stroke-width="1.7"/>
<path d="M64.5 1473.0L84.9 1473.0L105.3 1473.0L125.7 1473.0L146.1 1473.0L166.5 1473.0L186.9 1473.0L207.3 1473.0L227.7 1473.0L248.1 1473.0L268.5 1473.0L288.9 1473.0L309.3 1473.0L329.7 1473.0L350.1 1473.0L370.5 1473.0L390.9 1473.0L411.3 1473.0L431.7 1473.0L452.1 1473.0L472.5 1473.0L492.9 1472.9L513.3 1472.6L533.7 1472.3L554.1 1471.8L574.5 1470.8L594.9 1468.8L615.3 1466.2L635.7 1461.6L656.1 1454.7L676.5 1445.6L696.9 1438.0L717.3 1428.3L737.7 1417.3L758.1 1407.1L778.5 1396.9L798.9 1386.2L819.3 1376.0L839.7 1366.2L860.1 1357.3L880.5 1348.4" fill="none" stroke="#1f66ff" stroke-width="2.2" stroke-linejoin="round"/>
<path d="M61.3 1470.0L67.7 1470.0L64.5 1477.2Z" fill="#1f66ff" fill-opacity=".35" stroke="#1f66ff" stroke-width="1.7"/>
<path d="M81.7 1470.0L88.1 1470.0L84.9 1477.2Z" fill="#1f66ff" fill-opacity=".35" stroke="#1f66ff" stroke-width="1.7"/>
<path d="M102.1 1470.0L108.5 1470.0L105.3 1477.2Z" fill="#1f66ff" fill-opacity=".35" stroke="#1f66ff" stroke-width="1.7"/>
<path d="M122.5 1470.0L128.9 1470.0L125.7 1477.2Z" fill="#1f66ff" fill-opacity=".35" stroke="#1f66ff" stroke-width="1.7"/>
<path d="M142.9 1470.0L149.3 1470.0L146.1 1477.2Z" fill="#1f66ff" fill-opacity=".35" stroke="#1f66ff" stroke-width="1.7"/>
<path d="M163.3 1470.0L169.7 1470.0L166.5 1477.2Z" fill="#1f66ff" fill-opacity=".35" stroke="#1f66ff" stroke-width="1.7"/>
<path d="M183.7 1470.0L190.1 1470.0L186.9 1477.2Z" fill="#1f66ff" fill-opacity=".35" stroke="#1f66ff" stroke-width="1.7"/>
<path d="M204.1 1470.0L210.5 1470.0L207.3 1477.2Z" fill="#1f66ff" fill-opacity=".35" stroke="#1f66ff" stroke-width="1.7"/>
<path d="M224.5 1470.0L230.9 1470.0L227.7 1477.2Z" fill="#1f66ff" fill-opacity=".35" stroke="#1f66ff" stroke-width="1.7"/>
<path d="M244.9 1470.0L251.3 1470.0L248.1 1477.2Z" fill="#1f66ff" fill-opacity=".35" stroke="#1f66ff" stroke-width="1.7"/>
<path d="M265.3 1470.0L271.7 1470.0L268.5 1477.2Z" fill="#1f66ff" fill-opacity=".35" stroke="#1f66ff" stroke-width="1.7"/>
<path d="M285.7 1470.0L292.1 1470.0L288.9 1477.2Z" fill="#1f66ff" fill-opacity=".35" stroke="#1f66ff" stroke-width="1.7"/>
<path d="M306.1 1470.0L312.5 1470.0L309.3 1477.2Z" fill="#1f66ff" fill-opacity=".35" stroke="#1f66ff" stroke-width="1.7"/>
<path d="M326.5 1470.0L332.9 1470.0L329.7 1477.2Z" fill="#1f66ff" fill-opacity=".35" stroke="#1f66ff" stroke-width="1.7"/>
<path d="M346.9 1470.0L353.3 1470.0L350.1 1477.2Z" fill="#1f66ff" fill-opacity=".35" stroke="#1f66ff" stroke-width="1.7"/>
<path d="M367.3 1470.0L373.7 1470.0L370.5 1477.2Z" fill="#1f66ff" fill-opacity=".35" stroke="#1f66ff" stroke-width="1.7"/>
<path d="M387.7 1470.0L394.1 1470.0L390.9 1477.2Z" fill="#1f66ff" fill-opacity=".35" stroke="#1f66ff" stroke-width="1.7"/>
<path d="M408.1 1470.0L414.5 1470.0L411.3 1477.2Z" fill="#1f66ff" fill-opacity=".35" stroke="#1f66ff" stroke-width="1.7"/>
<path d="M428.5 1470.0L434.9 1470.0L431.7 1477.2Z" fill="#1f66ff" fill-opacity=".35" stroke="#1f66ff" stroke-width="1.7"/>
<path d="M448.9 1470.0L455.3 1470.0L452.1 1477.2Z" fill="#1f66ff" fill-opacity=".35" stroke="#1f66ff" stroke-width="1.7"/>
<path d="M469.3 1470.0L475.7 1470.0L472.5 1477.2Z" fill="#1f66ff" fill-opacity=".35" stroke="#1f66ff" stroke-width="1.7"/>
<path d="M489.7 1469.9L496.1 1469.9L492.9 1477.1Z" fill="#1f66ff" fill-opacity=".35" stroke="#1f66ff" stroke-width="1.7"/>
<path d="M510.1 1469.6L516.5 1469.6L513.3 1476.8Z" fill="#1f66ff" fill-opacity=".35" stroke="#1f66ff" stroke-width="1.7"/>
<path d="M530.5 1469.3L536.9 1469.3L533.7 1476.5Z" fill="#1f66ff" fill-opacity=".35" stroke="#1f66ff" stroke-width="1.7"/>
<path d="M550.9 1468.8L557.3 1468.8L554.1 1476.0Z" fill="#1f66ff" fill-opacity=".35" stroke="#1f66ff" stroke-width="1.7"/>
<path d="M571.3 1467.8L577.7 1467.8L574.5 1475.0Z" fill="#1f66ff" fill-opacity=".35" stroke="#1f66ff" stroke-width="1.7"/>
<path d="M591.7 1465.8L598.1 1465.8L594.9 1473.0Z" fill="#1f66ff" fill-opacity=".35" stroke="#1f66ff" stroke-width="1.7"/>
<path d="M612.1 1463.2L618.5 1463.2L615.3 1470.4Z" fill="#1f66ff" fill-opacity=".35" stroke="#1f66ff" stroke-width="1.7"/>
<path d="M632.5 1458.6L638.9 1458.6L635.7 1465.8Z" fill="#1f66ff" fill-opacity=".35" stroke="#1f66ff" stroke-width="1.7"/>
<path d="M652.9 1451.7L659.3 1451.7L656.1 1458.9Z" fill="#1f66ff" fill-opacity=".35" stroke="#1f66ff" stroke-width="1.7"/>
<path d="M673.3 1442.6L679.7 1442.6L676.5 1449.8Z" fill="#1f66ff" fill-opacity=".35" stroke="#1f66ff" stroke-width="1.7"/>
<path d="M693.7 1435.0L700.1 1435.0L696.9 1442.2Z" fill="#1f66ff" fill-opacity=".35" stroke="#1f66ff" stroke-width="1.7"/>
<path d="M714.1 1425.3L720.5 1425.3L717.3 1432.5Z" fill="#1f66ff" fill-opacity=".35" stroke="#1f66ff" stroke-width="1.7"/>
<path d="M734.5 1414.3L740.9 1414.3L737.7 1421.5Z" fill="#1f66ff" fill-opacity=".35" stroke="#1f66ff" stroke-width="1.7"/>
<path d="M754.9 1404.1L761.3 1404.1L758.1 1411.3Z" fill="#1f66ff" fill-opacity=".35" stroke="#1f66ff" stroke-width="1.7"/>
<path d="M775.3 1393.9L781.7 1393.9L778.5 1401.1Z" fill="#1f66ff" fill-opacity=".35" stroke="#1f66ff" stroke-width="1.7"/>
<path d="M795.7 1383.2L802.1 1383.2L798.9 1390.4Z" fill="#1f66ff" fill-opacity=".35" stroke="#1f66ff" stroke-width="1.7"/>
<path d="M816.1 1373.0L822.5 1373.0L819.3 1380.2Z" fill="#1f66ff" fill-opacity=".35" stroke="#1f66ff" stroke-width="1.7"/>
<path d="M836.5 1363.2L842.9 1363.2L839.7 1370.4Z" fill="#1f66ff" fill-opacity=".35" stroke="#1f66ff" stroke-width="1.7"/>
<path d="M856.9 1354.3L863.3 1354.3L860.1 1361.5Z" fill="#1f66ff" fill-opacity=".35" stroke="#1f66ff" stroke-width="1.7"/>
<path d="M877.3 1345.4L883.7 1345.4L880.5 1352.6Z" fill="#1f66ff" fill-opacity=".35" stroke="#1f66ff" stroke-width="1.7"/>
<rect x="61.0" y="1470.0" width="7" height="9.8" fill="#0c1a40"/>
<rect x="60.8" y="1467.4" width="7.4" height="9.2" rx="1" fill="#1f66ff"/>
<rect x="81.4" y="1470.0" width="7" height="9.8" fill="#0c1a40"/>
<rect x="81.2" y="1467.4" width="7.4" height="9.2" rx="1" fill="#1f66ff"/>
<rect x="101.8" y="1470.0" width="7" height="9.8" fill="#0c1a40"/>
<rect x="101.6" y="1467.4" width="7.4" height="9.2" rx="1" fill="#1f66ff"/>
<rect x="122.2" y="1470.0" width="7" height="9.8" fill="#0c1a40"/>
<rect x="122.0" y="1467.4" width="7.4" height="9.2" rx="1" fill="#1f66ff"/>
<rect x="142.6" y="1470.0" width="7" height="9.8" fill="#0c1a40"/>
<rect x="142.4" y="1467.4" width="7.4" height="9.2" rx="1" fill="#1f66ff"/>
<rect x="163.0" y="1470.0" width="7" height="9.8" fill="#0c1a40"/>
<rect x="162.8" y="1467.4" width="7.4" height="9.2" rx="1" fill="#1f66ff"/>
<rect x="183.4" y="1470.0" width="7" height="9.8" fill="#0c1a40"/>
<rect x="183.2" y="1467.4" width="7.4" height="9.2" rx="1" fill="#1f66ff"/>
<rect x="203.8" y="1470.0" width="7" height="9.8" fill="#0c1a40"/>
<rect x="203.6" y="1467.4" width="7.4" height="9.2" rx="1" fill="#1f66ff"/>
<rect x="224.2" y="1470.0" width="7" height="9.8" fill="#0c1a40"/>
<rect x="224.0" y="1467.4" width="7.4" height="9.2" rx="1" fill="#1f66ff"/>
<rect x="244.6" y="1470.0" width="7" height="9.8" fill="#0c1a40"/>
<rect x="244.4" y="1467.4" width="7.4" height="9.2" rx="1" fill="#1f66ff"/>
<rect x="265.0" y="1470.0" width="7" height="9.8" fill="#0c1a40"/>
<rect x="264.8" y="1467.4" width="7.4" height="9.2" rx="1" fill="#1f66ff"/>
<rect x="285.4" y="1470.0" width="7" height="9.8" fill="#0c1a40"/>
<rect x="285.2" y="1467.4" width="7.4" height="9.2" rx="1" fill="#1f66ff"/>
<rect x="305.8" y="1470.0" width="7" height="9.8" fill="#0c1a40"/>
<rect x="305.6" y="1467.4" width="7.4" height="9.2" rx="1" fill="#1f66ff"/>
<rect x="326.2" y="1470.0" width="7" height="9.8" fill="#0c1a40"/>
<rect x="326.0" y="1467.4" width="7.4" height="9.2" rx="1" fill="#1f66ff"/>
<rect x="346.6" y="1470.0" width="7" height="9.8" fill="#0c1a40"/>
<rect x="346.4" y="1467.4" width="7.4" height="9.2" rx="1" fill="#1f66ff"/>
<rect x="367.0" y="1470.0" width="7" height="9.8" fill="#0c1a40"/>
<rect x="366.8" y="1467.4" width="7.4" height="9.2" rx="1" fill="#1f66ff"/>
<rect x="387.4" y="1470.0" width="7" height="9.8" fill="#0c1a40"/>
<rect x="387.2" y="1467.4" width="7.4" height="9.2" rx="1" fill="#1f66ff"/>
<rect x="407.8" y="1470.0" width="7" height="9.8" fill="#0c1a40"/>
<rect x="407.6" y="1467.4" width="7.4" height="9.2" rx="1" fill="#1f66ff"/>
<rect x="428.2" y="1470.0" width="7" height="9.8" fill="#0c1a40"/>
<rect x="428.0" y="1467.4" width="7.4" height="9.2" rx="1" fill="#1f66ff"/>
<rect x="448.6" y="1470.0" width="7" height="9.8" fill="#0c1a40"/>
<rect x="448.4" y="1467.4" width="7.4" height="9.2" rx="1" fill="#1f66ff"/>
<rect x="469.0" y="1470.0" width="7" height="9.8" fill="#0c1a40"/>
<rect x="468.8" y="1467.4" width="7.4" height="9.2" rx="1" fill="#1f66ff"/>
<rect x="489.4" y="1469.7" width="7" height="9.8" fill="#0c1a40"/>
<rect x="489.2" y="1467.1" width="7.4" height="9.2" rx="1" fill="#1f66ff"/>
<rect x="509.8" y="1469.0" width="7" height="9.8" fill="#0c1a40"/>
<rect x="509.6" y="1466.4" width="7.4" height="9.2" rx="1" fill="#1f66ff"/>
<path d="M64.5 1473.6H533.7" stroke="#1f66ff" stroke-width="2.8"/>
<path d="M64.5 1340.3L84.9 1318.9L105.3 1297.5L125.7 1276.2L146.1 1254.9L166.5 1233.6L186.9 1212.3L207.3 1191.0L227.7 1169.7L248.1 1148.6L268.5 1127.6L288.9 1106.8L309.3 1086.0L329.7 1065.5L350.1 1045.0L370.5 1024.7L390.9 1004.7L411.3 984.9L431.7 965.1L452.1 945.1L472.5 924.7L492.9 906.5L513.3 888.7L533.7 869.8L554.1 852.4L574.5 836.6L594.9 821.2L615.3 807.7L635.7 793.9L656.1 782.4L676.5 771.8L696.9 761.4L717.3 753.1L737.7 744.9L758.1 738.0L778.5 732.1L798.9 726.5L819.3 721.4L839.7 716.1L860.1 711.7L880.5 708.4" fill="none" stroke="#151515" stroke-width="2.15" stroke-linejoin="round"/>
<rect x="61.8" y="1336.8" width="5.4" height="7.0" fill="none" stroke="#151515" stroke-width="1.9"/>
<rect x="82.2" y="1315.4" width="5.4" height="7.0" fill="none" stroke="#151515" stroke-width="1.9"/>
<rect x="102.6" y="1294.0" width="5.4" height="7.0" fill="none" stroke="#151515" stroke-width="1.9"/>
<rect x="123.0" y="1272.7" width="5.4" height="7.0" fill="none" stroke="#151515" stroke-width="1.9"/>
<rect x="143.4" y="1251.4" width="5.4" height="7.0" fill="none" stroke="#151515" stroke-width="1.9"/>
<rect x="163.8" y="1230.1" width="5.4" height="7.0" fill="none" stroke="#151515" stroke-width="1.9"/>
<rect x="184.2" y="1208.8" width="5.4" height="7.0" fill="none" stroke="#151515" stroke-width="1.9"/>
<rect x="204.6" y="1187.5" width="5.4" height="7.0" fill="none" stroke="#151515" stroke-width="1.9"/>
<rect x="225.0" y="1166.2" width="5.4" height="7.0" fill="none" stroke="#151515" stroke-width="1.9"/>
<rect x="245.4" y="1145.1" width="5.4" height="7.0" fill="none" stroke="#151515" stroke-width="1.9"/>
<rect x="265.8" y="1124.1" width="5.4" height="7.0" fill="none" stroke="#151515" stroke-width="1.9"/>
<rect x="286.2" y="1103.3" width="5.4" height="7.0" fill="none" stroke="#151515" stroke-width="1.9"/>
<rect x="306.6" y="1082.5" width="5.4" height="7.0" fill="none" stroke="#151515" stroke-width="1.9"/>
<rect x="327.0" y="1062.0" width="5.4" height="7.0" fill="none" stroke="#151515" stroke-width="1.9"/>
<rect x="347.4" y="1041.5" width="5.4" height="7.0" fill="none" stroke="#151515" stroke-width="1.9"/>
<rect x="367.8" y="1021.2" width="5.4" height="7.0" fill="none" stroke="#151515" stroke-width="1.9"/>
<rect x="388.2" y="1001.2" width="5.4" height="7.0" fill="none" stroke="#151515" stroke-width="1.9"/>
<rect x="408.6" y="981.4" width="5.4" height="7.0" fill="none" stroke="#151515" stroke-width="1.9"/>
<rect x="429.0" y="961.6" width="5.4" height="7.0" fill="none" stroke="#151515" stroke-width="1.9"/>
<rect x="449.4" y="941.6" width="5.4" height="7.0" fill="none" stroke="#151515" stroke-width="1.9"/>
<rect x="469.8" y="921.2" width="5.4" height="7.0" fill="none" stroke="#151515" stroke-width="1.9"/>
<rect x="490.2" y="903.0" width="5.4" height="7.0" fill="none" stroke="#151515" stroke-width="1.9"/>
<rect x="510.6" y="885.2" width="5.4" height="7.0" fill="none" stroke="#151515" stroke-width="1.9"/>
<rect x="531.0" y="866.3" width="5.4" height="7.0" fill="none" stroke="#151515" stroke-width="1.9"/>
<rect x="551.4" y="848.9" width="5.4" height="7.0" fill="none" stroke="#151515" stroke-width="1.9"/>
<rect x="571.8" y="833.1" width="5.4" height="7.0" fill="none" stroke="#151515" stroke-width="1.9"/>
<rect x="592.2" y="817.7" width="5.4" height="7.0" fill="none" stroke="#151515" stroke-width="1.9"/>
<rect x="612.6" y="804.2" width="5.4" height="7.0" fill="none" stroke="#151515" stroke-width="1.9"/>
<rect x="633.0" y="790.4" width="5.4" height="7.0" fill="none" stroke="#151515" stroke-width="1.9"/>
<rect x="653.4" y="778.9" width="5.4" height="7.0" fill="none" stroke="#151515" stroke-width="1.9"/>
<rect x="673.8" y="768.3" width="5.4" height="7.0" fill="none" stroke="#151515" stroke-width="1.9"/>
<rect x="694.2" y="757.9" width="5.4" height="7.0" fill="none" stroke="#151515" stroke-width="1.9"/>
<rect x="714.6" y="749.6" width="5.4" height="7.0" fill="none" stroke="#151515" stroke-width="1.9"/>
<rect x="735.0" y="741.4" width="5.4" height="7.0" fill="none" stroke="#151515" stroke-width="1.9"/>
<rect x="755.4" y="734.5" width="5.4" height="7.0" fill="none" stroke="#151515" stroke-width="1.9"/>
<rect x="775.8" y="728.6" width="5.4" height="7.0" fill="none" stroke="#151515" stroke-width="1.9"/>
<rect x="796.2" y="723.0" width="5.4" height="7.0" fill="none" stroke="#151515" stroke-width="1.9"/>
<rect x="816.6" y="717.9" width="5.4" height="7.0" fill="none" stroke="#151515" stroke-width="1.9"/>
<rect x="837.0" y="712.6" width="5.4" height="7.0" fill="none" stroke="#151515" stroke-width="1.9"/>
<rect x="857.4" y="708.2" width="5.4" height="7.0" fill="none" stroke="#151515" stroke-width="1.9"/>
<rect x="877.8" y="704.9" width="5.4" height="7.0" fill="none" stroke="#151515" stroke-width="1.9"/>
<path d="M64.5 1472.6L84.9 1449.2L105.3 1425.7L125.7 1402.3L146.1 1378.7L166.5 1355.2L186.9 1331.6L207.3 1307.9L227.7 1284.2L248.1 1260.5L268.5 1237.0L288.9 1213.5L309.3 1190.1L329.7 1166.8L350.1 1143.6L370.5 1120.5L390.9 1097.5L411.3 1074.6L431.7 1051.9L452.1 1029.2L472.5 1006.8L492.9 984.7L513.3 962.7L533.7 940.5L554.1 918.0L574.5 897.9L594.9 878.7L615.3 859.5L635.7 843.4L656.1 829.0L676.5 817.3L696.9 807.8L717.3 799.8L737.7 793.4L758.1 787.8L778.5 783.2L798.9 779.4L819.3 775.6L839.7 772.2L860.1 769.2L880.5 766.6" fill="none" stroke="#1f66ff" stroke-width="2.15" stroke-linejoin="round"/>
<path d="M61.3 1469.6L67.7 1469.6L64.5 1476.8Z" fill="#1f66ff" fill-opacity=".35" stroke="#1f66ff" stroke-width="1.7"/>
<path d="M81.7 1446.2L88.1 1446.2L84.9 1453.4Z" fill="#1f66ff" fill-opacity=".35" stroke="#1f66ff" stroke-width="1.7"/>
<path d="M102.1 1422.7L108.5 1422.7L105.3 1429.9Z" fill="#1f66ff" fill-opacity=".35" stroke="#1f66ff" stroke-width="1.7"/>
<path d="M122.5 1399.3L128.9 1399.3L125.7 1406.5Z" fill="#1f66ff" fill-opacity=".35" stroke="#1f66ff" stroke-width="1.7"/>
<path d="M142.9 1375.7L149.3 1375.7L146.1 1382.9Z" fill="#1f66ff" fill-opacity=".35" stroke="#1f66ff" stroke-width="1.7"/>
<path d="M163.3 1352.2L169.7 1352.2L166.5 1359.4Z" fill="#1f66ff" fill-opacity=".35" stroke="#1f66ff" stroke-width="1.7"/>
<path d="M183.7 1328.6L190.1 1328.6L186.9 1335.8Z" fill="#1f66ff" fill-opacity=".35" stroke="#1f66ff" stroke-width="1.7"/>
<path d="M204.1 1304.9L210.5 1304.9L207.3 1312.1Z" fill="#1f66ff" fill-opacity=".35" stroke="#1f66ff" stroke-width="1.7"/>
<path d="M224.5 1281.2L230.9 1281.2L227.7 1288.4Z" fill="#1f66ff" fill-opacity=".35" stroke="#1f66ff" stroke-width="1.7"/>
<path d="M244.9 1257.5L251.3 1257.5L248.1 1264.7Z" fill="#1f66ff" fill-opacity=".35" stroke="#1f66ff" stroke-width="1.7"/>
<path d="M265.3 1234.0L271.7 1234.0L268.5 1241.2Z" fill="#1f66ff" fill-opacity=".35" stroke="#1f66ff" stroke-width="1.7"/>
<path d="M285.7 1210.5L292.1 1210.5L288.9 1217.7Z" fill="#1f66ff" fill-opacity=".35" stroke="#1f66ff" stroke-width="1.7"/>
<path d="M306.1 1187.1L312.5 1187.1L309.3 1194.3Z" fill="#1f66ff" fill-opacity=".35" stroke="#1f66ff" stroke-width="1.7"/>
<path d="M326.5 1163.8L332.9 1163.8L329.7 1171.0Z" fill="#1f66ff" fill-opacity=".35" stroke="#1f66ff" stroke-width="1.7"/>
<path d="M346.9 1140.6L353.3 1140.6L350.1 1147.8Z" fill="#1f66ff" fill-opacity=".35" stroke="#1f66ff" stroke-width="1.7"/>
<path d="M367.3 1117.5L373.7 1117.5L370.5 1124.7Z" fill="#1f66ff" fill-opacity=".35" stroke="#1f66ff" stroke-width="1.7"/>
<path d="M387.7 1094.5L394.1 1094.5L390.9 1101.7Z" fill="#1f66ff" fill-opacity=".35" stroke="#1f66ff" stroke-width="1.7"/>
<path d="M408.1 1071.6L414.5 1071.6L411.3 1078.8Z" fill="#1f66ff" fill-opacity=".35" stroke="#1f66ff" stroke-width="1.7"/>
<path d="M428.5 1048.9L434.9 1048.9L431.7 1056.1Z" fill="#1f66ff" fill-opacity=".35" stroke="#1f66ff" stroke-width="1.7"/>
<path d="M448.9 1026.2L455.3 1026.2L452.1 1033.4Z" fill="#1f66ff" fill-opacity=".35" stroke="#1f66ff" stroke-width="1.7"/>
<path d="M469.3 1003.8L475.7 1003.8L472.5 1011.0Z" fill="#1f66ff" fill-opacity=".35" stroke="#1f66ff" stroke-width="1.7"/>
<path d="M489.7 981.7L496.1 981.7L492.9 988.9Z" fill="#1f66ff" fill-opacity=".35" stroke="#1f66ff" stroke-width="1.7"/>
<path d="M510.1 959.7L516.5 959.7L513.3 966.9Z" fill="#1f66ff" fill-opacity=".35" stroke="#1f66ff" stroke-width="1.7"/>
<path d="M530.5 937.5L536.9 937.5L533.7 944.7Z" fill="#1f66ff" fill-opacity=".35" stroke="#1f66ff" stroke-width="1.7"/>
<path d="M550.9 915.0L557.3 915.0L554.1 922.2Z" fill="#1f66ff" fill-opacity=".35" stroke="#1f66ff" stroke-width="1.7"/>
<path d="M571.3 894.9L577.7 894.9L574.5 902.1Z" fill="#1f66ff" fill-opacity=".35" stroke="#1f66ff" stroke-width="1.7"/>
<path d="M591.7 875.7L598.1 875.7L594.9 882.9Z" fill="#1f66ff" fill-opacity=".35" stroke="#1f66ff" stroke-width="1.7"/>
<path d="M612.1 856.5L618.5 856.5L615.3 863.7Z" fill="#1f66ff" fill-opacity=".35" stroke="#1f66ff" stroke-width="1.7"/>
<path d="M632.5 840.4L638.9 840.4L635.7 847.6Z" fill="#1f66ff" fill-opacity=".35" stroke="#1f66ff" stroke-width="1.7"/>
<path d="M652.9 826.0L659.3 826.0L656.1 833.2Z" fill="#1f66ff" fill-opacity=".35" stroke="#1f66ff" stroke-width="1.7"/>
<path d="M673.3 814.3L679.7 814.3L676.5 821.5Z" fill="#1f66ff" fill-opacity=".35" stroke="#1f66ff" stroke-width="1.7"/>
<path d="M693.7 804.8L700.1 804.8L696.9 812.0Z" fill="#1f66ff" fill-opacity=".35" stroke="#1f66ff" stroke-width="1.7"/>
<path d="M714.1 796.8L720.5 796.8L717.3 804.0Z" fill="#1f66ff" fill-opacity=".35" stroke="#1f66ff" stroke-width="1.7"/>
<path d="M734.5 790.4L740.9 790.4L737.7 797.6Z" fill="#1f66ff" fill-opacity=".35" stroke="#1f66ff" stroke-width="1.7"/>
<path d="M754.9 784.8L761.3 784.8L758.1 792.0Z" fill="#1f66ff" fill-opacity=".35" stroke="#1f66ff" stroke-width="1.7"/>
<path d="M775.3 780.2L781.7 780.2L778.5 787.4Z" fill="#1f66ff" fill-opacity=".35" stroke="#1f66ff" stroke-width="1.7"/>
<path d="M795.7 776.4L802.1 776.4L798.9 783.6Z" fill="#1f66ff" fill-opacity=".35" stroke="#1f66ff" stroke-width="1.7"/>
<path d="M816.1 772.6L822.5 772.6L819.3 779.8Z" fill="#1f66ff" fill-opacity=".35" stroke="#1f66ff" stroke-width="1.7"/>
<path d="M836.5 769.2L842.9 769.2L839.7 776.4Z" fill="#1f66ff" fill-opacity=".35" stroke="#1f66ff" stroke-width="1.7"/>
<path d="M856.9 766.2L863.3 766.2L860.1 773.4Z" fill="#1f66ff" fill-opacity=".35" stroke="#1f66ff" stroke-width="1.7"/>
<path d="M877.3 763.6L883.7 763.6L880.5 770.8Z" fill="#1f66ff" fill-opacity=".35" stroke="#1f66ff" stroke-width="1.7"/>
<path d="M64.5 1447.1L84.9 1423.2L105.3 1399.4L125.7 1375.6L146.1 1351.9L166.5 1328.3L186.9 1304.8L207.3 1281.4L227.7 1258.1L248.1 1234.7L268.5 1211.2L288.9 1187.4L309.3 1163.5L329.7 1139.5L350.1 1115.6L370.5 1091.9L390.9 1068.7L411.3 1045.7L431.7 1022.9L452.1 999.8L472.5 976.3L492.9 952.0L513.3 929.0L533.7 908.1L554.1 886.1L574.5 865.2L594.9 845.2L615.3 828.6L635.7 812.3L656.1 797.8L676.5 785.5L696.9 773.9L717.3 764.8L737.7 756.4L758.1 749.3L778.5 742.9L798.9 736.5L819.3 730.9L839.7 726.3L860.1 721.9L880.5 717.3" fill="none" stroke="#1f66ff" stroke-width="2.15" stroke-linejoin="round"/>
<path d="M61.4 1450.3L67.6 1450.3L64.5 1443.3Z" fill="none" stroke="#4f72ea" stroke-width="1.7"/>
<path d="M81.8 1426.4L88.0 1426.4L84.9 1419.4Z" fill="none" stroke="#4f72ea" stroke-width="1.7"/>
<path d="M102.2 1402.6L108.4 1402.6L105.3 1395.6Z" fill="none" stroke="#4f72ea" stroke-width="1.7"/>
<path d="M122.6 1378.8L128.8 1378.8L125.7 1371.8Z" fill="none" stroke="#4f72ea" stroke-width="1.7"/>
<path d="M143.0 1355.1L149.2 1355.1L146.1 1348.1Z" fill="none" stroke="#4f72ea" stroke-width="1.7"/>
<path d="M163.4 1331.5L169.6 1331.5L166.5 1324.5Z" fill="none" stroke="#4f72ea" stroke-width="1.7"/>
<path d="M183.8 1308.0L190.0 1308.0L186.9 1301.0Z" fill="none" stroke="#4f72ea" stroke-width="1.7"/>
<path d="M204.2 1284.6L210.4 1284.6L207.3 1277.6Z" fill="none" stroke="#4f72ea" stroke-width="1.7"/>
<path d="M224.6 1261.3L230.8 1261.3L227.7 1254.3Z" fill="none" stroke="#4f72ea" stroke-width="1.7"/>
<path d="M245.0 1237.9L251.2 1237.9L248.1 1230.9Z" fill="none" stroke="#4f72ea" stroke-width="1.7"/>
<path d="M265.4 1214.4L271.6 1214.4L268.5 1207.4Z" fill="none" stroke="#4f72ea" stroke-width="1.7"/>
<path d="M285.8 1190.6L292.0 1190.6L288.9 1183.6Z" fill="none" stroke="#4f72ea" stroke-width="1.7"/>
<path d="M306.2 1166.7L312.4 1166.7L309.3 1159.7Z" fill="none" stroke="#4f72ea" stroke-width="1.7"/>
<path d="M326.6 1142.7L332.8 1142.7L329.7 1135.7Z" fill="none" stroke="#4f72ea" stroke-width="1.7"/>
<path d="M347.0 1118.8L353.2 1118.8L350.1 1111.8Z" fill="none" stroke="#4f72ea" stroke-width="1.7"/>
<path d="M367.4 1095.1L373.6 1095.1L370.5 1088.1Z" fill="none" stroke="#4f72ea" stroke-width="1.7"/>
<path d="M387.8 1071.9L394.0 1071.9L390.9 1064.9Z" fill="none" stroke="#4f72ea" stroke-width="1.7"/>
<path d="M408.2 1048.9L414.4 1048.9L411.3 1041.9Z" fill="none" stroke="#4f72ea" stroke-width="1.7"/>
<path d="M428.6 1026.1L434.8 1026.1L431.7 1019.1Z" fill="none" stroke="#4f72ea" stroke-width="1.7"/>
<path d="M449.0 1003.0L455.2 1003.0L452.1 996.0Z" fill="none" stroke="#4f72ea" stroke-width="1.7"/>
<path d="M469.4 979.5L475.6 979.5L472.5 972.5Z" fill="none" stroke="#4f72ea" stroke-width="1.7"/>
<path d="M489.8 955.2L496.0 955.2L492.9 948.2Z" fill="none" stroke="#4f72ea" stroke-width="1.7"/>
<path d="M510.2 932.2L516.4 932.2L513.3 925.2Z" fill="none" stroke="#4f72ea" stroke-width="1.7"/>
<path d="M530.6 911.3L536.8 911.3L533.7 904.3Z" fill="none" stroke="#4f72ea" stroke-width="1.7"/>
<path d="M551.0 889.3L557.2 889.3L554.1 882.3Z" fill="none" stroke="#4f72ea" stroke-width="1.7"/>
<path d="M571.4 868.4L577.6 868.4L574.5 861.4Z" fill="none" stroke="#4f72ea" stroke-width="1.7"/>
<path d="M591.8 848.4L598.0 848.4L594.9 841.4Z" fill="none" stroke="#4f72ea" stroke-width="1.7"/>
<path d="M612.2 831.8L618.4 831.8L615.3 824.8Z" fill="none" stroke="#4f72ea" stroke-width="1.7"/>
<path d="M632.6 815.5L638.8 815.5L635.7 808.5Z" fill="none" stroke="#4f72ea" stroke-width="1.7"/>
<path d="M653.0 801.0L659.2 801.0L656.1 794.0Z" fill="none" stroke="#4f72ea" stroke-width="1.7"/>
<path d="M673.4 788.7L679.6 788.7L676.5 781.7Z" fill="none" stroke="#4f72ea" stroke-width="1.7"/>
<path d="M693.8 777.1L700.0 777.1L696.9 770.1Z" fill="none" stroke="#4f72ea" stroke-width="1.7"/>
<path d="M714.2 768.0L720.4 768.0L717.3 761.0Z" fill="none" stroke="#4f72ea" stroke-width="1.7"/>
<path d="M734.6 759.6L740.8 759.6L737.7 752.6Z" fill="none" stroke="#4f72ea" stroke-width="1.7"/>
<path d="M755.0 752.5L761.2 752.5L758.1 745.5Z" fill="none" stroke="#4f72ea" stroke-width="1.7"/>
<path d="M775.4 746.1L781.6 746.1L778.5 739.1Z" fill="none" stroke="#4f72ea" stroke-width="1.7"/>
<path d="M795.8 739.7L802.0 739.7L798.9 732.7Z" fill="none" stroke="#4f72ea" stroke-width="1.7"/>
<path d="M816.2 734.1L822.4 734.1L819.3 727.1Z" fill="none" stroke="#4f72ea" stroke-width="1.7"/>
<path d="M836.6 729.5L842.8 729.5L839.7 722.5Z" fill="none" stroke="#4f72ea" stroke-width="1.7"/>
<path d="M857.0 725.1L863.2 725.1L860.1 718.1Z" fill="none" stroke="#4f72ea" stroke-width="1.7"/>
<path d="M877.4 720.5L883.6 720.5L880.5 713.5Z" fill="none" stroke="#4f72ea" stroke-width="1.7"/>
<path d="M64.5 1461.7L84.9 1438.2L105.3 1414.6L125.7 1391.0L146.1 1367.4L166.5 1343.7L186.9 1320.0L207.3 1296.2L227.7 1272.5L248.1 1248.7L268.5 1225.0L288.9 1201.3L309.3 1177.6L329.7 1153.9L350.1 1130.3L370.5 1106.9L390.9 1083.8L411.3 1060.9L431.7 1038.1L452.1 1015.1L472.5 991.6L492.9 967.3L513.3 946.1L533.7 923.9L554.1 902.2L574.5 881.3L594.9 862.6L615.3 845.2L635.7 830.7L656.1 817.8L676.5 807.8L696.9 798.6L717.3 792.2L737.7 786.3L758.1 781.4L778.5 777.4L798.9 773.5L819.3 769.9L839.7 767.4L860.1 765.4L880.5 763.6" fill="none" stroke="#151515" stroke-width="2.15" stroke-linejoin="round"/>
<ellipse cx="64.5" cy="1461.7" rx="2.5" ry="4.0" fill="none" stroke="#151515" stroke-width="1.9"/>
<ellipse cx="84.9" cy="1438.2" rx="2.5" ry="4.0" fill="none" stroke="#151515" stroke-width="1.9"/>
<ellipse cx="105.3" cy="1414.6" rx="2.5" ry="4.0" fill="none" stroke="#151515" stroke-width="1.9"/>
<ellipse cx="125.7" cy="1391.0" rx="2.5" ry="4.0" fill="none" stroke="#151515" stroke-width="1.9"/>
<ellipse cx="146.1" cy="1367.4" rx="2.5" ry="4.0" fill="none" stroke="#151515" stroke-width="1.9"/>
<ellipse cx="166.5" cy="1343.7" rx="2.5" ry="4.0" fill="none" stroke="#151515" stroke-width="1.9"/>
<ellipse cx="186.9" cy="1320.0" rx="2.5" ry="4.0" fill="none" stroke="#151515" stroke-width="1.9"/>
<ellipse cx="207.3" cy="1296.2" rx="2.5" ry="4.0" fill="none" stroke="#151515" stroke-width="1.9"/>
<ellipse cx="227.7" cy="1272.5" rx="2.5" ry="4.0" fill="none" stroke="#151515" stroke-width="1.9"/>
<ellipse cx="248.1" cy="1248.7" rx="2.5" ry="4.0" fill="none" stroke="#151515" stroke-width="1.9"/>
<ellipse cx="268.5" cy="1225.0" rx="2.5" ry="4.0" fill="none" stroke="#151515" stroke-width="1.9"/>
<ellipse cx="288.9" cy="1201.3" rx="2.5" ry="4.0" fill="none" stroke="#151515" stroke-width="1.9"/>
<ellipse cx="309.3" cy="1177.6" rx="2.5" ry="4.0" fill="none" stroke="#151515" stroke-width="1.9"/>
<ellipse cx="329.7" cy="1153.9" rx="2.5" ry="4.0" fill="none" stroke="#151515" stroke-width="1.9"/>
<ellipse cx="350.1" cy="1130.3" rx="2.5" ry="4.0" fill="none" stroke="#151515" stroke-width="1.9"/>
<ellipse cx="370.5" cy="1106.9" rx="2.5" ry="4.0" fill="none" stroke="#151515" stroke-width="1.9"/>
<ellipse cx="390.9" cy="1083.8" rx="2.5" ry="4.0" fill="none" stroke="#151515" stroke-width="1.9"/>
<ellipse cx="411.3" cy="1060.9" rx="2.5" ry="4.0" fill="none" stroke="#151515" stroke-width="1.9"/>
<ellipse cx="431.7" cy="1038.1" rx="2.5" ry="4.0" fill="none" stroke="#151515" stroke-width="1.9"/>
<ellipse cx="452.1" cy="1015.1" rx="2.5" ry="4.0" fill="none" stroke="#151515" stroke-width="1.9"/>
<ellipse cx="472.5" cy="991.6" rx="2.5" ry="4.0" fill="none" stroke="#151515" stroke-width="1.9"/>
<ellipse cx="492.9" cy="967.3" rx="2.5" ry="4.0" fill="none" stroke="#151515" stroke-width="1.9"/>
<ellipse cx="513.3" cy="946.1" rx="2.5" ry="4.0" fill="none" stroke="#151515" stroke-width="1.9"/>
<ellipse cx="533.7" cy="923.9" rx="2.5" ry="4.0" fill="none" stroke="#151515" stroke-width="1.9"/>
<ellipse cx="554.1" cy="902.2" rx="2.5" ry="4.0" fill="none" stroke="#151515" stroke-width="1.9"/>
<ellipse cx="574.5" cy="881.3" rx="2.5" ry="4.0" fill="none" stroke="#151515" stroke-width="1.9"/>
<ellipse cx="594.9" cy="862.6" rx="2.5" ry="4.0" fill="none" stroke="#151515" stroke-width="1.9"/>
<ellipse cx="615.3" cy="845.2" rx="2.5" ry="4.0" fill="none" stroke="#151515" stroke-width="1.9"/>
<ellipse cx="635.7" cy="830.7" rx="2.5" ry="4.0" fill="none" stroke="#151515" stroke-width="1.9"/>
<ellipse cx="656.1" cy="817.8" rx="2.5" ry="4.0" fill="none" stroke="#151515" stroke-width="1.9"/>
<ellipse cx="676.5" cy="807.8" rx="2.5" ry="4.0" fill="none" stroke="#151515" stroke-width="1.9"/>
<ellipse cx="696.9" cy="798.6" rx="2.5" ry="4.0" fill="none" stroke="#151515" stroke-width="1.9"/>
<ellipse cx="717.3" cy="792.2" rx="2.5" ry="4.0" fill="none" stroke="#151515" stroke-width="1.9"/>
<ellipse cx="737.7" cy="786.3" rx="2.5" ry="4.0" fill="none" stroke="#151515" stroke-width="1.9"/>
<ellipse cx="758.1" cy="781.4" rx="2.5" ry="4.0" fill="none" stroke="#151515" stroke-width="1.9"/>
<ellipse cx="778.5" cy="777.4" rx="2.5" ry="4.0" fill="none" stroke="#151515" stroke-width="1.9"/>
<ellipse cx="798.9" cy="773.5" rx="2.5" ry="4.0" fill="none" stroke="#151515" stroke-width="1.9"/>
<ellipse cx="819.3" cy="769.9" rx="2.5" ry="4.0" fill="none" stroke="#151515" stroke-width="1.9"/>
<ellipse cx="839.7" cy="767.4" rx="2.5" ry="4.0" fill="none" stroke="#151515" stroke-width="1.9"/>
<ellipse cx="860.1" cy="765.4" rx="2.5" ry="4.0" fill="none" stroke="#151515" stroke-width="1.9"/>
<ellipse cx="880.5" cy="763.6" rx="2.5" ry="4.0" fill="none" stroke="#151515" stroke-width="1.9"/>
</g>
<text x="16.3" y="788.5" font-size="19.4" font-family="DejaVu Sans Condensed, DejaVu Sans, Liberation Sans, sans-serif" font-weight="700" fill="#111" stroke="#111" stroke-width=".35" textLength="39.2" lengthAdjust="spacingAndGlyphs">1e-06</text>
<text x="16.3" y="935.5" font-size="19.4" font-family="DejaVu Sans Condensed, DejaVu Sans, Liberation Sans, sans-serif" font-weight="700" fill="#111" stroke="#111" stroke-width=".35" textLength="39.2" lengthAdjust="spacingAndGlyphs">1e-08</text>
<text x="16.3" y="1082.5" font-size="19.4" font-family="DejaVu Sans Condensed, DejaVu Sans, Liberation Sans, sans-serif" font-weight="700" fill="#111" stroke="#111" stroke-width=".35" textLength="39.2" lengthAdjust="spacingAndGlyphs">1e-10</text>
<text x="16.3" y="1229.5" font-size="19.4" font-family="DejaVu Sans Condensed, DejaVu Sans, Liberation Sans, sans-serif" font-weight="700" fill="#111" stroke="#111" stroke-width=".35" textLength="39.2" lengthAdjust="spacingAndGlyphs">1e-12</text>
<text x="16.3" y="1376.5" font-size="19.4" font-family="DejaVu Sans Condensed, DejaVu Sans, Liberation Sans, sans-serif" font-weight="700" fill="#111" stroke="#111" stroke-width=".35" textLength="39.2" lengthAdjust="spacingAndGlyphs">1e-14</text>
<text x="888" y="851.1" font-size="19.4" font-family="DejaVu Sans Condensed, DejaVu Sans, Liberation Sans, sans-serif" font-weight="700" fill="#111" stroke="#111" stroke-width=".35" textLength="39.6" lengthAdjust="spacingAndGlyphs">8e-06</text>
<text x="888" y="1008.9" font-size="19.4" font-family="DejaVu Sans Condensed, DejaVu Sans, Liberation Sans, sans-serif" font-weight="700" fill="#111" stroke="#111" stroke-width=".35" textLength="39.6" lengthAdjust="spacingAndGlyphs">6e-06</text>
<text x="888" y="1166.7" font-size="19.4" font-family="DejaVu Sans Condensed, DejaVu Sans, Liberation Sans, sans-serif" font-weight="700" fill="#111" stroke="#111" stroke-width=".35" textLength="39.6" lengthAdjust="spacingAndGlyphs">4e-06</text>
<text x="888" y="1324.5" font-size="19.4" font-family="DejaVu Sans Condensed, DejaVu Sans, Liberation Sans, sans-serif" font-weight="700" fill="#111" stroke="#111" stroke-width=".35" textLength="39.6" lengthAdjust="spacingAndGlyphs">2e-06</text>
<text x="60.1" y="1501.5" font-size="19.4" font-family="DejaVu Sans Condensed, DejaVu Sans, Liberation Sans, sans-serif" font-weight="700" fill="#111" stroke="#111" stroke-width=".35" textLength="8.8" lengthAdjust="spacingAndGlyphs">0</text>
<text x="155.8" y="1501.5" font-size="19.4" font-family="DejaVu Sans Condensed, DejaVu Sans, Liberation Sans, sans-serif" font-weight="700" fill="#111" stroke="#111" stroke-width=".35" textLength="21.4" lengthAdjust="spacingAndGlyphs">0.1</text>
<text x="257.8" y="1501.5" font-size="19.4" font-family="DejaVu Sans Condensed, DejaVu Sans, Liberation Sans, sans-serif" font-weight="700" fill="#111" stroke="#111" stroke-width=".35" textLength="21.4" lengthAdjust="spacingAndGlyphs">0.2</text>
<text x="359.8" y="1501.5" font-size="19.4" font-family="DejaVu Sans Condensed, DejaVu Sans, Liberation Sans, sans-serif" font-weight="700" fill="#111" stroke="#111" stroke-width=".35" textLength="21.4" lengthAdjust="spacingAndGlyphs">0.3</text>
<text x="461.8" y="1501.5" font-size="19.4" font-family="DejaVu Sans Condensed, DejaVu Sans, Liberation Sans, sans-serif" font-weight="700" fill="#111" stroke="#111" stroke-width=".35" textLength="21.4" lengthAdjust="spacingAndGlyphs">0.4</text>
<text x="563.8" y="1501.5" font-size="19.4" font-family="DejaVu Sans Condensed, DejaVu Sans, Liberation Sans, sans-serif" font-weight="700" fill="#111" stroke="#111" stroke-width=".35" textLength="21.4" lengthAdjust="spacingAndGlyphs">0.5</text>
<text x="665.8" y="1501.5" font-size="19.4" font-family="DejaVu Sans Condensed, DejaVu Sans, Liberation Sans, sans-serif" font-weight="700" fill="#111" stroke="#111" stroke-width=".35" textLength="21.4" lengthAdjust="spacingAndGlyphs">0.6</text>
<text x="767.8" y="1501.5" font-size="19.4" font-family="DejaVu Sans Condensed, DejaVu Sans, Liberation Sans, sans-serif" font-weight="700" fill="#111" stroke="#111" stroke-width=".35" textLength="21.4" lengthAdjust="spacingAndGlyphs">0.7</text>
<text x="869.8" y="1501.5" font-size="19.4" font-family="DejaVu Sans Condensed, DejaVu Sans, Liberation Sans, sans-serif" font-weight="700" fill="#111" stroke="#111" stroke-width=".35" textLength="21.4" lengthAdjust="spacingAndGlyphs">0.8</text>
<text x="346" y="1521.6" font-size="18.4" font-family="DejaVu Sans Condensed, DejaVu Sans, Liberation Sans, sans-serif" font-weight="700" fill="#111" stroke="#111" stroke-width=".35" textLength="254.5" lengthAdjust="spacingAndGlyphs">x (x (Vapp(Gate[Gate_to_spc]) [V]))</text>
<text transform="translate(11.3 1207.6) rotate(-90)" font-size="13.6" font-family="DejaVu Sans, Liberation Sans, sans-serif" font-weight="700" fill="#111" stroke="#111" stroke-width=".25" textLength="231.5" lengthAdjust="spacingAndGlyphs">I_Drain (A) LOG_SCALE</text>
<text transform="translate(933.6 1036.7) rotate(90)" font-size="13.6" font-family="DejaVu Sans, Liberation Sans, sans-serif" font-weight="700" fill="#111" stroke="#111" stroke-width=".25" textLength="108.5" lengthAdjust="spacingAndGlyphs">I_Drain (A)</text>
<rect x="111.3" y="716.8" width="219.3" height="200.4" rx="6" ry="6" fill="#fff" stroke="#555" stroke-width="1.2"/>
<path d="M114.2 732.1H134.6" stroke="#1f66ff" stroke-width="2.5"/>
<path d="M120.6 735.6L128.2 735.6L124.4 727.1Z" fill="none" stroke="#1f66ff" stroke-width="1.7"/>
<text x="137.8" y="738.3" font-size="16.8" font-family="DejaVu Sans Condensed, DejaVu Sans, Liberation Sans, sans-serif" fill="#111" stroke="#111" stroke-width=".25" textLength="183" lengthAdjust="spacingAndGlyphs">K_3.9_SAT_QUANTUM_NMOS</text>
<path d="M114.2 756.2H132.6" stroke="#151515" stroke-width="2.5"/>
<rect x="119.9" y="751.7" width="7.0" height="9.1" fill="none" stroke="#151515" stroke-width="1.9"/>
<text x="136.4" y="762.5" font-size="16.8" font-family="DejaVu Sans Condensed, DejaVu Sans, Liberation Sans, sans-serif" fill="#111" stroke="#111" stroke-width=".25" textLength="186.5" lengthAdjust="spacingAndGlyphs">K_3.9_SAT_CLASSICAL_NMOS</text>
<path d="M114.2 780.4H132.6" stroke="#151515" stroke-width="2.5"/>
<ellipse cx="123.4" cy="780.4" rx="2.8" ry="4.5" fill="none" stroke="#151515" stroke-width="1.9"/>
<text x="136.4" y="786.6" font-size="16.8" font-family="DejaVu Sans Condensed, DejaVu Sans, Liberation Sans, sans-serif" fill="#111" stroke="#111" stroke-width=".25" textLength="183.5" lengthAdjust="spacingAndGlyphs">K_3.9_LIN_CLASSICAL_NMOS</text>
<path d="M114.2 804.5H134.6" stroke="#1f66ff" stroke-width="2.5"/>
<path d="M120.5 801.1L128.3 801.1L124.4 809.9Z" fill="#1f66ff" fill-opacity=".35" stroke="#1f66ff" stroke-width="1.7"/>
<text x="137.8" y="810.8" font-size="16.8" font-family="DejaVu Sans Condensed, DejaVu Sans, Liberation Sans, sans-serif" fill="#111" stroke="#111" stroke-width=".25" textLength="179.5" lengthAdjust="spacingAndGlyphs">K_3.9_LIN_QUANTUM_NMOS</text>
<path d="M114.2 828.7H134.6" stroke="#1f66ff" stroke-width="2.5"/>
<path d="M120.5 825.2L128.3 825.2L124.4 834.0Z" fill="#1f66ff" fill-opacity=".35" stroke="#1f66ff" stroke-width="1.7"/>
<text x="137.8" y="834.9" font-size="16.8" font-family="DejaVu Sans Condensed, DejaVu Sans, Liberation Sans, sans-serif" fill="#111" stroke="#111" stroke-width=".25" textLength="179.5" lengthAdjust="spacingAndGlyphs">K_3.9_LIN_QUANTUM_NMOS</text>
<path d="M114.2 852.9H132.6" stroke="#151515" stroke-width="2.5"/>
<rect x="119.9" y="848.3" width="7.0" height="9.1" fill="none" stroke="#151515" stroke-width="1.9"/>
<text x="136.4" y="859.1" font-size="16.8" font-family="DejaVu Sans Condensed, DejaVu Sans, Liberation Sans, sans-serif" fill="#111" stroke="#111" stroke-width=".25" textLength="186.5" lengthAdjust="spacingAndGlyphs">K_3.9_SAT_CLASSICAL_NMOS</text>
<path d="M114.2 877.0H134.6" stroke="#1f66ff" stroke-width="2.5"/>
<path d="M120.6 880.5L128.2 880.5L124.4 872.0Z" fill="none" stroke="#4f72ea" stroke-width="1.7"/>
<text x="137.8" y="883.2" font-size="16.8" font-family="DejaVu Sans Condensed, DejaVu Sans, Liberation Sans, sans-serif" fill="#111" stroke="#111" stroke-width=".25" textLength="189.5" lengthAdjust="spacingAndGlyphs">K_3.9_SAT__QUANTUM_NMOS</text>
<path d="M114.2 901.1H132.6" stroke="#151515" stroke-width="2.5"/>
<ellipse cx="123.4" cy="901.1" rx="2.8" ry="4.5" fill="none" stroke="#151515" stroke-width="1.9"/>
<text x="136.4" y="907.4" font-size="16.8" font-family="DejaVu Sans Condensed, DejaVu Sans, Liberation Sans, sans-serif" fill="#111" stroke="#111" stroke-width=".25" textLength="183.5" lengthAdjust="spacingAndGlyphs">K_3.9_LIN_CLASSICAL_NMOS</text>
</g>
<text x="126.8" y="1115.4" font-size="40" font-family="Liberation Serif, serif" font-weight="700" fill="#000">c)</text>
</svg>
</body></html>
